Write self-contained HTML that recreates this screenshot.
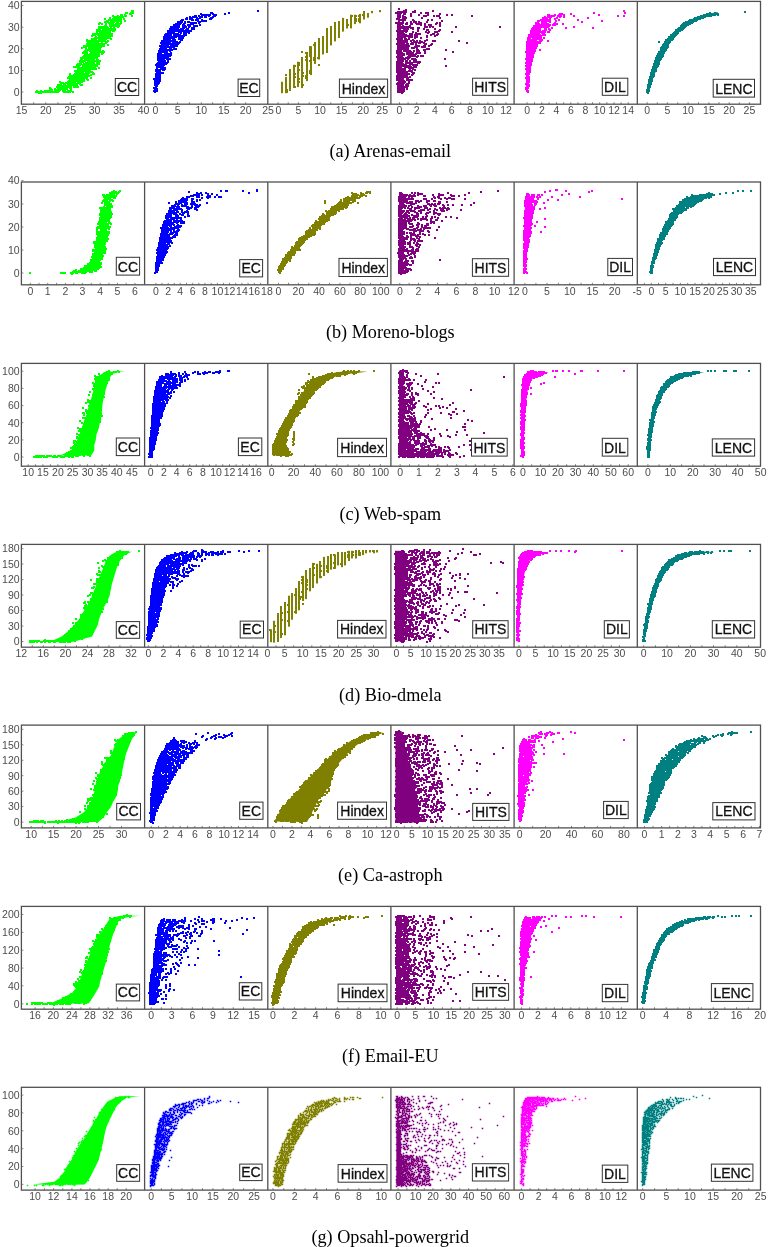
<!DOCTYPE html>
<html><head><meta charset="utf-8"><title>Figure</title>
<style>
html,body{margin:0;padding:0;background:#fff;width:770px;height:1247px;overflow:hidden}
svg{display:block}
.tk{font-family:"Liberation Sans",Arial,sans-serif;font-size:10.5px;fill:#4d4d4d}
.lg{font-family:"Liberation Sans",Arial,sans-serif;font-size:14px;fill:#111;stroke:#111;stroke-width:0.3}
.cap{font-family:"Liberation Serif","Times New Roman",serif;font-size:18.2px;fill:#000}
.fr{fill:none;stroke:#505050;stroke-width:1.3}
.tm{fill:none;stroke:#666;stroke-width:0.8}
</style></head><body>
<svg width="770" height="1247" viewBox="0 0 770 1247">
<rect width="100%" height="100%" fill="#fff"/>
<g><path d="M132 11h0m1 0h0m-1 1h0m1 0h0m-7 1h0m1 0h0m4 0h0m2 0h0m-3 1h0m1 0h0m-10 1h0m1 0h0m3 0h0m-12 1h0m5 0h0m3 0h0m4 0h0m1 0h0m6 0h0m-17 1h0m2 0h0m2 0h0m1 0h0m1 0h0m2 0h0m-13 1h0m4 0h0m1 0h0m3 0h0m-13 1h0m8 0h0m4 0h0m2 0h0m2 0h0m3 0h0m-15 1h0m1 0h0m1 0h0m3 0h0m1 0h0m2 0h0m-10 1h0m5 0h0m3 0h0m4 0h0m1 0h0m1 0h0m4 0h0m-20 1h0m3 0h0m3 0h0m1 0h0m2 0h0m3 0h0m-17 1h0m6 0h0m3 0h0m2 0h0m1 0h0m5 0h0m1 0h0m3 0h0m-22 1h0m3 0h0m8 0h0m1 0h0m1 0h0m1 0h0m3 0h0m4 0h0m-14 1h0m6 0h0m3 0h0m2 0h0m2 0h0m-14 1h0m1 0h0m4 0h0m3 0h0m1 0h0m2 0h0m1 0h0m2 0h0m-20 1h0m2 0h0m2 0h0m1 0h0m1 0h0m2 0h0m4 0h0m7 0h0m-19 1h0m1 0h0m1 0h0m2 0h0m1 0h0m1 0h0m3 0h0m3 0h0m3 0h0m-15 1h0m4 0h0m4 0h0m1 0h0m1 0h0m2 0h0m2 0h0m1 0h0m1 0h0m-18 1h0m1 0h0m1 0h0m1 0h0m3 0h0m2 0h0m1 0h0m1 0h0m2 0h0m1 0h0m2 0h0m3 0h0m-18 1h0m1 0h0m2 0h0m1 0h0m1 0h0m2 0h0m1 0h0m1 0h0m2 0h0m1 0h0m1 0h0m3 0h0m1 0h0m-14 1h0m1 0h0m2 0h0m3 0h0m1 0h0m1 0h0m-11 1h0m7 0h0m1 0h0m1 0h0m3 0h0m1 0h0m-17 1h0m2 0h0m2 0h0m2 0h0m2 0h0m1 0h0m2 0h0m1 0h0m3 0h0m1 0h0m1 0h0m2 0h0m-18 1h0m1 0h0m3 0h0m4 0h0m2 0h0m1 0h0m1 0h0m1 0h0m3 0h0m2 0h0m-20 1h0m7 0h0m2 0h0m1 0h0m2 0h0m4 0h0m4 0h0m-16 1h0m3 0h0m2 0h0m2 0h0m1 0h0m2 0h0m2 0h0m1 0h0m1 0h0m-15 1h0m1 0h0m1 0h0m1 0h0m1 0h0m9 0h0m1 0h0m-17 1h0m2 0h0m1 0h0m4 0h0m1 0h0m2 0h0m2 0h0m2 0h0m5 0h0m-24 1h0m9 0h0m3 0h0m3 0h0m2 0h0m1 0h0m-18 1h0m2 0h0m1 0h0m2 0h0m2 0h0m1 0h0m1 0h0m2 0h0m2 0h0m1 0h0m3 0h0m1 0h0m3 0h0m-20 1h0m2 0h0m2 0h0m2 0h0m2 0h0m1 0h0m1 0h0m4 0h0m5 0h0m-15 1h0m1 0h0m2 0h0m1 0h0m1 0h0m5 0h0m4 0h0m-19 1h0m1 0h0m1 0h0m1 0h0m1 0h0m4 0h0m1 0h0m2 0h0m2 0h0m1 0h0m3 0h0m-16 1h0m4 0h0m1 0h0m1 0h0m1 0h0m3 0h0m2 0h0m3 0h0m5 0h0m-24 1h0m1 0h0m2 0h0m2 0h0m2 0h0m1 0h0m1 0h0m2 0h0m1 0h0m1 0h0m1 0h0m4 0h0m1 0h0m1 0h0m-20 1h0m1 0h0m4 0h0m1 0h0m1 0h0m1 0h0m1 0h0m1 0h0m1 0h0m1 0h0m1 0h0m1 0h0m2 0h0m1 0h0m-19 1h0m4 0h0m4 0h0m3 0h0m2 0h0m2 0h0m1 0h0m1 0h0m-10 1h0m1 0h0m2 0h0m1 0h0m1 0h0m1 0h0m1 0h0m1 0h0m3 0h0m-14 1h0m1 0h0m2 0h0m3 0h0m2 0h0m3 0h0m1 0h0m-13 1h0m5 0h0m2 0h0m1 0h0m1 0h0m1 0h0m2 0h0m1 0h0m2 0h0m3 0h0m-19 1h0m1 0h0m2 0h0m4 0h0m1 0h0m1 0h0m1 0h0m1 0h0m1 0h0m2 0h0m3 0h0m1 0h0m2 0h0m-21 1h0m9 0h0m1 0h0m1 0h0m1 0h0m4 0h0m4 0h0m-18 1h0m1 0h0m1 0h0m3 0h0m2 0h0m1 0h0m3 0h0m1 0h0m1 0h0m1 0h0m3 0h0m-17 1h0m1 0h0m3 0h0m1 0h0m1 0h0m1 0h0m2 0h0m3 0h0m1 0h0m-14 1h0m3 0h0m1 0h0m3 0h0m2 0h0m2 0h0m1 0h0m2 0h0m1 0h0m-16 1h0m3 0h0m1 0h0m1 0h0m1 0h0m1 0h0m1 0h0m1 0h0m1 0h0m1 0h0m1 0h0m2 0h0m-16 1h0m1 0h0m1 0h0m2 0h0m2 0h0m1 0h0m1 0h0m1 0h0m3 0h0m2 0h0m-14 1h0m4 0h0m1 0h0m1 0h0m2 0h0m2 0h0m3 0h0m3 0h0m-15 1h0m5 0h0m1 0h0m1 0h0m3 0h0m1 0h0m1 0h0m3 0h0m1 0h0m-18 1h0m2 0h0m1 0h0m1 0h0m1 0h0m3 0h0m2 0h0m1 0h0m3 0h0m1 0h0m5 0h0m-17 1h0m5 0h0m1 0h0m1 0h0m1 0h0m1 0h0m5 0h0m2 0h0m-19 1h0m1 0h0m5 0h0m1 0h0m2 0h0m1 0h0m1 0h0m1 0h0m1 0h0m1 0h0m-16 1h0m3 0h0m3 0h0m1 0h0m1 0h0m1 0h0m2 0h0m1 0h0m2 0h0m5 0h0m2 0h0m-22 1h0m3 0h0m3 0h0m3 0h0m1 0h0m1 0h0m1 0h0m1 0h0m2 0h0m2 0h0m1 0h0m2 0h0m-19 1h0m1 0h0m4 0h0m1 0h0m1 0h0m1 0h0m3 0h0m1 0h0m2 0h0m1 0h0m1 0h0m3 0h0m-23 1h0m2 0h0m2 0h0m1 0h0m4 0h0m1 0h0m1 0h0m1 0h0m2 0h0m2 0h0m2 0h0m1 0h0m1 0h0m1 0h0m-15 1h0m1 0h0m2 0h0m1 0h0m1 0h0m1 0h0m1 0h0m1 0h0m3 0h0m2 0h0m6 0h0m-21 1h0m2 0h0m1 0h0m2 0h0m3 0h0m2 0h0m1 0h0m1 0h0m2 0h0m2 0h0m1 0h0m1 0h0m-18 1h0m3 0h0m3 0h0m1 0h0m2 0h0m1 0h0m1 0h0m-14 1h0m1 0h0m3 0h0m1 0h0m2 0h0m1 0h0m1 0h0m2 0h0m1 0h0m3 0h0m-14 1h0m1 0h0m2 0h0m1 0h0m1 0h0m1 0h0m1 0h0m3 0h0m2 0h0m1 0h0m1 0h0m2 0h0m-15 1h0m1 0h0m2 0h0m3 0h0m3 0h0m1 0h0m2 0h0m4 0h0m-23 1h0m5 0h0m2 0h0m4 0h0m1 0h0m2 0h0m1 0h0m1 0h0m1 0h0m6 0h0m1 0h0m-24 1h0m4 0h0m1 0h0m1 0h0m1 0h0m1 0h0m2 0h0m1 0h0m2 0h0m1 0h0m4 0h0m3 0h0m-19 1h0m1 0h0m1 0h0m1 0h0m2 0h0m3 0h0m1 0h0m1 0h0m1 0h0m3 0h0m1 0h0m1 0h0m1 0h0m-20 1h0m2 0h0m2 0h0m2 0h0m1 0h0m3 0h0m1 0h0m1 0h0m1 0h0m2 0h0m1 0h0m2 0h0m-19 1h0m2 0h0m1 0h0m1 0h0m1 0h0m1 0h0m1 0h0m1 0h0m2 0h0m2 0h0m2 0h0m1 0h0m2 0h0m2 0h0m4 0h0m-21 1h0m5 0h0m1 0h0m2 0h0m3 0h0m3 0h0m3 0h0m-17 1h0m1 0h0m2 0h0m1 0h0m1 0h0m1 0h0m1 0h0m1 0h0m2 0h0m2 0h0m1 0h0m5 0h0m-19 1h0m4 0h0m1 0h0m2 0h0m1 0h0m3 0h0m2 0h0m1 0h0m1 0h0m-24 1h0m8 0h0m1 0h0m2 0h0m2 0h0m1 0h0m1 0h0m3 0h0m2 0h0m1 0h0m1 0h0m-21 1h0m2 0h0m3 0h0m2 0h0m1 0h0m1 0h0m1 0h0m1 0h0m1 0h0m1 0h0m4 0h0m1 0h0m1 0h0m-16 1h0m1 0h0m3 0h0m1 0h0m1 0h0m1 0h0m1 0h0m1 0h0m3 0h0m1 0h0m3 0h0m-22 1h0m1 0h0m2 0h0m3 0h0m1 0h0m3 0h0m2 0h0m1 0h0m1 0h0m1 0h0m2 0h0m6 0h0m1 0h0m-22 1h0m3 0h0m1 0h0m3 0h0m2 0h0m1 0h0m1 0h0m6 0h0m-20 1h0m1 0h0m2 0h0m2 0h0m1 0h0m1 0h0m2 0h0m1 0h0m1 0h0m1 0h0m2 0h0m3 0h0m2 0h0m2 0h0m-28 1h0m8 0h0m2 0h0m1 0h0m2 0h0m1 0h0m1 0h0m1 0h0m1 0h0m3 0h0m-19 1h0m4 0h0m3 0h0m2 0h0m1 0h0m1 0h0m1 0h0m3 0h0m1 0h0m4 0h0m-21 1h0m2 0h0m3 0h0m1 0h0m2 0h0m1 0h0m1 0h0m5 0h0m-28 1h0m4 0h0m4 0h0m2 0h0m2 0h0m1 0h0m2 0h0m3 0h0m2 0h0m1 0h0m1 0h0m4 0h0m5 0h0m2 0h0m1 0h0m-35 1h0m1 0h0m2 0h0m2 0h0m1 0h0m1 0h0m1 0h0m2 0h0m1 0h0m2 0h0m2 0h0m1 0h0m1 0h0m1 0h0m2 0h0m1 0h0m1 0h0m6 0h0m1 0h0m1 0h0m1 0h0m1 0h0m1 0h0m1 0h0m3 0h0m-34 1h0m2 0h0" stroke="#00ff00" stroke-width="2" stroke-linecap="square" fill="none"/><rect x="115.3" y="78.5" width="23.4" height="17" fill="#fff" stroke="#333" stroke-width="1"/><text x="127" y="91.9" class="lg" text-anchor="middle">CC</text><text x="21.6" y="114.1" class="tk" text-anchor="middle">15</text><text x="45.8" y="114.1" class="tk" text-anchor="middle">20</text><text x="70.2" y="114.1" class="tk" text-anchor="middle">25</text><text x="94.6" y="114.1" class="tk" text-anchor="middle">30</text><text x="119" y="114.1" class="tk" text-anchor="middle">35</text><text x="143.6" y="114.1" class="tk" text-anchor="middle">40</text><path d="M45.8 104.2v-2" class="tm"/><path d="M70.2 104.2v-2" class="tm"/><path d="M94.6 104.2v-2" class="tm"/><path d="M119 104.2v-2" class="tm"/><path d="M33.7 104.2v-2" class="tm"/><path d="M58 104.2v-2" class="tm"/><path d="M82.4 104.2v-2" class="tm"/><path d="M106.8 104.2v-2" class="tm"/><path d="M131.3 104.2v-2" class="tm"/><path d="M258 11h0m-47 2h0m1 0h0m17 0h0m-28 1h0m12 0h0m12 0h0m-23 1h0m1 0h0m2 0h0m1 0h0m2 0h0m2 0h0m4 0h0m2 0h0m-21 1h0m1 0h0m3 0h0m3 0h0m4 0h0m3 0h0m6 0h0m-25 1h0m3 0h0m2 0h0m5 0h0m2 0h0m3 0h0m1 0h0m7 0h0m-26 1h0m5 0h0m5 0h0m3 0h0m11 0h0m1 0h0m-26 1h0m1 0h0m3 0h0m8 0h0m12 0h0m1 0h0m-29 1h0m1 0h0m9 0h0m1 0h0m3 0h0m6 0h0m-21 1h0m1 0h0m16 0h0m4 0h0m2 0h0m2 0h0m-28 1h0m1 0h0m1 0h0m2 0h0m3 0h0m3 0h0m1 0h0m10 0h0m1 0h0m-22 1h0m3 0h0m4 0h0m6 0h0m1 0h0m2 0h0m2 0h0m3 0h0m-23 1h0m3 0h0m1 0h0m4 0h0m7 0h0m2 0h0m-19 1h0m2 0h0m1 0h0m6 0h0m1 0h0m4 0h0m1 0h0m11 0h0m-26 1h0m2 0h0m1 0h0m2 0h0m4 0h0m2 0h0m5 0h0m4 0h0m1 0h0m1 0h0m1 0h0m-26 1h0m2 0h0m3 0h0m2 0h0m1 0h0m4 0h0m3 0h0m3 0h0m5 0h0m-22 1h0m1 0h0m1 0h0m1 0h0m1 0h0m2 0h0m5 0h0m1 0h0m8 0h0m-22 1h0m1 0h0m1 0h0m1 0h0m3 0h0m2 0h0m3 0h0m1 0h0m1 0h0m4 0h0m1 0h0m4 0h0m1 0h0m1 0h0m-23 1h0m3 0h0m2 0h0m3 0h0m7 0h0m-18 1h0m1 0h0m2 0h0m2 0h0m1 0h0m1 0h0m1 0h0m1 0h0m2 0h0m2 0h0m1 0h0m2 0h0m4 0h0m1 0h0m2 0h0m-23 1h0m1 0h0m2 0h0m1 0h0m1 0h0m1 0h0m5 0h0m6 0h0m2 0h0m-19 1h0m3 0h0m1 0h0m1 0h0m8 0h0m3 0h0m2 0h0m3 0h0m-23 1h0m1 0h0m2 0h0m1 0h0m1 0h0m3 0h0m2 0h0m1 0h0m1 0h0m8 0h0m-21 1h0m1 0h0m1 0h0m2 0h0m1 0h0m1 0h0m3 0h0m2 0h0m1 0h0m2 0h0m1 0h0m4 0h0m2 0h0m-21 1h0m1 0h0m1 0h0m1 0h0m2 0h0m1 0h0m5 0h0m1 0h0m2 0h0m1 0h0m2 0h0m1 0h0m1 0h0m-20 1h0m1 0h0m1 0h0m1 0h0m2 0h0m1 0h0m1 0h0m1 0h0m1 0h0m1 0h0m2 0h0m3 0h0m-15 1h0m1 0h0m1 0h0m1 0h0m5 0h0m2 0h0m7 0h0m2 0h0m-19 1h0m1 0h0m2 0h0m1 0h0m1 0h0m1 0h0m4 0h0m5 0h0m-15 1h0m1 0h0m1 0h0m2 0h0m2 0h0m3 0h0m2 0h0m6 0h0m1 0h0m-20 1h0m1 0h0m1 0h0m1 0h0m1 0h0m1 0h0m1 0h0m3 0h0m2 0h0m1 0h0m-10 1h0m1 0h0m1 0h0m1 0h0m1 0h0m1 0h0m1 0h0m3 0h0m2 0h0m1 0h0m1 0h0m3 0h0m-19 1h0m1 0h0m3 0h0m1 0h0m2 0h0m2 0h0m3 0h0m2 0h0m1 0h0m1 0h0m2 0h0m-17 1h0m1 0h0m1 0h0m1 0h0m2 0h0m1 0h0m1 0h0m1 0h0m1 0h0m3 0h0m2 0h0m2 0h0m-16 1h0m1 0h0m2 0h0m6 0h0m1 0h0m2 0h0m2 0h0m-16 1h0m1 0h0m1 0h0m2 0h0m3 0h0m1 0h0m8 0h0m1 0h0m-16 1h0m4 0h0m1 0h0m1 0h0m2 0h0m1 0h0m1 0h0m1 0h0m1 0h0m1 0h0m-13 1h0m2 0h0m1 0h0m2 0h0m5 0h0m-11 1h0m1 0h0m1 0h0m1 0h0m1 0h0m1 0h0m1 0h0m4 0h0m1 0h0m3 0h0m1 0h0m1 0h0m-15 1h0m1 0h0m1 0h0m4 0h0m1 0h0m1 0h0m1 0h0m2 0h0m-13 1h0m1 0h0m3 0h0m1 0h0m1 0h0m2 0h0m3 0h0m-11 1h0m2 0h0m2 0h0m2 0h0m-6 1h0m1 0h0m1 0h0m6 0h0m4 0h0m-13 1h0m3 0h0m4 0h0m1 0h0m2 0h0m1 0h0m1 0h0m1 0h0m-12 1h0m2 0h0m1 0h0m1 0h0m1 0h0m1 0h0m1 0h0m5 0h0m-13 1h0m1 0h0m3 0h0m1 0h0m3 0h0m2 0h0m1 0h0m1 0h0m-12 1h0m1 0h0m2 0h0m1 0h0m2 0h0m1 0h0m3 0h0m-8 1h0m1 0h0m2 0h0m1 0h0m1 0h0m1 0h0m1 0h0m1 0h0m-10 1h0m1 0h0m4 0h0m1 0h0m3 0h0m1 0h0m1 0h0m1 0h0m-12 1h0m1 0h0m2 0h0m2 0h0m1 0h0m4 0h0m-8 1h0m1 0h0m3 0h0m1 0h0m-6 1h0m3 0h0m1 0h0m2 0h0m3 0h0m-10 1h0m1 0h0m1 0h0m2 0h0m1 0h0m2 0h0m2 0h0m-10 1h0m1 0h0m1 0h0m1 0h0m1 0h0m3 0h0m2 0h0m-10 1h0m1 0h0m1 0h0m1 0h0m1 0h0m1 0h0m1 0h0m2 0h0m-6 1h0m2 0h0m1 0h0m1 0h0m-5 1h0m1 0h0m1 0h0m2 0h0m2 0h0m-6 1h0m7 0h0m1 0h0m-8 1h0m4 0h0m1 0h0m1 0h0m2 0h0m-9 1h0m1 0h0m1 0h0m1 0h0m1 0h0m3 0h0m1 0h0m-8 1h0m1 1h0m1 0h0m1 0h0m1 0h0m-3 1h0m2 0h0m2 0h0m1 0h0m1 0h0m-7 1h0m2 0h0m1 0h0m1 0h0m-3 1h0m1 0h0m1 0h0m1 0h0m-4 1h0m1 0h0m2 0h0m1 0h0m-4 1h0m3 0h0m-3 1h0m1 0h0m1 0h0m1 0h0m1 0h0m-6 1h0m1 0h0m1 0h0m1 0h0m2 0h0m1 0h0m-5 1h0m1 0h0m1 0h0m3 0h0m-5 1h0m1 0h0m1 0h0m1 0h0m2 0h0m-5 1h0m1 0h0m1 0h0m2 0h0m-4 1h0m1 0h0m3 0h0m-4 1h0m3 0h0m-3 1h0m1 0h0m0 1h0m1 0h0m-3 2h0m1 0h0m1 0h0m0 1h0m1 0h0m-2 1h0m1 0h0m-2 1h0m1 0h0m1 0h0m1 0h0m-2 1h0" stroke="#0000ff" stroke-width="2" stroke-linecap="square" fill="none"/><rect x="238.1" y="79.1" width="21.6" height="17.4" fill="#fff" stroke="#333" stroke-width="1"/><text x="248.9" y="92.9" class="lg" text-anchor="middle">EC</text><text x="155.5" y="114.1" class="tk" text-anchor="middle">0</text><text x="177.6" y="114.1" class="tk" text-anchor="middle">5</text><text x="201.3" y="114.1" class="tk" text-anchor="middle">10</text><text x="223.8" y="114.1" class="tk" text-anchor="middle">15</text><text x="245.7" y="114.1" class="tk" text-anchor="middle">20</text><text x="268" y="114.1" class="tk" text-anchor="middle">25</text><path d="M155.5 104.2v-2" class="tm"/><path d="M177.6 104.2v-2" class="tm"/><path d="M201.3 104.2v-2" class="tm"/><path d="M223.8 104.2v-2" class="tm"/><path d="M245.7 104.2v-2" class="tm"/><path d="M166.6 104.2v-2" class="tm"/><path d="M189.4 104.2v-2" class="tm"/><path d="M212.6 104.2v-2" class="tm"/><path d="M234.8 104.2v-2" class="tm"/><rect x="281" y="81.8" width="2" height="11.4" fill="#808000"/><rect x="285" y="76.9" width="2" height="16.3" fill="#808000"/><rect x="289" y="69.7" width="2" height="21.3" fill="#808000"/><rect x="293" y="64.8" width="2" height="23.2" fill="#808000"/><rect x="297" y="61.7" width="2" height="25.4" fill="#808000"/><rect x="301" y="57.1" width="2" height="31" fill="#808000"/><rect x="306" y="51.9" width="2" height="29.2" fill="#808000"/><rect x="310" y="46.2" width="2" height="28.9" fill="#808000"/><rect x="314" y="42.4" width="2" height="21.5" fill="#808000"/><rect x="318" y="38.6" width="2" height="20.9" fill="#808000"/><rect x="322" y="36" width="2" height="18.4" fill="#808000"/><rect x="326" y="28.6" width="2" height="24.1" fill="#808000"/><rect x="330" y="26" width="2" height="19.4" fill="#808000"/><rect x="334" y="22.5" width="2" height="18.9" fill="#808000"/><rect x="338" y="21.7" width="2" height="16.3" fill="#808000"/><rect x="342" y="17.9" width="2" height="13.7" fill="#808000"/><rect x="346" y="19.1" width="2" height="9.4" fill="#808000"/><rect x="350" y="14.7" width="2" height="13.7" fill="#808000"/><rect x="354" y="14.7" width="2" height="9.4" fill="#808000"/><rect x="359" y="13.9" width="2" height="9.4" fill="#808000"/><rect x="363" y="11.3" width="2" height="8.2" fill="#808000"/><rect x="367" y="13" width="2" height="4.7" fill="#808000"/><rect x="371" y="10.9" width="2" height="2.3" fill="#808000"/><rect x="379" y="10.4" width="2" height="1.8" fill="#808000"/><path d="M380 11h0m-16 1h0m8 0h0m-4 2h0m-8 1h0m3 0h0m-11 1h0m4 0h0m3 0h0m-8 2h0m13 0h0m-21 1h0m13 0h0m3 0h0m-12 1h0m4 0h0m5 1h0m3 0h0m-20 1h0m4 0h0m4 0h0m-12 1h0m16 0h0m-8 1h0m-4 1h0m9 0h0m3 1h0m-20 1h0m4 0h0m8 0h0m4 0h0m-8 1h0m-12 1h0m4 0h0m12 0h0m-12 1h0m4 0h0m-8 2h0m8 0h0m4 0h0m-8 2h0m4 0h0m4 0h0m-12 1h0m12 1h0m-16 1h0m8 0h0m4 0h0m-8 1h0m-8 1h0m12 0h0m4 0h0m-12 1h0m4 1h0m-8 1h0m4 0h0m8 0h0m-16 1h0m12 0h0m-8 1h0m12 0h0m-17 1h0m9 1h0m4 0h0m-17 1h0m5 1h0m4 0h0m4 0h0m-13 1h0m17 0h0m-17 1h0m5 0h0m8 0h0m-4 1h0m-17 1h0m8 0h0m5 0h0m8 0h0m4 0h0m-21 1h0m4 1h0m9 0h0m-12 1h0m8 0h0m-5 1h0m9 0h0m-13 1h0m-4 1h0m12 0h0m4 0h0m-7 1h0m-9 1h0m4 0h0m8 0h0m-4 1h0m-8 1h0m5 0h0m-8 1h0m12 0h0m-12 2h0m3 0h0m5 0h0m4 0h0m8 0h0m-24 1h0m3 1h0m4 0h0m5 1h0m-13 1h0m13 0h0m4 0h0m-21 1h0m9 0h0m3 0h0m-8 1h0m16 0h0m-20 1h0m17 0h0m-9 1h0m5 0h0m7 0h0m-15 1h0m-9 1h0m4 0h0m8 1h0m5 0h0m3 0h0m-11 1h0m-9 1h0m4 0h0m4 0h0m12 0h0m-20 1h0m13 0h0m3 0h0m-12 1h0m4 1h0m-4 1h0m9 0h0m3 0h0m-20 1h0m4 0h0m-4 1h0m8 0h0m4 0h0m4 0h0m-12 1h0m17 0h0m-21 1h0m8 0h0m5 1h0m7 0h0m-20 1h0m4 0h0m4 1h0m-3 1h0m-5 1h0m5 1h0" stroke="#808000" stroke-width="2" stroke-linecap="square" fill="none"/><rect x="339.4" y="79.1" width="48.2" height="18.3" fill="#fff" stroke="#333" stroke-width="1"/><text x="363.5" y="93.8" class="lg" text-anchor="middle">Hindex</text><text x="278.4" y="114.1" class="tk" text-anchor="middle">0</text><text x="298.4" y="114.1" class="tk" text-anchor="middle">5</text><text x="320" y="114.1" class="tk" text-anchor="middle">10</text><text x="341.6" y="114.1" class="tk" text-anchor="middle">15</text><text x="363.2" y="114.1" class="tk" text-anchor="middle">20</text><text x="382.2" y="114.1" class="tk" text-anchor="middle">25</text><path d="M278 104.2v-2" class="tm"/><path d="M298.4 104.2v-2" class="tm"/><path d="M320 104.2v-2" class="tm"/><path d="M341.6 104.2v-2" class="tm"/><path d="M363.2 104.2v-2" class="tm"/><path d="M382.2 104.2v-2" class="tm"/><path d="M288.2 104.2v-2" class="tm"/><path d="M309.2 104.2v-2" class="tm"/><path d="M330.8 104.2v-2" class="tm"/><path d="M352.4 104.2v-2" class="tm"/><path d="M372.7 104.2v-2" class="tm"/><polygon points="398.4,60.4 398.4,92.4 402.9,92.4 401.5,60.4" fill="#800080"/><path d="M399 9h0m7 1h0m-2 1h0m11 0h0m18 0h0m-35 1h0m1 0h0m1 0h0m2 0h0m2 0h0m2 0h0m7 0h0m2 0h0m-19 1h0m2 0h0m2 0h0m1 0h0m3 0h0m1 0h0m16 0h0m5 0h0m2 0h0m-29 1h0m5 0h0m1 0h0m6 0h0m29 0h0m-42 1h0m1 0h0m1 0h0m19 0h0m9 0h0m19 0h0m5 0h0m-54 1h0m1 0h0m4 0h0m8 0h0m13 0h0m2 0h0m8 0h0m3 0h0m2 0h0m33 0h0m-73 1h0m1 0h0m5 0h0m-7 1h0m1 0h0m4 0h0m1 0h0m2 0h0m16 0h0m18 0h0m-43 1h0m1 0h0m5 0h0m-4 1h0m1 0h0m2 0h0m1 0h0m2 0h0m8 0h0m15 0h0m4 0h0m-33 1h0m4 0h0m11 0h0m28 0h0m-31 1h0m3 0h0m2 0h0m3 0h0m8 0h0m-31 1h0m1 0h0m1 0h0m2 0h0m2 0h0m1 0h0m4 0h0m9 0h0m5 0h0m16 0h0m3 0h0m-41 1h0m1 0h0m2 0h0m4 0h0m1 0h0m4 0h0m1 0h0m5 0h0m1 0h0m2 0h0m5 0h0m11 0h0m4 0h0m-42 1h0m1 0h0m22 0h0m8 0h0m2 0h0m-33 1h0m1 0h0m1 0h0m3 0h0m7 0h0m15 0h0m6 0h0m9 0h0m-41 1h0m1 0h0m1 0h0m3 0h0m1 0h0m2 0h0m2 0h0m16 0h0m2 0h0m3 0h0m3 0h0m23 0h0m44 0h0m-102 1h0m1 0h0m1 0h0m1 0h0m1 0h0m3 0h0m2 0h0m4 0h0m2 0h0m5 0h0m1 0h0m-20 1h0m1 0h0m4 0h0m3 0h0m1 0h0m5 0h0m5 0h0m6 0h0m11 0h0m-37 1h0m1 0h0m1 0h0m4 0h0m1 0h0m13 0h0m9 0h0m1 0h0m12 0h0m-43 1h0m1 0h0m1 0h0m1 0h0m1 0h0m1 0h0m3 0h0m1 0h0m1 0h0m11 0h0m21 0h0m-41 1h0m1 0h0m2 0h0m1 0h0m1 0h0m3 0h0m7 0h0m13 0h0m3 0h0m6 0h0m2 0h0m15 0h0m-54 1h0m1 0h0m1 0h0m1 0h0m15 0h0m12 0h0m-30 1h0m2 0h0m1 0h0m1 0h0m2 0h0m6 0h0m2 0h0m5 0h0m1 0h0m2 0h0m13 0h0m1 0h0m4 0h0m-40 1h0m2 0h0m1 0h0m1 0h0m2 0h0m2 0h0m4 0h0m5 0h0m2 0h0m14 0h0m6 0h0m-39 1h0m1 0h0m2 0h0m3 0h0m3 0h0m1 0h0m4 0h0m3 0h0m12 0h0m8 0h0m-37 1h0m1 0h0m1 0h0m1 0h0m1 0h0m1 0h0m1 0h0m1 0h0m5 0h0m2 0h0m4 0h0m1 0h0m10 0h0m-29 1h0m1 0h0m1 0h0m1 0h0m1 0h0m7 0h0m6 0h0m6 0h0m-24 1h0m1 0h0m2 0h0m1 0h0m1 0h0m3 0h0m1 0h0m3 0h0m-11 1h0m1 0h0m1 0h0m1 0h0m4 0h0m1 0h0m1 0h0m6 0h0m14 0h0m-29 1h0m1 0h0m1 0h0m2 0h0m1 0h0m1 0h0m2 0h0m1 0h0m4 0h0m3 0h0m3 0h0m3 0h0m5 0h0m8 0h0m2 0h0m24 0h0m-61 1h0m1 0h0m1 0h0m1 0h0m2 0h0m1 0h0m2 0h0m1 0h0m7 0h0m1 0h0m2 0h0m5 0h0m-24 1h0m1 0h0m1 0h0m2 0h0m2 0h0m8 0h0m4 0h0m3 0h0m1 0h0m4 0h0m43 0h0m-70 1h0m1 0h0m1 0h0m3 0h0m5 0h0m1 0h0m3 0h0m2 0h0m13 0h0m6 0h0m-33 1h0m2 0h0m2 0h0m1 0h0m1 0h0m11 0h0m9 0h0m6 0h0m-33 1h0m1 0h0m1 0h0m2 0h0m3 0h0m2 0h0m1 0h0m1 0h0m8 0h0m2 0h0m5 0h0m5 0h0m-31 1h0m3 0h0m2 0h0m1 0h0m4 0h0m7 0h0m2 0h0m5 0h0m2 0h0m1 0h0m-27 1h0m1 0h0m1 0h0m1 0h0m2 0h0m1 0h0m2 0h0m6 0h0m2 0h0m3 0h0m-19 1h0m1 0h0m1 0h0m1 0h0m1 0h0m1 0h0m4 0h0m1 0h0m9 0h0m10 0h0m2 0h0m-31 1h0m1 0h0m1 0h0m1 0h0m3 0h0m1 0h0m12 0h0m1 0h0m6 0h0m1 0h0m21 0h0m-49 1h0m1 0h0m1 0h0m1 0h0m4 0h0m1 0h0m1 0h0m1 0h0m2 0h0m1 0h0m4 0h0m5 0h0m-22 1h0m1 0h0m1 0h0m1 0h0m1 0h0m6 0h0m1 0h0m1 0h0m2 0h0m6 0h0m8 0h0m28 0h0m-56 1h0m2 0h0m1 0h0m1 0h0m1 0h0m5 0h0m6 0h0m4 0h0m1 0h0m2 0h0m5 0h0m-27 1h0m1 0h0m1 0h0m4 0h0m3 0h0m1 0h0m1 0h0m2 0h0m2 0h0m3 0h0m-18 1h0m1 0h0m1 0h0m1 0h0m2 0h0m1 0h0m5 0h0m6 0h0m-17 1h0m1 0h0m1 0h0m1 0h0m1 0h0m8 0h0m1 0h0m2 0h0m2 0h0m3 0h0m3 0h0m2 0h0m-26 1h0m1 0h0m1 0h0m9 0h0m2 0h0m7 0h0m-19 1h0m1 0h0m2 0h0m1 0h0m1 0h0m3 0h0m2 0h0m1 0h0m-11 1h0m1 0h0m1 0h0m1 0h0m2 0h0m2 0h0m3 0h0m4 0h0m1 0h0m1 0h0m1 0h0m30 0h0m-47 1h0m1 0h0m3 0h0m14 0h0m-18 1h0m1 0h0m1 0h0m1 0h0m1 0h0m1 0h0m3 0h0m1 0h0m3 0h0m4 0h0m1 0h0m1 0h0m-19 1h0m1 0h0m1 0h0m1 0h0m1 0h0m13 0h0m1 0h0m1 0h0m2 0h0m2 0h0m-23 1h0m1 0h0m1 0h0m1 0h0m1 0h0m1 0h0m4 0h0m2 0h0m1 0h0m2 0h0m1 0h0m6 0h0m1 0h0m-21 1h0m1 0h0m2 0h0m2 0h0m3 0h0m5 0h0m1 0h0m-15 1h0m1 0h0m1 0h0m1 0h0m1 0h0m1 0h0m2 0h0m2 0h0m4 0h0m3 0h0m1 0h0m1 0h0m2 0h0m-20 1h0m1 0h0m1 0h0m1 0h0m1 0h0m1 0h0m2 0h0m2 0h0m2 0h0m38 0h0m-48 1h0m1 0h0m1 0h0m1 0h0m5 0h0m1 0h0m2 0h0m1 0h0m1 0h0m3 0h0m1 0h0m1 0h0m-19 1h0m2 0h0m1 0h0m1 0h0m4 0h0m4 0h0m1 0h0m1 0h0m1 0h0m-15 1h0m1 0h0m1 0h0m1 0h0m1 0h0m1 0h0m1 0h0m2 0h0m5 0h0m3 0h0m-15 1h0m1 0h0m1 0h0m1 0h0m1 0h0m13 0h0m-18 1h0m1 0h0m1 0h0m1 0h0m1 0h0m2 0h0m2 0h0m4 0h0m1 0h0m2 0h0m-15 1h0m2 0h0m1 0h0m2 0h0m1 0h0m2 0h0m2 0h0m5 0h0m-14 1h0m1 0h0m1 0h0m1 0h0m2 0h0m2 0h0m1 0h0m8 0h0m-16 1h0m1 0h0m1 0h0m1 0h0m1 0h0m1 0h0m2 0h0m2 0h0m1 0h0m1 0h0m4 0h0m-15 1h0m1 0h0m2 0h0m1 0h0m1 0h0m2 0h0m2 0h0m5 0h0m-15 1h0m1 0h0m1 0h0m1 0h0m1 0h0m1 0h0m2 0h0m-6 1h0m1 0h0m1 0h0m2 0h0m1 0h0m1 0h0m1 0h0m1 0h0m1 0h0m3 0h0m-13 1h0m1 0h0m1 0h0m1 0h0m1 0h0m1 0h0m1 0h0m5 0h0m-11 1h0m1 0h0m1 0h0m1 0h0m1 0h0m1 0h0m5 0h0m1 0h0m-11 1h0m1 0h0m1 0h0m1 0h0m1 0h0m1 0h0m1 0h0m4 0h0m2 0h0m2 0h0m1 0h0m-13 1h0m1 0h0m1 0h0m1 0h0m2 0h0m5 0h0m-10 1h0m1 0h0m1 0h0m1 0h0m1 0h0m1 0h0m1 0h0m-7 1h0m1 0h0m1 0h0m1 0h0m1 0h0m1 0h0m1 0h0m5 0h0m-12 1h0m1 0h0m1 0h0m1 0h0m1 0h0m1 0h0m1 0h0m4 0h0m1 0h0m-10 1h0m1 0h0m1 0h0m1 0h0m1 0h0m4 0h0m1 0h0m-9 1h0m1 0h0m1 0h0m1 0h0m1 0h0m1 0h0m3 0h0m2 0h0m-10 1h0m1 0h0m1 0h0m1 0h0m1 0h0m2 0h0m1 0h0m1 0h0m1 0h0m-9 1h0m1 0h0m1 0h0m1 0h0m1 0h0m1 0h0m-4 1h0m1 0h0m1 0h0m1 0h0m1 0h0m1 0h0m3 0h0m-9 1h0m1 0h0m1 0h0m1 0h0m1 0h0m1 0h0m-5 1h0m1 0h0m1 0h0m1 0h0m3 0h0m-6 1h0m1 0h0m1 0h0m1 0h0m1 0h0m1 0h0m-1 1h0" stroke="#800080" stroke-width="2" stroke-linecap="square" fill="none"/><rect x="472.6" y="78.2" width="35.1" height="17.1" fill="#fff" stroke="#333" stroke-width="1"/><text x="490.1" y="91.7" class="lg" text-anchor="middle">HITS</text><text x="399.5" y="114.1" class="tk" text-anchor="middle">0</text><text x="416.7" y="114.1" class="tk" text-anchor="middle">2</text><text x="434.9" y="114.1" class="tk" text-anchor="middle">4</text><text x="451.6" y="114.1" class="tk" text-anchor="middle">6</text><text x="469.8" y="114.1" class="tk" text-anchor="middle">8</text><text x="487.9" y="114.1" class="tk" text-anchor="middle">10</text><text x="506" y="114.1" class="tk" text-anchor="middle">12</text><path d="M399.5 104.2v-2" class="tm"/><path d="M416.7 104.2v-2" class="tm"/><path d="M434.9 104.2v-2" class="tm"/><path d="M451.6 104.2v-2" class="tm"/><path d="M469.8 104.2v-2" class="tm"/><path d="M487.9 104.2v-2" class="tm"/><path d="M506 104.2v-2" class="tm"/><path d="M408.1 104.2v-2" class="tm"/><path d="M425.8 104.2v-2" class="tm"/><path d="M443.2 104.2v-2" class="tm"/><path d="M460.7 104.2v-2" class="tm"/><path d="M478.9 104.2v-2" class="tm"/><path d="M496.9 104.2v-2" class="tm"/><path d="M624 11h0m-30 2h0m31 0h0m-65 1h0m2 0h0m9 0h0m-23 1h0m1 0h0m6 0h0m4 0h0m5 0h0m35 0h0m-51 1h0m3 0h0m1 0h0m2 0h0m4 0h0m3 0h0m3 0h0m10 0h0m44 0h0m6 0h0m-79 1h0m3 0h0m2 0h0m1 0h0m9 0h0m4 0h0m-21 1h0m2 0h0m1 0h0m1 0h0m10 0h0m31 0h0m-44 1h0m6 0h0m5 0h0m-14 1h0m1 0h0m1 0h0m1 0h0m1 0h0m2 0h0m1 0h0m11 0h0m19 0h0m-40 1h0m1 0h0m3 0h0m1 0h0m1 0h0m2 0h0m2 0h0m2 0h0m6 0h0m46 0h0m-60 1h0m1 0h0m2 0h0m1 0h0m4 0h0m32 0h0m-46 1h0m1 0h0m1 0h0m4 0h0m2 0h0m2 0h0m9 0h0m-19 1h0m1 0h0m2 0h0m3 0h0m1 0h0m1 0h0m2 0h0m2 0h0m6 0h0m3 0h0m6 0h0m-27 1h0m1 0h0m2 0h0m2 0h0m3 0h0m1 0h0m2 0h0m1 0h0m1 0h0m1 0h0m3 0h0m2 0h0m-21 1h0m1 0h0m1 0h0m6 0h0m2 0h0m1 0h0m4 0h0m-15 1h0m4 0h0m2 0h0m1 0h0m2 0h0m2 0h0m2 0h0m1 0h0m26 0h0m-41 1h0m1 0h0m1 0h0m1 0h0m1 0h0m2 0h0m6 0h0m1 0h0m6 0h0m14 0h0m27 0h0m-61 1h0m1 0h0m1 0h0m2 0h0m1 0h0m1 0h0m2 0h0m6 0h0m3 0h0m-17 1h0m1 0h0m1 0h0m1 0h0m1 0h0m2 0h0m7 0h0m1 0h0m4 0h0m-19 1h0m1 0h0m1 0h0m2 0h0m1 0h0m1 0h0m2 0h0m1 0h0m3 0h0m1 0h0m1 0h0m-14 1h0m1 0h0m1 0h0m7 0h0m2 0h0m1 0h0m2 0h0m3 0h0m1 0h0m-18 1h0m1 0h0m2 0h0m1 0h0m1 0h0m1 0h0m1 0h0m1 0h0m3 0h0m1 0h0m1 0h0m-13 1h0m1 0h0m1 0h0m1 0h0m2 0h0m1 0h0m7 0h0m-15 1h0m1 0h0m1 0h0m1 0h0m1 0h0m3 0h0m2 0h0m2 0h0m3 0h0m2 0h0m-16 1h0m1 0h0m1 0h0m1 0h0m2 0h0m1 0h0m3 0h0m3 0h0m-12 1h0m1 0h0m1 0h0m1 0h0m1 0h0m3 0h0m1 0h0m2 0h0m-11 1h0m1 0h0m1 0h0m3 0h0m1 0h0m2 0h0m2 0h0m3 0h0m3 0h0m-15 1h0m1 0h0m3 0h0m1 0h0m4 0h0m1 0h0m-11 1h0m1 0h0m1 0h0m1 0h0m1 0h0m3 0h0m1 0h0m4 0h0m1 0h0m1 0h0m-13 1h0m1 0h0m1 0h0m1 0h0m2 0h0m2 0h0m5 0h0m7 0h0m-21 1h0m3 0h0m1 0h0m1 0h0m1 0h0m1 0h0m1 0h0m2 0h0m1 0h0m1 0h0m-12 1h0m1 0h0m2 0h0m1 0h0m3 0h0m2 0h0m1 0h0m1 0h0m2 0h0m-13 1h0m1 0h0m1 0h0m1 0h0m1 0h0m1 0h0m3 0h0m-7 1h0m1 0h0m2 0h0m2 0h0m1 0h0m2 0h0m1 0h0m-10 1h0m1 0h0m2 0h0m1 0h0m2 0h0m3 0h0m1 0h0m-9 1h0m1 0h0m1 0h0m4 0h0m1 0h0m-8 1h0m2 0h0m2 0h0m1 0h0m2 0h0m2 0h0m-9 1h0m1 0h0m1 0h0m1 0h0m2 0h0m3 0h0m-8 1h0m2 0h0m2 0h0m1 0h0m1 0h0m1 0h0m1 0h0m5 0h0m-13 1h0m2 0h0m1 0h0m1 0h0m2 0h0m2 0h0m-9 1h0m1 0h0m1 0h0m3 0h0m2 0h0m-6 1h0m1 0h0m1 0h0m1 0h0m1 0h0m1 0h0m1 0h0m1 0h0m-7 1h0m1 0h0m1 0h0m1 0h0m1 0h0m-4 1h0m2 0h0m1 0h0m1 0h0m1 0h0m1 0h0m-6 1h0m1 0h0m1 0h0m1 0h0m1 0h0m1 0h0m-5 1h0m1 0h0m1 0h0m1 0h0m1 0h0m1 0h0m1 0h0m-6 1h0m1 0h0m1 0h0m1 0h0m1 0h0m1 0h0m-6 1h0m2 0h0m1 0h0m1 0h0m1 0h0m1 0h0m-5 1h0m1 0h0m1 0h0m1 0h0m1 0h0m-4 1h0m3 0h0m1 0h0m1 0h0m-5 1h0m1 0h0m-2 1h0m1 0h0m2 0h0m1 0h0m1 0h0m-4 1h0m1 0h0m1 0h0m-2 1h0m1 0h0m1 0h0m2 0h0m-5 1h0m1 0h0m2 0h0m1 0h0m-3 1h0m1 0h0m1 0h0m1 0h0m-3 1h0m3 0h0m-4 1h0m1 0h0m1 0h0m1 0h0m-2 1h0m1 0h0m2 0h0m-3 1h0m1 0h0m1 0h0m-2 1h0m1 0h0m1 0h0m1 0h0m-2 1h0m1 0h0m-3 1h0m1 0h0m1 0h0m1 0h0m-2 1h0m1 0h0m-1 1h0m1 0h0m-1 1h0m1 0h0m1 0h0m-3 1h0m1 0h0m1 0h0m-1 1h0m2 0h0m-1 1h0m1 0h0m-2 1h0m1 0h0m0 1h0m1 0h0m-2 1h0m1 0h0m-2 1h0m1 0h0m1 0h0m-1 1h0m2 0h0m-2 1h0m2 0h0m-2 1h0m1 0h0m-2 1h0m1 0h0m1 0h0m-2 1h0m1 0h0m0 1h0m0 1h0m1 0h0m0 1h0" stroke="#ff00ff" stroke-width="2" stroke-linecap="square" fill="none"/><rect x="602.3" y="78.2" width="25.5" height="17.1" fill="#fff" stroke="#333" stroke-width="1"/><text x="615" y="91.7" class="lg" text-anchor="middle">DIL</text><text x="527.1" y="114.1" class="tk" text-anchor="middle">0</text><text x="541.8" y="114.1" class="tk" text-anchor="middle">2</text><text x="556.5" y="114.1" class="tk" text-anchor="middle">4</text><text x="570.8" y="114.1" class="tk" text-anchor="middle">6</text><text x="585.3" y="114.1" class="tk" text-anchor="middle">8</text><text x="599.7" y="114.1" class="tk" text-anchor="middle">10</text><text x="614" y="114.1" class="tk" text-anchor="middle">12</text><text x="628.2" y="114.1" class="tk" text-anchor="middle">14</text><path d="M527.1 104.2v-2" class="tm"/><path d="M541.8 104.2v-2" class="tm"/><path d="M556.5 104.2v-2" class="tm"/><path d="M570.8 104.2v-2" class="tm"/><path d="M585.3 104.2v-2" class="tm"/><path d="M599.7 104.2v-2" class="tm"/><path d="M614 104.2v-2" class="tm"/><path d="M628.2 104.2v-2" class="tm"/><path d="M534.5 104.2v-2" class="tm"/><path d="M549.1 104.2v-2" class="tm"/><path d="M563.6 104.2v-2" class="tm"/><path d="M578 104.2v-2" class="tm"/><path d="M592.5 104.2v-2" class="tm"/><path d="M606.9 104.2v-2" class="tm"/><path d="M621.1 104.2v-2" class="tm"/><polygon points="646.7,92.4 649.3,79.4 653.6,65.6 657.9,53.5 663.1,44.9 670,36.3 676.9,29.4 683.8,23.3 692.4,19 704.5,14.7 717.5,12.1 718.4,14.7 704.5,17.3 694.2,21.6 685.5,26.8 678.6,32.8 671.7,39.7 666.5,48.4 661.4,58.7 656.2,70.8 651,82.9 647.9,92.7" fill="#008080"/><path d="M745 12h0m-35 1h0m5 0h0m-8 1h0m2 0h0m1 0h0m1 0h0m3 0h0m2 0h0m2 0h0m-14 1h0m1 0h0m1 0h0m2 0h0m1 0h0m2 0h0m1 0h0m1 0h0m1 0h0m1 0h0m3 0h0m-17 1h0m1 0h0m1 0h0m1 0h0m1 0h0m1 0h0m1 0h0m1 0h0m1 0h0m1 0h0m1 0h0m-13 1h0m2 0h0m1 0h0m2 0h0m1 0h0m1 0h0m-10 1h0m1 0h0m2 0h0m1 0h0m1 0h0m1 0h0m1 0h0m1 0h0m-9 1h0m1 0h0m2 0h0m1 0h0m1 0h0m1 0h0m-10 1h0m1 0h0m2 0h0m3 0h0m1 0h0m-8 1h0m1 0h0m1 0h0m1 0h0m1 0h0m1 0h0m1 0h0m1 0h0m-10 1h0m2 0h0m4 0h0m1 0h0m-9 1h0m1 0h0m1 0h0m1 0h0m1 0h0m1 0h0m1 0h0m1 0h0m1 0h0m-9 1h0m1 0h0m2 0h0m1 0h0m1 0h0m1 0h0m1 0h0m-8 1h0m1 0h0m1 0h0m1 0h0m1 0h0m1 0h0m1 0h0m-7 1h0m1 0h0m1 0h0m1 0h0m1 0h0m1 0h0m-5 1h0m1 0h0m1 0h0m1 0h0m1 0h0m-6 1h0m1 0h0m1 0h0m1 0h0m1 0h0m1 0h0m-6 1h0m1 0h0m1 0h0m1 0h0m2 0h0m-7 1h0m1 0h0m1 0h0m1 0h0m1 0h0m1 0h0m1 0h0m-6 1h0m1 0h0m1 0h0m2 0h0m-5 1h0m1 0h0m1 0h0m1 0h0m-4 1h0m1 0h0m1 0h0m2 0h0m-5 1h0m1 0h0m1 0h0m1 0h0m1 0h0m-6 1h0m2 0h0m1 0h0m1 0h0m1 0h0m-5 1h0m1 0h0m1 0h0m2 0h0m-6 1h0m1 0h0m1 0h0m1 0h0m1 0h0m1 0h0m-4 1h0m2 0h0m1 0h0m-5 1h0m1 0h0m1 0h0m1 0h0m1 0h0m1 0h0m-7 1h0m1 0h0m1 0h0m1 0h0m1 0h0m1 0h0m1 0h0m-6 1h0m1 0h0m1 0h0m1 0h0m1 0h0m-11 1h0m6 0h0m1 0h0m1 0h0m1 0h0m2 0h0m-4 1h0m1 0h0m1 0h0m1 0h0m-5 1h0m2 0h0m1 0h0m1 0h0m-5 1h0m1 0h0m1 0h0m1 0h0m1 0h0m1 0h0m-4 1h0m1 0h0m1 0h0m1 0h0m-5 1h0m1 0h0m1 0h0m1 0h0m1 0h0m1 0h0m1 0h0m-7 1h0m2 0h0m1 0h0m2 0h0m1 0h0m-6 1h0m1 0h0m1 0h0m1 0h0m1 0h0m-4 1h0m3 0h0m1 0h0m1 0h0m-5 1h0m1 0h0m1 0h0m1 0h0m1 0h0m-6 1h0m1 0h0m1 0h0m1 0h0m1 0h0m1 0h0m-4 1h0m1 0h0m1 0h0m1 0h0m1 0h0m-6 1h0m1 0h0m2 0h0m1 0h0m1 0h0m-4 1h0m1 0h0m1 0h0m1 0h0m1 0h0m-6 1h0m1 0h0m1 0h0m1 0h0m1 0h0m1 0h0m1 0h0m-6 1h0m1 0h0m1 0h0m1 0h0m1 0h0m1 0h0m-6 1h0m1 0h0m1 0h0m1 0h0m1 0h0m-3 1h0m1 0h0m1 0h0m2 0h0m-5 1h0m3 0h0m1 0h0m-5 1h0m1 0h0m1 0h0m1 0h0m1 0h0m-4 1h0m1 0h0m3 0h0m-4 1h0m1 0h0m1 0h0m1 0h0m1 0h0m-5 1h0m1 0h0m2 0h0m1 0h0m1 0h0m-5 1h0m1 0h0m1 0h0m1 0h0m1 0h0m-3 1h0m2 0h0m1 0h0m-5 1h0m1 0h0m1 0h0m1 0h0m1 0h0m-4 1h0m1 0h0m1 0h0m1 0h0m0 1h0m-4 1h0m2 0h0m1 0h0m-2 1h0m1 0h0m1 0h0m1 0h0m-4 1h0m1 0h0m-2 1h0m2 0h0m-2 1h0m2 0h0m1 0h0m-2 1h0m1 0h0m1 0h0m-3 1h0m2 0h0m1 0h0m-4 1h0m1 0h0m1 0h0m1 0h0m-3 1h0m1 0h0m1 0h0m-2 1h0m1 0h0m1 0h0m-3 1h0m1 0h0m1 0h0m1 0h0m-3 1h0m1 0h0m1 0h0m1 0h0m-3 1h0m1 0h0m1 0h0m-2 1h0m1 0h0m-1 1h0m2 0h0m-3 1h0m1 0h0m1 0h0m-2 1h0m1 0h0m1 0h0m-2 1h0m1 0h0m1 0h0m-2 1h0m1 0h0m-1 1h0m1 0h0m-2 1h0m1 0h0m1 0h0m-1 1h0m1 0h0m-2 1h0m1 0h0m0 1h0" stroke="#008080" stroke-width="2" stroke-linecap="square" fill="none"/><rect x="713.2" y="79.3" width="41.3" height="17.8" fill="#fff" stroke="#333" stroke-width="1"/><text x="733.9" y="93.5" class="lg" text-anchor="middle">LENC</text><text x="647.2" y="114.1" class="tk" text-anchor="middle">0</text><text x="667.4" y="114.1" class="tk" text-anchor="middle">5</text><text x="688.1" y="114.1" class="tk" text-anchor="middle">10</text><text x="708.9" y="114.1" class="tk" text-anchor="middle">15</text><text x="729.2" y="114.1" class="tk" text-anchor="middle">20</text><text x="749.4" y="114.1" class="tk" text-anchor="middle">25</text><path d="M647.2 104.2v-2" class="tm"/><path d="M667.4 104.2v-2" class="tm"/><path d="M688.1 104.2v-2" class="tm"/><path d="M708.9 104.2v-2" class="tm"/><path d="M729.2 104.2v-2" class="tm"/><path d="M749.4 104.2v-2" class="tm"/><path d="M657.3 104.2v-2" class="tm"/><path d="M677.8 104.2v-2" class="tm"/><path d="M698.5 104.2v-2" class="tm"/><path d="M719 104.2v-2" class="tm"/><path d="M739.3 104.2v-2" class="tm"/><rect x="21.4" y="1.4" width="739.1" height="102.8" class="fr"/><path d="M144.6 1.4V104.2" class="fr"/><path d="M267.8 1.4V104.2" class="fr"/><path d="M390.9 1.4V104.2" class="fr"/><path d="M514.1 1.4V104.2" class="fr"/><path d="M637.3 1.4V104.2" class="fr"/><text x="19.6" y="9.3" class="tk" text-anchor="end">40</text><path d="M21.4 5.5h2" class="tm"/><text x="19.6" y="31" class="tk" text-anchor="end">30</text><path d="M21.4 27.2h2" class="tm"/><text x="19.6" y="52.6" class="tk" text-anchor="end">20</text><path d="M21.4 48.8h2" class="tm"/><text x="19.6" y="74.3" class="tk" text-anchor="end">10</text><path d="M21.4 70.5h2" class="tm"/><text x="19.6" y="95.9" class="tk" text-anchor="end">0</text><path d="M21.4 92.1h2" class="tm"/><text x="390.3" y="157.4" class="cap" text-anchor="middle">(a) Arenas-email</text></g>
<g><path d="M114 191h0m6 0h0m-8 1h0m4 0h0m3 0h0m-9 1h0m3 0h0m2 0h0m3 0h0m-7 1h0m2 0h0m4 0h0m-14 1h0m1 0h0m3 0h0m2 0h0m1 0h0m3 0h0m1 0h0m-9 1h0m1 0h0m1 0h0m1 0h0m1 0h0m3 0h0m2 0h0m2 0h0m-12 1h0m3 0h0m1 0h0m1 0h0m1 0h0m1 0h0m2 0h0m-8 1h0m1 0h0m1 0h0m1 0h0m1 0h0m1 0h0m4 0h0m1 0h0m-10 1h0m2 0h0m1 0h0m1 0h0m1 0h0m-6 1h0m1 0h0m1 0h0m4 0h0m2 0h0m-9 1h0m1 0h0m1 0h0m2 0h0m3 0h0m3 0h0m-7 1h0m1 0h0m1 0h0m1 0h0m-7 1h0m3 0h0m1 0h0m1 0h0m1 0h0m1 0h0m-4 1h0m1 0h0m1 0h0m1 0h0m1 0h0m2 0h0m-6 1h0m1 0h0m1 0h0m1 0h0m1 0h0m1 0h0m1 0h0m-4 1h0m2 0h0m1 0h0m2 0h0m-8 1h0m5 0h0m1 0h0m2 0h0m-12 1h0m2 0h0m2 0h0m1 0h0m1 0h0m1 0h0m1 0h0m1 0h0m-6 1h0m1 0h0m1 0h0m1 0h0m3 0h0m1 0h0m-9 1h0m1 0h0m2 0h0m1 0h0m1 0h0m1 0h0m1 0h0m1 0h0m-8 1h0m3 0h0m4 0h0m2 0h0m-9 1h0m2 0h0m1 0h0m2 0h0m1 0h0m1 0h0m3 0h0m-10 1h0m1 0h0m1 0h0m1 0h0m2 0h0m3 0h0m-9 1h0m3 0h0m1 0h0m1 0h0m1 0h0m1 0h0m4 0h0m1 0h0m-12 1h0m2 0h0m2 0h0m2 0h0m1 0h0m1 0h0m1 0h0m1 0h0m1 0h0m-6 1h0m1 0h0m3 0h0m-8 1h0m1 0h0m1 0h0m1 0h0m1 0h0m1 0h0m1 0h0m2 0h0m1 0h0m1 0h0m-11 1h0m2 0h0m1 0h0m1 0h0m1 0h0m2 0h0m3 0h0m-10 1h0m1 0h0m3 0h0m1 0h0m1 0h0m1 0h0m1 0h0m1 0h0m-6 1h0m1 0h0m1 0h0m1 0h0m2 0h0m1 0h0m-9 1h0m2 0h0m1 0h0m1 0h0m1 0h0m2 0h0m-8 1h0m2 0h0m1 0h0m1 0h0m1 0h0m1 0h0m1 0h0m3 0h0m-10 1h0m2 0h0m2 0h0m1 0h0m1 0h0m1 0h0m4 0h0m-12 1h0m3 0h0m1 0h0m1 0h0m1 0h0m1 0h0m2 0h0m1 0h0m3 0h0m-11 1h0m2 0h0m1 0h0m1 0h0m2 0h0m2 0h0m-8 1h0m1 0h0m1 0h0m1 0h0m1 0h0m1 0h0m1 0h0m1 0h0m1 0h0m-10 1h0m2 0h0m2 0h0m1 0h0m2 0h0m1 0h0m1 0h0m1 0h0m2 0h0m-13 1h0m2 0h0m3 0h0m1 0h0m1 0h0m1 0h0m1 0h0m1 0h0m-6 1h0m1 0h0m1 0h0m1 0h0m2 0h0m3 0h0m-12 1h0m4 0h0m1 0h0m3 0h0m1 0h0m-9 1h0m5 0h0m1 0h0m1 0h0m-7 1h0m1 0h0m1 0h0m1 0h0m1 0h0m1 0h0m1 0h0m2 0h0m1 0h0m1 0h0m2 0h0m-12 1h0m1 0h0m1 0h0m1 0h0m1 0h0m1 0h0m1 0h0m1 0h0m1 0h0m1 0h0m1 0h0m1 0h0m1 0h0m-12 1h0m2 0h0m1 0h0m2 0h0m1 0h0m1 0h0m1 0h0m1 0h0m1 0h0m1 0h0m-10 1h0m1 0h0m1 0h0m1 0h0m1 0h0m1 0h0m1 0h0m1 0h0m1 0h0m2 0h0m-10 1h0m2 0h0m1 0h0m1 0h0m3 0h0m-6 1h0m2 0h0m1 0h0m1 0h0m1 0h0m1 0h0m1 0h0m1 0h0m-10 1h0m2 0h0m2 0h0m1 0h0m1 0h0m1 0h0m1 0h0m-8 1h0m2 0h0m1 0h0m1 0h0m2 0h0m3 0h0m2 0h0m-11 1h0m1 0h0m3 0h0m1 0h0m1 0h0m1 0h0m1 0h0m1 0h0m1 0h0m-9 1h0m2 0h0m1 0h0m1 0h0m1 0h0m1 0h0m1 0h0m2 0h0m-13 1h0m2 0h0m1 0h0m1 0h0m4 0h0m1 0h0m2 0h0m-11 1h0m1 0h0m3 0h0m1 0h0m1 0h0m1 0h0m1 0h0m1 0h0m1 0h0m-9 1h0m1 0h0m1 0h0m1 0h0m2 0h0m2 0h0m1 0h0m2 0h0m-10 1h0m1 0h0m3 0h0m1 0h0m1 0h0m1 0h0m1 0h0m1 0h0m-9 1h0m2 0h0m1 0h0m2 0h0m1 0h0m2 0h0m1 0h0m-9 1h0m2 0h0m2 0h0m1 0h0m1 0h0m1 0h0m1 0h0m2 0h0m-7 1h0m1 0h0m1 0h0m1 0h0m1 0h0m1 0h0m1 0h0m1 0h0m-9 1h0m2 0h0m1 0h0m1 0h0m1 0h0m1 0h0m1 0h0m1 0h0m2 0h0m-13 1h0m2 0h0m1 0h0m2 0h0m1 0h0m1 0h0m1 0h0m1 0h0m1 0h0m1 0h0m-11 1h0m2 0h0m1 0h0m1 0h0m2 0h0m1 0h0m1 0h0m1 0h0m1 0h0m2 0h0m-10 1h0m1 0h0m1 0h0m1 0h0m1 0h0m1 0h0m1 0h0m2 0h0m2 0h0m-10 1h0m1 0h0m1 0h0m1 0h0m1 0h0m1 0h0m1 0h0m1 0h0m2 0h0m1 0h0m-12 1h0m3 0h0m1 0h0m1 0h0m1 0h0m1 0h0m1 0h0m1 0h0m-9 1h0m1 0h0m2 0h0m1 0h0m2 0h0m2 0h0m1 0h0m-7 1h0m1 0h0m1 0h0m1 0h0m1 0h0m1 0h0m1 0h0m1 0h0m1 0h0m-11 1h0m1 0h0m1 0h0m1 0h0m1 0h0m1 0h0m1 0h0m2 0h0m2 0h0m-9 1h0m1 0h0m1 0h0m1 0h0m1 0h0m1 0h0m1 0h0m1 0h0m1 0h0m1 0h0m-9 1h0m1 0h0m1 0h0m1 0h0m1 0h0m1 0h0m2 0h0m2 0h0m-11 1h0m2 0h0m1 0h0m1 0h0m1 0h0m1 0h0m2 0h0m1 0h0m-9 1h0m1 0h0m1 0h0m1 0h0m1 0h0m1 0h0m1 0h0m1 0h0m1 0h0m-8 1h0m1 0h0m2 0h0m1 0h0m1 0h0m1 0h0m-7 1h0m1 0h0m1 0h0m1 0h0m1 0h0m1 0h0m1 0h0m1 0h0m2 0h0m1 0h0m1 0h0m-13 1h0m3 0h0m1 0h0m1 0h0m1 0h0m1 0h0m2 0h0m1 0h0m1 0h0m1 0h0m1 0h0m-13 1h0m1 0h0m1 0h0m1 0h0m1 0h0m1 0h0m1 0h0m1 0h0m1 0h0m2 0h0m2 0h0m-15 1h0m2 0h0m2 0h0m2 0h0m1 0h0m1 0h0m1 0h0m1 0h0m1 0h0m2 0h0m2 0h0m-14 1h0m2 0h0m4 0h0m1 0h0m1 0h0m1 0h0m1 0h0m1 0h0m3 0h0m1 0h0m-17 1h0m1 0h0m1 0h0m1 0h0m1 0h0m1 0h0m1 0h0m2 0h0m1 0h0m1 0h0m1 0h0m1 0h0m1 0h0m1 0h0m1 0h0m-18 1h0m1 0h0m1 0h0m1 0h0m1 0h0m1 0h0m1 0h0m1 0h0m1 0h0m1 0h0m1 0h0m1 0h0m1 0h0m1 0h0m1 0h0m1 0h0m2 0h0m-22 1h0m5 0h0m1 0h0m1 0h0m1 0h0m1 0h0m1 0h0m1 0h0m1 0h0m1 0h0m1 0h0m1 0h0m1 0h0m1 0h0m1 0h0m-20 1h0m1 0h0m1 0h0m3 0h0m1 0h0m2 0h0m2 0h0m2 0h0m1 0h0m1 0h0m1 0h0m6 0h0m1 0h0m-23 1h0m1 0h0m1 0h0m1 0h0m1 0h0m1 0h0m1 0h0m1 0h0m1 0h0m1 0h0m4 0h0m4 0h0m1 0h0m1 0h0m-62 1h0m31 0h0m2 0h0m2 0h0m6 0h0m1 0h0m1 0h0m3 0h0m1 0h0m5 0h0m1 0h0m2 0h0m-13 1h0" stroke="#00ff00" stroke-width="2" stroke-linecap="square" fill="none"/><rect x="116.3" y="257.3" width="23.3" height="17.8" fill="#fff" stroke="#333" stroke-width="1"/><text x="127.9" y="271.5" class="lg" text-anchor="middle">CC</text><text x="30.3" y="294.7" class="tk" text-anchor="middle">0</text><text x="47.7" y="294.7" class="tk" text-anchor="middle">1</text><text x="65.4" y="294.7" class="tk" text-anchor="middle">2</text><text x="82.3" y="294.7" class="tk" text-anchor="middle">3</text><text x="100.2" y="294.7" class="tk" text-anchor="middle">4</text><text x="117.5" y="294.7" class="tk" text-anchor="middle">5</text><text x="135" y="294.7" class="tk" text-anchor="middle">6</text><path d="M30.3 284.8v-2" class="tm"/><path d="M47.7 284.8v-2" class="tm"/><path d="M65.4 284.8v-2" class="tm"/><path d="M82.3 284.8v-2" class="tm"/><path d="M100.2 284.8v-2" class="tm"/><path d="M117.5 284.8v-2" class="tm"/><path d="M135 284.8v-2" class="tm"/><path d="M39 284.8v-2" class="tm"/><path d="M56.6 284.8v-2" class="tm"/><path d="M73.8 284.8v-2" class="tm"/><path d="M91.3 284.8v-2" class="tm"/><path d="M108.9 284.8v-2" class="tm"/><path d="M126.2 284.8v-2" class="tm"/><path d="M257 190h0m-36 1h0m5 0h0m1 0h0m16 0h0m14 0h0m-68 1h0m8 1h0m4 0h0m5 0h0m43 0h0m-50 1h0m9 0h0m4 0h0m-18 1h0m1 0h0m1 0h0m1 0h0m1 0h0m1 0h0m3 0h0m15 0h0m-26 1h0m2 0h0m5 0h0m1 0h0m9 0h0m2 0h0m-23 1h0m1 0h0m1 0h0m8 0h0m2 0h0m8 0h0m3 0h0m5 0h0m4 0h0m2 0h0m-38 1h0m19 0h0m6 0h0m-26 1h0m2 0h0m1 0h0m1 0h0m1 0h0m5 0h0m1 0h0m-12 1h0m1 0h0m2 0h0m1 0h0m1 0h0m1 0h0m10 0h0m3 0h0m-21 1h0m1 0h0m3 0h0m3 0h0m6 0h0m5 0h0m-21 1h0m3 0h0m1 0h0m1 0h0m2 0h0m1 0h0m1 0h0m7 0h0m2 0h0m-25 1h0m7 0h0m3 0h0m2 0h0m6 0h0m20 0h0m-31 1h0m1 0h0m2 0h0m6 0h0m2 0h0m4 0h0m2 0h0m1 0h0m1 0h0m-20 1h0m7 0h0m10 0h0m3 0h0m2 0h0m3 0h0m-28 1h0m1 0h0m1 0h0m1 0h0m3 0h0m4 0h0m1 0h0m1 0h0m2 0h0m6 0h0m4 0h0m1 0h0m2 0h0m-27 1h0m2 0h0m3 0h0m2 0h0m9 0h0m4 0h0m6 0h0m-28 1h0m1 0h0m1 0h0m2 0h0m3 0h0m2 0h0m8 0h0m2 0h0m2 0h0m4 0h0m1 0h0m-26 1h0m1 0h0m4 0h0m4 0h0m1 0h0m1 0h0m7 0h0m1 0h0m6 0h0m-24 1h0m3 0h0m2 0h0m1 0h0m5 0h0m15 0h0m-28 1h0m2 0h0m2 0h0m4 0h0m10 0h0m-18 1h0m1 0h0m2 0h0m1 0h0m1 0h0m3 0h0m1 0h0m4 0h0m3 0h0m1 0h0m2 0h0m-19 1h0m2 0h0m1 0h0m2 0h0m2 0h0m8 0h0m-17 1h0m2 0h0m1 0h0m1 0h0m3 0h0m1 0h0m1 0h0m4 0h0m3 0h0m5 0h0m-20 1h0m1 0h0m1 0h0m7 0h0m5 0h0m1 0h0m-17 1h0m1 0h0m4 0h0m5 0h0m2 0h0m10 0h0m1 0h0m-23 1h0m1 0h0m1 0h0m2 0h0m1 0h0m6 0h0m8 0h0m-19 1h0m2 0h0m3 0h0m2 0h0m1 0h0m2 0h0m1 0h0m2 0h0m1 0h0m1 0h0m-14 1h0m1 0h0m5 0h0m1 0h0m3 0h0m4 0h0m-13 1h0m2 0h0m1 0h0m-6 1h0m1 0h0m3 0h0m1 0h0m1 0h0m3 0h0m1 0h0m2 0h0m1 0h0m1 0h0m1 0h0m2 0h0m-18 1h0m1 0h0m2 0h0m7 0h0m1 0h0m2 0h0m1 0h0m3 0h0m1 0h0m2 0h0m-20 1h0m1 0h0m1 0h0m1 0h0m1 0h0m2 0h0m2 0h0m1 0h0m4 0h0m4 0h0m1 0h0m2 0h0m-20 1h0m1 0h0m5 0h0m1 0h0m1 0h0m-9 1h0m2 0h0m1 0h0m1 0h0m1 0h0m1 0h0m1 0h0m4 0h0m4 0h0m-13 1h0m1 0h0m4 0h0m1 0h0m6 0h0m3 0h0m1 0h0m-18 1h0m4 0h0m4 0h0m4 0h0m2 0h0m1 0h0m2 0h0m-19 1h0m1 0h0m1 0h0m1 0h0m1 0h0m1 0h0m2 0h0m5 0h0m3 0h0m1 0h0m1 0h0m-16 1h0m1 0h0m2 0h0m1 0h0m3 0h0m2 0h0m1 0h0m1 0h0m1 0h0m4 0h0m-16 1h0m1 0h0m1 0h0m1 0h0m1 0h0m1 0h0m2 0h0m1 0h0m1 0h0m7 0h0m1 0h0m-17 1h0m2 0h0m7 0h0m3 0h0m3 0h0m1 0h0m-15 1h0m2 0h0m1 0h0m2 0h0m3 0h0m3 0h0m1 0h0m2 0h0m-15 1h0m1 0h0m2 0h0m1 0h0m5 0h0m1 0h0m1 0h0m3 0h0m1 0h0m-16 1h0m1 0h0m1 0h0m3 0h0m1 0h0m3 0h0m2 0h0m4 0h0m-15 1h0m1 0h0m1 0h0m1 0h0m1 0h0m1 0h0m1 0h0m1 0h0m7 0h0m2 0h0m-15 1h0m1 0h0m2 0h0m1 0h0m3 0h0m5 0h0m-13 1h0m1 0h0m1 0h0m2 0h0m1 0h0m2 0h0m1 0h0m4 0h0m1 0h0m1 0h0m-15 1h0m1 0h0m1 0h0m3 0h0m1 0h0m1 0h0m1 0h0m3 0h0m1 0h0m-11 1h0m1 0h0m2 0h0m1 0h0m1 0h0m3 0h0m1 0h0m-10 1h0m3 0h0m2 0h0m1 0h0m1 0h0m-7 1h0m2 0h0m1 0h0m1 0h0m4 0h0m1 0h0m1 0h0m1 0h0m-11 1h0m6 0h0m3 0h0m2 0h0m-12 1h0m1 0h0m1 0h0m1 0h0m1 0h0m1 0h0m1 0h0m3 0h0m4 0h0m-12 1h0m1 0h0m1 0h0m1 0h0m1 0h0m1 0h0m4 0h0m-10 1h0m1 0h0m2 0h0m5 0h0m-8 1h0m1 0h0m1 0h0m1 0h0m1 0h0m1 0h0m2 0h0m1 0h0m3 0h0m-11 1h0m2 0h0m2 0h0m1 0h0m1 0h0m1 0h0m1 0h0m1 0h0m-10 1h0m1 0h0m2 0h0m2 0h0m1 0h0m2 0h0m2 0h0m-10 1h0m1 0h0m1 0h0m2 0h0m1 0h0m1 0h0m1 0h0m2 0h0m-10 1h0m1 0h0m1 0h0m1 0h0m1 0h0m2 0h0m1 0h0m2 0h0m-8 1h0m1 0h0m1 0h0m1 0h0m1 0h0m2 0h0m1 0h0m-7 1h0m1 0h0m1 0h0m1 0h0m2 0h0m1 0h0m1 0h0m1 0h0m1 0h0m-10 1h0m1 0h0m2 0h0m1 0h0m1 0h0m2 0h0m1 0h0m1 0h0m-8 1h0m1 0h0m2 0h0m1 0h0m1 0h0m1 0h0m1 0h0m-7 1h0m2 0h0m1 0h0m1 0h0m3 0h0m-7 1h0m1 0h0m1 0h0m1 0h0m2 0h0m-6 1h0m1 0h0m1 0h0m2 0h0m1 0h0m2 0h0m-7 1h0m1 0h0m1 0h0m1 0h0m1 0h0m1 0h0m1 0h0m-6 1h0m1 0h0m1 0h0m3 0h0m-5 1h0m1 0h0m1 0h0m1 0h0m1 0h0m1 0h0m1 0h0m-6 1h0m1 0h0m1 0h0m1 0h0m1 0h0m-4 1h0m1 0h0m1 0h0m2 0h0m-5 1h0m2 0h0m1 0h0m2 0h0m1 0h0m-3 1h0m-3 1h0m1 0h0m1 0h0m-2 1h0m3 0h0m-3 1h0m1 0h0m1 0h0m-1 1h0m-1 1h0m2 0h0m-2 1h0m1 0h0m1 0h0m-2 1h0m0 1h0m1 0h0m-2 1h0" stroke="#0000ff" stroke-width="2" stroke-linecap="square" fill="none"/><rect x="239.7" y="259.6" width="22.9" height="17.3" fill="#fff" stroke="#333" stroke-width="1"/><text x="251.2" y="273.3" class="lg" text-anchor="middle">EC</text><text x="155.9" y="294.7" class="tk" text-anchor="middle">0</text><text x="168.2" y="294.7" class="tk" text-anchor="middle">2</text><text x="180.2" y="294.7" class="tk" text-anchor="middle">4</text><text x="192.7" y="294.7" class="tk" text-anchor="middle">6</text><text x="204.9" y="294.7" class="tk" text-anchor="middle">8</text><text x="217.4" y="294.7" class="tk" text-anchor="middle">10</text><text x="229.5" y="294.7" class="tk" text-anchor="middle">12</text><text x="241.9" y="294.7" class="tk" text-anchor="middle">14</text><text x="254.3" y="294.7" class="tk" text-anchor="middle">16</text><text x="266.9" y="294.7" class="tk" text-anchor="middle">18</text><path d="M155.9 284.8v-2" class="tm"/><path d="M168.2 284.8v-2" class="tm"/><path d="M180.2 284.8v-2" class="tm"/><path d="M192.7 284.8v-2" class="tm"/><path d="M204.9 284.8v-2" class="tm"/><path d="M217.4 284.8v-2" class="tm"/><path d="M229.5 284.8v-2" class="tm"/><path d="M241.9 284.8v-2" class="tm"/><path d="M254.3 284.8v-2" class="tm"/><path d="M162 284.8v-2" class="tm"/><path d="M174.2 284.8v-2" class="tm"/><path d="M186.5 284.8v-2" class="tm"/><path d="M198.8 284.8v-2" class="tm"/><path d="M211.2 284.8v-2" class="tm"/><path d="M223.4 284.8v-2" class="tm"/><path d="M235.7 284.8v-2" class="tm"/><path d="M248.1 284.8v-2" class="tm"/><path d="M260.6 284.8v-2" class="tm"/><path d="M367 192h0m1 0h0m2 0h0m-18 1h0m9 0h0m5 0h0m1 0h0m3 0h0m-16 1h0m2 0h0m5 0h0m2 0h0m-10 1h0m2 0h0m1 0h0m2 0h0m5 0h0m1 0h0m-12 1h0m2 0h0m1 0h0m2 0h0m3 0h0m2 0h0m4 0h0m-18 1h0m5 0h0m1 0h0m2 0h0m1 0h0m3 0h0m-14 1h0m2 0h0m1 0h0m1 0h0m1 0h0m1 0h0m1 0h0m1 0h0m1 0h0m1 0h0m1 0h0m2 0h0m-15 1h0m2 0h0m1 0h0m1 0h0m2 0h0m1 0h0m1 0h0m3 0h0m-14 1h0m3 0h0m1 0h0m1 0h0m1 0h0m1 0h0m1 0h0m2 0h0m1 0h0m1 0h0m2 0h0m-30 1h0m19 0h0m1 0h0m1 0h0m1 0h0m1 0h0m1 0h0m6 0h0m-15 1h0m1 0h0m3 0h0m1 0h0m8 0h0m-28 1h0m14 0h0m2 0h0m1 0h0m1 0h0m1 0h0m1 0h0m1 0h0m2 0h0m1 0h0m2 0h0m7 0h0m-20 1h0m1 0h0m1 0h0m1 0h0m2 0h0m1 0h0m2 0h0m1 0h0m-10 1h0m2 0h0m2 0h0m1 0h0m1 0h0m1 0h0m1 0h0m1 0h0m1 0h0m1 0h0m-13 1h0m1 0h0m2 0h0m1 0h0m1 0h0m1 0h0m2 0h0m1 0h0m1 0h0m1 0h0m-14 1h0m1 0h0m3 0h0m1 0h0m2 0h0m2 0h0m3 0h0m3 0h0m-12 1h0m2 0h0m1 0h0m5 0h0m3 0h0m-15 1h0m1 0h0m1 0h0m1 0h0m1 0h0m1 0h0m1 0h0m1 0h0m1 0h0m2 0h0m2 0h0m-11 1h0m1 0h0m1 0h0m2 0h0m1 0h0m2 0h0m-13 1h0m3 0h0m1 0h0m4 0h0m1 0h0m1 0h0m3 0h0m-11 1h0m1 0h0m2 0h0m1 0h0m2 0h0m1 0h0m-8 1h0m2 0h0m1 0h0m1 0h0m3 0h0m2 0h0m-13 1h0m4 0h0m1 0h0m1 0h0m1 0h0m3 0h0m2 0h0m-11 1h0m3 0h0m1 0h0m1 0h0m1 0h0m1 0h0m2 0h0m-11 1h0m1 0h0m1 0h0m2 0h0m1 0h0m2 0h0m1 0h0m-10 1h0m3 0h0m2 0h0m1 0h0m1 0h0m1 0h0m-6 1h0m1 0h0m1 0h0m1 0h0m1 0h0m1 0h0m1 0h0m1 0h0m-10 1h0m2 0h0m1 0h0m1 0h0m2 0h0m1 0h0m1 0h0m1 0h0m-7 1h0m1 0h0m3 0h0m4 0h0m-13 1h0m4 0h0m1 0h0m1 0h0m1 0h0m1 0h0m2 0h0m1 0h0m-9 1h0m1 0h0m2 0h0m2 0h0m1 0h0m1 0h0m-10 1h0m1 0h0m2 0h0m1 0h0m1 0h0m1 0h0m1 0h0m-7 1h0m1 0h0m1 0h0m2 0h0m2 0h0m1 0h0m2 0h0m-11 1h0m1 0h0m1 0h0m2 0h0m1 0h0m1 0h0m2 0h0m-9 1h0m2 0h0m1 0h0m1 0h0m1 0h0m1 0h0m1 0h0m1 0h0m-7 1h0m1 0h0m1 0h0m1 0h0m1 0h0m1 0h0m1 0h0m1 0h0m-10 1h0m3 0h0m1 0h0m2 0h0m2 0h0m1 0h0m-6 1h0m1 0h0m1 0h0m1 0h0m1 0h0m3 0h0m-11 1h0m1 0h0m1 0h0m2 0h0m1 0h0m1 0h0m1 0h0m1 0h0m-10 1h0m2 0h0m1 0h0m1 0h0m1 0h0m1 0h0m2 0h0m-9 1h0m3 0h0m1 0h0m1 0h0m1 0h0m1 0h0m1 0h0m1 0h0m-9 1h0m2 0h0m1 0h0m1 0h0m1 0h0m1 0h0m1 0h0m1 0h0m1 0h0m-9 1h0m1 0h0m2 0h0m1 0h0m1 0h0m4 0h0m-9 1h0m1 0h0m2 0h0m2 0h0m1 0h0m2 0h0m-10 1h0m1 0h0m1 0h0m1 0h0m1 0h0m1 0h0m1 0h0m1 0h0m-9 1h0m1 0h0m2 0h0m1 0h0m1 0h0m2 0h0m-9 1h0m1 0h0m1 0h0m3 0h0m1 0h0m1 0h0m-8 1h0m2 0h0m1 0h0m1 0h0m1 0h0m1 0h0m1 0h0m1 0h0m-6 1h0m2 0h0m1 0h0m1 0h0m-6 1h0m1 0h0m1 0h0m1 0h0m1 0h0m1 0h0m-7 1h0m2 0h0m1 0h0m1 0h0m1 0h0m2 0h0m-8 1h0m1 0h0m1 0h0m1 0h0m1 0h0m2 0h0m1 0h0m-6 1h0m2 0h0m1 0h0m2 0h0m-6 1h0m2 0h0m2 0h0m1 0h0m-6 1h0m1 0h0m2 0h0m1 0h0m1 0h0m-8 1h0m3 0h0m1 0h0m1 0h0m2 0h0m-6 1h0m1 0h0m1 0h0m1 0h0m1 0h0m-5 1h0m1 0h0m3 0h0m1 0h0m2 0h0m-8 1h0m1 0h0m1 0h0m1 0h0m1 0h0m2 0h0m1 0h0m2 0h0m-8 1h0m1 0h0m1 0h0m1 0h0m-6 1h0m2 0h0m1 0h0m1 0h0m1 0h0m-6 1h0m1 0h0m1 0h0m1 0h0m1 0h0m1 0h0m1 0h0m1 0h0m-7 1h0m1 0h0m2 0h0m1 0h0m1 0h0m1 0h0m-8 1h0m1 0h0m1 0h0m1 0h0m1 0h0m2 0h0m1 0h0m1 0h0m-7 1h0m1 0h0m1 0h0m1 0h0m-4 1h0m1 0h0m1 0h0m1 0h0m1 0h0m1 0h0m-6 1h0m1 0h0m1 0h0m1 0h0m1 0h0m1 0h0m1 0h0m-8 1h0m2 0h0m1 0h0m1 0h0m1 0h0m1 0h0m1 0h0m-6 1h0m2 0h0m1 0h0m1 0h0m1 0h0m-6 1h0m1 0h0m1 0h0m1 0h0m1 0h0m3 0h0m-8 1h0m1 0h0m1 0h0m2 0h0m1 0h0m-5 1h0m1 0h0m2 0h0m1 0h0m-5 1h0m1 0h0m1 0h0m1 0h0m1 0h0m-4 1h0m1 0h0m1 0h0m1 0h0m1 0h0m-5 1h0m1 0h0m1 0h0m1 0h0m1 0h0m-5 1h0m1 0h0m1 0h0m1 0h0m1 0h0m-3 1h0m1 0h0m1 0h0m1 0h0m-4 1h0m1 0h0m1 0h0m1 0h0m1 0h0m-5 1h0m1 0h0m1 0h0m1 0h0m-2 1h0m1 0h0m1 0h0m-2 1h0m1 0h0m0 1h0" stroke="#808000" stroke-width="2" stroke-linecap="square" fill="none"/><rect x="339" y="258.4" width="48.4" height="18.1" fill="#fff" stroke="#333" stroke-width="1"/><text x="363.2" y="272.9" class="lg" text-anchor="middle">Hindex</text><text x="278.5" y="294.7" class="tk" text-anchor="middle">0</text><text x="298.4" y="294.7" class="tk" text-anchor="middle">20</text><text x="319.1" y="294.7" class="tk" text-anchor="middle">40</text><text x="339.9" y="294.7" class="tk" text-anchor="middle">60</text><text x="360.2" y="294.7" class="tk" text-anchor="middle">80</text><text x="380.8" y="294.7" class="tk" text-anchor="middle">100</text><path d="M278.5 284.8v-2" class="tm"/><path d="M298.4 284.8v-2" class="tm"/><path d="M319.1 284.8v-2" class="tm"/><path d="M339.9 284.8v-2" class="tm"/><path d="M360.2 284.8v-2" class="tm"/><path d="M380.8 284.8v-2" class="tm"/><path d="M288.5 284.8v-2" class="tm"/><path d="M308.8 284.8v-2" class="tm"/><path d="M329.5 284.8v-2" class="tm"/><path d="M350 284.8v-2" class="tm"/><path d="M370.5 284.8v-2" class="tm"/><polygon points="399,219 399,273.4 403.3,273.4 402.4,219" fill="#800080"/><path d="M498 191h0m-17 1h0m-81 1h0m1 0h0m11 0h0m3 0h0m3 0h0m30 0h0m21 0h0m-69 1h0m1 0h0m1 0h0m18 0h0m2 0h0m17 0h0m-39 1h0m1 0h0m1 0h0m2 0h0m1 0h0m2 0h0m3 0h0m4 0h0m4 0h0m15 0h0m8 0h0m2 0h0m8 0h0m14 0h0m-65 1h0m1 0h0m1 0h0m2 0h0m2 0h0m3 0h0m2 0h0m1 0h0m1 0h0m2 0h0m9 0h0m1 0h0m14 0h0m13 0h0m2 0h0m5 0h0m-60 1h0m3 0h0m1 0h0m1 0h0m1 0h0m4 0h0m25 0h0m4 0h0m-38 1h0m1 0h0m3 0h0m8 0h0m23 0h0m4 0h0m6 0h0m4 0h0m1 0h0m-51 1h0m1 0h0m1 0h0m1 0h0m1 0h0m1 0h0m1 0h0m2 0h0m1 0h0m2 0h0m1 0h0m2 0h0m11 0h0m2 0h0m6 0h0m9 0h0m6 0h0m5 0h0m2 0h0m11 0h0m-66 1h0m1 0h0m2 0h0m1 0h0m2 0h0m1 0h0m-7 1h0m1 0h0m1 0h0m2 0h0m4 0h0m9 0h0m2 0h0m3 0h0m6 0h0m2 0h0m5 0h0m1 0h0m-35 1h0m1 0h0m1 0h0m2 0h0m1 0h0m5 0h0m2 0h0m7 0h0m8 0h0m12 0h0m1 0h0m7 0h0m-47 1h0m1 0h0m2 0h0m4 0h0m1 0h0m1 0h0m7 0h0m23 0h0m1 0h0m34 0h0m-74 1h0m1 0h0m10 0h0m1 0h0m2 0h0m14 0h0m1 0h0m3 0h0m3 0h0m3 0h0m1 0h0m-39 1h0m1 0h0m1 0h0m1 0h0m1 0h0m7 0h0m19 0h0m4 0h0m9 0h0m5 0h0m5 0h0m9 0h0m9 0h0m-72 1h0m1 0h0m1 0h0m1 0h0m3 0h0m1 0h0m3 0h0m9 0h0m6 0h0m2 0h0m5 0h0m4 0h0m1 0h0m8 0h0m-44 1h0m1 0h0m2 0h0m1 0h0m8 0h0m6 0h0m2 0h0m1 0h0m-22 1h0m2 0h0m1 0h0m3 0h0m3 0h0m7 0h0m1 0h0m2 0h0m1 0h0m6 0h0m2 0h0m13 0h0m3 0h0m2 0h0m3 0h0m-49 1h0m1 0h0m1 0h0m9 0h0m1 0h0m4 0h0m15 0h0m5 0h0m7 0h0m1 0h0m4 0h0m2 0h0m-49 1h0m1 0h0m9 0h0m11 0h0m1 0h0m2 0h0m4 0h0m9 0h0m4 0h0m6 0h0m14 0h0m-62 1h0m3 0h0m1 0h0m1 0h0m3 0h0m1 0h0m3 0h0m1 0h0m2 0h0m5 0h0m2 0h0m13 0h0m8 0h0m2 0h0m-44 1h0m1 0h0m1 0h0m1 0h0m5 0h0m7 0h0m6 0h0m9 0h0m4 0h0m-35 1h0m1 0h0m1 0h0m1 0h0m4 0h0m3 0h0m8 0h0m4 0h0m6 0h0m1 0h0m8 0h0m-37 1h0m1 0h0m5 0h0m13 0h0m8 0h0m8 0h0m4 0h0m2 0h0m-41 1h0m1 0h0m1 0h0m3 0h0m1 0h0m2 0h0m5 0h0m5 0h0m22 0h0m-40 1h0m1 0h0m1 0h0m1 0h0m1 0h0m2 0h0m4 0h0m5 0h0m2 0h0m2 0h0m9 0h0m-27 1h0m1 0h0m1 0h0m2 0h0m3 0h0m8 0h0m1 0h0m1 0h0m6 0h0m3 0h0m6 0h0m3 0h0m11 0h0m5 0h0m-50 1h0m1 0h0m3 0h0m2 0h0m3 0h0m3 0h0m19 0h0m6 0h0m19 0h0m-58 1h0m1 0h0m1 0h0m1 0h0m6 0h0m5 0h0m1 0h0m4 0h0m3 0h0m2 0h0m1 0h0m1 0h0m1 0h0m5 0h0m-32 1h0m1 0h0m1 0h0m1 0h0m1 0h0m2 0h0m4 0h0m2 0h0m1 0h0m3 0h0m6 0h0m6 0h0m9 0h0m1 0h0m-38 1h0m1 0h0m2 0h0m3 0h0m1 0h0m1 0h0m4 0h0m20 0h0m11 0h0m-43 1h0m1 0h0m1 0h0m3 0h0m5 0h0m23 0h0m1 0h0m1 0h0m-33 1h0m1 0h0m2 0h0m2 0h0m3 0h0m9 0h0m13 0h0m3 0h0m-35 1h0m1 0h0m1 0h0m3 0h0m1 0h0m1 0h0m4 0h0m1 0h0m1 0h0m7 0h0m8 0h0m1 0h0m-29 1h0m1 0h0m1 0h0m1 0h0m2 0h0m13 0h0m1 0h0m4 0h0m6 0h0m-29 1h0m1 0h0m1 0h0m1 0h0m2 0h0m2 0h0m7 0h0m12 0h0m1 0h0m-27 1h0m1 0h0m1 0h0m1 0h0m4 0h0m4 0h0m2 0h0m6 0h0m4 0h0m3 0h0m14 0h0m-40 1h0m1 0h0m2 0h0m2 0h0m2 0h0m11 0h0m7 0h0m2 0h0m2 0h0m2 0h0m-31 1h0m1 0h0m1 0h0m1 0h0m1 0h0m4 0h0m1 0h0m6 0h0m1 0h0m6 0h0m3 0h0m-24 1h0m1 0h0m1 0h0m8 0h0m1 0h0m1 0h0m3 0h0m3 0h0m1 0h0m18 0h0m-38 1h0m1 0h0m1 0h0m1 0h0m12 0h0m1 0h0m1 0h0m4 0h0m1 0h0m2 0h0m5 0h0m-29 1h0m1 0h0m1 0h0m1 0h0m1 0h0m1 0h0m25 0h0m-30 1h0m1 0h0m2 0h0m2 0h0m3 0h0m3 0h0m1 0h0m3 0h0m6 0h0m-20 1h0m1 0h0m1 0h0m2 0h0m8 0h0m2 0h0m6 0h0m3 0h0m-24 1h0m1 0h0m1 0h0m1 0h0m9 0h0m1 0h0m1 0h0m2 0h0m3 0h0m7 0h0m4 0h0m-30 1h0m1 0h0m1 0h0m6 0h0m9 0h0m2 0h0m-19 1h0m2 0h0m1 0h0m1 0h0m4 0h0m1 0h0m3 0h0m9 0h0m-21 1h0m1 0h0m1 0h0m1 0h0m1 0h0m1 0h0m2 0h0m11 0h0m18 0h0m-35 1h0m1 0h0m1 0h0m3 0h0m1 0h0m1 0h0m4 0h0m1 0h0m2 0h0m5 0h0m-19 1h0m1 0h0m1 0h0m1 0h0m1 0h0m7 0h0m3 0h0m1 0h0m-16 1h0m1 0h0m1 0h0m2 0h0m12 0h0m3 0h0m1 0h0m1 0h0m2 0h0m-23 1h0m1 0h0m1 0h0m1 0h0m2 0h0m1 0h0m5 0h0m-11 1h0m1 0h0m1 0h0m3 0h0m4 0h0m2 0h0m4 0h0m3 0h0m-17 1h0m1 0h0m2 0h0m2 0h0m3 0h0m10 0h0m-19 1h0m1 0h0m1 0h0m1 0h0m1 0h0m7 0h0m6 0h0m4 0h0m-20 1h0m10 0h0m7 0h0m-17 1h0m1 0h0m1 0h0m1 0h0m1 0h0m1 0h0m5 0h0m2 0h0m7 0h0m-19 1h0m1 0h0m2 0h0m10 0h0m-14 1h0m1 0h0m1 0h0m1 0h0m1 0h0m1 0h0m3 0h0m10 0h0m1 0h0m-18 1h0m1 0h0m1 0h0m1 0h0m3 0h0m1 0h0m5 0h0m1 0h0m3 0h0m-17 1h0m1 0h0m1 0h0m1 0h0m1 0h0m1 0h0m1 0h0m2 0h0m1 0h0m2 0h0m3 0h0m3 0h0m2 0h0m-19 1h0m1 0h0m1 0h0m1 0h0m1 0h0m9 0h0m3 0h0m-17 1h0m2 0h0m1 0h0m1 0h0m1 0h0m5 0h0m5 0h0m2 0h0m-16 1h0m1 0h0m1 0h0m1 0h0m1 0h0m8 0h0m3 0h0m-15 1h0m1 0h0m1 0h0m1 0h0m1 0h0m1 0h0m5 0h0m-10 1h0m1 0h0m1 0h0m2 0h0m3 0h0m1 0h0m8 0h0m-16 1h0m1 0h0m2 0h0m1 0h0m2 0h0m6 0h0m4 0h0m-15 1h0m1 0h0m1 0h0m2 0h0m6 0h0m2 0h0m-12 1h0m1 0h0m1 0h0m1 0h0m3 0h0m-6 1h0m1 0h0m1 0h0m38 0h0m-41 1h0m1 0h0m1 0h0m1 0h0m4 0h0m1 0h0m1 0h0m4 0h0m1 0h0m-14 1h0m2 0h0m1 0h0m3 0h0m2 0h0m-8 1h0m1 0h0m1 0h0m1 0h0m1 0h0m2 0h0m1 0h0m7 0h0m-14 1h0m1 0h0m1 0h0m1 0h0m3 0h0m3 0h0m-9 1h0m1 0h0m1 0h0m1 0h0m1 0h0m1 0h0m2 0h0m1 0h0m3 0h0m1 0h0m-12 1h0m1 0h0m1 0h0m-1 1h0m1 0h0m1 0h0m1 0h0m1 0h0m1 0h0m-6 1h0m1 0h0m1 0h0m1 0h0m1 0h0m2 0h0m1 0h0m-7 1h0m1 0h0m3 0h0m3 0h0m2 0h0m2 0h0m-10 1h0m1 0h0m1 0h0m9 0h0m-12 1h0m1 0h0m1 0h0m1 0h0m1 0h0m2 0h0m1 0h0m2 0h0m-9 1h0m1 0h0m1 0h0m1 0h0m2 0h0m2 0h0m1 0h0m-8 1h0m1 0h0m2 0h0m1 0h0m2 0h0m-4 1h0" stroke="#800080" stroke-width="2" stroke-linecap="square" fill="none"/><rect x="472.4" y="258.7" width="36.2" height="17.6" fill="#fff" stroke="#333" stroke-width="1"/><text x="490.5" y="272.7" class="lg" text-anchor="middle">HITS</text><text x="399.8" y="294.7" class="tk" text-anchor="middle">0</text><text x="418.5" y="294.7" class="tk" text-anchor="middle">2</text><text x="437.5" y="294.7" class="tk" text-anchor="middle">4</text><text x="456.5" y="294.7" class="tk" text-anchor="middle">6</text><text x="475.3" y="294.7" class="tk" text-anchor="middle">8</text><text x="494.5" y="294.7" class="tk" text-anchor="middle">10</text><text x="513.8" y="294.7" class="tk" text-anchor="middle">12</text><path d="M399.8 284.8v-2" class="tm"/><path d="M418.5 284.8v-2" class="tm"/><path d="M437.5 284.8v-2" class="tm"/><path d="M456.5 284.8v-2" class="tm"/><path d="M475.3 284.8v-2" class="tm"/><path d="M494.5 284.8v-2" class="tm"/><path d="M409.1 284.8v-2" class="tm"/><path d="M428 284.8v-2" class="tm"/><path d="M447 284.8v-2" class="tm"/><path d="M465.9 284.8v-2" class="tm"/><path d="M484.9 284.8v-2" class="tm"/><path d="M504.1 284.8v-2" class="tm"/><path d="M556 190h0m1 0h0m-7 1h0m16 0h0m26 0h0m-47 1h0m44 0h0m-62 2h0m1 0h0m41 0h0m-42 1h0m1 0h0m1 0h0m3 0h0m2 0h0m4 0h0m1 0h0m3 0h0m20 0h0m-35 1h0m1 0h0m4 0h0m2 0h0m-8 1h0m1 0h0m1 0h0m1 0h0m1 0h0m3 0h0m1 0h0m3 0h0m3 0h0m12 0h0m28 0h0m-53 1h0m2 0h0m1 0h0m2 0h0m6 0h0m-12 1h0m1 0h0m1 0h0m1 0h0m1 0h0m3 0h0m5 0h0m84 0h0m-95 1h0m1 0h0m3 0h0m1 0h0m16 0h0m10 0h0m-33 1h0m2 0h0m2 0h0m2 0h0m3 0h0m2 0h0m-10 1h0m3 0h0m2 0h0m2 0h0m4 0h0m-12 1h0m1 0h0m2 0h0m2 0h0m1 0h0m4 0h0m9 0h0m-18 1h0m1 0h0m1 0h0m1 0h0m2 0h0m4 0h0m1 0h0m-11 1h0m1 0h0m1 0h0m1 0h0m4 0h0m3 0h0m-10 1h0m1 0h0m3 0h0m2 0h0m1 0h0m-6 1h0m1 0h0m2 0h0m1 0h0m1 0h0m1 0h0m2 0h0m-8 1h0m1 0h0m1 0h0m1 0h0m1 0h0m2 0h0m13 0h0m-19 1h0m2 0h0m4 0h0m2 0h0m6 0h0m-14 1h0m3 0h0m1 0h0m2 0h0m1 0h0m-8 1h0m1 0h0m1 0h0m1 0h0m1 0h0m1 0h0m2 0h0m-6 1h0m1 0h0m1 0h0m1 0h0m3 0h0m1 0h0m-8 1h0m1 0h0m4 0h0m1 0h0m2 0h0m-8 1h0m2 0h0m1 0h0m1 0h0m3 0h0m-7 1h0m1 0h0m1 0h0m1 0h0m1 0h0m2 0h0m-5 1h0m2 0h0m1 0h0m1 0h0m2 0h0m-7 1h0m1 0h0m2 0h0m1 0h0m1 0h0m1 0h0m-7 1h0m1 0h0m1 0h0m1 0h0m3 0h0m1 0h0m1 0h0m-6 1h0m3 0h0m1 0h0m15 0h0m-20 1h0m2 0h0m1 0h0m3 0h0m-6 1h0m1 0h0m1 0h0m1 0h0m1 0h0m1 0h0m-5 1h0m1 0h0m1 0h0m2 0h0m2 0h0m6 0h0m-12 1h0m2 0h0m4 0h0m-6 1h0m2 0h0m1 0h0m2 0h0m2 0h0m-7 1h0m1 0h0m1 0h0m2 0h0m1 0h0m1 0h0m-7 1h0m1 0h0m1 0h0m1 0h0m1 0h0m2 0h0m5 0h0m-9 1h0m1 0h0m2 0h0m16 0h0m-20 1h0m2 0h0m1 0h0m2 0h0m1 0h0m-6 1h0m1 0h0m2 0h0m1 0h0m1 0h0m-5 1h0m1 0h0m1 0h0m3 0h0m-6 1h0m1 0h0m3 0h0m1 0h0m-4 1h0m1 0h0m1 0h0m1 0h0m1 0h0m1 0h0m1 0h0m10 0h0m-17 1h0m1 0h0m1 0h0m1 0h0m1 0h0m1 0h0m1 0h0m1 0h0m-7 1h0m1 0h0m2 0h0m1 0h0m1 0h0m-5 1h0m1 0h0m1 0h0m3 0h0m1 0h0m-6 1h0m1 0h0m1 0h0m1 0h0m2 0h0m1 0h0m-5 1h0m1 0h0m1 0h0m1 0h0m1 0h0m-5 1h0m1 0h0m2 0h0m1 0h0m-3 1h0m1 0h0m2 0h0m-4 1h0m1 0h0m1 0h0m1 0h0m1 0h0m1 0h0m-4 1h0m1 0h0m1 0h0m1 0h0m1 0h0m-4 1h0m1 0h0m1 0h0m2 0h0m-4 1h0m1 0h0m2 0h0m-4 1h0m1 0h0m1 0h0m1 0h0m-3 1h0m1 0h0m2 0h0m1 0h0m-4 1h0m1 0h0m2 0h0m1 0h0m-4 1h0m1 0h0m1 0h0m2 0h0m-4 1h0m1 0h0m1 0h0m1 0h0m-2 1h0m1 0h0m1 0h0m-2 1h0m1 0h0m1 0h0m-3 1h0m1 0h0m1 0h0m1 0h0m-3 1h0m2 0h0m0 1h0m-2 1h0m1 0h0m1 0h0m-2 1h0m1 0h0m-1 1h0m2 0h0m-2 1h0m1 0h0m1 0h0m-2 1h0m1 0h0m1 0h0m-2 1h0m2 0h0m1 0h0m-2 1h0m1 0h0m-2 1h0m1 0h0m1 0h0m-1 1h0m1 0h0m-2 1h0m1 0h0m0 1h0m-1 1h0m1 0h0m1 0h0m-2 1h0m1 0h0m1 0h0m-1 1h0m0 1h0m-1 1h0m1 0h0m1 0h0m-2 1h0m1 0h0m-1 1h0m0 1h0m1 0h0m1 0h0m-2 1h0m3 0h0" stroke="#ff00ff" stroke-width="2" stroke-linecap="square" fill="none"/><rect x="607.8" y="258.4" width="24.7" height="17.2" fill="#fff" stroke="#333" stroke-width="1"/><text x="620.1" y="272" class="lg" text-anchor="middle">DIL</text><text x="524.9" y="294.7" class="tk" text-anchor="middle">0</text><text x="547" y="294.7" class="tk" text-anchor="middle">5</text><text x="569.8" y="294.7" class="tk" text-anchor="middle">10</text><text x="592.4" y="294.7" class="tk" text-anchor="middle">15</text><text x="614.7" y="294.7" class="tk" text-anchor="middle">20</text><path d="M524.9 284.8v-2" class="tm"/><path d="M547 284.8v-2" class="tm"/><path d="M569.8 284.8v-2" class="tm"/><path d="M592.4 284.8v-2" class="tm"/><path d="M614.7 284.8v-2" class="tm"/><path d="M535.9 284.8v-2" class="tm"/><path d="M558.4 284.8v-2" class="tm"/><path d="M581.1 284.8v-2" class="tm"/><path d="M603.6 284.8v-2" class="tm"/><path d="M738 191h0m5 0h0m8 0h0m-42 2h0m17 0h0m7 0h0m-26 1h0m1 0h0m1 0h0m1 0h0m1 0h0m1 0h0m8 0h0m-28 1h0m8 0h0m1 0h0m1 0h0m1 0h0m1 0h0m2 0h0m1 0h0m1 0h0m2 0h0m2 0h0m1 0h0m1 0h0m-21 1h0m1 0h0m1 0h0m2 0h0m1 0h0m1 0h0m3 0h0m1 0h0m3 0h0m1 0h0m1 0h0m1 0h0m-22 1h0m4 0h0m2 0h0m2 0h0m1 0h0m1 0h0m2 0h0m1 0h0m2 0h0m2 0h0m3 0h0m3 0h0m1 0h0m-24 1h0m1 0h0m1 0h0m1 0h0m1 0h0m1 0h0m2 0h0m1 0h0m2 0h0m1 0h0m1 0h0m3 0h0m2 0h0m1 0h0m1 0h0m3 0h0m-24 1h0m2 0h0m1 0h0m2 0h0m1 0h0m2 0h0m2 0h0m1 0h0m1 0h0m1 0h0m1 0h0m1 0h0m1 0h0m1 0h0m1 0h0m-20 1h0m1 0h0m1 0h0m1 0h0m4 0h0m1 0h0m1 0h0m1 0h0m2 0h0m2 0h0m2 0h0m2 0h0m1 0h0m-18 1h0m1 0h0m1 0h0m1 0h0m1 0h0m1 0h0m1 0h0m1 0h0m1 0h0m1 0h0m1 0h0m2 0h0m3 0h0m2 0h0m-21 1h0m1 0h0m1 0h0m1 0h0m1 0h0m1 0h0m4 0h0m1 0h0m4 0h0m3 0h0m1 0h0m-17 1h0m2 0h0m1 0h0m1 0h0m1 0h0m1 0h0m1 0h0m1 0h0m2 0h0m1 0h0m1 0h0m1 0h0m2 0h0m-16 1h0m2 0h0m1 0h0m2 0h0m1 0h0m1 0h0m1 0h0m2 0h0m1 0h0m1 0h0m1 0h0m1 0h0m1 0h0m-16 1h0m1 0h0m1 0h0m1 0h0m1 0h0m1 0h0m1 0h0m1 0h0m2 0h0m1 0h0m1 0h0m3 0h0m1 0h0m-17 1h0m1 0h0m2 0h0m1 0h0m1 0h0m1 0h0m1 0h0m2 0h0m1 0h0m1 0h0m1 0h0m1 0h0m1 0h0m2 0h0m-16 1h0m1 0h0m1 0h0m2 0h0m1 0h0m1 0h0m1 0h0m3 0h0m4 0h0m-15 1h0m1 0h0m1 0h0m1 0h0m1 0h0m1 0h0m1 0h0m1 0h0m1 0h0m3 0h0m1 0h0m-15 1h0m2 0h0m1 0h0m1 0h0m1 0h0m1 0h0m1 0h0m1 0h0m4 0h0m-11 1h0m1 0h0m1 0h0m1 0h0m1 0h0m2 0h0m1 0h0m1 0h0m1 0h0m1 0h0m2 0h0m-12 1h0m2 0h0m2 0h0m2 0h0m1 0h0m2 0h0m-9 1h0m1 0h0m1 0h0m1 0h0m1 0h0m1 0h0m2 0h0m1 0h0m-10 1h0m1 0h0m1 0h0m1 0h0m1 0h0m1 0h0m1 0h0m2 0h0m1 0h0m-10 1h0m1 0h0m1 0h0m1 0h0m1 0h0m1 0h0m1 0h0m1 0h0m-8 1h0m1 0h0m1 0h0m2 0h0m1 0h0m-4 1h0m1 0h0m1 0h0m2 0h0m1 0h0m1 0h0m-7 1h0m1 0h0m1 0h0m1 0h0m2 0h0m1 0h0m1 0h0m-7 1h0m1 0h0m1 0h0m1 0h0m1 0h0m1 0h0m1 0h0m-7 1h0m1 0h0m1 0h0m1 0h0m1 0h0m-4 1h0m1 0h0m1 0h0m1 0h0m1 0h0m1 0h0m1 0h0m-7 1h0m1 0h0m1 0h0m1 0h0m1 0h0m1 0h0m-7 1h0m1 0h0m1 0h0m1 0h0m2 0h0m1 0h0m1 0h0m-7 1h0m1 0h0m1 0h0m3 0h0m-5 1h0m1 0h0m1 0h0m2 0h0m1 0h0m2 0h0m-8 1h0m1 0h0m1 0h0m1 0h0m1 0h0m1 0h0m1 0h0m1 0h0m-5 1h0m1 0h0m1 0h0m1 0h0m1 0h0m-7 1h0m1 0h0m1 0h0m1 0h0m1 0h0m1 0h0m-5 1h0m1 0h0m1 0h0m1 0h0m1 0h0m1 0h0m1 0h0m-7 1h0m1 0h0m1 0h0m1 0h0m1 0h0m1 0h0m1 0h0m-5 1h0m1 0h0m3 0h0m-5 1h0m1 0h0m1 0h0m1 0h0m1 0h0m1 0h0m-5 1h0m1 0h0m1 0h0m1 0h0m1 0h0m-6 1h0m2 0h0m1 0h0m1 0h0m1 0h0m-5 1h0m1 0h0m1 0h0m1 0h0m1 0h0m1 0h0m1 0h0m-7 1h0m1 0h0m1 0h0m1 0h0m1 0h0m1 0h0m-5 1h0m1 0h0m2 0h0m2 0h0m-5 1h0m1 0h0m1 0h0m1 0h0m1 0h0m-4 1h0m1 0h0m2 0h0m1 0h0m-6 1h0m2 0h0m2 0h0m1 0h0m1 0h0m-5 1h0m1 0h0m1 0h0m1 0h0m-4 1h0m1 0h0m1 0h0m1 0h0m-2 1h0m1 0h0m1 0h0m-4 1h0m1 0h0m1 0h0m1 0h0m1 0h0m1 0h0m-4 1h0m2 0h0m1 0h0m-5 1h0m1 0h0m1 0h0m2 0h0m-3 1h0m1 0h0m1 0h0m1 0h0m-4 1h0m1 0h0m1 0h0m1 0h0m-3 1h0m2 0h0m1 0h0m-3 1h0m1 0h0m1 0h0m1 0h0m-4 1h0m1 0h0m1 0h0m1 0h0m-2 1h0m1 0h0m1 0h0m-3 1h0m1 0h0m1 0h0m1 0h0m-3 1h0m1 0h0m-2 1h0m1 0h0m1 0h0m1 0h0m-3 1h0m1 0h0m1 0h0m1 0h0m-3 1h0m1 0h0m-1 1h0m1 0h0m1 0h0m-3 1h0m1 0h0m1 0h0m1 0h0m-3 1h0m1 0h0m1 0h0m-2 1h0m1 0h0m-1 1h0m1 0h0m-2 1h0m1 0h0m1 0h0m-2 1h0m1 0h0m1 0h0m-2 1h0m0 1h0m-1 1h0m2 0h0m-2 1h0m1 0h0m1 0h0m-2 1h0m1 0h0m0 1h0m-1 1h0m0 1h0m1 0h0m-2 1h0m1 0h0m0 1h0m1 0h0" stroke="#008080" stroke-width="2" stroke-linecap="square" fill="none"/><rect x="713.5" y="258.4" width="42" height="17.2" fill="#fff" stroke="#333" stroke-width="1"/><text x="734.5" y="272" class="lg" text-anchor="middle">LENC</text><text x="637.2" y="294.7" class="tk" text-anchor="middle">-5</text><text x="651.3" y="294.7" class="tk" text-anchor="middle">0</text><text x="665.7" y="294.7" class="tk" text-anchor="middle">5</text><text x="680.4" y="294.7" class="tk" text-anchor="middle">10</text><text x="695" y="294.7" class="tk" text-anchor="middle">15</text><text x="708.9" y="294.7" class="tk" text-anchor="middle">20</text><text x="722.7" y="294.7" class="tk" text-anchor="middle">25</text><text x="736.5" y="294.7" class="tk" text-anchor="middle">30</text><text x="750.8" y="294.7" class="tk" text-anchor="middle">35</text><path d="M651.3 284.8v-2" class="tm"/><path d="M665.7 284.8v-2" class="tm"/><path d="M680.4 284.8v-2" class="tm"/><path d="M695 284.8v-2" class="tm"/><path d="M708.9 284.8v-2" class="tm"/><path d="M722.7 284.8v-2" class="tm"/><path d="M736.5 284.8v-2" class="tm"/><path d="M750.8 284.8v-2" class="tm"/><path d="M644.3 284.8v-2" class="tm"/><path d="M658.5 284.8v-2" class="tm"/><path d="M673 284.8v-2" class="tm"/><path d="M687.7 284.8v-2" class="tm"/><path d="M701.9 284.8v-2" class="tm"/><path d="M715.8 284.8v-2" class="tm"/><path d="M729.6 284.8v-2" class="tm"/><path d="M743.7 284.8v-2" class="tm"/><rect x="21.4" y="182" width="739.1" height="102.8" class="fr"/><path d="M144.6 182V284.8" class="fr"/><path d="M267.8 182V284.8" class="fr"/><path d="M390.9 182V284.8" class="fr"/><path d="M514.1 182V284.8" class="fr"/><path d="M637.3 182V284.8" class="fr"/><text x="19.6" y="184.4" class="tk" text-anchor="end">40</text><path d="M21.4 180.6h2" class="tm"/><text x="19.6" y="207.8" class="tk" text-anchor="end">30</text><path d="M21.4 204h2" class="tm"/><text x="19.6" y="230.8" class="tk" text-anchor="end">20</text><path d="M21.4 227h2" class="tm"/><text x="19.6" y="253.8" class="tk" text-anchor="end">10</text><path d="M21.4 250h2" class="tm"/><text x="19.6" y="276.8" class="tk" text-anchor="end">0</text><path d="M21.4 273h2" class="tm"/><text x="390.3" y="338.4" class="cap" text-anchor="middle">(b) Moreno-blogs</text></g>
<g><polygon points="60,455.5 71.4,450.3 74,445.1 77.1,439.9 79.2,434.7 81.3,429.5 82.9,424.3 84.9,419.1 87,413.9 88.1,408.8 89.6,403.6 91.2,398.4 92.7,393.2 94.3,388 95.8,382.8 98.4,377.6 101,374.5 103.6,372.4 105.7,371.4 125.5,371.4 116.1,372.4 111.9,374.5 109.9,377.6 107.8,382.8 106.2,388 104.7,393.2 103.6,398.4 102.6,403.6 102.1,408.8 101.6,413.9 101,419.1 99.5,424.3 98.4,429.5 96.4,434.7 95.8,439.9 94.3,445.1 94.3,450.3 91.2,455.5" fill="#00ff00"/><path d="M109 371h0m9 0h0m-11 1h0m2 0h0m5 0h0m1 0h0m1 0h0m3 0h0m-14 1h0m1 0h0m1 0h0m1 0h0m1 0h0m1 0h0m1 0h0m1 0h0m-13 1h0m6 0h0m1 0h0m1 0h0m1 0h0m1 0h0m1 0h0m2 0h0m-8 1h0m1 0h0m1 0h0m1 0h0m1 0h0m1 0h0m-14 1h0m5 0h0m1 0h0m1 0h0m1 0h0m1 0h0m2 0h0m1 0h0m1 0h0m1 0h0m-13 1h0m2 0h0m5 0h0m1 0h0m1 0h0m1 0h0m1 0h0m-10 1h0m5 0h0m1 0h0m1 0h0m1 0h0m2 0h0m2 0h0m-14 1h0m4 0h0m1 0h0m2 0h0m1 0h0m1 0h0m1 0h0m2 0h0m1 0h0m1 0h0m-13 1h0m1 0h0m1 0h0m2 0h0m1 0h0m1 0h0m1 0h0m1 0h0m1 0h0m1 0h0m2 0h0m1 0h0m-10 1h0m2 0h0m1 0h0m1 0h0m1 0h0m3 0h0m-11 1h0m1 0h0m2 0h0m2 0h0m1 0h0m1 0h0m3 0h0m-13 1h0m5 0h0m1 0h0m1 0h0m1 0h0m1 0h0m1 0h0m1 0h0m1 0h0m1 0h0m1 0h0m-12 1h0m4 0h0m1 0h0m1 0h0m1 0h0m1 0h0m1 0h0m1 0h0m1 0h0m-12 1h0m1 0h0m2 0h0m2 0h0m1 0h0m1 0h0m1 0h0m1 0h0m3 0h0m-12 1h0m3 0h0m1 0h0m2 0h0m1 0h0m2 0h0m1 0h0m1 0h0m-6 1h0m1 0h0m1 0h0m1 0h0m1 0h0m1 0h0m-9 1h0m2 0h0m1 0h0m1 0h0m1 0h0m1 0h0m1 0h0m1 0h0m1 0h0m-11 1h0m3 0h0m1 0h0m1 0h0m4 0h0m-8 1h0m1 0h0m1 0h0m2 0h0m1 0h0m1 0h0m1 0h0m1 0h0m1 0h0m-6 1h0m2 0h0m2 0h0m1 0h0m-12 1h0m5 0h0m1 0h0m1 0h0m2 0h0m2 0h0m1 0h0m1 0h0m1 0h0m-9 1h0m1 0h0m1 0h0m1 0h0m1 0h0m1 0h0m1 0h0m1 0h0m-8 1h0m2 0h0m1 0h0m1 0h0m1 0h0m4 0h0m1 0h0m-15 1h0m4 0h0m2 0h0m1 0h0m1 0h0m1 0h0m1 0h0m1 0h0m2 0h0m-9 1h0m2 0h0m1 0h0m1 0h0m1 0h0m1 0h0m2 0h0m-7 1h0m1 0h0m1 0h0m1 0h0m1 0h0m6 0h0m-11 1h0m1 0h0m1 0h0m1 0h0m1 0h0m1 0h0m2 0h0m1 0h0m-8 1h0m1 0h0m1 0h0m1 0h0m1 0h0m1 0h0m2 0h0m1 0h0m1 0h0m-14 1h0m5 0h0m1 0h0m1 0h0m1 0h0m2 0h0m1 0h0m3 0h0m-12 1h0m5 0h0m1 0h0m1 0h0m1 0h0m1 0h0m1 0h0m1 0h0m-13 1h0m2 0h0m4 0h0m1 0h0m2 0h0m1 0h0m1 0h0m1 0h0m-14 1h0m4 0h0m4 0h0m1 0h0m2 0h0m1 0h0m1 0h0m1 0h0m-9 1h0m1 0h0m1 0h0m1 0h0m1 0h0m1 0h0m1 0h0m1 0h0m1 0h0m1 0h0m-7 1h0m1 0h0m1 0h0m1 0h0m1 0h0m1 0h0m1 0h0m1 0h0m-11 1h0m2 0h0m1 0h0m2 0h0m1 0h0m1 0h0m2 0h0m1 0h0m1 0h0m-10 1h0m1 0h0m1 0h0m1 0h0m1 0h0m1 0h0m2 0h0m2 0h0m1 0h0m-17 1h0m9 0h0m3 0h0m3 0h0m2 0h0m-7 1h0m1 0h0m1 0h0m1 0h0m1 0h0m1 0h0m1 0h0m1 0h0m1 0h0m-15 1h0m3 0h0m1 0h0m2 0h0m1 0h0m1 0h0m1 0h0m1 0h0m2 0h0m1 0h0m-13 1h0m1 0h0m1 0h0m3 0h0m1 0h0m2 0h0m1 0h0m1 0h0m1 0h0m1 0h0m3 0h0m-12 1h0m1 0h0m2 0h0m1 0h0m1 0h0m1 0h0m1 0h0m1 0h0m3 0h0m-17 1h0m1 0h0m3 0h0m3 0h0m1 0h0m1 0h0m1 0h0m1 0h0m1 0h0m1 0h0m1 0h0m3 0h0m-11 1h0m4 0h0m1 0h0m1 0h0m1 0h0m1 0h0m4 0h0m-17 1h0m4 0h0m1 0h0m2 0h0m2 0h0m1 0h0m1 0h0m1 0h0m1 0h0m1 0h0m2 0h0m-13 1h0m1 0h0m3 0h0m1 0h0m2 0h0m1 0h0m1 0h0m1 0h0m1 0h0m2 0h0m2 0h0m-13 1h0m1 0h0m1 0h0m1 0h0m1 0h0m2 0h0m1 0h0m1 0h0m3 0h0m-17 1h0m2 0h0m1 0h0m1 0h0m1 0h0m1 0h0m1 0h0m1 0h0m1 0h0m4 0h0m3 0h0m-10 1h0m2 0h0m1 0h0m1 0h0m1 0h0m1 0h0m1 0h0m1 0h0m2 0h0m1 0h0m-14 1h0m3 0h0m2 0h0m1 0h0m1 0h0m1 0h0m1 0h0m1 0h0m1 0h0m1 0h0m-18 1h0m5 0h0m3 0h0m2 0h0m1 0h0m1 0h0m1 0h0m1 0h0m2 0h0m1 0h0m1 0h0m2 0h0m-15 1h0m2 0h0m1 0h0m1 0h0m1 0h0m1 0h0m1 0h0m1 0h0m1 0h0m1 0h0m2 0h0m2 0h0m1 0h0m-18 1h0m5 0h0m2 0h0m1 0h0m1 0h0m2 0h0m1 0h0m1 0h0m1 0h0m1 0h0m1 0h0m-12 1h0m1 0h0m1 0h0m3 0h0m2 0h0m1 0h0m2 0h0m1 0h0m-13 1h0m3 0h0m1 0h0m1 0h0m1 0h0m1 0h0m1 0h0m1 0h0m2 0h0m2 0h0m-13 1h0m1 0h0m1 0h0m2 0h0m1 0h0m1 0h0m1 0h0m1 0h0m1 0h0m1 0h0m1 0h0m-9 1h0m2 0h0m1 0h0m1 0h0m1 0h0m1 0h0m6 0h0m-20 1h0m7 0h0m1 0h0m1 0h0m1 0h0m1 0h0m1 0h0m1 0h0m2 0h0m2 0h0m1 0h0m-16 1h0m2 0h0m2 0h0m1 0h0m1 0h0m2 0h0m1 0h0m1 0h0m1 0h0m2 0h0m1 0h0m1 0h0m-11 1h0m2 0h0m1 0h0m2 0h0m2 0h0m1 0h0m1 0h0m1 0h0m-15 1h0m1 0h0m3 0h0m1 0h0m1 0h0m2 0h0m1 0h0m1 0h0m1 0h0m1 0h0m1 0h0m1 0h0m1 0h0m1 0h0m-13 1h0m2 0h0m2 0h0m1 0h0m1 0h0m1 0h0m1 0h0m3 0h0m1 0h0m1 0h0m-13 1h0m2 0h0m2 0h0m1 0h0m1 0h0m1 0h0m2 0h0m1 0h0m2 0h0m1 0h0m-18 1h0m4 0h0m3 0h0m1 0h0m2 0h0m1 0h0m1 0h0m1 0h0m2 0h0m2 0h0m1 0h0m-16 1h0m4 0h0m1 0h0m1 0h0m2 0h0m2 0h0m1 0h0m1 0h0m4 0h0m-15 1h0m1 0h0m1 0h0m1 0h0m1 0h0m1 0h0m2 0h0m1 0h0m2 0h0m1 0h0m1 0h0m1 0h0m-16 1h0m3 0h0m1 0h0m1 0h0m1 0h0m1 0h0m1 0h0m1 0h0m1 0h0m1 0h0m1 0h0m1 0h0m1 0h0m1 0h0m1 0h0m-16 1h0m4 0h0m2 0h0m1 0h0m1 0h0m1 0h0m1 0h0m1 0h0m1 0h0m1 0h0m3 0h0m-13 1h0m2 0h0m1 0h0m1 0h0m1 0h0m1 0h0m1 0h0m1 0h0m1 0h0m1 0h0m1 0h0m1 0h0m-11 1h0m1 0h0m1 0h0m1 0h0m1 0h0m1 0h0m1 0h0m1 0h0m1 0h0m2 0h0m1 0h0m-18 1h0m1 0h0m5 0h0m2 0h0m1 0h0m1 0h0m1 0h0m1 0h0m1 0h0m1 0h0m1 0h0m1 0h0m1 0h0m3 0h0m-17 1h0m2 0h0m1 0h0m1 0h0m2 0h0m1 0h0m1 0h0m2 0h0m2 0h0m2 0h0m-17 1h0m4 0h0m1 0h0m1 0h0m1 0h0m1 0h0m1 0h0m1 0h0m1 0h0m1 0h0m2 0h0m-13 1h0m3 0h0m1 0h0m1 0h0m2 0h0m1 0h0m1 0h0m1 0h0m1 0h0m1 0h0m1 0h0m1 0h0m1 0h0m2 0h0m1 0h0m-17 1h0m2 0h0m1 0h0m1 0h0m1 0h0m2 0h0m1 0h0m1 0h0m1 0h0m1 0h0m1 0h0m1 0h0m3 0h0m1 0h0m-19 1h0m3 0h0m1 0h0m2 0h0m1 0h0m1 0h0m1 0h0m1 0h0m1 0h0m1 0h0m1 0h0m2 0h0m2 0h0m-18 1h0m3 0h0m1 0h0m3 0h0m1 0h0m2 0h0m1 0h0m1 0h0m1 0h0m1 0h0m1 0h0m3 0h0m-20 1h0m1 0h0m2 0h0m3 0h0m1 0h0m1 0h0m2 0h0m1 0h0m1 0h0m1 0h0m1 0h0m1 0h0m1 0h0m1 0h0m4 0h0m1 0h0m-18 1h0m3 0h0m1 0h0m2 0h0m1 0h0m1 0h0m3 0h0m2 0h0m2 0h0m1 0h0m-16 1h0m1 0h0m1 0h0m5 0h0m1 0h0m2 0h0m1 0h0m1 0h0m1 0h0m-17 1h0m2 0h0m1 0h0m1 0h0m4 0h0m1 0h0m1 0h0m1 0h0m1 0h0m2 0h0m2 0h0m2 0h0m1 0h0m1 0h0m-22 1h0m1 0h0m2 0h0m1 0h0m1 0h0m1 0h0m1 0h0m1 0h0m3 0h0m1 0h0m2 0h0m1 0h0m2 0h0m5 0h0m1 0h0m-25 1h0m5 0h0m1 0h0m2 0h0m1 0h0m2 0h0m1 0h0m1 0h0m1 0h0m2 0h0m1 0h0m1 0h0m2 0h0m2 0h0m-21 1h0m1 0h0m3 0h0m2 0h0m2 0h0m1 0h0m2 0h0m1 0h0m1 0h0m2 0h0m1 0h0m1 0h0m2 0h0m-20 1h0m1 0h0m2 0h0m1 0h0m2 0h0m1 0h0m1 0h0m1 0h0m1 0h0m2 0h0m1 0h0m3 0h0m1 0h0m4 0h0m1 0h0m-53 1h0m1 0h0m1 0h0m1 0h0m1 0h0m1 0h0m2 0h0m1 0h0m3 0h0m2 0h0m1 0h0m1 0h0m3 0h0m1 0h0m3 0h0m1 0h0m1 0h0m1 0h0m4 0h0m1 0h0m1 0h0m2 0h0m1 0h0m2 0h0m1 0h0m3 0h0m2 0h0m6 0h0m6 0h0m-56 1h0m2 0h0m2 0h0m1 0h0m1 0h0m1 0h0m3 0h0m2 0h0m1 0h0m6 0h0m2 0h0m1 0h0m1 0h0m4 0h0m1 0h0m1 0h0m1 0h0m5 0h0m3 0h0m1 0h0" stroke="#00ff00" stroke-width="2" stroke-linecap="square" fill="none"/><rect x="116.3" y="438" width="23.3" height="17.6" fill="#fff" stroke="#333" stroke-width="1"/><text x="127.9" y="452" class="lg" text-anchor="middle">CC</text><text x="28.2" y="476.1" class="tk" text-anchor="middle">10</text><text x="42.9" y="476.1" class="tk" text-anchor="middle">15</text><text x="57.9" y="476.1" class="tk" text-anchor="middle">20</text><text x="72.6" y="476.1" class="tk" text-anchor="middle">25</text><text x="87.5" y="476.1" class="tk" text-anchor="middle">30</text><text x="102" y="476.1" class="tk" text-anchor="middle">35</text><text x="116.8" y="476.1" class="tk" text-anchor="middle">40</text><text x="131.9" y="476.1" class="tk" text-anchor="middle">45</text><path d="M28.2 466.2v-2" class="tm"/><path d="M42.9 466.2v-2" class="tm"/><path d="M57.9 466.2v-2" class="tm"/><path d="M72.6 466.2v-2" class="tm"/><path d="M87.5 466.2v-2" class="tm"/><path d="M102 466.2v-2" class="tm"/><path d="M116.8 466.2v-2" class="tm"/><path d="M131.9 466.2v-2" class="tm"/><path d="M35.6 466.2v-2" class="tm"/><path d="M50.4 466.2v-2" class="tm"/><path d="M65.3 466.2v-2" class="tm"/><path d="M80 466.2v-2" class="tm"/><path d="M94.7 466.2v-2" class="tm"/><path d="M109.4 466.2v-2" class="tm"/><path d="M124.3 466.2v-2" class="tm"/><path d="M220 371h0m8 0h0m1 0h0m-58 1h0m14 0h0m10 0h0m3 0h0m7 0h0m4 0h0m1 0h0m6 0h0m1 0h0m1 0h0m2 0h0m-41 1h0m14 0h0m10 0h0m1 0h0m1 0h0m1 0h0m1 0h0m6 0h0m1 0h0m5 0h0m-53 1h0m2 0h0m3 0h0m1 0h0m1 0h0m2 0h0m4 0h0m4 0h0m3 0h0m12 0h0m2 0h0m4 0h0m-38 1h0m2 0h0m1 0h0m1 0h0m2 0h0m1 0h0m3 0h0m11 0h0m2 0h0m-27 1h0m4 0h0m1 0h0m3 0h0m1 0h0m5 0h0m3 0h0m2 0h0m4 0h0m2 0h0m-27 1h0m1 0h0m1 0h0m1 0h0m1 0h0m1 0h0m3 0h0m2 0h0m1 0h0m1 0h0m3 0h0m5 0h0m1 0h0m3 0h0m3 0h0m-27 1h0m1 0h0m1 0h0m1 0h0m1 0h0m2 0h0m1 0h0m6 0h0m2 0h0m5 0h0m2 0h0m-22 1h0m1 0h0m3 0h0m4 0h0m2 0h0m1 0h0m1 0h0m1 0h0m1 0h0m2 0h0m1 0h0m11 0h0m-29 1h0m1 0h0m1 0h0m1 0h0m2 0h0m11 0h0m2 0h0m3 0h0m2 0h0m3 0h0m-26 1h0m1 0h0m1 0h0m1 0h0m1 0h0m1 0h0m1 0h0m1 0h0m3 0h0m4 0h0m2 0h0m6 0h0m4 0h0m-28 1h0m2 0h0m2 0h0m1 0h0m5 0h0m1 0h0m2 0h0m5 0h0m1 0h0m1 0h0m4 0h0m1 0h0m-24 1h0m3 0h0m1 0h0m1 0h0m7 0h0m2 0h0m2 0h0m1 0h0m5 0h0m-23 1h0m1 0h0m1 0h0m1 0h0m1 0h0m4 0h0m2 0h0m1 0h0m2 0h0m3 0h0m1 0h0m6 0h0m-21 1h0m1 0h0m6 0h0m3 0h0m4 0h0m1 0h0m1 0h0m1 0h0m1 0h0m2 0h0m-22 1h0m1 0h0m1 0h0m1 0h0m1 0h0m4 0h0m5 0h0m1 0h0m3 0h0m2 0h0m4 0h0m-24 1h0m1 0h0m1 0h0m1 0h0m5 0h0m3 0h0m1 0h0m2 0h0m3 0h0m2 0h0m-19 1h0m1 0h0m1 0h0m1 0h0m2 0h0m2 0h0m1 0h0m1 0h0m1 0h0m3 0h0m1 0h0m1 0h0m1 0h0m1 0h0m2 0h0m1 0h0m1 0h0m-21 1h0m1 0h0m1 0h0m1 0h0m2 0h0m1 0h0m1 0h0m2 0h0m4 0h0m3 0h0m1 0h0m-17 1h0m1 0h0m1 0h0m1 0h0m1 0h0m2 0h0m1 0h0m2 0h0m3 0h0m4 0h0m-17 1h0m1 0h0m1 0h0m2 0h0m1 0h0m1 0h0m1 0h0m2 0h0m1 0h0m1 0h0m2 0h0m-12 1h0m1 0h0m2 0h0m2 0h0m1 0h0m3 0h0m1 0h0m2 0h0m3 0h0m3 0h0m-19 1h0m1 0h0m1 0h0m2 0h0m1 0h0m3 0h0m1 0h0m4 0h0m1 0h0m1 0h0m1 0h0m-16 1h0m1 0h0m1 0h0m1 0h0m1 0h0m1 0h0m1 0h0m2 0h0m2 0h0m3 0h0m1 0h0m-14 1h0m1 0h0m1 0h0m2 0h0m1 0h0m1 0h0m2 0h0m1 0h0m1 0h0m2 0h0m-12 1h0m1 0h0m1 0h0m1 0h0m1 0h0m1 0h0m2 0h0m4 0h0m5 0h0m-17 1h0m1 0h0m1 0h0m1 0h0m2 0h0m1 0h0m1 0h0m1 0h0m1 0h0m1 0h0m1 0h0m3 0h0m-14 1h0m2 0h0m1 0h0m1 0h0m2 0h0m1 0h0m2 0h0m2 0h0m1 0h0m1 0h0m3 0h0m-15 1h0m1 0h0m1 0h0m1 0h0m1 0h0m1 0h0m2 0h0m1 0h0m1 0h0m2 0h0m1 0h0m-13 1h0m1 0h0m1 0h0m1 0h0m1 0h0m2 0h0m2 0h0m1 0h0m3 0h0m1 0h0m1 0h0m-14 1h0m1 0h0m1 0h0m2 0h0m2 0h0m3 0h0m4 0h0m-13 1h0m1 0h0m1 0h0m1 0h0m1 0h0m2 0h0m4 0h0m3 0h0m-12 1h0m1 0h0m1 0h0m2 0h0m1 0h0m1 0h0m1 0h0m1 0h0m4 0h0m-14 1h0m1 0h0m1 0h0m1 0h0m1 0h0m2 0h0m1 0h0m1 0h0m1 0h0m2 0h0m1 0h0m-11 1h0m1 0h0m1 0h0m1 0h0m1 0h0m1 0h0m1 0h0m1 0h0m1 0h0m2 0h0m-11 1h0m1 0h0m1 0h0m1 0h0m1 0h0m1 0h0m2 0h0m3 0h0m1 0h0m1 0h0m-12 1h0m2 0h0m1 0h0m1 0h0m1 0h0m4 0h0m-9 1h0m1 0h0m1 0h0m1 0h0m1 0h0m1 0h0m1 0h0m1 0h0m1 0h0m2 0h0m1 0h0m-11 1h0m1 0h0m2 0h0m1 0h0m4 0h0m1 0h0m2 0h0m-11 1h0m1 0h0m1 0h0m1 0h0m1 0h0m1 0h0m2 0h0m1 0h0m1 0h0m-9 1h0m2 0h0m1 0h0m2 0h0m1 0h0m1 0h0m1 0h0m1 0h0m1 0h0m-10 1h0m1 0h0m1 0h0m1 0h0m2 0h0m3 0h0m1 0h0m-9 1h0m1 0h0m2 0h0m1 0h0m1 0h0m1 0h0m1 0h0m1 0h0m1 0h0m-9 1h0m2 0h0m2 0h0m2 0h0m1 0h0m2 0h0m-9 1h0m1 0h0m2 0h0m1 0h0m1 0h0m2 0h0m2 0h0m-10 1h0m1 0h0m1 0h0m1 0h0m1 0h0m2 0h0m4 0h0m-10 1h0m1 0h0m1 0h0m1 0h0m1 0h0m1 0h0m1 0h0m1 0h0m1 0h0m-7 1h0m1 0h0m2 0h0m1 0h0m1 0h0m1 0h0m2 0h0m-9 1h0m1 0h0m1 0h0m1 0h0m1 0h0m1 0h0m2 0h0m-7 1h0m1 0h0m1 0h0m1 0h0m2 0h0m2 0h0m-6 1h0m1 0h0m2 0h0m1 0h0m1 0h0m-6 1h0m1 0h0m1 0h0m1 0h0m1 0h0m1 0h0m1 0h0m1 0h0m-7 1h0m1 0h0m1 0h0m1 0h0m2 0h0m-5 1h0m1 0h0m1 0h0m1 0h0m1 0h0m1 0h0m1 0h0m1 0h0m1 0h0m-8 1h0m1 0h0m1 0h0m1 0h0m1 0h0m1 0h0m2 0h0m1 0h0m-8 1h0m1 0h0m1 0h0m2 0h0m1 0h0m1 0h0m1 0h0m-7 1h0m1 0h0m1 0h0m1 0h0m1 0h0m1 0h0m1 0h0m-7 1h0m1 0h0m1 0h0m1 0h0m1 0h0m2 0h0m-5 1h0m1 0h0m1 0h0m1 0h0m1 0h0m1 0h0m1 0h0m-6 1h0m2 0h0m1 0h0m1 0h0m2 0h0m-7 1h0m1 0h0m1 0h0m1 0h0m1 0h0m2 0h0m-6 1h0m1 0h0m1 0h0m1 0h0m1 0h0m1 0h0m-5 1h0m1 0h0m1 0h0m1 0h0m3 0h0m1 0h0m-7 1h0m1 0h0m1 0h0m1 0h0m1 0h0m2 0h0m-6 1h0m1 0h0m2 0h0m1 0h0m1 0h0m1 0h0m-6 1h0m1 0h0m1 0h0m1 0h0m1 0h0m-4 1h0m1 0h0m1 0h0m3 0h0m-6 1h0m1 0h0m1 0h0m1 0h0m1 0h0m1 0h0m1 0h0m-6 1h0m1 0h0m1 0h0m1 0h0m1 0h0m1 0h0m1 0h0m-6 1h0m1 0h0m1 0h0m1 0h0m1 0h0m1 0h0m1 0h0m-6 1h0m1 0h0m1 0h0m1 0h0m1 0h0m1 0h0m-5 1h0m1 0h0m1 0h0m1 0h0m1 0h0m-4 1h0m1 0h0m1 0h0m1 0h0m1 0h0m1 0h0m-5 1h0m1 0h0m1 0h0m1 0h0m1 0h0m1 0h0m-5 1h0m1 0h0m1 0h0m1 0h0m1 0h0m-4 1h0m1 0h0m1 0h0m-1 1h0m1 0h0m1 0h0m1 0h0m-4 1h0m2 0h0m1 0h0m-3 1h0m1 0h0m1 0h0m1 0h0m1 0h0m-4 1h0m1 0h0m2 0h0m-3 1h0m1 0h0m1 0h0m-2 1h0m1 0h0m1 0h0m-2 1h0m1 0h0m1 0h0m-3 1h0m1 0h0m1 0h0m1 0h0m-2 1h0m1 0h0m1 0h0m-2 1h0m1 0h0m1 0h0m-3 1h0m1 0h0m1 0h0m1 0h0" stroke="#0000ff" stroke-width="2" stroke-linecap="square" fill="none"/><rect x="238.4" y="438" width="23.4" height="17.6" fill="#fff" stroke="#333" stroke-width="1"/><text x="250.1" y="452" class="lg" text-anchor="middle">EC</text><text x="150.7" y="476.1" class="tk" text-anchor="middle">0</text><text x="163.8" y="476.1" class="tk" text-anchor="middle">2</text><text x="176.6" y="476.1" class="tk" text-anchor="middle">4</text><text x="189.7" y="476.1" class="tk" text-anchor="middle">6</text><text x="203" y="476.1" class="tk" text-anchor="middle">8</text><text x="216" y="476.1" class="tk" text-anchor="middle">10</text><text x="229.5" y="476.1" class="tk" text-anchor="middle">12</text><text x="242.8" y="476.1" class="tk" text-anchor="middle">14</text><text x="256.1" y="476.1" class="tk" text-anchor="middle">16</text><path d="M150.7 466.2v-2" class="tm"/><path d="M163.8 466.2v-2" class="tm"/><path d="M176.6 466.2v-2" class="tm"/><path d="M189.7 466.2v-2" class="tm"/><path d="M203 466.2v-2" class="tm"/><path d="M216 466.2v-2" class="tm"/><path d="M229.5 466.2v-2" class="tm"/><path d="M242.8 466.2v-2" class="tm"/><path d="M256.1 466.2v-2" class="tm"/><path d="M157.3 466.2v-2" class="tm"/><path d="M170.2 466.2v-2" class="tm"/><path d="M183.2 466.2v-2" class="tm"/><path d="M196.4 466.2v-2" class="tm"/><path d="M209.5 466.2v-2" class="tm"/><path d="M222.7 466.2v-2" class="tm"/><path d="M236.1 466.2v-2" class="tm"/><path d="M249.4 466.2v-2" class="tm"/><polygon points="272.7,455.5 273.5,446.2 276.6,436.8 280.5,429 285.1,419.7 289.8,411.9 296.1,402.5 302.3,393.2 308.5,384.6 316.3,378.4 325.7,374.5 338.1,372.1 352.2,371 367.7,371.7 349,373.7 335,376.8 325.7,381.5 317.9,387.7 311.6,395.5 305.4,404.1 299.2,411.9 294.5,419.7 289.8,429 286.7,436.8 285.9,446.9 291.4,455.5" fill="#808000"/><path d="M344 371h0m4 0h0m3 0h0m3 0h0m5 0h0m15 0h0m-31 1h0m1 0h0m1 0h0m1 0h0m7 0h0m1 0h0m2 0h0m1 0h0m1 0h0m-26 1h0m5 0h0m3 0h0m3 0h0m1 0h0m1 0h0m1 0h0m1 0h0m1 0h0m1 0h0m4 0h0m3 0h0m-47 1h0m19 0h0m2 0h0m2 0h0m1 0h0m2 0h0m7 0h0m2 0h0m3 0h0m7 0h0m-28 1h0m7 0h0m3 0h0m9 0h0m-22 1h0m3 0h0m5 0h0m1 0h0m5 0h0m2 0h0m1 0h0m-27 1h0m6 0h0m1 0h0m1 0h0m1 0h0m3 0h0m1 0h0m2 0h0m3 0h0m2 0h0m-16 1h0m1 0h0m4 0h0m1 0h0m1 0h0m2 0h0m2 0h0m3 0h0m1 0h0m-19 1h0m2 0h0m1 0h0m3 0h0m3 0h0m2 0h0m3 0h0m1 0h0m1 0h0m-18 1h0m2 0h0m1 0h0m5 0h0m1 0h0m5 0h0m1 0h0m1 0h0m1 0h0m-20 1h0m3 0h0m3 0h0m1 0h0m1 0h0m1 0h0m1 0h0m5 0h0m1 0h0m-15 1h0m3 0h0m1 0h0m1 0h0m1 0h0m1 0h0m2 0h0m1 0h0m1 0h0m2 0h0m3 0h0m-19 1h0m1 0h0m3 0h0m1 0h0m1 0h0m2 0h0m1 0h0m2 0h0m2 0h0m1 0h0m1 0h0m1 0h0m1 0h0m1 0h0m-18 1h0m4 0h0m1 0h0m1 0h0m1 0h0m4 0h0m1 0h0m1 0h0m1 0h0m1 0h0m1 0h0m1 0h0m-16 1h0m2 0h0m2 0h0m3 0h0m1 0h0m1 0h0m1 0h0m2 0h0m1 0h0m1 0h0m-17 1h0m5 0h0m2 0h0m1 0h0m1 0h0m1 0h0m1 0h0m1 0h0m1 0h0m3 0h0m-18 1h0m2 0h0m3 0h0m1 0h0m1 0h0m3 0h0m1 0h0m1 0h0m3 0h0m1 0h0m2 0h0m-17 1h0m1 0h0m2 0h0m2 0h0m3 0h0m1 0h0m1 0h0m1 0h0m1 0h0m1 0h0m1 0h0m1 0h0m-11 1h0m2 0h0m2 0h0m1 0h0m1 0h0m4 0h0m-18 1h0m6 0h0m1 0h0m1 0h0m2 0h0m1 0h0m2 0h0m1 0h0m1 0h0m1 0h0m1 0h0m-11 1h0m1 0h0m1 0h0m1 0h0m2 0h0m1 0h0m-6 1h0m1 0h0m1 0h0m4 0h0m-12 1h0m3 0h0m3 0h0m1 0h0m1 0h0m1 0h0m2 0h0m1 0h0m2 0h0m1 0h0m-16 1h0m4 0h0m3 0h0m2 0h0m2 0h0m1 0h0m3 0h0m-12 1h0m1 0h0m1 0h0m4 0h0m3 0h0m1 0h0m1 0h0m-10 1h0m1 0h0m1 0h0m1 0h0m1 0h0m3 0h0m1 0h0m1 0h0m-12 1h0m3 0h0m1 0h0m1 0h0m1 0h0m2 0h0m1 0h0m1 0h0m-9 1h0m1 0h0m1 0h0m2 0h0m1 0h0m1 0h0m1 0h0m1 0h0m2 0h0m-11 1h0m1 0h0m2 0h0m2 0h0m1 0h0m3 0h0m-8 1h0m1 0h0m1 0h0m1 0h0m2 0h0m2 0h0m-11 1h0m1 0h0m1 0h0m1 0h0m2 0h0m2 0h0m1 0h0m2 0h0m1 0h0m-11 1h0m2 0h0m2 0h0m1 0h0m1 0h0m1 0h0m2 0h0m1 0h0m1 0h0m-10 1h0m1 0h0m1 0h0m1 0h0m1 0h0m2 0h0m1 0h0m2 0h0m-10 1h0m2 0h0m2 0h0m1 0h0m1 0h0m1 0h0m1 0h0m1 0h0m-11 1h0m1 0h0m1 0h0m1 0h0m1 0h0m1 0h0m2 0h0m1 0h0m1 0h0m1 0h0m1 0h0m-10 1h0m1 0h0m1 0h0m1 0h0m1 0h0m1 0h0m3 0h0m-10 1h0m1 0h0m1 0h0m1 0h0m1 0h0m2 0h0m1 0h0m1 0h0m1 0h0m1 0h0m2 0h0m-12 1h0m2 0h0m3 0h0m3 0h0m1 0h0m-9 1h0m1 0h0m2 0h0m1 0h0m2 0h0m2 0h0m-10 1h0m2 0h0m1 0h0m1 0h0m1 0h0m1 0h0m1 0h0m1 0h0m-9 1h0m1 0h0m1 0h0m1 0h0m1 0h0m1 0h0m1 0h0m1 0h0m-7 1h0m2 0h0m1 0h0m1 0h0m1 0h0m1 0h0m1 0h0m1 0h0m-7 1h0m1 0h0m1 0h0m1 0h0m1 0h0m1 0h0m1 0h0m1 0h0m2 0h0m-11 1h0m1 0h0m4 0h0m1 0h0m1 0h0m-6 1h0m1 0h0m1 0h0m4 0h0m1 0h0m1 0h0m-10 1h0m2 0h0m2 0h0m1 0h0m1 0h0m3 0h0m-9 1h0m1 0h0m1 0h0m1 0h0m1 0h0m2 0h0m1 0h0m-9 1h0m1 0h0m1 0h0m1 0h0m3 0h0m1 0h0m1 0h0m-5 1h0m2 0h0m1 0h0m1 0h0m-8 1h0m1 0h0m1 0h0m1 0h0m2 0h0m1 0h0m1 0h0m1 0h0m1 0h0m-8 1h0m2 0h0m1 0h0m1 0h0m1 0h0m1 0h0m2 0h0m-10 1h0m2 0h0m1 0h0m1 0h0m1 0h0m1 0h0m1 0h0m1 0h0m1 0h0m-9 1h0m1 0h0m1 0h0m1 0h0m1 0h0m2 0h0m1 0h0m1 0h0m-9 1h0m1 0h0m3 0h0m1 0h0m3 0h0m1 0h0m-9 1h0m1 0h0m1 0h0m3 0h0m1 0h0m1 0h0m1 0h0m1 0h0m-10 1h0m3 0h0m1 0h0m1 0h0m1 0h0m1 0h0m1 0h0m1 0h0m-7 1h0m2 0h0m1 0h0m1 0h0m1 0h0m2 0h0m-10 1h0m2 0h0m1 0h0m1 0h0m1 0h0m1 0h0m2 0h0m1 0h0m-10 1h0m2 0h0m1 0h0m1 0h0m1 0h0m2 0h0m1 0h0m1 0h0m-9 1h0m1 0h0m1 0h0m2 0h0m1 0h0m2 0h0m1 0h0m1 0h0m-10 1h0m3 0h0m1 0h0m3 0h0m1 0h0m1 0h0m-7 1h0m1 0h0m1 0h0m1 0h0m1 0h0m1 0h0m2 0h0m6 0h0m-15 1h0m2 0h0m1 0h0m2 0h0m1 0h0m1 0h0m-9 1h0m3 0h0m1 0h0m1 0h0m1 0h0m2 0h0m1 0h0m1 0h0m1 0h0m6 0h0m-16 1h0m1 0h0m3 0h0m1 0h0m1 0h0m2 0h0m2 0h0m6 0h0m-16 1h0m1 0h0m1 0h0m1 0h0m1 0h0m2 0h0m1 0h0m1 0h0m1 0h0m7 0h0m-17 1h0m1 0h0m2 0h0m1 0h0m1 0h0m2 0h0m1 0h0m1 0h0m8 0h0m-17 1h0m2 0h0m1 0h0m1 0h0m1 0h0m1 0h0m1 0h0m2 0h0m8 0h0m-18 1h0m1 0h0m1 0h0m1 0h0m1 0h0m1 0h0m1 0h0m1 0h0m1 0h0m1 0h0m1 0h0m7 0h0m-17 1h0m1 0h0m1 0h0m1 0h0m1 0h0m1 0h0m1 0h0m1 0h0m3 0h0m1 0h0m7 0h0m-19 1h0m1 0h0m2 0h0m2 0h0m1 0h0m2 0h0m2 0h0m1 0h0m-10 1h0m1 0h0m1 0h0m1 0h0m1 0h0m1 0h0m1 0h0m1 0h0m2 0h0m1 0h0m7 0h0m-18 1h0m1 0h0m1 0h0m1 0h0m1 0h0m1 0h0m1 0h0m1 0h0m3 0h0m-11 1h0m1 0h0m2 0h0m2 0h0m2 0h0m1 0h0m1 0h0m1 0h0m1 0h0m9 0h0m-21 1h0m1 0h0m1 0h0m4 0h0m1 0h0m1 0h0m1 0h0m1 0h0m1 0h0m1 0h0m8 0h0m-20 1h0m2 0h0m1 0h0m1 0h0m1 0h0m3 0h0m1 0h0m1 0h0m1 0h0m2 0h0m-13 1h0m1 0h0m1 0h0m1 0h0m1 0h0m2 0h0m1 0h0m1 0h0m1 0h0m1 0h0m2 0h0m1 0h0m-13 1h0m1 0h0m1 0h0m1 0h0m1 0h0m1 0h0m1 0h0m2 0h0m1 0h0m1 0h0m1 0h0m1 0h0m1 0h0m1 0h0m-14 1h0m1 0h0m1 0h0m1 0h0m1 0h0m1 0h0m1 0h0m1 0h0m1 0h0m1 0h0m1 0h0m1 0h0m1 0h0m1 0h0m2 0h0m-15 1h0m1 0h0m1 0h0m1 0h0m1 0h0m1 0h0m1 0h0m1 0h0m1 0h0m1 0h0m1 0h0m1 0h0m1 0h0m1 0h0m1 0h0m1 0h0m-14 1h0m1 0h0m1 0h0m1 0h0m1 0h0m1 0h0m1 0h0m1 0h0m1 0h0m1 0h0m1 0h0m1 0h0m1 0h0m1 0h0m-14 1h0m1 0h0m2 0h0m1 0h0m1 0h0m1 0h0m1 0h0m1 0h0m1 0h0m1 0h0m2 0h0m1 0h0m1 0h0m2 0h0m1 0h0m-17 1h0m1 0h0m1 0h0m1 0h0m1 0h0m1 0h0m1 0h0m1 0h0m1 0h0m1 0h0m1 0h0m1 0h0m1 0h0m1 0h0m3 0h0m-16 1h0m2 0h0m1 0h0m1 0h0m1 0h0m1 0h0m3 0h0m1 0h0m1 0h0m1 0h0m2 0h0m1 0h0m1 0h0m3 0h0m-18 1h0m3 0h0m1 0h0m1 0h0m1 0h0m1 0h0m1 0h0m2 0h0m1 0h0m1 0h0m1 0h0m3 0h0m1 0h0m-10 1h0m5 0h0m1 0h0m1 0h0" stroke="#808000" stroke-width="2" stroke-linecap="square" fill="none"/><rect x="337.6" y="438.3" width="48.9" height="18.3" fill="#fff" stroke="#333" stroke-width="1"/><text x="362.1" y="453" class="lg" text-anchor="middle">Hindex</text><text x="271.6" y="476.1" class="tk" text-anchor="middle">0</text><text x="293.6" y="476.1" class="tk" text-anchor="middle">20</text><text x="315.3" y="476.1" class="tk" text-anchor="middle">40</text><text x="336.9" y="476.1" class="tk" text-anchor="middle">60</text><text x="358.9" y="476.1" class="tk" text-anchor="middle">80</text><text x="380.4" y="476.1" class="tk" text-anchor="middle">100</text><path d="M271.6 466.2v-2" class="tm"/><path d="M293.6 466.2v-2" class="tm"/><path d="M315.3 466.2v-2" class="tm"/><path d="M336.9 466.2v-2" class="tm"/><path d="M358.9 466.2v-2" class="tm"/><path d="M380.4 466.2v-2" class="tm"/><path d="M282.6 466.2v-2" class="tm"/><path d="M304.5 466.2v-2" class="tm"/><path d="M326.1 466.2v-2" class="tm"/><path d="M347.9 466.2v-2" class="tm"/><path d="M369.6 466.2v-2" class="tm"/><polygon points="399,370.6 399,457 403.3,457 403.3,370.6" fill="#800080"/><polygon points="403.3,453.5 403.3,457 434.4,457 434.4,453.5" fill="#800080"/><path d="M403 370h0m-2 1h0m2 0h0m2 0h0m2 0h0m-1 1h0m1 0h0m-8 1h0m3 0h0m1 0h0m5 0h0m-8 1h0m1 0h0m2 0h0m13 0h0m22 0h0m-38 1h0m2 0h0m1 0h0m4 0h0m-4 1h0m18 0h0m-21 1h0m1 0h0m2 0h0m1 0h0m3 0h0m97 0h0m-104 1h0m1 0h0m1 0h0m1 0h0m1 0h0m1 0h0m-6 1h0m2 0h0m1 0h0m2 0h0m5 0h0m-10 1h0m2 0h0m1 0h0m1 0h0m3 0h0m2 0h0m1 0h0m1 0h0m4 0h0m12 0h0m-27 1h0m2 0h0m1 0h0m1 0h0m1 0h0m-5 1h0m3 0h0m2 0h0m21 0h0m-26 1h0m1 0h0m1 0h0m3 0h0m6 0h0m2 0h0m24 0h0m3 0h0m-39 1h0m2 0h0m1 0h0m4 0h0m1 0h0m3 0h0m7 0h0m-18 1h0m1 0h0m1 0h0m6 0h0m1 0h0m1 0h0m-10 1h0m1 0h0m1 0h0m6 0h0m1 0h0m13 0h0m-23 1h0m1 0h0m2 0h0m1 0h0m1 0h0m5 0h0m24 0h0m-34 1h0m1 0h0m2 0h0m1 0h0m3 0h0m3 0h0m3 0h0m-10 1h0m1 0h0m1 0h0m1 0h0m7 0h0m11 0h0m-23 1h0m1 0h0m1 0h0m1 0h0m1 0h0m4 0h0m1 0h0m62 0h0m-72 1h0m1 0h0m2 0h0m2 0h0m6 0h0m18 0h0m-28 1h0m2 0h0m1 0h0m1 0h0m1 0h0m29 0h0m-35 1h0m1 0h0m2 0h0m1 0h0m9 0h0m4 0h0m-15 1h0m2 0h0m1 0h0m3 0h0m1 0h0m8 0h0m2 0h0m13 0h0m-31 1h0m2 0h0m1 0h0m1 0h0m1 0h0m2 0h0m5 0h0m6 0h0m-17 1h0m3 0h0m1 0h0m-4 1h0m1 0h0m1 0h0m2 0h0m5 0h0m3 0h0m-14 1h0m2 0h0m1 0h0m1 0h0m11 0h0m20 0h0m-32 1h0m1 0h0m8 0h0m1 0h0m2 0h0m28 0h0m-42 1h0m1 0h0m2 0h0m1 0h0m2 0h0m1 0h0m2 0h0m2 0h0m1 0h0m2 0h0m-15 1h0m3 0h0m2 0h0m2 0h0m2 0h0m2 0h0m9 0h0m-18 1h0m2 0h0m1 0h0m4 0h0m4 0h0m-11 1h0m2 0h0m3 0h0m4 0h0m6 0h0m37 0h0m-51 1h0m1 0h0m2 0h0m2 0h0m4 0h0m1 0h0m3 0h0m13 0h0m-29 1h0m3 0h0m3 0h0m3 0h0m5 0h0m37 0h0m-50 1h0m1 0h0m1 0h0m1 0h0m5 0h0m2 0h0m4 0h0m10 0h0m12 0h0m3 0h0m-39 1h0m1 0h0m1 0h0m1 0h0m1 0h0m1 0h0m1 0h0m3 0h0m4 0h0m2 0h0m11 0h0m17 0h0m-42 1h0m1 0h0m3 0h0m1 0h0m3 0h0m2 0h0m1 0h0m2 0h0m26 0h0m7 0h0m-48 1h0m3 0h0m1 0h0m3 0h0m3 0h0m1 0h0m21 0h0m25 0h0m-54 1h0m1 0h0m1 0h0m1 0h0m1 0h0m3 0h0m3 0h0m16 0h0m-25 1h0m2 0h0m2 0h0m1 0h0m1 0h0m55 0h0m-64 1h0m1 0h0m1 0h0m1 0h0m1 0h0m1 0h0m1 0h0m4 0h0m43 0h0m1 0h0m-55 1h0m1 0h0m2 0h0m1 0h0m1 0h0m1 0h0m1 0h0m1 0h0m1 0h0m3 0h0m3 0h0m14 0h0m13 0h0m-42 1h0m1 0h0m2 0h0m1 0h0m9 0h0m37 0h0m8 0h0m-57 1h0m1 0h0m1 0h0m2 0h0m22 0h0m25 0h0m-49 1h0m1 0h0m5 0h0m1 0h0m5 0h0m-15 1h0m1 0h0m1 0h0m1 0h0m1 0h0m2 0h0m6 0h0m14 0h0m-25 1h0m1 0h0m2 0h0m1 0h0m6 0h0m2 0h0m3 0h0m36 0h0m-51 1h0m2 0h0m1 0h0m3 0h0m1 0h0m2 0h0m2 0h0m2 0h0m1 0h0m1 0h0m17 0h0m-33 1h0m1 0h0m1 0h0m2 0h0m4 0h0m4 0h0m57 0h0m-69 1h0m2 0h0m1 0h0m1 0h0m7 0h0m3 0h0m2 0h0m6 0h0m51 0h0m-72 1h0m2 0h0m1 0h0m1 0h0m7 0h0m2 0h0m3 0h0m5 0h0m-21 1h0m1 0h0m1 0h0m1 0h0m1 0h0m2 0h0m2 0h0m3 0h0m2 0h0m-13 1h0m2 0h0m1 0h0m4 0h0m8 0h0m1 0h0m1 0h0m3 0h0m45 0h0m-66 1h0m1 0h0m1 0h0m1 0h0m1 0h0m2 0h0m1 0h0m1 0h0m1 0h0m3 0h0m2 0h0m3 0h0m3 0h0m-20 1h0m1 0h0m2 0h0m4 0h0m4 0h0m1 0h0m1 0h0m2 0h0m3 0h0m-17 1h0m1 0h0m2 0h0m1 0h0m1 0h0m1 0h0m1 0h0m1 0h0m4 0h0m4 0h0m2 0h0m1 0h0m10 0h0m34 0h0m2 0h0m-65 1h0m1 0h0m1 0h0m1 0h0m1 0h0m2 0h0m2 0h0m2 0h0m1 0h0m4 0h0m1 0h0m-16 1h0m1 0h0m1 0h0m1 0h0m1 0h0m2 0h0m8 0h0m2 0h0m19 0h0m-36 1h0m1 0h0m2 0h0m1 0h0m2 0h0m2 0h0m2 0h0m3 0h0m4 0h0m15 0h0m16 0h0m18 0h0m-66 1h0m2 0h0m1 0h0m2 0h0m1 0h0m1 0h0m3 0h0m2 0h0m3 0h0m4 0h0m1 0h0m-19 1h0m1 0h0m1 0h0m1 0h0m1 0h0m2 0h0m1 0h0m3 0h0m1 0h0m5 0h0m1 0h0m40 0h0m-58 1h0m1 0h0m1 0h0m1 0h0m1 0h0m1 0h0m1 0h0m3 0h0m1 0h0m1 0h0m5 0h0m6 0h0m63 0h0m-85 1h0m1 0h0m2 0h0m1 0h0m1 0h0m1 0h0m1 0h0m2 0h0m2 0h0m2 0h0m5 0h0m2 0h0m3 0h0m2 0h0m4 0h0m12 0h0m-37 1h0m2 0h0m1 0h0m1 0h0m1 0h0m1 0h0m1 0h0m1 0h0m7 0h0m2 0h0m1 0h0m1 0h0m1 0h0m1 0h0m32 0h0m11 0h0m-66 1h0m1 0h0m4 0h0m2 0h0m1 0h0m2 0h0m4 0h0m1 0h0m2 0h0m2 0h0m5 0h0m2 0h0m14 0h0m7 0h0m-49 1h0m2 0h0m1 0h0m1 0h0m2 0h0m5 0h0m3 0h0m5 0h0m1 0h0m1 0h0m6 0h0m2 0h0m22 0h0m-51 1h0m2 0h0m2 0h0m1 0h0m2 0h0m3 0h0m5 0h0m4 0h0m2 0h0m7 0h0m7 0h0m-34 1h0m1 0h0m2 0h0m1 0h0m1 0h0m1 0h0m1 0h0m3 0h0m3 0h0m16 0h0m-28 1h0m2 0h0m1 0h0m1 0h0m1 0h0m1 0h0m1 0h0m3 0h0m3 0h0m4 0h0m7 0h0m5 0h0m4 0h0m-34 1h0m2 0h0m1 0h0m1 0h0m2 0h0m1 0h0m8 0h0m1 0h0m3 0h0m6 0h0m1 0h0m3 0h0m3 0h0m38 0h0m-68 1h0m1 0h0m2 0h0m2 0h0m3 0h0m7 0h0m9 0h0m4 0h0m3 0h0m-32 1h0m1 0h0m1 0h0m1 0h0m2 0h0m2 0h0m2 0h0m5 0h0m2 0h0m2 0h0m4 0h0m-24 1h0m1 0h0m1 0h0m1 0h0m1 0h0m2 0h0m1 0h0m3 0h0m1 0h0m6 0h0m1 0h0m1 0h0m3 0h0m4 0h0m1 0h0m5 0h0m-32 1h0m3 0h0m1 0h0m2 0h0m2 0h0m1 0h0m1 0h0m1 0h0m2 0h0m1 0h0m3 0h0m7 0h0m1 0h0m7 0h0m2 0h0m1 0h0m1 0h0m29 0h0m6 0h0m-70 1h0m1 0h0m1 0h0m1 0h0m1 0h0m1 0h0m3 0h0m3 0h0m1 0h0m1 0h0m1 0h0m7 0h0m7 0h0m1 0h0m3 0h0m-33 1h0m1 0h0m1 0h0m1 0h0m1 0h0m1 0h0m1 0h0m1 0h0m1 0h0m1 0h0m1 0h0m3 0h0m2 0h0m8 0h0m3 0h0m2 0h0m1 0h0m8 0h0m3 0h0m6 0h0m3 0h0m11 0h0m-60 1h0m1 0h0m2 0h0m1 0h0m1 0h0m2 0h0m2 0h0m2 0h0m1 0h0m2 0h0m11 0h0m5 0h0m11 0h0m1 0h0m8 0h0m30 0h0m-80 1h0m1 0h0m1 0h0m2 0h0m1 0h0m1 0h0m3 0h0m3 0h0m2 0h0m3 0h0m2 0h0m4 0h0m2 0h0m6 0h0m9 0h0m2 0h0m-42 1h0m2 0h0m1 0h0m1 0h0m6 0h0m2 0h0m1 0h0m2 0h0m2 0h0m5 0h0m1 0h0m2 0h0m1 0h0m2 0h0m1 0h0m6 0h0m1 0h0m2 0h0m4 0h0m3 0h0m6 0h0m21 0h0m-72 1h0m3 0h0m1 0h0m1 0h0m2 0h0m1 0h0m2 0h0m1 0h0m2 0h0m1 0h0m1 0h0m2 0h0m5 0h0m2 0h0m1 0h0m2 0h0m4 0h0m3 0h0m1 0h0m2 0h0m3 0h0m7 0h0m2 0h0m-49 1h0m2 0h0m2 0h0m1 0h0m2 0h0m3 0h0m1 0h0m3 0h0m4 0h0m1 0h0m1 0h0m1 0h0m1 0h0m1 0h0m1 0h0m2 0h0m4 0h0m2 0h0m5 0h0m1 0h0m4 0h0m3 0h0m1 0h0m-45 1h0m1 0h0m1 0h0m1 0h0m1 0h0m1 0h0m1 0h0m2 0h0m2 0h0m2 0h0m1 0h0m7 0h0m2 0h0m1 0h0m1 0h0m1 0h0m3 0h0m1 0h0m1 0h0m1 0h0m1 0h0m1 0h0m6 0h0m3 0h0m3 0h0m4 0h0m7 0h0m-57 1h0m2 0h0m1 0h0m1 0h0m1 0h0m1 0h0m1 0h0m1 0h0m1 0h0m1 0h0m1 0h0m1 0h0m1 0h0m1 0h0m1 0h0m1 0h0m1 0h0m1 0h0m1 0h0m1 0h0m1 0h0m1 0h0m1 0h0m1 0h0m3 0h0m3 0h0m1 0h0m1 0h0m2 0h0m1 0h0m1 0h0m1 0h0m2 0h0m7 0h0m5 0h0m7 0h0m-56 1h0m2 0h0m1 0h0m1 0h0m1 0h0m1 0h0m1 0h0m1 0h0m2 0h0m1 0h0m1 0h0m1 0h0m1 0h0m1 0h0m1 0h0m1 0h0m1 0h0m1 0h0m1 0h0m1 0h0m1 0h0m1 0h0m1 0h0m1 0h0m1 0h0m1 0h0m1 0h0m1 0h0m1 0h0m3 0h0m4 0h0m4 0h0m6 0h0m3 0h0m2 0h0m-52 1h0m1 0h0m1 0h0m1 0h0m1 0h0m1 0h0m2 0h0m1 0h0m1 0h0m1 0h0m1 0h0m1 0h0m1 0h0m1 0h0m2 0h0m1 0h0m1 0h0m1 0h0m1 0h0m1 0h0m1 0h0m1 0h0m1 0h0m1 0h0m1 0h0m2 0h0m1 0h0m1 0h0m1 0h0m1 0h0m1 0h0m3 0h0m2 0h0m1 0h0m1 0h0m1 0h0m7 0h0m15 0h0m-65 1h0m4 0h0m1 0h0m1 0h0m3 0h0m1 0h0m1 0h0m2 0h0m2 0h0m4 0h0m3 0h0m1 0h0m1 0h0m1 0h0m3 0h0m1 0h0m1 0h0m1 0h0m1 0h0m1 0h0m1 0h0m10 0h0m7 0h0m10 0h0" stroke="#800080" stroke-width="2" stroke-linecap="square" fill="none"/><rect x="471.5" y="438.3" width="35.7" height="17.8" fill="#fff" stroke="#333" stroke-width="1"/><text x="489.4" y="452.5" class="lg" text-anchor="middle">HITS</text><text x="400.2" y="476.1" class="tk" text-anchor="middle">0</text><text x="418.8" y="476.1" class="tk" text-anchor="middle">1</text><text x="437.8" y="476.1" class="tk" text-anchor="middle">2</text><text x="456.8" y="476.1" class="tk" text-anchor="middle">3</text><text x="475.3" y="476.1" class="tk" text-anchor="middle">4</text><text x="494.3" y="476.1" class="tk" text-anchor="middle">5</text><text x="512.9" y="476.1" class="tk" text-anchor="middle">6</text><path d="M400.2 466.2v-2" class="tm"/><path d="M418.8 466.2v-2" class="tm"/><path d="M437.8 466.2v-2" class="tm"/><path d="M456.8 466.2v-2" class="tm"/><path d="M475.3 466.2v-2" class="tm"/><path d="M494.3 466.2v-2" class="tm"/><path d="M512.9 466.2v-2" class="tm"/><path d="M409.5 466.2v-2" class="tm"/><path d="M428.3 466.2v-2" class="tm"/><path d="M447.3 466.2v-2" class="tm"/><path d="M466.1 466.2v-2" class="tm"/><path d="M484.8 466.2v-2" class="tm"/><path d="M503.6 466.2v-2" class="tm"/><polygon points="521.4,456.6 521.4,431.1 521.4,413.8 522,400 522.5,387.9 523.7,379.3 525.4,374.1 531.5,371.5 548.7,372.4 540.1,375.8 531.5,379.3 528,387.9 526.3,400 524.9,413.8 524.2,431.1 523.7,456.6" fill="#ff00ff"/><path d="M531 371h0m1 0h0m1 0h0m20 0h0m3 0h0m1 0h0m6 0h0m6 0h0m12 0h0m1 0h0m16 0h0m26 0h0m-96 1h0m1 0h0m1 0h0m1 0h0m1 0h0m1 0h0m1 0h0m1 0h0m1 0h0m3 0h0m1 0h0m1 0h0m2 0h0m1 0h0m-16 1h0m1 0h0m1 0h0m1 0h0m1 0h0m1 0h0m1 0h0m1 0h0m2 0h0m2 0h0m3 0h0m1 0h0m1 0h0m2 0h0m-19 1h0m1 0h0m1 0h0m1 0h0m1 0h0m1 0h0m1 0h0m1 0h0m1 0h0m1 0h0m2 0h0m1 0h0m1 0h0m2 0h0m1 0h0m32 0h0m-50 1h0m2 0h0m1 0h0m1 0h0m1 0h0m1 0h0m1 0h0m2 0h0m5 0h0m3 0h0m-17 1h0m1 0h0m1 0h0m1 0h0m1 0h0m1 0h0m1 0h0m1 0h0m3 0h0m1 0h0m2 0h0m2 0h0m-16 1h0m1 0h0m1 0h0m1 0h0m1 0h0m1 0h0m1 0h0m1 0h0m1 0h0m4 0h0m1 0h0m18 0h0m-31 1h0m1 0h0m1 0h0m1 0h0m1 0h0m1 0h0m2 0h0m3 0h0m-11 1h0m1 0h0m1 0h0m1 0h0m1 0h0m1 0h0m1 0h0m1 0h0m1 0h0m-8 1h0m1 0h0m1 0h0m1 0h0m1 0h0m1 0h0m3 0h0m-8 1h0m1 0h0m2 0h0m1 0h0m1 0h0m1 0h0m-6 1h0m1 0h0m1 0h0m1 0h0m1 0h0m1 0h0m1 0h0m1 0h0m-7 1h0m1 0h0m2 0h0m1 0h0m2 0h0m15 0h0m-21 1h0m1 0h0m1 0h0m1 0h0m1 0h0m1 0h0m13 0h0m-19 1h0m1 0h0m1 0h0m1 0h0m1 0h0m1 0h0m2 0h0m-6 1h0m1 0h0m1 0h0m1 0h0m1 0h0m1 0h0m-5 1h0m1 0h0m1 0h0m1 0h0m1 0h0m1 0h0m-4 1h0m1 0h0m1 0h0m1 0h0m1 0h0m3 0h0m-8 1h0m2 0h0m2 0h0m1 0h0m-6 1h0m1 0h0m1 0h0m-2 1h0m1 0h0m1 0h0m2 0h0m-4 1h0m3 0h0m1 0h0m-4 1h0m1 0h0m3 0h0m1 0h0m-5 1h0m1 0h0m2 0h0m2 0h0m4 0h0m-9 1h0m1 0h0m1 0h0m2 0h0m-2 1h0m2 0h0m-4 1h0m1 0h0m1 0h0m2 0h0m-4 1h0m1 0h0m1 0h0m-2 1h0m1 0h0m2 0h0m-3 1h0m1 0h0m1 0h0m1 0h0m-3 1h0m3 0h0m1 0h0m-4 1h0m1 0h0m1 0h0m1 0h0m-3 1h0m1 0h0m3 0h0m-5 1h0m1 0h0m1 0h0m1 0h0m1 0h0m-3 1h0m1 0h0m1 0h0m1 0h0m1 0h0m-5 1h0m1 0h0m1 0h0m1 0h0m1 0h0m-3 1h0m2 0h0m-2 1h0m1 0h0m1 0h0m1 0h0m-3 1h0m1 0h0m1 0h0m1 0h0m-3 1h0m1 0h0m1 0h0m1 0h0m-4 1h0m1 0h0m1 0h0m1 0h0m-3 1h0m1 0h0m1 0h0m2 0h0m-3 1h0m1 0h0m-1 1h0m1 0h0m-2 1h0m1 0h0m1 0h0m1 0h0m-2 1h0m3 0h0m-3 1h0m1 0h0m-2 1h0m1 0h0m2 0h0m-2 1h0m1 0h0m-1 1h0m1 0h0m1 0h0m1 0h0m-3 1h0m1 0h0m-2 1h0m1 0h0m2 0h0m-2 1h0m2 0h0m-3 1h0m1 0h0m1 0h0m1 0h0m-2 1h0m0 1h0m1 0h0m1 0h0m-3 1h0m1 0h0m1 0h0m-1 1h0m1 0h0m1 0h0m-3 1h0m2 0h0m-1 1h0m1 0h0m1 0h0m-2 1h0m1 0h0m-1 1h0m0 1h0m1 0h0m1 0h0m-3 1h0m2 0h0m-2 1h0m1 0h0m1 0h0m-1 1h0m1 0h0m-1 1h0m1 0h0m-1 1h0m1 0h0m1 0h0m-2 1h0m2 0h0m-3 1h0m1 0h0m1 0h0m0 1h0m-2 1h0m1 0h0m1 0h0m-1 1h0m1 0h0m1 0h0m-3 1h0m2 0h0m-2 1h0m1 0h0m-1 1h0m1 0h0m1 0h0m-1 1h0m1 0h0m1 0h0m-3 1h0m1 0h0m1 0h0m1 0h0m-2 1h0m0 1h0m1 0h0m-1 1h0m0 1h0m1 0h0m1 0h0m-2 1h0m0 1h0m2 0h0m-2 1h0m1 0h0m1 0h0m-3 1h0m1 0h0m1 0h0m0 1h0" stroke="#ff00ff" stroke-width="2" stroke-linecap="square" fill="none"/><rect x="602.3" y="438.3" width="25.5" height="17.8" fill="#fff" stroke="#333" stroke-width="1"/><text x="615" y="452.5" class="lg" text-anchor="middle">DIL</text><text x="522.8" y="476.1" class="tk" text-anchor="middle">0</text><text x="540.6" y="476.1" class="tk" text-anchor="middle">10</text><text x="557.9" y="476.1" class="tk" text-anchor="middle">20</text><text x="575.5" y="476.1" class="tk" text-anchor="middle">30</text><text x="593.3" y="476.1" class="tk" text-anchor="middle">40</text><text x="610.9" y="476.1" class="tk" text-anchor="middle">50</text><text x="628.2" y="476.1" class="tk" text-anchor="middle">60</text><path d="M522.8 466.2v-2" class="tm"/><path d="M540.6 466.2v-2" class="tm"/><path d="M557.9 466.2v-2" class="tm"/><path d="M575.5 466.2v-2" class="tm"/><path d="M593.3 466.2v-2" class="tm"/><path d="M610.9 466.2v-2" class="tm"/><path d="M628.2 466.2v-2" class="tm"/><path d="M531.7 466.2v-2" class="tm"/><path d="M549.2 466.2v-2" class="tm"/><path d="M566.7 466.2v-2" class="tm"/><path d="M584.4 466.2v-2" class="tm"/><path d="M602.1 466.2v-2" class="tm"/><path d="M619.5 466.2v-2" class="tm"/><polygon points="647.2,456.6 647.9,444.9 648.9,431.1 651,417.3 653.6,406.9 657,396.5 661.4,387.9 666.5,381 673.5,375.8 683.8,373.2 694.2,372 704.5,372.4 694.2,374.1 682.1,377.5 673.5,381.9 666.5,387.9 661.4,396.5 657,406.9 654.1,417.3 651.9,431.1 650.1,444.9 648.9,456.6" fill="#008080"/><path d="M708 371h0m3 0h0m4 0h0m9 0h0m2 0h0m8 0h0m2 0h0m13 0h0m-56 1h0m1 0h0m1 0h0m1 0h0m1 0h0m2 0h0m-15 1h0m1 0h0m2 0h0m1 0h0m2 0h0m1 0h0m1 0h0m1 0h0m1 0h0m1 0h0m1 0h0m1 0h0m1 0h0m1 0h0m-20 1h0m1 0h0m2 0h0m1 0h0m1 0h0m2 0h0m2 0h0m1 0h0m1 0h0m1 0h0m1 0h0m1 0h0m1 0h0m1 0h0m-19 1h0m2 0h0m1 0h0m1 0h0m1 0h0m1 0h0m1 0h0m1 0h0m1 0h0m1 0h0m1 0h0m1 0h0m1 0h0m1 0h0m-15 1h0m1 0h0m1 0h0m1 0h0m1 0h0m1 0h0m1 0h0m1 0h0m1 0h0m1 0h0m1 0h0m1 0h0m2 0h0m3 0h0m-20 1h0m1 0h0m1 0h0m1 0h0m1 0h0m1 0h0m1 0h0m1 0h0m1 0h0m1 0h0m1 0h0m1 0h0m1 0h0m-12 1h0m1 0h0m2 0h0m2 0h0m1 0h0m2 0h0m1 0h0m2 0h0m-12 1h0m2 0h0m1 0h0m1 0h0m2 0h0m1 0h0m1 0h0m1 0h0m-11 1h0m1 0h0m1 0h0m1 0h0m1 0h0m1 0h0m2 0h0m1 0h0m1 0h0m-10 1h0m1 0h0m1 0h0m1 0h0m1 0h0m2 0h0m1 0h0m1 0h0m-9 1h0m1 0h0m1 0h0m1 0h0m1 0h0m1 0h0m1 0h0m1 0h0m-7 1h0m1 0h0m1 0h0m2 0h0m2 0h0m-8 1h0m2 0h0m1 0h0m1 0h0m1 0h0m1 0h0m-6 1h0m1 0h0m2 0h0m1 0h0m-4 1h0m1 0h0m1 0h0m1 0h0m1 0h0m1 0h0m-7 1h0m1 0h0m1 0h0m1 0h0m1 0h0m1 0h0m1 0h0m-7 1h0m1 0h0m1 0h0m1 0h0m1 0h0m1 0h0m-5 1h0m1 0h0m3 0h0m1 0h0m-5 1h0m1 0h0m1 0h0m2 0h0m-5 1h0m1 0h0m1 0h0m2 0h0m-5 1h0m1 0h0m1 0h0m3 0h0m-5 1h0m3 0h0m-3 1h0m1 0h0m1 0h0m1 0h0m-4 1h0m1 0h0m1 0h0m1 0h0m1 0h0m-5 1h0m1 0h0m1 0h0m1 0h0m1 0h0m-4 1h0m1 0h0m2 0h0m-3 1h0m1 0h0m1 0h0m1 0h0m1 0h0m-3 1h0m2 0h0m-4 1h0m1 0h0m2 0h0m-3 1h0m2 0h0m1 0h0m-3 1h0m1 0h0m1 0h0m1 0h0m1 0h0m-5 1h0m1 0h0m1 0h0m1 0h0m1 0h0m-4 1h0m1 0h0m1 0h0m1 0h0m-4 1h0m2 0h0m1 0h0m1 0h0m-4 1h0m2 0h0m1 0h0m-4 1h0m1 0h0m1 0h0m2 0h0m-4 1h0m1 0h0m1 0h0m-1 1h0m1 0h0m1 0h0m-3 1h0m1 0h0m1 0h0m-1 1h0m1 0h0m-2 1h0m2 0h0m1 0h0m-4 1h0m1 0h0m1 0h0m1 0h0m-2 1h0m1 0h0m-2 1h0m1 0h0m1 0h0m1 0h0m-3 1h0m2 0h0m-2 1h0m2 0h0m-2 1h0m1 0h0m1 0h0m-1 1h0m-3 1h0m2 0h0m1 0h0m-1 1h0m1 0h0m-2 1h0m1 0h0m1 0h0m1 0h0m-4 1h0m1 0h0m1 0h0m1 0h0m-3 1h0m1 0h0m2 0h0m-2 1h0m1 0h0m-2 1h0m1 0h0m1 0h0m1 0h0m-3 1h0m1 0h0m1 0h0m-2 1h0m1 0h0m1 0h0m-3 1h0m3 0h0m-3 1h0m1 0h0m1 0h0m1 0h0m-3 1h0m1 0h0m1 0h0m1 0h0m-3 1h0m1 0h0m1 0h0m1 0h0m-2 1h0m1 0h0m-2 1h0m1 0h0m1 0h0m-3 1h0m1 0h0m1 0h0m1 0h0m-2 1h0m1 0h0m0 1h0m1 0h0m-2 1h0m1 0h0m-2 1h0m1 0h0m1 0h0m-2 1h0m1 0h0m1 0h0m1 0h0m-2 1h0m1 0h0m-1 1h0m1 0h0m-2 1h0m1 0h0m-1 1h0m1 0h0m1 0h0m-1 1h0m1 0h0m-2 1h0m1 0h0m1 0h0m-3 1h0m1 0h0m1 0h0m-1 1h0m1 0h0m1 0h0m-3 1h0m3 0h0m-2 1h0m1 0h0m1 0h0m-2 1h0m0 1h0m1 0h0m0 1h0m-1 1h0m1 0h0m-1 1h0m1 0h0m-1 1h0m1 0h0m-1 1h0m1 0h0" stroke="#008080" stroke-width="2" stroke-linecap="square" fill="none"/><rect x="712.3" y="438.9" width="42.3" height="17.2" fill="#fff" stroke="#333" stroke-width="1"/><text x="733.5" y="452.5" class="lg" text-anchor="middle">LENC</text><text x="647.9" y="476.1" class="tk" text-anchor="middle">0</text><text x="670.3" y="476.1" class="tk" text-anchor="middle">10</text><text x="692.8" y="476.1" class="tk" text-anchor="middle">20</text><text x="715.2" y="476.1" class="tk" text-anchor="middle">30</text><text x="737.7" y="476.1" class="tk" text-anchor="middle">40</text><text x="760.7" y="476.1" class="tk" text-anchor="middle">50</text><path d="M647.9 466.2v-2" class="tm"/><path d="M670.3 466.2v-2" class="tm"/><path d="M692.8 466.2v-2" class="tm"/><path d="M715.2 466.2v-2" class="tm"/><path d="M737.7 466.2v-2" class="tm"/><path d="M659.1 466.2v-2" class="tm"/><path d="M681.6 466.2v-2" class="tm"/><path d="M704 466.2v-2" class="tm"/><path d="M726.5 466.2v-2" class="tm"/><path d="M749.2 466.2v-2" class="tm"/><rect x="21.4" y="363.4" width="739.1" height="102.8" class="fr"/><path d="M144.6 363.4V466.2" class="fr"/><path d="M267.8 363.4V466.2" class="fr"/><path d="M390.9 363.4V466.2" class="fr"/><path d="M514.1 363.4V466.2" class="fr"/><path d="M637.3 363.4V466.2" class="fr"/><text x="19.6" y="375" class="tk" text-anchor="end">100</text><path d="M21.4 371.2h2" class="tm"/><text x="19.6" y="392.2" class="tk" text-anchor="end">80</text><path d="M21.4 388.4h2" class="tm"/><text x="19.6" y="409.4" class="tk" text-anchor="end">60</text><path d="M21.4 405.6h2" class="tm"/><text x="19.6" y="426.5" class="tk" text-anchor="end">40</text><path d="M21.4 422.7h2" class="tm"/><text x="19.6" y="443.7" class="tk" text-anchor="end">20</text><path d="M21.4 439.9h2" class="tm"/><text x="19.6" y="460.8" class="tk" text-anchor="end">0</text><path d="M21.4 457h2" class="tm"/><text x="390.3" y="519.6" class="cap" text-anchor="middle">(c) Web-spam</text></g>
<g><polygon points="50,641.8 61.7,636.5 67.5,631.8 74.5,624.8 79.2,619 82.7,613.1 86.2,607.3 89.7,601.4 92.1,595.6 94.4,589.8 96.8,583.9 99.1,578.1 101.4,572.2 103.8,566.4 106.1,560.5 110.8,554.7 116.6,551.8 131.8,551.8 124.8,554.7 120.1,560.5 117.2,566.4 115.5,572.2 113.7,578.1 111.9,583.9 110.8,589.8 109.6,595.6 107.3,601.4 103.8,607.3 101.4,613.1 99.1,619 97.9,624.8 94.4,631.8 92.1,636.5 73.4,641.8" fill="#00ff00"/><path d="M120 551h0m19 0h0m-22 1h0m2 0h0m1 0h0m1 0h0m2 0h0m1 0h0m1 0h0m1 0h0m2 0h0m-11 1h0m2 0h0m1 0h0m1 0h0m2 0h0m2 0h0m2 0h0m-11 1h0m1 0h0m3 0h0m1 0h0m1 0h0m1 0h0m3 0h0m-13 1h0m1 0h0m1 0h0m1 0h0m2 0h0m2 0h0m1 0h0m1 0h0m1 0h0m-9 1h0m2 0h0m3 0h0m2 0h0m1 0h0m-12 1h0m4 0h0m1 0h0m1 0h0m1 0h0m3 0h0m-12 1h0m3 0h0m1 0h0m1 0h0m1 0h0m1 0h0m1 0h0m1 0h0m1 0h0m1 0h0m3 0h0m-14 1h0m3 0h0m1 0h0m1 0h0m1 0h0m2 0h0m1 0h0m1 0h0m2 0h0m-15 1h0m4 0h0m2 0h0m3 0h0m1 0h0m3 0h0m-15 1h0m3 0h0m7 0h0m1 0h0m1 0h0m1 0h0m-8 1h0m2 0h0m1 0h0m1 0h0m2 0h0m1 0h0m-17 1h0m9 0h0m1 0h0m3 0h0m1 0h0m2 0h0m2 0h0m2 0h0m-11 1h0m1 0h0m1 0h0m1 0h0m1 0h0m2 0h0m1 0h0m2 0h0m-9 1h0m1 0h0m1 0h0m1 0h0m1 0h0m1 0h0m1 0h0m3 0h0m1 0h0m1 0h0m-16 1h0m3 0h0m1 0h0m2 0h0m1 0h0m1 0h0m1 0h0m2 0h0m1 0h0m-11 1h0m4 0h0m1 0h0m2 0h0m2 0h0m3 0h0m-16 1h0m8 0h0m4 0h0m1 0h0m-8 1h0m3 0h0m1 0h0m2 0h0m1 0h0m1 0h0m1 0h0m-9 1h0m1 0h0m2 0h0m1 0h0m1 0h0m1 0h0m2 0h0m1 0h0m1 0h0m-15 1h0m7 0h0m1 0h0m1 0h0m1 0h0m2 0h0m2 0h0m1 0h0m-15 1h0m1 0h0m5 0h0m1 0h0m1 0h0m2 0h0m1 0h0m1 0h0m2 0h0m-7 1h0m1 0h0m1 0h0m1 0h0m1 0h0m2 0h0m-15 1h0m5 0h0m1 0h0m3 0h0m3 0h0m1 0h0m1 0h0m-13 1h0m2 0h0m1 0h0m1 0h0m2 0h0m1 0h0m1 0h0m1 0h0m1 0h0m1 0h0m1 0h0m1 0h0m-9 1h0m2 0h0m1 0h0m1 0h0m2 0h0m1 0h0m1 0h0m-9 1h0m2 0h0m1 0h0m1 0h0m1 0h0m2 0h0m2 0h0m-10 1h0m3 0h0m1 0h0m1 0h0m2 0h0m1 0h0m1 0h0m2 0h0m-14 1h0m1 0h0m3 0h0m2 0h0m3 0h0m3 0h0m1 0h0m-19 1h0m10 0h0m2 0h0m1 0h0m1 0h0m3 0h0m4 0h0m-15 1h0m1 0h0m2 0h0m1 0h0m2 0h0m1 0h0m3 0h0m1 0h0m2 0h0m-12 1h0m1 0h0m1 0h0m1 0h0m2 0h0m1 0h0m1 0h0m2 0h0m2 0h0m-12 1h0m1 0h0m1 0h0m1 0h0m1 0h0m2 0h0m3 0h0m1 0h0m4 0h0m-17 1h0m2 0h0m4 0h0m1 0h0m1 0h0m2 0h0m1 0h0m-7 1h0m2 0h0m1 0h0m2 0h0m2 0h0m1 0h0m1 0h0m3 0h0m-11 1h0m2 0h0m1 0h0m1 0h0m1 0h0m2 0h0m2 0h0m1 0h0m-15 1h0m3 0h0m3 0h0m1 0h0m1 0h0m1 0h0m1 0h0m1 0h0m1 0h0m-14 1h0m1 0h0m4 0h0m3 0h0m1 0h0m2 0h0m1 0h0m2 0h0m1 0h0m1 0h0m1 0h0m-10 1h0m1 0h0m1 0h0m1 0h0m2 0h0m1 0h0m1 0h0m1 0h0m-11 1h0m3 0h0m2 0h0m2 0h0m1 0h0m1 0h0m2 0h0m-11 1h0m3 0h0m1 0h0m1 0h0m1 0h0m2 0h0m1 0h0m2 0h0m-11 1h0m1 0h0m1 0h0m2 0h0m2 0h0m1 0h0m2 0h0m1 0h0m1 0h0m1 0h0m-17 1h0m1 0h0m4 0h0m1 0h0m1 0h0m1 0h0m1 0h0m1 0h0m1 0h0m1 0h0m2 0h0m1 0h0m-10 1h0m1 0h0m1 0h0m1 0h0m2 0h0m1 0h0m1 0h0m1 0h0m1 0h0m-15 1h0m3 0h0m6 0h0m1 0h0m1 0h0m3 0h0m2 0h0m1 0h0m-19 1h0m9 0h0m3 0h0m1 0h0m1 0h0m3 0h0m1 0h0m2 0h0m-12 1h0m1 0h0m1 0h0m1 0h0m1 0h0m1 0h0m1 0h0m1 0h0m4 0h0m-14 1h0m3 0h0m2 0h0m1 0h0m1 0h0m3 0h0m3 0h0m-15 1h0m1 0h0m3 0h0m3 0h0m1 0h0m1 0h0m1 0h0m1 0h0m1 0h0m1 0h0m2 0h0m-14 1h0m1 0h0m1 0h0m1 0h0m2 0h0m1 0h0m1 0h0m1 0h0m1 0h0m1 0h0m1 0h0m1 0h0m1 0h0m-14 1h0m3 0h0m1 0h0m1 0h0m1 0h0m1 0h0m1 0h0m2 0h0m1 0h0m5 0h0m-22 1h0m3 0h0m1 0h0m2 0h0m3 0h0m3 0h0m1 0h0m1 0h0m1 0h0m1 0h0m1 0h0m1 0h0m2 0h0m2 0h0m-23 1h0m1 0h0m4 0h0m1 0h0m2 0h0m4 0h0m2 0h0m1 0h0m1 0h0m1 0h0m3 0h0m-14 1h0m1 0h0m1 0h0m3 0h0m4 0h0m1 0h0m3 0h0m1 0h0m-18 1h0m4 0h0m1 0h0m1 0h0m3 0h0m1 0h0m1 0h0m2 0h0m1 0h0m1 0h0m-16 1h0m6 0h0m1 0h0m1 0h0m1 0h0m1 0h0m1 0h0m1 0h0m2 0h0m2 0h0m2 0h0m-17 1h0m5 0h0m1 0h0m1 0h0m1 0h0m1 0h0m1 0h0m1 0h0m1 0h0m1 0h0m3 0h0m-18 1h0m6 0h0m2 0h0m1 0h0m1 0h0m5 0h0m-14 1h0m1 0h0m2 0h0m1 0h0m2 0h0m2 0h0m1 0h0m1 0h0m1 0h0m4 0h0m1 0h0m2 0h0m-17 1h0m2 0h0m3 0h0m2 0h0m1 0h0m1 0h0m1 0h0m3 0h0m1 0h0m-12 1h0m1 0h0m2 0h0m1 0h0m1 0h0m1 0h0m2 0h0m3 0h0m-14 1h0m4 0h0m2 0h0m1 0h0m1 0h0m1 0h0m1 0h0m1 0h0m2 0h0m1 0h0m1 0h0m2 0h0m-18 1h0m2 0h0m3 0h0m2 0h0m1 0h0m2 0h0m4 0h0m1 0h0m-16 1h0m1 0h0m2 0h0m3 0h0m1 0h0m2 0h0m1 0h0m5 0h0m-17 1h0m4 0h0m2 0h0m1 0h0m1 0h0m2 0h0m3 0h0m2 0h0m1 0h0m-15 1h0m5 0h0m1 0h0m1 0h0m1 0h0m4 0h0m3 0h0m-16 1h0m1 0h0m2 0h0m1 0h0m1 0h0m1 0h0m2 0h0m1 0h0m2 0h0m1 0h0m1 0h0m-13 1h0m2 0h0m2 0h0m2 0h0m1 0h0m1 0h0m1 0h0m1 0h0m1 0h0m2 0h0m1 0h0m1 0h0m1 0h0m-21 1h0m6 0h0m1 0h0m1 0h0m1 0h0m1 0h0m1 0h0m1 0h0m1 0h0m2 0h0m2 0h0m1 0h0m3 0h0m-17 1h0m1 0h0m1 0h0m2 0h0m1 0h0m1 0h0m1 0h0m1 0h0m1 0h0m2 0h0m1 0h0m2 0h0m1 0h0m-15 1h0m5 0h0m1 0h0m1 0h0m2 0h0m1 0h0m1 0h0m1 0h0m1 0h0m2 0h0m2 0h0m-17 1h0m2 0h0m1 0h0m1 0h0m2 0h0m2 0h0m2 0h0m1 0h0m4 0h0m-22 1h0m3 0h0m4 0h0m2 0h0m1 0h0m1 0h0m4 0h0m4 0h0m1 0h0m1 0h0m1 0h0m-19 1h0m4 0h0m1 0h0m1 0h0m1 0h0m1 0h0m1 0h0m1 0h0m2 0h0m1 0h0m1 0h0m1 0h0m3 0h0m1 0h0m-18 1h0m2 0h0m2 0h0m1 0h0m1 0h0m1 0h0m1 0h0m1 0h0m1 0h0m1 0h0m1 0h0m4 0h0m-19 1h0m1 0h0m5 0h0m1 0h0m2 0h0m1 0h0m1 0h0m1 0h0m1 0h0m1 0h0m2 0h0m4 0h0m-14 1h0m2 0h0m1 0h0m1 0h0m1 0h0m1 0h0m5 0h0m1 0h0m2 0h0m-19 1h0m1 0h0m1 0h0m2 0h0m2 0h0m1 0h0m1 0h0m1 0h0m1 0h0m1 0h0m1 0h0m2 0h0m1 0h0m2 0h0m1 0h0m2 0h0m-24 1h0m4 0h0m2 0h0m2 0h0m2 0h0m1 0h0m1 0h0m1 0h0m2 0h0m1 0h0m1 0h0m2 0h0m-19 1h0m4 0h0m1 0h0m3 0h0m1 0h0m1 0h0m1 0h0m1 0h0m1 0h0m1 0h0m1 0h0m1 0h0m1 0h0m1 0h0m1 0h0m1 0h0m1 0h0m1 0h0m-24 1h0m2 0h0m2 0h0m1 0h0m1 0h0m1 0h0m1 0h0m1 0h0m1 0h0m1 0h0m1 0h0m1 0h0m1 0h0m1 0h0m1 0h0m2 0h0m1 0h0m1 0h0m1 0h0m3 0h0m-22 1h0m3 0h0m1 0h0m1 0h0m1 0h0m1 0h0m1 0h0m1 0h0m3 0h0m1 0h0m1 0h0m2 0h0m2 0h0m2 0h0m-20 1h0m1 0h0m1 0h0m1 0h0m1 0h0m2 0h0m1 0h0m1 0h0m1 0h0m1 0h0m1 0h0m3 0h0m3 0h0m1 0h0m2 0h0m-21 1h0m1 0h0m2 0h0m2 0h0m1 0h0m1 0h0m1 0h0m1 0h0m1 0h0m1 0h0m2 0h0m1 0h0m1 0h0m1 0h0m2 0h0m2 0h0m-25 1h0m3 0h0m1 0h0m1 0h0m2 0h0m2 0h0m1 0h0m1 0h0m1 0h0m1 0h0m1 0h0m1 0h0m1 0h0m2 0h0m1 0h0m1 0h0m2 0h0m1 0h0m-23 1h0m1 0h0m2 0h0m1 0h0m1 0h0m1 0h0m2 0h0m4 0h0m1 0h0m1 0h0m1 0h0m1 0h0m1 0h0m1 0h0m1 0h0m1 0h0m-17 1h0m3 0h0m2 0h0m1 0h0m1 0h0m1 0h0m1 0h0m1 0h0m1 0h0m1 0h0m2 0h0m2 0h0m2 0h0m-22 1h0m3 0h0m1 0h0m1 0h0m2 0h0m5 0h0m3 0h0m-20 1h0m1 0h0m1 0h0m4 0h0m2 0h0m1 0h0m1 0h0m2 0h0m1 0h0m1 0h0m1 0h0m1 0h0m2 0h0m5 0h0m-37 1h0m13 0h0m1 0h0m1 0h0m1 0h0m1 0h0m1 0h0m1 0h0m1 0h0m1 0h0m1 0h0m1 0h0m1 0h0m2 0h0m1 0h0m3 0h0m-45 1h0m2 0h0m1 0h0m1 0h0m1 0h0m1 0h0m2 0h0m1 0h0m5 0h0m2 0h0m1 0h0m1 0h0m1 0h0m1 0h0m2 0h0m2 0h0m1 0h0m1 0h0m2 0h0m1 0h0m1 0h0m1 0h0m1 0h0m1 0h0m1 0h0m1 0h0m1 0h0m1 0h0m1 0h0m1 0h0m2 0h0m4 0h0m-45 1h0m1 0h0m1 0h0m2 0h0m3 0h0m4 0h0m1 0h0m3 0h0m4 0h0m1 0h0m4 0h0m1 0h0m5 0h0m1 0h0m1 0h0m2 0h0m1 0h0m3 0h0m1 0h0m1 0h0" stroke="#00ff00" stroke-width="2" stroke-linecap="square" fill="none"/><rect x="116.3" y="621.6" width="23.3" height="16.7" fill="#fff" stroke="#333" stroke-width="1"/><text x="127.9" y="634.7" class="lg" text-anchor="middle">CC</text><text x="21.3" y="657.1" class="tk" text-anchor="middle">12</text><text x="43.3" y="657.1" class="tk" text-anchor="middle">16</text><text x="65.4" y="657.1" class="tk" text-anchor="middle">20</text><text x="87.5" y="657.1" class="tk" text-anchor="middle">24</text><text x="108.9" y="657.1" class="tk" text-anchor="middle">28</text><text x="131" y="657.1" class="tk" text-anchor="middle">32</text><path d="M43.3 647.2v-2" class="tm"/><path d="M65.4 647.2v-2" class="tm"/><path d="M87.5 647.2v-2" class="tm"/><path d="M108.9 647.2v-2" class="tm"/><path d="M131 647.2v-2" class="tm"/><path d="M32.3 647.2v-2" class="tm"/><path d="M54.3 647.2v-2" class="tm"/><path d="M76.4 647.2v-2" class="tm"/><path d="M98.2 647.2v-2" class="tm"/><path d="M119.9 647.2v-2" class="tm"/><path d="M202 550h0m-8 1h0m2 0h0m7 0h0m20 0h0m16 0h0m10 0h0m10 0h0m-77 1h0m5 0h0m6 0h0m9 0h0m1 0h0m2 0h0m1 0h0m5 0h0m2 0h0m5 0h0m3 0h0m1 0h0m1 0h0m5 0h0m1 0h0m1 0h0m14 0h0m-69 1h0m5 0h0m1 0h0m1 0h0m1 0h0m1 0h0m2 0h0m5 0h0m7 0h0m4 0h0m4 0h0m3 0h0m4 0h0m2 0h0m2 0h0m1 0h0m3 0h0m-45 1h0m1 0h0m1 0h0m1 0h0m1 0h0m1 0h0m1 0h0m1 0h0m3 0h0m4 0h0m1 0h0m1 0h0m1 0h0m5 0h0m1 0h0m3 0h0m6 0h0m4 0h0m4 0h0m3 0h0m2 0h0m1 0h0m3 0h0m-54 1h0m1 0h0m2 0h0m2 0h0m1 0h0m1 0h0m1 0h0m3 0h0m1 0h0m3 0h0m1 0h0m1 0h0m2 0h0m2 0h0m6 0h0m4 0h0m4 0h0m3 0h0m3 0h0m1 0h0m5 0h0m-51 1h0m1 0h0m1 0h0m1 0h0m1 0h0m1 0h0m1 0h0m1 0h0m1 0h0m1 0h0m7 0h0m2 0h0m2 0h0m1 0h0m2 0h0m1 0h0m3 0h0m5 0h0m2 0h0m-33 1h0m1 0h0m1 0h0m1 0h0m2 0h0m1 0h0m5 0h0m4 0h0m4 0h0m1 0h0m1 0h0m3 0h0m5 0h0m3 0h0m-35 1h0m1 0h0m1 0h0m1 0h0m2 0h0m2 0h0m1 0h0m6 0h0m1 0h0m3 0h0m2 0h0m2 0h0m4 0h0m3 0h0m-30 1h0m1 0h0m1 0h0m2 0h0m2 0h0m1 0h0m3 0h0m3 0h0m1 0h0m1 0h0m1 0h0m4 0h0m4 0h0m3 0h0m3 0h0m2 0h0m9 0h0m-43 1h0m1 0h0m1 0h0m1 0h0m1 0h0m1 0h0m1 0h0m3 0h0m5 0h0m4 0h0m3 0h0m1 0h0m2 0h0m1 0h0m1 0h0m1 0h0m8 0h0m5 0h0m-40 1h0m1 0h0m1 0h0m2 0h0m2 0h0m1 0h0m1 0h0m1 0h0m1 0h0m4 0h0m1 0h0m2 0h0m2 0h0m1 0h0m1 0h0m2 0h0m1 0h0m1 0h0m3 0h0m12 0h0m-41 1h0m1 0h0m1 0h0m1 0h0m1 0h0m1 0h0m1 0h0m3 0h0m1 0h0m3 0h0m1 0h0m2 0h0m2 0h0m5 0h0m1 0h0m-25 1h0m1 0h0m1 0h0m1 0h0m1 0h0m1 0h0m2 0h0m1 0h0m1 0h0m1 0h0m2 0h0m1 0h0m1 0h0m2 0h0m3 0h0m4 0h0m2 0h0m1 0h0m-26 1h0m1 0h0m1 0h0m2 0h0m2 0h0m5 0h0m2 0h0m3 0h0m1 0h0m2 0h0m2 0h0m-21 1h0m1 0h0m1 0h0m1 0h0m1 0h0m4 0h0m5 0h0m1 0h0m2 0h0m2 0h0m1 0h0m1 0h0m3 0h0m6 0h0m3 0h0m-33 1h0m1 0h0m1 0h0m1 0h0m1 0h0m2 0h0m3 0h0m1 0h0m1 0h0m1 0h0m1 0h0m1 0h0m2 0h0m1 0h0m1 0h0m2 0h0m1 0h0m13 0h0m1 0h0m2 0h0m3 0h0m-41 1h0m1 0h0m1 0h0m2 0h0m1 0h0m1 0h0m1 0h0m3 0h0m3 0h0m3 0h0m2 0h0m1 0h0m2 0h0m10 0h0m-32 1h0m1 0h0m1 0h0m2 0h0m4 0h0m1 0h0m1 0h0m1 0h0m1 0h0m5 0h0m4 0h0m1 0h0m5 0h0m6 0h0m-33 1h0m1 0h0m1 0h0m2 0h0m1 0h0m1 0h0m1 0h0m1 0h0m1 0h0m2 0h0m1 0h0m1 0h0m1 0h0m1 0h0m2 0h0m3 0h0m1 0h0m9 0h0m5 0h0m-36 1h0m1 0h0m1 0h0m1 0h0m1 0h0m2 0h0m1 0h0m2 0h0m5 0h0m2 0h0m3 0h0m3 0h0m5 0h0m1 0h0m9 0h0m-37 1h0m1 0h0m1 0h0m1 0h0m1 0h0m1 0h0m5 0h0m1 0h0m1 0h0m3 0h0m1 0h0m3 0h0m4 0h0m12 0h0m-35 1h0m1 0h0m1 0h0m1 0h0m1 0h0m3 0h0m1 0h0m1 0h0m2 0h0m1 0h0m1 0h0m2 0h0m2 0h0m1 0h0m3 0h0m6 0h0m3 0h0m1 0h0m2 0h0m-33 1h0m1 0h0m1 0h0m1 0h0m2 0h0m2 0h0m1 0h0m1 0h0m1 0h0m2 0h0m2 0h0m2 0h0m1 0h0m2 0h0m1 0h0m3 0h0m9 0h0m-33 1h0m1 0h0m3 0h0m1 0h0m1 0h0m1 0h0m1 0h0m1 0h0m2 0h0m3 0h0m2 0h0m1 0h0m6 0h0m6 0h0m-29 1h0m1 0h0m1 0h0m1 0h0m1 0h0m1 0h0m1 0h0m4 0h0m15 0h0m4 0h0m-29 1h0m1 0h0m1 0h0m1 0h0m1 0h0m5 0h0m1 0h0m1 0h0m3 0h0m8 0h0m5 0h0m2 0h0m2 0h0m2 0h0m-33 1h0m3 0h0m1 0h0m1 0h0m1 0h0m1 0h0m1 0h0m3 0h0m1 0h0m1 0h0m4 0h0m12 0h0m-29 1h0m1 0h0m1 0h0m2 0h0m1 0h0m2 0h0m1 0h0m1 0h0m3 0h0m6 0h0m2 0h0m-21 1h0m2 0h0m4 0h0m1 0h0m2 0h0m1 0h0m1 0h0m1 0h0m1 0h0m2 0h0m1 0h0m6 0h0m2 0h0m-24 1h0m1 0h0m2 0h0m1 0h0m2 0h0m1 0h0m1 0h0m2 0h0m1 0h0m2 0h0m1 0h0m9 0h0m-23 1h0m1 0h0m2 0h0m1 0h0m3 0h0m1 0h0m1 0h0m1 0h0m1 0h0m4 0h0m13 0h0m-28 1h0m1 0h0m1 0h0m1 0h0m1 0h0m3 0h0m3 0h0m1 0h0m1 0h0m1 0h0m1 0h0m3 0h0m2 0h0m7 0h0m-27 1h0m1 0h0m1 0h0m1 0h0m1 0h0m1 0h0m2 0h0m1 0h0m1 0h0m2 0h0m1 0h0m3 0h0m-14 1h0m1 0h0m1 0h0m2 0h0m3 0h0m2 0h0m2 0h0m1 0h0m7 0h0m5 0h0m-25 1h0m1 0h0m1 0h0m1 0h0m2 0h0m1 0h0m2 0h0m1 0h0m1 0h0m1 0h0m1 0h0m1 0h0m4 0h0m4 0h0m-21 1h0m1 0h0m1 0h0m3 0h0m1 0h0m1 0h0m1 0h0m1 0h0m1 0h0m1 0h0m1 0h0m1 0h0m7 0h0m4 0h0m-24 1h0m1 0h0m1 0h0m1 0h0m1 0h0m2 0h0m2 0h0m2 0h0m1 0h0m1 0h0m-12 1h0m1 0h0m1 0h0m1 0h0m1 0h0m1 0h0m3 0h0m3 0h0m9 0h0m-21 1h0m1 0h0m1 0h0m1 0h0m3 0h0m2 0h0m1 0h0m1 0h0m1 0h0m-11 1h0m1 0h0m1 0h0m1 0h0m1 0h0m1 0h0m2 0h0m1 0h0m1 0h0m1 0h0m2 0h0m-11 1h0m1 0h0m1 0h0m1 0h0m3 0h0m1 0h0m1 0h0m1 0h0m1 0h0m1 0h0m1 0h0m6 0h0m-19 1h0m1 0h0m1 0h0m1 0h0m2 0h0m1 0h0m1 0h0m2 0h0m1 0h0m2 0h0m-12 1h0m1 0h0m1 0h0m1 0h0m1 0h0m3 0h0m1 0h0m1 0h0m1 0h0m1 0h0m-11 1h0m1 0h0m1 0h0m4 0h0m1 0h0m1 0h0m2 0h0m2 0h0m-12 1h0m1 0h0m1 0h0m1 0h0m1 0h0m1 0h0m1 0h0m2 0h0m1 0h0m2 0h0m1 0h0m-13 1h0m1 0h0m1 0h0m1 0h0m1 0h0m3 0h0m-7 1h0m1 0h0m1 0h0m1 0h0m1 0h0m1 0h0m1 0h0m1 0h0m2 0h0m1 0h0m1 0h0m1 0h0m-12 1h0m1 0h0m1 0h0m1 0h0m1 0h0m1 0h0m1 0h0m5 0h0m-11 1h0m1 0h0m2 0h0m1 0h0m1 0h0m2 0h0m2 0h0m1 0h0m1 0h0m-11 1h0m1 0h0m1 0h0m1 0h0m3 0h0m1 0h0m1 0h0m1 0h0m1 0h0m-10 1h0m1 0h0m1 0h0m1 0h0m1 0h0m2 0h0m2 0h0m3 0h0m-11 1h0m1 0h0m1 0h0m1 0h0m2 0h0m1 0h0m1 0h0m2 0h0m1 0h0m1 0h0m-11 1h0m1 0h0m1 0h0m1 0h0m3 0h0m2 0h0m1 0h0m-9 1h0m1 0h0m1 0h0m3 0h0m1 0h0m1 0h0m1 0h0m1 0h0m1 0h0m-10 1h0m1 0h0m1 0h0m1 0h0m2 0h0m2 0h0m1 0h0m2 0h0m-10 1h0m1 0h0m1 0h0m1 0h0m1 0h0m2 0h0m1 0h0m1 0h0m-9 1h0m1 0h0m1 0h0m2 0h0m3 0h0m1 0h0m-8 1h0m1 0h0m2 0h0m1 0h0m1 0h0m1 0h0m1 0h0m1 0h0m1 0h0m2 0h0m-12 1h0m2 0h0m1 0h0m1 0h0m1 0h0m1 0h0m1 0h0m1 0h0m1 0h0m1 0h0m2 0h0m-11 1h0m1 0h0m1 0h0m1 0h0m1 0h0m1 0h0m1 0h0m1 0h0m1 0h0m2 0h0m-10 1h0m1 0h0m1 0h0m1 0h0m1 0h0m2 0h0m1 0h0m1 0h0m1 0h0m1 0h0m-11 1h0m1 0h0m1 0h0m1 0h0m1 0h0m1 0h0m3 0h0m1 0h0m1 0h0m-9 1h0m1 0h0m2 0h0m1 0h0m3 0h0m-8 1h0m1 0h0m1 0h0m2 0h0m2 0h0m2 0h0m1 0h0m1 0h0m-10 1h0m1 0h0m1 0h0m1 0h0m1 0h0m1 0h0m1 0h0m1 0h0m1 0h0m1 0h0m1 0h0m-10 1h0m1 0h0m1 0h0m1 0h0m3 0h0m1 0h0m3 0h0m-10 1h0m1 0h0m1 0h0m1 0h0m1 0h0m1 0h0m2 0h0m1 0h0m1 0h0m-9 1h0m1 0h0m1 0h0m1 0h0m1 0h0m1 0h0m1 0h0m3 0h0m-9 1h0m2 0h0m1 0h0m1 0h0m2 0h0m3 0h0m-9 1h0m1 0h0m2 0h0m1 0h0m1 0h0m1 0h0m2 0h0m-8 1h0m1 0h0m1 0h0m2 0h0m1 0h0m1 0h0m-6 1h0m1 0h0m1 0h0m1 0h0m1 0h0m2 0h0m1 0h0m2 0h0m-9 1h0m1 0h0m1 0h0m1 0h0m1 0h0m1 0h0m1 0h0m-6 1h0m1 0h0m1 0h0m1 0h0m1 0h0m1 0h0m1 0h0m1 0h0m-7 1h0m1 0h0m1 0h0m1 0h0m3 0h0m1 0h0m1 0h0m-8 1h0m1 0h0m1 0h0m1 0h0m2 0h0m2 0h0m1 0h0m-9 1h0m1 0h0m1 0h0m1 0h0m2 0h0m2 0h0m-6 1h0m1 0h0m1 0h0m2 0h0m1 0h0m-6 1h0m1 0h0m1 0h0m1 0h0m2 0h0m-5 1h0m2 0h0m1 0h0m1 0h0m2 0h0m-5 1h0m1 0h0m2 0h0m1 0h0m1 0h0m-6 1h0m1 0h0m2 0h0m-2 1h0m2 0h0m1 0h0m-4 1h0m2 0h0m-3 1h0m1 0h0m2 0h0m1 0h0m-3 1h0m1 0h0m1 0h0m2 0h0m-4 1h0m1 0h0m1 0h0m1 0h0m-4 1h0m1 0h0m2 0h0m1 0h0m-4 1h0m1 0h0m1 0h0m1 0h0m-2 1h0m1 0h0m1 0h0m-2 1h0m1 0h0" stroke="#0000ff" stroke-width="2" stroke-linecap="square" fill="none"/><rect x="240.2" y="621.1" width="23.3" height="16.9" fill="#fff" stroke="#333" stroke-width="1"/><text x="251.8" y="634.4" class="lg" text-anchor="middle">EC</text><text x="148.3" y="657.1" class="tk" text-anchor="middle">0</text><text x="163.3" y="657.1" class="tk" text-anchor="middle">2</text><text x="178.3" y="657.1" class="tk" text-anchor="middle">4</text><text x="193.2" y="657.1" class="tk" text-anchor="middle">6</text><text x="208.2" y="657.1" class="tk" text-anchor="middle">8</text><text x="223.2" y="657.1" class="tk" text-anchor="middle">10</text><text x="238.4" y="657.1" class="tk" text-anchor="middle">12</text><text x="253.1" y="657.1" class="tk" text-anchor="middle">14</text><path d="M148.3 647.2v-2" class="tm"/><path d="M163.3 647.2v-2" class="tm"/><path d="M178.3 647.2v-2" class="tm"/><path d="M193.2 647.2v-2" class="tm"/><path d="M208.2 647.2v-2" class="tm"/><path d="M223.2 647.2v-2" class="tm"/><path d="M238.4 647.2v-2" class="tm"/><path d="M253.1 647.2v-2" class="tm"/><path d="M155.8 647.2v-2" class="tm"/><path d="M170.8 647.2v-2" class="tm"/><path d="M185.8 647.2v-2" class="tm"/><path d="M200.7 647.2v-2" class="tm"/><path d="M215.7 647.2v-2" class="tm"/><path d="M230.8 647.2v-2" class="tm"/><path d="M245.8 647.2v-2" class="tm"/><rect x="270" y="629.4" width="2" height="12.8" fill="#808000"/><rect x="273" y="620.8" width="2" height="21.8" fill="#808000"/><rect x="277" y="613" width="2" height="28.4" fill="#808000"/><rect x="280" y="606.4" width="2" height="31.5" fill="#808000"/><rect x="284" y="602.6" width="2" height="32.7" fill="#808000"/><rect x="288" y="595.7" width="2" height="31" fill="#808000"/><rect x="291" y="593.1" width="2" height="26.6" fill="#808000"/><rect x="295" y="588" width="2" height="25.8" fill="#808000"/><rect x="298" y="581.1" width="2" height="29.2" fill="#808000"/><rect x="302" y="575.9" width="2" height="24.9" fill="#808000"/><rect x="305" y="570.7" width="2" height="28.4" fill="#808000"/><rect x="309" y="568.1" width="2" height="23.2" fill="#808000"/><rect x="312" y="562.9" width="2" height="24.9" fill="#808000"/><rect x="316" y="563.8" width="2" height="19.7" fill="#808000"/><rect x="319" y="561.2" width="2" height="17.1" fill="#808000"/><rect x="323" y="556.9" width="2" height="18.9" fill="#808000"/><rect x="327" y="556" width="2" height="17.1" fill="#808000"/><rect x="330" y="554.3" width="2" height="15.4" fill="#808000"/><rect x="334" y="554.3" width="2" height="14.6" fill="#808000"/><rect x="337" y="552.6" width="2" height="12.8" fill="#808000"/><rect x="341" y="552.6" width="2" height="14.6" fill="#808000"/><rect x="344" y="552.6" width="2" height="12.8" fill="#808000"/><rect x="348" y="550.8" width="2" height="10.2" fill="#808000"/><rect x="351" y="550.8" width="2" height="7.6" fill="#808000"/><rect x="355" y="550" width="2" height="8.5" fill="#808000"/><rect x="358" y="550" width="2" height="5.9" fill="#808000"/><rect x="362" y="550" width="2" height="5.1" fill="#808000"/><rect x="365" y="550" width="2" height="3.3" fill="#808000"/><rect x="369" y="550" width="2" height="2.5" fill="#808000"/><rect x="373" y="550" width="2" height="3.3" fill="#808000"/><rect x="376" y="550" width="2" height="2.5" fill="#808000"/><path d="M356 551h0m3 0h0m4 0h0m3 0h0m4 0h0m3 0h0m4 0h0m-29 1h0m5 0h0m3 0h0m-18 1h0m4 0h0m3 0h0m15 0h0m3 1h0m-32 1h0m3 0h0m8 0h0m6 0h0m5 0h0m3 0h0m4 0h0m-22 1h0m-10 1h0m3 0h0m14 0h0m3 0h0m4 0h0m4 0h0m-32 1h0m11 0h0m3 0h0m4 0h0m-18 1h0m7 0h0m14 0h0m4 0h0m-21 1h0m7 0h0m7 0h0m3 1h0m-25 1h0m4 0h0m7 0h0m7 0h0m4 0h0m-14 1h0m6 0h0m4 0h0m-24 1h0m6 0h0m11 0h0m10 0h0m4 0h0m-28 1h0m7 0h0m11 0h0m-14 1h0m3 0h0m3 0h0m4 0h0m-18 1h0m1 1h0m3 0h0m3 0h0m7 0h0m4 0h0m3 0h0m-24 1h0m14 0h0m-11 1h0m4 0h0m-11 1h0m15 0h0m6 0h0m-17 1h0m3 0h0m4 0h0m0 1h0m3 0h0m4 0h0m-18 1h0m4 0h0m4 1h0m3 0h0m3 0h0m4 0h0m-14 1h0m-8 1h0m4 0h0m7 0h0m8 0h0m-8 2h0m4 0h0m-15 1h0m5 0h0m3 0h0m3 1h0m4 0h0m-18 1h0m8 0h0m-5 1h0m8 0h0m3 0h0m-14 1h0m0 1h0m4 0h0m4 0h0m3 1h0m-7 1h0m3 0h0m7 0h0m-14 1h0m-3 1h0m11 0h0m3 0h0m-11 1h0m4 0h0m7 0h0m-14 1h0m3 1h0m3 0h0m4 0h0m-10 1h0m-4 1h0m14 0h0m-11 1h0m4 0h0m4 1h0m3 0h0m-17 1h0m3 0h0m4 0h0m4 0h0m2 0h0m-13 2h0m7 0h0m4 0h0m-8 1h0m11 0h0m-14 2h0m7 0h0m3 0h0m-14 1h0m7 0h0m7 1h0m4 0h0m-15 1h0m4 0h0m4 0h0m-11 1h0m-4 1h0m8 0h0m3 0h0m-7 1h0m11 0h0m3 0h0m-10 1h0m-8 1h0m11 0h0m4 0h0m-11 2h0m3 0h0m7 0h0m-13 1h0m10 0h0m-14 1h0m7 0h0m4 1h0m-8 1h0m11 0h0m-14 1h0m14 0h0m-7 1h0m4 0h0m-11 1h0m4 1h0m3 0h0m-7 1h0m10 0h0m-14 1h0m7 0h0m4 0h0m-7 1h0m-4 1h0m15 0h0m-11 1h0m3 0h0m4 0h0m-10 1h0m6 0h0m-3 1h0m7 0h0m-11 1h0m4 1h0m3 0h0m4 0h0m-15 1h0m8 1h0m3 0h0m-6 1h0m3 0h0m7 0h0m-14 1h0m14 0h0m-7 1h0m4 0h0m-11 1h0m3 0h0m4 1h0m3 1h0m-10 1h0m3 0h0m4 1h0m-7 1h0m3 1h0m4 0h0" stroke="#808000" stroke-width="2" stroke-linecap="square" fill="none"/><rect x="337.6" y="620.4" width="48.4" height="17.6" fill="#fff" stroke="#333" stroke-width="1"/><text x="361.8" y="634.4" class="lg" text-anchor="middle">Hindex</text><text x="267.3" y="657.1" class="tk" text-anchor="middle">0</text><text x="284.6" y="657.1" class="tk" text-anchor="middle">5</text><text x="302.7" y="657.1" class="tk" text-anchor="middle">10</text><text x="320.9" y="657.1" class="tk" text-anchor="middle">15</text><text x="338.6" y="657.1" class="tk" text-anchor="middle">20</text><text x="356.3" y="657.1" class="tk" text-anchor="middle">25</text><text x="373.5" y="657.1" class="tk" text-anchor="middle">30</text><path d="M284.6 647.2v-2" class="tm"/><path d="M302.7 647.2v-2" class="tm"/><path d="M320.9 647.2v-2" class="tm"/><path d="M338.6 647.2v-2" class="tm"/><path d="M356.3 647.2v-2" class="tm"/><path d="M373.5 647.2v-2" class="tm"/><path d="M276 647.2v-2" class="tm"/><path d="M293.7 647.2v-2" class="tm"/><path d="M311.8 647.2v-2" class="tm"/><path d="M329.8 647.2v-2" class="tm"/><path d="M347.5 647.2v-2" class="tm"/><path d="M364.9 647.2v-2" class="tm"/><polygon points="395,550.8 395,641.4 402.4,641.4 402.4,550.8" fill="#800080"/><path d="M463 549h0m-48 1h0m2 0h0m7 0h0m6 0h0m-28 1h0m1 0h0m7 0h0m2 0h0m1 0h0m1 0h0m5 0h0m5 0h0m26 0h0m-52 1h0m1 0h0m3 0h0m1 0h0m1 0h0m5 0h0m5 0h0m3 0h0m5 0h0m5 0h0m2 0h0m10 0h0m32 0h0m-73 1h0m3 0h0m1 0h0m1 0h0m1 0h0m8 0h0m3 0h0m1 0h0m5 0h0m3 0h0m3 0h0m1 0h0m4 0h0m2 0h0m2 0h0m1 0h0m3 0h0m22 0h0m-67 1h0m6 0h0m2 0h0m1 0h0m1 0h0m1 0h0m14 0h0m3 0h0m7 0h0m8 0h0m1 0h0m19 0h0m22 0h0m-83 1h0m1 0h0m4 0h0m1 0h0m3 0h0m1 0h0m2 0h0m1 0h0m2 0h0m4 0h0m8 0h0m6 0h0m4 0h0m3 0h0m2 0h0m35 0h0m2 0h0m-78 1h0m4 0h0m1 0h0m1 0h0m14 0h0m3 0h0m1 0h0m6 0h0m2 0h0m7 0h0m-41 1h0m1 0h0m4 0h0m1 0h0m1 0h0m1 0h0m1 0h0m2 0h0m7 0h0m4 0h0m10 0h0m4 0h0m3 0h0m1 0h0m-39 1h0m2 0h0m1 0h0m2 0h0m1 0h0m1 0h0m3 0h0m4 0h0m1 0h0m4 0h0m5 0h0m2 0h0m25 0h0m8 0h0m-55 1h0m1 0h0m1 0h0m1 0h0m1 0h0m1 0h0m7 0h0m2 0h0m2 0h0m6 0h0m2 0h0m6 0h0m24 0h0m-59 1h0m3 0h0m1 0h0m1 0h0m1 0h0m2 0h0m1 0h0m1 0h0m4 0h0m1 0h0m3 0h0m2 0h0m4 0h0m3 0h0m5 0h0m5 0h0m7 0h0m-43 1h0m1 0h0m2 0h0m1 0h0m1 0h0m1 0h0m1 0h0m1 0h0m2 0h0m2 0h0m1 0h0m10 0h0m1 0h0m4 0h0m1 0h0m7 0h0m3 0h0m2 0h0m11 0h0m-50 1h0m4 0h0m1 0h0m1 0h0m2 0h0m1 0h0m3 0h0m3 0h0m3 0h0m1 0h0m16 0h0m67 0h0m-105 1h0m3 0h0m3 0h0m1 0h0m3 0h0m1 0h0m2 0h0m3 0h0m2 0h0m1 0h0m9 0h0m12 0h0m55 0h0m12 0h0m-108 1h0m1 0h0m2 0h0m5 0h0m1 0h0m1 0h0m3 0h0m5 0h0m1 0h0m8 0h0m2 0h0m1 0h0m9 0h0m3 0h0m3 0h0m6 0h0m-49 1h0m2 0h0m1 0h0m1 0h0m1 0h0m1 0h0m1 0h0m1 0h0m2 0h0m1 0h0m4 0h0m18 0h0m4 0h0m1 0h0m3 0h0m-42 1h0m3 0h0m1 0h0m2 0h0m1 0h0m1 0h0m3 0h0m3 0h0m1 0h0m4 0h0m4 0h0m17 0h0m-41 1h0m4 0h0m3 0h0m1 0h0m1 0h0m1 0h0m4 0h0m1 0h0m2 0h0m2 0h0m4 0h0m7 0h0m4 0h0m7 0h0m9 0h0m-45 1h0m2 0h0m1 0h0m2 0h0m5 0h0m4 0h0m8 0h0m-27 1h0m1 0h0m2 0h0m1 0h0m3 0h0m1 0h0m2 0h0m2 0h0m2 0h0m4 0h0m1 0h0m2 0h0m6 0h0m8 0h0m4 0h0m7 0h0m3 0h0m-45 1h0m2 0h0m1 0h0m1 0h0m1 0h0m1 0h0m3 0h0m1 0h0m1 0h0m2 0h0m20 0h0m1 0h0m-37 1h0m3 0h0m3 0h0m1 0h0m1 0h0m1 0h0m1 0h0m1 0h0m11 0h0m1 0h0m8 0h0m3 0h0m6 0h0m4 0h0m-44 1h0m3 0h0m4 0h0m2 0h0m1 0h0m1 0h0m4 0h0m1 0h0m1 0h0m3 0h0m7 0h0m4 0h0m1 0h0m2 0h0m-34 1h0m3 0h0m3 0h0m1 0h0m2 0h0m1 0h0m9 0h0m7 0h0m12 0h0m16 0h0m-55 1h0m4 0h0m1 0h0m2 0h0m1 0h0m1 0h0m2 0h0m1 0h0m10 0h0m1 0h0m2 0h0m8 0h0m5 0h0m1 0h0m1 0h0m6 0h0m19 0h0m8 0h0m-70 1h0m1 0h0m2 0h0m1 0h0m1 0h0m1 0h0m3 0h0m3 0h0m1 0h0m6 0h0m1 0h0m5 0h0m2 0h0m14 0h0m17 0h0m4 0h0m-60 1h0m2 0h0m1 0h0m1 0h0m1 0h0m2 0h0m3 0h0m6 0h0m19 0h0m18 0h0m-55 1h0m4 0h0m1 0h0m3 0h0m1 0h0m3 0h0m5 0h0m6 0h0m3 0h0m14 0h0m-36 1h0m1 0h0m1 0h0m4 0h0m1 0h0m6 0h0m1 0h0m2 0h0m2 0h0m1 0h0m10 0h0m21 0h0m8 0h0m-62 1h0m1 0h0m1 0h0m2 0h0m2 0h0m2 0h0m2 0h0m4 0h0m8 0h0m11 0h0m10 0h0m24 0h0m-69 1h0m1 0h0m3 0h0m3 0h0m1 0h0m4 0h0m1 0h0m1 0h0m3 0h0m2 0h0m2 0h0m9 0h0m14 0h0m-44 1h0m5 0h0m1 0h0m11 0h0m1 0h0m7 0h0m4 0h0m4 0h0m1 0h0m25 0h0m-59 1h0m1 0h0m2 0h0m3 0h0m1 0h0m2 0h0m1 0h0m1 0h0m3 0h0m1 0h0m12 0h0m2 0h0m10 0h0m-36 1h0m3 0h0m1 0h0m1 0h0m2 0h0m1 0h0m1 0h0m2 0h0m12 0h0m8 0h0m-32 1h0m2 0h0m2 0h0m1 0h0m3 0h0m6 0h0m20 0h0m1 0h0m4 0h0m3 0h0m-44 1h0m1 0h0m1 0h0m1 0h0m2 0h0m1 0h0m2 0h0m3 0h0m1 0h0m2 0h0m2 0h0m2 0h0m7 0h0m3 0h0m6 0h0m7 0h0m1 0h0m-42 1h0m2 0h0m2 0h0m1 0h0m1 0h0m1 0h0m1 0h0m2 0h0m3 0h0m4 0h0m1 0h0m5 0h0m7 0h0m8 0h0m4 0h0m30 0h0m-72 1h0m2 0h0m2 0h0m1 0h0m3 0h0m1 0h0m1 0h0m34 0h0m15 0h0m-59 1h0m2 0h0m1 0h0m1 0h0m1 0h0m1 0h0m1 0h0m2 0h0m3 0h0m1 0h0m19 0h0m2 0h0m8 0h0m17 0h0m-52 1h0m3 0h0m2 0h0m5 0h0m4 0h0m3 0h0m1 0h0m8 0h0m6 0h0m5 0h0m8 0h0m3 0h0m-56 1h0m1 0h0m4 0h0m2 0h0m1 0h0m4 0h0m5 0h0m1 0h0m3 0h0m3 0h0m2 0h0m17 0h0m2 0h0m11 0h0m-54 1h0m1 0h0m1 0h0m1 0h0m2 0h0m1 0h0m1 0h0m2 0h0m9 0h0m1 0h0m17 0h0m3 0h0m4 0h0m-44 1h0m1 0h0m3 0h0m2 0h0m2 0h0m1 0h0m2 0h0m5 0h0m1 0h0m9 0h0m9 0h0m6 0h0m21 0h0m7 0h0m2 0h0m-71 1h0m3 0h0m3 0h0m1 0h0m1 0h0m1 0h0m3 0h0m1 0h0m1 0h0m1 0h0m2 0h0m1 0h0m1 0h0m8 0h0m3 0h0m8 0h0m6 0h0m10 0h0m47 0h0m-100 1h0m2 0h0m1 0h0m1 0h0m1 0h0m1 0h0m1 0h0m1 0h0m3 0h0m9 0h0m3 0h0m14 0h0m1 0h0m1 0h0m-37 1h0m3 0h0m1 0h0m1 0h0m1 0h0m1 0h0m3 0h0m1 0h0m3 0h0m4 0h0m1 0h0m2 0h0m4 0h0m3 0h0m9 0h0m7 0h0m6 0h0m-54 1h0m1 0h0m2 0h0m1 0h0m3 0h0m2 0h0m2 0h0m4 0h0m4 0h0m6 0h0m3 0h0m2 0h0m5 0h0m4 0h0m-38 1h0m2 0h0m2 0h0m2 0h0m1 0h0m10 0h0m1 0h0m6 0h0m-18 1h0m1 0h0m9 0h0m4 0h0m11 0h0m1 0h0m2 0h0m9 0h0m13 0h0m-57 1h0m1 0h0m1 0h0m1 0h0m3 0h0m1 0h0m11 0h0m1 0h0m1 0h0m3 0h0m2 0h0m5 0h0m9 0h0m6 0h0m34 0h0m-79 1h0m1 0h0m1 0h0m6 0h0m1 0h0m6 0h0m2 0h0m10 0h0m9 0h0m4 0h0m-40 1h0m1 0h0m1 0h0m1 0h0m1 0h0m1 0h0m1 0h0m1 0h0m1 0h0m2 0h0m1 0h0m1 0h0m5 0h0m9 0h0m3 0h0m6 0h0m5 0h0m1 0h0m-38 1h0m4 0h0m1 0h0m1 0h0m2 0h0m3 0h0m1 0h0m8 0h0m3 0h0m6 0h0m-30 1h0m5 0h0m2 0h0m1 0h0m5 0h0m1 0h0m2 0h0m4 0h0m9 0h0m3 0h0m-33 1h0m1 0h0m2 0h0m2 0h0m1 0h0m12 0h0m4 0h0m4 0h0m1 0h0m24 0h0m-49 1h0m2 0h0m2 0h0m1 0h0m1 0h0m2 0h0m3 0h0m9 0h0m6 0h0m1 0h0m34 0h0m25 0h0m-89 1h0m1 0h0m2 0h0m5 0h0m1 0h0m1 0h0m3 0h0m3 0h0m9 0h0m10 0h0m3 0h0m8 0h0m15 0h0m-60 1h0m1 0h0m5 0h0m1 0h0m1 0h0m5 0h0m2 0h0m1 0h0m1 0h0m3 0h0m7 0h0m5 0h0m1 0h0m-32 1h0m3 0h0m1 0h0m2 0h0m2 0h0m1 0h0m3 0h0m1 0h0m1 0h0m2 0h0m1 0h0m1 0h0m8 0h0m-28 1h0m1 0h0m1 0h0m1 0h0m4 0h0m1 0h0m2 0h0m7 0h0m3 0h0m1 0h0m16 0h0m4 0h0m4 0h0m-39 1h0m1 0h0m2 0h0m1 0h0m1 0h0m1 0h0m4 0h0m5 0h0m2 0h0m13 0h0m22 0h0m12 0h0m-69 1h0m2 0h0m4 0h0m1 0h0m1 0h0m1 0h0m1 0h0m26 0h0m4 0h0m-35 1h0m1 0h0m1 0h0m4 0h0m2 0h0m3 0h0m4 0h0m2 0h0m4 0h0m1 0h0m7 0h0m1 0h0m3 0h0m-38 1h0m2 0h0m2 0h0m2 0h0m1 0h0m1 0h0m2 0h0m5 0h0m5 0h0m10 0h0m6 0h0m7 0h0m13 0h0m12 0h0m-69 1h0m7 0h0m1 0h0m2 0h0m3 0h0m3 0h0m11 0h0m1 0h0m13 0h0m2 0h0m-40 1h0m4 0h0m1 0h0m1 0h0m2 0h0m3 0h0m1 0h0m9 0h0m2 0h0m3 0h0m1 0h0m1 0h0m18 0h0m17 0h0m-63 1h0m2 0h0m1 0h0m1 0h0m2 0h0m1 0h0m7 0h0m3 0h0m7 0h0m1 0h0m5 0h0m18 0h0m-48 1h0m3 0h0m1 0h0m1 0h0m2 0h0m2 0h0m2 0h0m1 0h0m3 0h0m4 0h0m6 0h0m2 0h0m40 0h0m-69 1h0m3 0h0m3 0h0m1 0h0m1 0h0m2 0h0m6 0h0m7 0h0m1 0h0m1 0h0m2 0h0m2 0h0m7 0h0m-35 1h0m1 0h0m1 0h0m2 0h0m1 0h0m1 0h0m1 0h0m1 0h0m1 0h0m11 0h0m6 0h0m6 0h0m1 0h0m4 0h0m4 0h0m1 0h0m6 0h0m-48 1h0m2 0h0m3 0h0m1 0h0m4 0h0m1 0h0m2 0h0m1 0h0m2 0h0m1 0h0m16 0h0m2 0h0m23 0h0m2 0h0m-58 1h0m2 0h0m1 0h0m1 0h0m1 0h0m5 0h0m12 0h0m5 0h0m2 0h0m4 0h0m3 0h0m24 0h0m-64 1h0m4 0h0m4 0h0m1 0h0m1 0h0m1 0h0m3 0h0m2 0h0m5 0h0m1 0h0m3 0h0m7 0h0m2 0h0m13 0h0m-41 1h0m2 0h0m2 0h0m1 0h0m4 0h0m2 0h0m8 0h0m9 0h0m3 0h0m4 0h0m6 0h0m-47 1h0m1 0h0m1 0h0m5 0h0m1 0h0m2 0h0m5 0h0m6 0h0m-19 1h0m1 0h0m3 0h0m1 0h0m1 0h0m2 0h0m6 0h0m1 0h0m1 0h0m6 0h0m18 0h0m-41 1h0m1 0h0m2 0h0m1 0h0m2 0h0m1 0h0m1 0h0m2 0h0m2 0h0m2 0h0m3 0h0m11 0h0m1 0h0m3 0h0m-33 1h0m4 0h0m2 0h0m1 0h0m1 0h0m4 0h0m1 0h0m1 0h0m1 0h0m6 0h0m1 0h0m11 0h0m6 0h0m-39 1h0m1 0h0m6 0h0m4 0h0m3 0h0m5 0h0m3 0h0m18 0h0m-37 1h0m1 0h0m3 0h0m1 0h0m1 0h0m1 0h0m1 0h0m1 0h0m4 0h0m1 0h0m2 0h0m2 0h0m5 0h0m7 0h0m-32 1h0m1 0h0m5 0h0m1 0h0m1 0h0m2 0h0m2 0h0m1 0h0m1 0h0m7 0h0m7 0h0m3 0h0m11 0h0m7 0h0m-48 1h0m1 0h0m4 0h0m1 0h0m1 0h0m1 0h0m1 0h0m1 0h0m1 0h0m1 0h0m4 0h0m33 0h0m-45 1h0m1 0h0m1 0h0m2 0h0m2 0h0m3 0h0m12 0h0m4 0h0m22 0h0m-46 1h0m1 0h0m2 0h0m5 0h0m1 0h0m1 0h0m6 0h0m4 0h0m8 0h0m1 0h0m-32 1h0m1 0h0m2 0h0m1 0h0m1 0h0m3 0h0m2 0h0m2 0h0m2 0h0m2 0h0m1 0h0m1 0h0m7 0h0m10 0h0m-39 1h0m1 0h0m2 0h0m1 0h0m1 0h0m2 0h0m1 0h0m1 0h0m2 0h0m4 0h0m7 0h0m10 0h0m1 0h0m5 0h0m-32 1h0m2 0h0m3 0h0m1 0h0m1 0h0m2 0h0m2 0h0m1 0h0m4 0h0m2 0h0m6 0h0m4 0h0m1 0h0m2 0h0m-30 1h0m1 0h0m3 0h0m6 0h0m1 0h0m3 0h0m4 0h0m5 0h0m9 0h0m-39 1h0m2 0h0m1 0h0m4 0h0m1 0h0m1 0h0m2 0h0m3 0h0m6 0h0m1 0h0m3 0h0m2 0h0m2 0h0m8 0h0m9 0h0m-42 1h0m4 0h0m1 0h0m1 0h0m2 0h0m3 0h0m7 0h0m4 0h0m9 0h0m2 0h0m-35 1h0m6 0h0m2 0h0m5 0h0m1 0h0m4 0h0m16 0h0m-34 1h0m1 0h0m4 0h0m2 0h0m1 0h0m26 0h0m-28 1h0m1 0h0m24 0h0" stroke="#800080" stroke-width="2" stroke-linecap="square" fill="none"/><rect x="472.7" y="620.7" width="35.4" height="17.3" fill="#fff" stroke="#333" stroke-width="1"/><text x="490.4" y="634.4" class="lg" text-anchor="middle">HITS</text><text x="396.4" y="657.1" class="tk" text-anchor="middle">0</text><text x="410.7" y="657.1" class="tk" text-anchor="middle">5</text><text x="426.1" y="657.1" class="tk" text-anchor="middle">10</text><text x="440.9" y="657.1" class="tk" text-anchor="middle">15</text><text x="455.4" y="657.1" class="tk" text-anchor="middle">20</text><text x="470.3" y="657.1" class="tk" text-anchor="middle">25</text><text x="484.8" y="657.1" class="tk" text-anchor="middle">30</text><text x="499.1" y="657.1" class="tk" text-anchor="middle">35</text><path d="M396.4 647.2v-2" class="tm"/><path d="M410.7 647.2v-2" class="tm"/><path d="M426.1 647.2v-2" class="tm"/><path d="M440.9 647.2v-2" class="tm"/><path d="M455.4 647.2v-2" class="tm"/><path d="M470.3 647.2v-2" class="tm"/><path d="M484.8 647.2v-2" class="tm"/><path d="M499.1 647.2v-2" class="tm"/><path d="M403.5 647.2v-2" class="tm"/><path d="M418.4 647.2v-2" class="tm"/><path d="M433.5 647.2v-2" class="tm"/><path d="M448.2 647.2v-2" class="tm"/><path d="M462.9 647.2v-2" class="tm"/><path d="M477.5 647.2v-2" class="tm"/><path d="M492 647.2v-2" class="tm"/><polygon points="517.3,641.4 517.3,620.7 517.6,600 518,582.7 518.5,568.9 519.7,558.5 522,553.4 529.7,551.3 548.7,552.5 536.6,555.1 529.7,560.3 525.4,568.9 522.8,582.7 520.7,600 519.4,620.7 519,641.4" fill="#ff00ff"/><path d="M528 551h0m2 0h0m1 0h0m1 0h0m18 0h0m6 0h0m5 0h0m8 0h0m7 0h0m46 0h0m-97 1h0m1 0h0m1 0h0m1 0h0m1 0h0m1 0h0m1 0h0m1 0h0m2 0h0m1 0h0m1 0h0m1 0h0m2 0h0m1 0h0m1 0h0m34 0h0m-52 1h0m1 0h0m1 0h0m1 0h0m1 0h0m1 0h0m3 0h0m1 0h0m1 0h0m6 0h0m1 0h0m1 0h0m1 0h0m1 0h0m2 0h0m1 0h0m1 0h0m-25 1h0m1 0h0m1 0h0m1 0h0m1 0h0m2 0h0m1 0h0m1 0h0m1 0h0m1 0h0m3 0h0m1 0h0m2 0h0m1 0h0m4 0h0m-22 1h0m1 0h0m1 0h0m1 0h0m1 0h0m1 0h0m1 0h0m2 0h0m1 0h0m1 0h0m1 0h0m1 0h0m2 0h0m1 0h0m1 0h0m1 0h0m2 0h0m-19 1h0m1 0h0m2 0h0m1 0h0m2 0h0m1 0h0m1 0h0m1 0h0m1 0h0m3 0h0m1 0h0m-15 1h0m1 0h0m1 0h0m1 0h0m2 0h0m1 0h0m2 0h0m1 0h0m3 0h0m2 0h0m-15 1h0m1 0h0m1 0h0m1 0h0m1 0h0m1 0h0m1 0h0m1 0h0m1 0h0m1 0h0m3 0h0m-11 1h0m1 0h0m1 0h0m1 0h0m2 0h0m4 0h0m1 0h0m2 0h0m-12 1h0m1 0h0m1 0h0m1 0h0m1 0h0m1 0h0m1 0h0m2 0h0m3 0h0m-11 1h0m1 0h0m1 0h0m1 0h0m2 0h0m3 0h0m-9 1h0m1 0h0m1 0h0m1 0h0m1 0h0m1 0h0m1 0h0m1 0h0m3 0h0m-10 1h0m1 0h0m1 0h0m1 0h0m1 0h0m3 0h0m1 0h0m1 0h0m-9 1h0m1 0h0m1 0h0m1 0h0m1 0h0m1 0h0m1 0h0m1 0h0m1 0h0m1 0h0m-9 1h0m1 0h0m1 0h0m1 0h0m2 0h0m1 0h0m1 0h0m1 0h0m-8 1h0m1 0h0m1 0h0m1 0h0m1 0h0m2 0h0m2 0h0m-8 1h0m1 0h0m1 0h0m1 0h0m1 0h0m1 0h0m1 0h0m-6 1h0m1 0h0m1 0h0m1 0h0m3 0h0m1 0h0m-8 1h0m1 0h0m1 0h0m1 0h0m1 0h0m2 0h0m2 0h0m-8 1h0m1 0h0m1 0h0m1 0h0m1 0h0m2 0h0m1 0h0m-6 1h0m1 0h0m1 0h0m1 0h0m1 0h0m1 0h0m-6 1h0m1 0h0m1 0h0m1 0h0m1 0h0m1 0h0m-5 1h0m1 0h0m2 0h0m1 0h0m-4 1h0m1 0h0m1 0h0m1 0h0m1 0h0m-4 1h0m1 0h0m1 0h0m2 0h0m1 0h0m-4 1h0m1 0h0m2 0h0m1 0h0m-5 1h0m1 0h0m1 0h0m1 0h0m1 0h0m2 0h0m-6 1h0m1 0h0m1 0h0m1 0h0m1 0h0m1 0h0m-5 1h0m1 0h0m1 0h0m2 0h0m1 0h0m-5 1h0m1 0h0m1 0h0m1 0h0m1 0h0m-4 1h0m1 0h0m1 0h0m1 0h0m-3 1h0m1 0h0m1 0h0m1 0h0m1 0h0m1 0h0m-5 1h0m1 0h0m1 0h0m1 0h0m1 0h0m-2 1h0m1 0h0m-3 1h0m1 0h0m4 0h0m-6 1h0m1 0h0m1 0h0m1 0h0m1 0h0m-4 1h0m1 0h0m1 0h0m1 0h0m-2 1h0m1 0h0m2 0h0m-3 1h0m1 0h0m1 0h0m1 0h0m1 0h0m-3 1h0m-1 1h0m2 0h0m-2 1h0m1 0h0m1 0h0m1 0h0m-3 1h0m1 0h0m1 0h0m1 0h0m-4 1h0m1 0h0m1 0h0m1 0h0m2 0h0m-4 1h0m1 0h0m1 0h0m-2 1h0m1 0h0m1 0h0m-2 1h0m1 0h0m1 0h0m-2 1h0m1 0h0m2 0h0m-1 1h0m-3 1h0m1 0h0m1 0h0m1 0h0m-2 1h0m0 1h0m1 0h0m1 0h0m0 1h0m-1 1h0m1 0h0m-2 1h0m1 0h0m-1 1h0m-1 1h0m1 0h0m1 0h0m1 0h0m-3 1h0m1 1h0m1 0h0m-1 1h0m1 0h0m-2 1h0m1 0h0m-1 1h0m1 0h0m1 0h0m0 1h0m-2 1h0m3 0h0m-2 1h0m1 0h0m-1 1h0m1 1h0m-1 1h0m-1 1h0m1 0h0m1 0h0m-2 1h0m1 0h0m1 0h0m-1 1h0m-1 1h0m0 1h0m1 0h0m2 0h0m-3 1h0m1 0h0m-1 1h0m1 0h0m1 0h0m-1 1h0m1 0h0m-2 1h0m0 1h0m1 0h0m0 1h0m-1 1h0m1 0h0m-1 1h0m1 0h0m2 0h0m-3 1h0m1 1h0m-1 2h0m1 0h0m1 0h0m-1 2h0m-1 1h0m1 0h0m0 1h0m1 0h0m-2 1h0m1 0h0m1 1h0" stroke="#ff00ff" stroke-width="2" stroke-linecap="square" fill="none"/><rect x="604.3" y="620.7" width="25.1" height="17.3" fill="#fff" stroke="#333" stroke-width="1"/><text x="616.8" y="634.4" class="lg" text-anchor="middle">DIL</text><text x="519" y="657.1" class="tk" text-anchor="middle">0</text><text x="535.4" y="657.1" class="tk" text-anchor="middle">5</text><text x="553" y="657.1" class="tk" text-anchor="middle">10</text><text x="569.8" y="657.1" class="tk" text-anchor="middle">15</text><text x="586.4" y="657.1" class="tk" text-anchor="middle">20</text><text x="603.1" y="657.1" class="tk" text-anchor="middle">25</text><text x="619.5" y="657.1" class="tk" text-anchor="middle">30</text><path d="M519 647.2v-2" class="tm"/><path d="M535.4 647.2v-2" class="tm"/><path d="M553 647.2v-2" class="tm"/><path d="M569.8 647.2v-2" class="tm"/><path d="M586.4 647.2v-2" class="tm"/><path d="M603.1 647.2v-2" class="tm"/><path d="M619.5 647.2v-2" class="tm"/><path d="M527.2 647.2v-2" class="tm"/><path d="M544.2 647.2v-2" class="tm"/><path d="M561.4 647.2v-2" class="tm"/><path d="M578.1 647.2v-2" class="tm"/><path d="M594.8 647.2v-2" class="tm"/><path d="M611.3 647.2v-2" class="tm"/><polygon points="642.7,641.4 644.1,629.4 646.2,617.3 648.9,603.4 651.9,593.1 655.3,582.7 658.8,574.1 664,565.5 669.1,560.3 676.9,556 685.5,553 697.6,551.3 714.9,552 694.2,554.2 683.8,557.7 675.2,562 669.1,567.2 663.1,575 658.8,582.7 655.3,593.1 651.9,603.4 648.8,617.3 646.2,629.4 644.1,641.4" fill="#008080"/><path d="M700 551h0m20 0h0m4 0h0m5 0h0m2 0h0m19 0h0m-60 1h0m2 0h0m3 0h0m1 0h0m1 0h0m1 0h0m1 0h0m1 0h0m1 0h0m1 0h0m1 0h0m4 0h0m1 0h0m4 0h0m-27 1h0m1 0h0m3 0h0m1 0h0m2 0h0m1 0h0m1 0h0m2 0h0m1 0h0m1 0h0m1 0h0m1 0h0m1 0h0m1 0h0m1 0h0m1 0h0m4 0h0m3 0h0m-29 1h0m2 0h0m1 0h0m2 0h0m1 0h0m1 0h0m1 0h0m1 0h0m1 0h0m1 0h0m2 0h0m1 0h0m1 0h0m1 0h0m1 0h0m5 0h0m-26 1h0m1 0h0m1 0h0m4 0h0m1 0h0m1 0h0m1 0h0m1 0h0m1 0h0m1 0h0m1 0h0m-15 1h0m1 0h0m1 0h0m1 0h0m1 0h0m2 0h0m1 0h0m1 0h0m1 0h0m2 0h0m2 0h0m-12 1h0m2 0h0m1 0h0m1 0h0m2 0h0m1 0h0m1 0h0m1 0h0m-12 1h0m1 0h0m1 0h0m1 0h0m1 0h0m1 0h0m1 0h0m1 0h0m1 0h0m1 0h0m-11 1h0m1 0h0m1 0h0m1 0h0m1 0h0m3 0h0m1 0h0m2 0h0m-13 1h0m1 0h0m2 0h0m1 0h0m1 0h0m2 0h0m1 0h0m1 0h0m-9 1h0m1 0h0m1 0h0m1 0h0m1 0h0m2 0h0m1 0h0m1 0h0m-9 1h0m1 0h0m1 0h0m1 0h0m1 0h0m1 0h0m1 0h0m-7 1h0m2 0h0m1 0h0m1 0h0m1 0h0m1 0h0m-7 1h0m1 0h0m1 0h0m1 0h0m2 0h0m1 0h0m1 0h0m-8 1h0m1 0h0m1 0h0m1 0h0m1 0h0m1 0h0m1 0h0m1 0h0m-7 1h0m2 0h0m1 0h0m-5 1h0m1 0h0m2 0h0m1 0h0m2 0h0m-7 1h0m1 0h0m2 0h0m1 0h0m2 0h0m-6 1h0m2 0h0m1 0h0m2 0h0m1 0h0m-6 1h0m1 0h0m1 0h0m1 0h0m1 0h0m1 0h0m-6 1h0m1 0h0m1 0h0m1 0h0m1 0h0m-5 1h0m1 0h0m2 0h0m1 0h0m1 0h0m-5 1h0m1 0h0m2 0h0m1 0h0m-5 1h0m1 0h0m1 0h0m1 0h0m1 0h0m-3 1h0m1 0h0m1 0h0m1 0h0m-5 1h0m1 0h0m2 0h0m1 0h0m-4 1h0m1 0h0m2 0h0m1 0h0m-4 1h0m1 0h0m1 0h0m1 0h0m-4 1h0m1 0h0m1 0h0m1 0h0m1 0h0m-5 1h0m1 0h0m1 0h0m1 0h0m2 0h0m-4 1h0m2 0h0m1 0h0m-4 1h0m1 0h0m1 0h0m1 0h0m-3 1h0m1 0h0m1 0h0m-3 1h0m1 0h0m1 0h0m1 0h0m-3 1h0m1 0h0m1 0h0m1 0h0m-4 1h0m1 0h0m2 0h0m1 0h0m-3 1h0m2 0h0m-4 1h0m1 0h0m1 0h0m2 0h0m-4 1h0m1 0h0m1 0h0m1 0h0m-3 1h0m1 0h0m1 0h0m1 0h0m-3 1h0m1 0h0m2 0h0m-4 1h0m1 0h0m1 0h0m2 0h0m-4 1h0m1 0h0m1 0h0m1 0h0m-3 1h0m1 0h0m1 0h0m-3 1h0m1 0h0m2 0h0m1 0h0m-4 1h0m1 0h0m1 0h0m1 0h0m1 0h0m-4 1h0m1 0h0m1 0h0m1 0h0m-2 1h0m1 0h0m-3 1h0m1 0h0m1 0h0m1 0h0m-2 1h0m1 0h0m1 0h0m-3 1h0m1 0h0m1 0h0m-2 1h0m1 0h0m1 0h0m-2 1h0m1 0h0m1 0h0m-4 1h0m1 0h0m2 0h0m1 0h0m-3 1h0m1 0h0m0 1h0m1 0h0m-2 1h0m1 0h0m-2 1h0m2 0h0m1 0h0m-3 1h0m1 0h0m1 0h0m1 0h0m-3 1h0m1 0h0m1 0h0m-2 1h0m1 0h0m1 0h0m-1 1h0m1 0h0m-2 1h0m1 0h0m-2 1h0m1 0h0m1 0h0m-2 2h0m1 0h0m-2 1h0m1 0h0m2 0h0m-1 1h0m-2 1h0m1 0h0m-1 1h0m1 0h0m-1 1h0m1 0h0m1 0h0m-2 1h0m1 0h0m1 0h0m-2 1h0m1 0h0m-2 1h0m1 0h0m-2 1h0m1 0h0m1 0h0m1 0h0m-2 1h0m1 0h0m1 0h0m-2 1h0m2 0h0m-2 1h0m2 0h0m-2 1h0m1 0h0m-2 1h0m1 0h0m1 0h0m0 1h0m-2 1h0m1 1h0m-1 1h0m1 1h0m0 1h0m-2 1h0m1 2h0m-1 1h0m0 1h0m2 0h0" stroke="#008080" stroke-width="2" stroke-linecap="square" fill="none"/><rect x="712.3" y="620.7" width="42.3" height="17.3" fill="#fff" stroke="#333" stroke-width="1"/><text x="733.5" y="634.4" class="lg" text-anchor="middle">LENC</text><text x="643.7" y="657.1" class="tk" text-anchor="middle">0</text><text x="667.1" y="657.1" class="tk" text-anchor="middle">10</text><text x="690.4" y="657.1" class="tk" text-anchor="middle">20</text><text x="713.5" y="657.1" class="tk" text-anchor="middle">30</text><text x="736.8" y="657.1" class="tk" text-anchor="middle">40</text><text x="760.2" y="657.1" class="tk" text-anchor="middle">50</text><path d="M643.7 647.2v-2" class="tm"/><path d="M667.1 647.2v-2" class="tm"/><path d="M690.4 647.2v-2" class="tm"/><path d="M713.5 647.2v-2" class="tm"/><path d="M736.8 647.2v-2" class="tm"/><path d="M655.4 647.2v-2" class="tm"/><path d="M678.7 647.2v-2" class="tm"/><path d="M701.9 647.2v-2" class="tm"/><path d="M725.2 647.2v-2" class="tm"/><path d="M748.5 647.2v-2" class="tm"/><rect x="21.4" y="544.4" width="739.1" height="102.8" class="fr"/><path d="M144.6 544.4V647.2" class="fr"/><path d="M267.8 544.4V647.2" class="fr"/><path d="M390.9 544.4V647.2" class="fr"/><path d="M514.1 544.4V647.2" class="fr"/><path d="M637.3 544.4V647.2" class="fr"/><text x="19.6" y="552.4" class="tk" text-anchor="end">180</text><path d="M21.4 548.6h2" class="tm"/><text x="19.6" y="567.9" class="tk" text-anchor="end">150</text><path d="M21.4 564.1h2" class="tm"/><text x="19.6" y="583.4" class="tk" text-anchor="end">120</text><path d="M21.4 579.6h2" class="tm"/><text x="19.6" y="598.8" class="tk" text-anchor="end">90</text><path d="M21.4 595h2" class="tm"/><text x="19.6" y="614.3" class="tk" text-anchor="end">60</text><path d="M21.4 610.5h2" class="tm"/><text x="19.6" y="629.8" class="tk" text-anchor="end">30</text><path d="M21.4 626h2" class="tm"/><text x="19.6" y="645.3" class="tk" text-anchor="end">0</text><path d="M21.4 641.5h2" class="tm"/><text x="390.3" y="700.7" class="cap" text-anchor="middle">(d) Bio-dmela</text></g>
<g><polygon points="60,822 75.6,817.5 83.9,812.3 88.1,807.1 91.2,801.9 93.2,796.7 94.3,791.5 95.3,786.3 96.4,781.1 98.4,775.9 100.5,770.8 103.6,765.6 106.8,760.4 110.9,755.2 113,750 115.1,744.8 118.2,739.6 124.4,734.4 130.6,732.3 136.9,732.3 134.8,734.4 131.7,739.6 129.6,744.8 127.5,750 125.5,755.2 124.4,760.4 123.4,765.6 122.3,770.8 121.3,775.9 119.7,781.1 118.2,786.3 117.7,791.5 116.1,796.7 113,801.9 110.9,807.1 106.8,812.3 103.6,817.5 98.4,822" fill="#00ff00"/><path d="M136 732h0m-7 1h0m1 0h0m1 0h0m1 0h0m1 0h0m-8 1h0m2 0h0m2 0h0m2 0h0m1 0h0m-4 1h0m1 0h0m1 0h0m1 0h0m1 0h0m2 0h0m-11 1h0m2 0h0m1 0h0m3 0h0m2 0h0m2 0h0m-7 1h0m1 0h0m1 0h0m1 0h0m2 0h0m-9 1h0m2 0h0m1 0h0m1 0h0m1 0h0m1 0h0m1 0h0m-6 1h0m2 0h0m1 0h0m2 0h0m-13 1h0m3 0h0m3 0h0m3 0h0m1 0h0m2 0h0m1 0h0m1 0h0m-13 1h0m3 0h0m1 0h0m3 0h0m1 0h0m3 0h0m1 0h0m2 0h0m-8 1h0m1 0h0m1 0h0m-4 1h0m1 0h0m2 0h0m1 0h0m1 0h0m1 0h0m2 0h0m-12 1h0m2 0h0m3 0h0m1 0h0m1 0h0m1 0h0m1 0h0m-10 1h0m2 0h0m3 0h0m1 0h0m1 0h0m1 0h0m1 0h0m1 0h0m-7 1h0m1 0h0m1 0h0m1 0h0m1 0h0m1 0h0m1 0h0m1 0h0m1 0h0m-6 1h0m1 0h0m1 0h0m1 0h0m1 0h0m1 0h0m-9 1h0m1 0h0m1 0h0m1 0h0m2 0h0m2 0h0m2 0h0m-9 1h0m2 0h0m1 0h0m3 0h0m1 0h0m-8 1h0m1 0h0m1 0h0m1 0h0m1 0h0m1 0h0m1 0h0m1 0h0m1 0h0m2 0h0m-14 1h0m3 0h0m2 0h0m1 0h0m2 0h0m1 0h0m1 0h0m1 0h0m1 0h0m-9 1h0m4 0h0m1 0h0m2 0h0m1 0h0m1 0h0m1 0h0m1 0h0m-14 1h0m1 0h0m3 0h0m1 0h0m1 0h0m1 0h0m1 0h0m2 0h0m-6 1h0m3 0h0m2 0h0m1 0h0m4 0h0m-10 1h0m2 0h0m1 0h0m1 0h0m1 0h0m4 0h0m-12 1h0m2 0h0m1 0h0m1 0h0m1 0h0m1 0h0m1 0h0m-7 1h0m1 0h0m2 0h0m2 0h0m3 0h0m2 0h0m-17 1h0m1 0h0m2 0h0m1 0h0m2 0h0m3 0h0m3 0h0m1 0h0m1 0h0m1 0h0m3 0h0m-13 1h0m1 0h0m1 0h0m2 0h0m1 0h0m1 0h0m1 0h0m1 0h0m1 0h0m3 0h0m2 0h0m-17 1h0m3 0h0m1 0h0m1 0h0m1 0h0m1 0h0m1 0h0m1 0h0m1 0h0m2 0h0m1 0h0m1 0h0m-12 1h0m1 0h0m1 0h0m3 0h0m1 0h0m5 0h0m1 0h0m1 0h0m-20 1h0m5 0h0m1 0h0m3 0h0m3 0h0m1 0h0m1 0h0m2 0h0m2 0h0m-14 1h0m3 0h0m5 0h0m1 0h0m2 0h0m1 0h0m-16 1h0m3 0h0m4 0h0m1 0h0m1 0h0m1 0h0m2 0h0m3 0h0m1 0h0m-15 1h0m4 0h0m2 0h0m1 0h0m1 0h0m1 0h0m1 0h0m2 0h0m1 0h0m1 0h0m-9 1h0m1 0h0m1 0h0m1 0h0m1 0h0m1 0h0m1 0h0m1 0h0m1 0h0m1 0h0m2 0h0m3 0h0m-17 1h0m4 0h0m1 0h0m1 0h0m1 0h0m2 0h0m3 0h0m1 0h0m-12 1h0m1 0h0m4 0h0m2 0h0m1 0h0m2 0h0m4 0h0m-17 1h0m3 0h0m2 0h0m1 0h0m5 0h0m2 0h0m2 0h0m-17 1h0m4 0h0m1 0h0m5 0h0m1 0h0m2 0h0m2 0h0m4 0h0m-16 1h0m1 0h0m1 0h0m1 0h0m1 0h0m1 0h0m1 0h0m1 0h0m2 0h0m2 0h0m1 0h0m1 0h0m3 0h0m1 0h0m-20 1h0m2 0h0m2 0h0m4 0h0m1 0h0m1 0h0m1 0h0m2 0h0m1 0h0m2 0h0m2 0h0m-23 1h0m5 0h0m3 0h0m2 0h0m2 0h0m1 0h0m1 0h0m1 0h0m2 0h0m1 0h0m1 0h0m2 0h0m-15 1h0m1 0h0m1 0h0m1 0h0m2 0h0m2 0h0m2 0h0m2 0h0m3 0h0m3 0h0m-21 1h0m8 0h0m2 0h0m1 0h0m1 0h0m1 0h0m1 0h0m1 0h0m4 0h0m1 0h0m3 0h0m-23 1h0m7 0h0m2 0h0m2 0h0m1 0h0m1 0h0m1 0h0m1 0h0m4 0h0m2 0h0m-20 1h0m3 0h0m3 0h0m1 0h0m1 0h0m1 0h0m1 0h0m1 0h0m1 0h0m6 0h0m1 0h0m1 0h0m-23 1h0m4 0h0m4 0h0m3 0h0m1 0h0m1 0h0m2 0h0m3 0h0m1 0h0m5 0h0m-23 1h0m5 0h0m3 0h0m1 0h0m1 0h0m1 0h0m4 0h0m1 0h0m1 0h0m1 0h0m1 0h0m-13 1h0m2 0h0m1 0h0m1 0h0m2 0h0m1 0h0m1 0h0m1 0h0m2 0h0m-20 1h0m10 0h0m1 0h0m1 0h0m1 0h0m1 0h0m1 0h0m1 0h0m2 0h0m1 0h0m5 0h0m1 0h0m-22 1h0m5 0h0m1 0h0m1 0h0m1 0h0m1 0h0m2 0h0m1 0h0m1 0h0m2 0h0m1 0h0m1 0h0m1 0h0m1 0h0m-16 1h0m1 0h0m1 0h0m2 0h0m2 0h0m1 0h0m1 0h0m3 0h0m2 0h0m3 0h0m2 0h0m-25 1h0m6 0h0m1 0h0m1 0h0m4 0h0m1 0h0m1 0h0m1 0h0m1 0h0m1 0h0m2 0h0m1 0h0m1 0h0m1 0h0m1 0h0m-19 1h0m1 0h0m1 0h0m1 0h0m4 0h0m2 0h0m1 0h0m1 0h0m1 0h0m1 0h0m3 0h0m3 0h0m1 0h0m-22 1h0m4 0h0m1 0h0m1 0h0m1 0h0m4 0h0m1 0h0m1 0h0m1 0h0m2 0h0m1 0h0m1 0h0m1 0h0m2 0h0m-14 1h0m2 0h0m1 0h0m3 0h0m2 0h0m1 0h0m1 0h0m1 0h0m-18 1h0m2 0h0m4 0h0m1 0h0m1 0h0m1 0h0m2 0h0m1 0h0m3 0h0m2 0h0m1 0h0m1 0h0m1 0h0m-24 1h0m6 0h0m1 0h0m1 0h0m1 0h0m2 0h0m2 0h0m1 0h0m1 0h0m1 0h0m1 0h0m2 0h0m5 0h0m2 0h0m-23 1h0m4 0h0m1 0h0m2 0h0m1 0h0m1 0h0m3 0h0m2 0h0m1 0h0m1 0h0m-11 1h0m2 0h0m2 0h0m1 0h0m1 0h0m1 0h0m1 0h0m1 0h0m1 0h0m1 0h0m1 0h0m1 0h0m4 0h0m-17 1h0m2 0h0m1 0h0m1 0h0m1 0h0m2 0h0m1 0h0m1 0h0m1 0h0m-13 1h0m3 0h0m5 0h0m1 0h0m1 0h0m2 0h0m1 0h0m1 0h0m1 0h0m2 0h0m1 0h0m-17 1h0m2 0h0m1 0h0m1 0h0m2 0h0m1 0h0m1 0h0m1 0h0m2 0h0m3 0h0m1 0h0m3 0h0m-22 1h0m1 0h0m4 0h0m1 0h0m2 0h0m1 0h0m1 0h0m1 0h0m1 0h0m1 0h0m1 0h0m2 0h0m5 0h0m2 0h0m-22 1h0m3 0h0m1 0h0m1 0h0m1 0h0m1 0h0m1 0h0m3 0h0m1 0h0m1 0h0m1 0h0m1 0h0m1 0h0m5 0h0m-20 1h0m1 0h0m1 0h0m1 0h0m1 0h0m1 0h0m3 0h0m1 0h0m1 0h0m1 0h0m1 0h0m1 0h0m2 0h0m1 0h0m2 0h0m1 0h0m-23 1h0m2 0h0m1 0h0m1 0h0m3 0h0m2 0h0m1 0h0m1 0h0m1 0h0m1 0h0m1 0h0m2 0h0m1 0h0m1 0h0m1 0h0m3 0h0m-25 1h0m2 0h0m5 0h0m3 0h0m1 0h0m2 0h0m1 0h0m1 0h0m1 0h0m1 0h0m1 0h0m2 0h0m2 0h0m1 0h0m2 0h0m-23 1h0m2 0h0m2 0h0m2 0h0m2 0h0m3 0h0m1 0h0m2 0h0m1 0h0m2 0h0m1 0h0m-20 1h0m5 0h0m3 0h0m3 0h0m4 0h0m1 0h0m2 0h0m2 0h0m1 0h0m1 0h0m1 0h0m-19 1h0m1 0h0m3 0h0m2 0h0m2 0h0m1 0h0m1 0h0m1 0h0m1 0h0m2 0h0m1 0h0m3 0h0m-23 1h0m3 0h0m1 0h0m3 0h0m1 0h0m1 0h0m1 0h0m1 0h0m2 0h0m2 0h0m2 0h0m2 0h0m-12 1h0m1 0h0m1 0h0m1 0h0m1 0h0m6 0h0m2 0h0m-16 1h0m2 0h0m1 0h0m5 0h0m1 0h0m1 0h0m1 0h0m2 0h0m1 0h0m2 0h0m-21 1h0m3 0h0m2 0h0m1 0h0m1 0h0m1 0h0m1 0h0m1 0h0m2 0h0m1 0h0m1 0h0m1 0h0m1 0h0m1 0h0m2 0h0m2 0h0m1 0h0m1 0h0m-16 1h0m1 0h0m4 0h0m2 0h0m1 0h0m1 0h0m4 0h0m1 0h0m-18 1h0m4 0h0m2 0h0m1 0h0m1 0h0m1 0h0m1 0h0m2 0h0m1 0h0m2 0h0m1 0h0m-19 1h0m3 0h0m4 0h0m1 0h0m2 0h0m1 0h0m1 0h0m3 0h0m1 0h0m3 0h0m-15 1h0m1 0h0m1 0h0m2 0h0m2 0h0m2 0h0m1 0h0m1 0h0m5 0h0m2 0h0m-19 1h0m1 0h0m3 0h0m3 0h0m1 0h0m4 0h0m1 0h0m2 0h0m1 0h0m-23 1h0m6 0h0m2 0h0m1 0h0m1 0h0m1 0h0m1 0h0m1 0h0m2 0h0m1 0h0m1 0h0m3 0h0m2 0h0m-17 1h0m4 0h0m2 0h0m2 0h0m3 0h0m1 0h0m2 0h0m1 0h0m1 0h0m1 0h0m-18 1h0m4 0h0m2 0h0m1 0h0m2 0h0m1 0h0m1 0h0m1 0h0m2 0h0m9 0h0m-23 1h0m1 0h0m1 0h0m1 0h0m2 0h0m1 0h0m1 0h0m1 0h0m1 0h0m1 0h0m1 0h0m1 0h0m1 0h0m1 0h0m3 0h0m-14 1h0m1 0h0m2 0h0m1 0h0m1 0h0m1 0h0m2 0h0m2 0h0m1 0h0m1 0h0m-18 1h0m2 0h0m3 0h0m1 0h0m1 0h0m1 0h0m1 0h0m2 0h0m1 0h0m2 0h0m6 0h0m2 0h0m-25 1h0m1 0h0m1 0h0m1 0h0m1 0h0m2 0h0m1 0h0m2 0h0m1 0h0m1 0h0m1 0h0m2 0h0m2 0h0m1 0h0m5 0h0m-27 1h0m1 0h0m1 0h0m7 0h0m1 0h0m3 0h0m1 0h0m1 0h0m2 0h0m1 0h0m2 0h0m3 0h0m1 0h0m-30 1h0m3 0h0m5 0h0m1 0h0m4 0h0m1 0h0m1 0h0m1 0h0m2 0h0m1 0h0m1 0h0m1 0h0m1 0h0m3 0h0m1 0h0m3 0h0m1 0h0m-63 1h0m2 0h0m2 0h0m3 0h0m2 0h0m13 0h0m3 0h0m3 0h0m3 0h0m2 0h0m2 0h0m1 0h0m1 0h0m1 0h0m3 0h0m3 0h0m3 0h0m1 0h0m1 0h0m1 0h0m2 0h0m2 0h0m1 0h0m2 0h0m3 0h0m-64 1h0m1 0h0m1 0h0m1 0h0m1 0h0m1 0h0m1 0h0m2 0h0m1 0h0m1 0h0m1 0h0m1 0h0m1 0h0m1 0h0m1 0h0m3 0h0m1 0h0m1 0h0m1 0h0m1 0h0m2 0h0m1 0h0m1 0h0m2 0h0m1 0h0m2 0h0m2 0h0m2 0h0m2 0h0m1 0h0m1 0h0m1 0h0m1 0h0m1 0h0m2 0h0m1 0h0m1 0h0m1 0h0m3 0h0m3 0h0m1 0h0m2 0h0m2 0h0m9 0h0m-52 1h0m13 0h0m18 0h0m3 0h0" stroke="#00ff00" stroke-width="2" stroke-linecap="square" fill="none"/><rect x="116.7" y="803.4" width="23.8" height="16.5" fill="#fff" stroke="#333" stroke-width="1"/><text x="128.6" y="816.3" class="lg" text-anchor="middle">CC</text><text x="31.2" y="837.8" class="tk" text-anchor="middle">10</text><text x="53.6" y="837.8" class="tk" text-anchor="middle">15</text><text x="76.1" y="837.8" class="tk" text-anchor="middle">20</text><text x="98.5" y="837.8" class="tk" text-anchor="middle">25</text><text x="121.5" y="837.8" class="tk" text-anchor="middle">30</text><path d="M31.2 827.9v-2" class="tm"/><path d="M53.6 827.9v-2" class="tm"/><path d="M76.1 827.9v-2" class="tm"/><path d="M98.5 827.9v-2" class="tm"/><path d="M121.5 827.9v-2" class="tm"/><path d="M42.4 827.9v-2" class="tm"/><path d="M64.8 827.9v-2" class="tm"/><path d="M87.3 827.9v-2" class="tm"/><path d="M110 827.9v-2" class="tm"/><path d="M208 733h0m24 0h0m-36 1h0m23 0h0m12 0h0m-15 1h0m8 0h0m5 0h0m-26 1h0m11 0h0m1 0h0m11 0h0m1 0h0m5 0h0m-30 1h0m10 0h0m7 0h0m2 0h0m4 0h0m-51 1h0m37 0h0m5 0h0m7 0h0m-16 1h0m8 0h0m-42 1h0m1 0h0m1 0h0m31 0h0m-35 1h0m4 0h0m1 0h0m5 0h0m1 0h0m1 0h0m1 0h0m11 0h0m-22 1h0m4 0h0m1 0h0m4 0h0m3 0h0m1 0h0m9 0h0m-25 1h0m1 0h0m1 0h0m1 0h0m2 0h0m1 0h0m1 0h0m7 0h0m5 0h0m4 0h0m4 0h0m-30 1h0m1 0h0m1 0h0m1 0h0m1 0h0m2 0h0m1 0h0m4 0h0m3 0h0m10 0h0m3 0h0m-26 1h0m2 0h0m1 0h0m1 0h0m3 0h0m1 0h0m2 0h0m1 0h0m2 0h0m6 0h0m3 0h0m7 0h0m2 0h0m-33 1h0m1 0h0m1 0h0m1 0h0m1 0h0m3 0h0m2 0h0m1 0h0m1 0h0m1 0h0m1 0h0m1 0h0m2 0h0m2 0h0m3 0h0m9 0h0m-29 1h0m1 0h0m4 0h0m4 0h0m2 0h0m3 0h0m3 0h0m6 0h0m1 0h0m1 0h0m3 0h0m1 0h0m1 0h0m-31 1h0m1 0h0m2 0h0m1 0h0m3 0h0m2 0h0m8 0h0m3 0h0m1 0h0m3 0h0m3 0h0m3 0h0m-31 1h0m1 0h0m1 0h0m1 0h0m3 0h0m1 0h0m2 0h0m1 0h0m2 0h0m2 0h0m7 0h0m3 0h0m1 0h0m1 0h0m-26 1h0m2 0h0m3 0h0m3 0h0m6 0h0m1 0h0m12 0h0m-28 1h0m1 0h0m1 0h0m1 0h0m10 0h0m1 0h0m5 0h0m1 0h0m7 0h0m3 0h0m-32 1h0m1 0h0m2 0h0m1 0h0m1 0h0m1 0h0m4 0h0m2 0h0m1 0h0m3 0h0m3 0h0m2 0h0m1 0h0m2 0h0m6 0h0m-29 1h0m1 0h0m1 0h0m4 0h0m2 0h0m4 0h0m1 0h0m2 0h0m3 0h0m1 0h0m1 0h0m1 0h0m2 0h0m2 0h0m2 0h0m2 0h0m-31 1h0m1 0h0m1 0h0m2 0h0m1 0h0m4 0h0m2 0h0m6 0h0m2 0h0m6 0h0m2 0h0m-27 1h0m1 0h0m1 0h0m1 0h0m1 0h0m1 0h0m1 0h0m5 0h0m1 0h0m2 0h0m1 0h0m3 0h0m4 0h0m1 0h0m3 0h0m-27 1h0m1 0h0m1 0h0m1 0h0m1 0h0m1 0h0m1 0h0m1 0h0m1 0h0m4 0h0m1 0h0m1 0h0m1 0h0m4 0h0m2 0h0m3 0h0m4 0h0m-28 1h0m1 0h0m1 0h0m1 0h0m1 0h0m1 0h0m1 0h0m1 0h0m3 0h0m1 0h0m1 0h0m3 0h0m2 0h0m4 0h0m6 0h0m1 0h0m-29 1h0m2 0h0m1 0h0m1 0h0m1 0h0m1 0h0m1 0h0m1 0h0m1 0h0m1 0h0m1 0h0m1 0h0m1 0h0m4 0h0m2 0h0m1 0h0m5 0h0m1 0h0m-26 1h0m1 0h0m1 0h0m1 0h0m1 0h0m2 0h0m1 0h0m2 0h0m2 0h0m2 0h0m1 0h0m5 0h0m1 0h0m7 0h0m-28 1h0m1 0h0m1 0h0m1 0h0m1 0h0m4 0h0m1 0h0m2 0h0m1 0h0m1 0h0m1 0h0m3 0h0m3 0h0m3 0h0m1 0h0m2 0h0m-26 1h0m1 0h0m1 0h0m1 0h0m1 0h0m1 0h0m2 0h0m1 0h0m1 0h0m7 0h0m2 0h0m2 0h0m2 0h0m3 0h0m1 0h0m-26 1h0m1 0h0m1 0h0m3 0h0m1 0h0m2 0h0m2 0h0m2 0h0m3 0h0m5 0h0m3 0h0m1 0h0m-25 1h0m1 0h0m1 0h0m1 0h0m2 0h0m1 0h0m1 0h0m2 0h0m1 0h0m3 0h0m2 0h0m4 0h0m1 0h0m4 0h0m2 0h0m-26 1h0m1 0h0m2 0h0m1 0h0m1 0h0m1 0h0m2 0h0m1 0h0m3 0h0m1 0h0m1 0h0m2 0h0m5 0h0m-21 1h0m1 0h0m1 0h0m2 0h0m1 0h0m1 0h0m1 0h0m2 0h0m3 0h0m1 0h0m2 0h0m1 0h0m4 0h0m1 0h0m2 0h0m-24 1h0m1 0h0m1 0h0m1 0h0m1 0h0m3 0h0m1 0h0m2 0h0m2 0h0m3 0h0m3 0h0m4 0h0m2 0h0m-24 1h0m1 0h0m1 0h0m1 0h0m1 0h0m1 0h0m1 0h0m3 0h0m1 0h0m1 0h0m3 0h0m1 0h0m3 0h0m1 0h0m1 0h0m3 0h0m1 0h0m-24 1h0m1 0h0m1 0h0m1 0h0m3 0h0m1 0h0m1 0h0m2 0h0m1 0h0m1 0h0m1 0h0m2 0h0m1 0h0m2 0h0m1 0h0m1 0h0m3 0h0m1 0h0m-23 1h0m3 0h0m2 0h0m2 0h0m2 0h0m5 0h0m-16 1h0m1 0h0m1 0h0m1 0h0m1 0h0m2 0h0m1 0h0m1 0h0m4 0h0m2 0h0m2 0h0m3 0h0m1 0h0m2 0h0m-22 1h0m1 0h0m1 0h0m1 0h0m3 0h0m1 0h0m1 0h0m2 0h0m1 0h0m1 0h0m1 0h0m1 0h0m2 0h0m4 0h0m1 0h0m-21 1h0m1 0h0m1 0h0m1 0h0m1 0h0m4 0h0m2 0h0m2 0h0m1 0h0m2 0h0m1 0h0m1 0h0m1 0h0m1 0h0m2 0h0m-22 1h0m1 0h0m1 0h0m3 0h0m1 0h0m3 0h0m3 0h0m4 0h0m3 0h0m-18 1h0m1 0h0m1 0h0m1 0h0m1 0h0m1 0h0m6 0h0m3 0h0m1 0h0m2 0h0m1 0h0m1 0h0m-19 1h0m1 0h0m1 0h0m1 0h0m1 0h0m2 0h0m4 0h0m4 0h0m2 0h0m2 0h0m2 0h0m-21 1h0m1 0h0m1 0h0m1 0h0m1 0h0m1 0h0m1 0h0m1 0h0m1 0h0m1 0h0m1 0h0m1 0h0m2 0h0m3 0h0m3 0h0m-20 1h0m1 0h0m1 0h0m1 0h0m1 0h0m1 0h0m2 0h0m3 0h0m1 0h0m2 0h0m2 0h0m1 0h0m1 0h0m1 0h0m1 0h0m1 0h0m-19 1h0m1 0h0m1 0h0m1 0h0m3 0h0m1 0h0m2 0h0m1 0h0m1 0h0m1 0h0m3 0h0m3 0h0m-19 1h0m1 0h0m1 0h0m1 0h0m1 0h0m1 0h0m1 0h0m1 0h0m1 0h0m1 0h0m3 0h0m1 0h0m4 0h0m2 0h0m-18 1h0m1 0h0m1 0h0m1 0h0m1 0h0m1 0h0m2 0h0m1 0h0m1 0h0m1 0h0m1 0h0m2 0h0m1 0h0m2 0h0m1 0h0m-17 1h0m1 0h0m1 0h0m1 0h0m2 0h0m1 0h0m2 0h0m1 0h0m1 0h0m2 0h0m2 0h0m1 0h0m1 0h0m-17 1h0m1 0h0m1 0h0m1 0h0m1 0h0m1 0h0m7 0h0m4 0h0m-16 1h0m1 0h0m1 0h0m2 0h0m1 0h0m1 0h0m2 0h0m1 0h0m1 0h0m2 0h0m1 0h0m4 0h0m-17 1h0m1 0h0m1 0h0m2 0h0m1 0h0m2 0h0m1 0h0m1 0h0m2 0h0m1 0h0m1 0h0m2 0h0m1 0h0m-16 1h0m1 0h0m2 0h0m1 0h0m1 0h0m2 0h0m1 0h0m1 0h0m2 0h0m1 0h0m-12 1h0m2 0h0m1 0h0m1 0h0m1 0h0m1 0h0m1 0h0m2 0h0m1 0h0m1 0h0m1 0h0m1 0h0m-13 1h0m1 0h0m1 0h0m1 0h0m2 0h0m1 0h0m4 0h0m1 0h0m3 0h0m1 0h0m-15 1h0m1 0h0m1 0h0m1 0h0m1 0h0m1 0h0m1 0h0m2 0h0m2 0h0m2 0h0m3 0h0m-16 1h0m1 0h0m1 0h0m1 0h0m1 0h0m1 0h0m1 0h0m1 0h0m1 0h0m1 0h0m1 0h0m1 0h0m4 0h0m-15 1h0m1 0h0m1 0h0m1 0h0m1 0h0m1 0h0m1 0h0m1 0h0m1 0h0m1 0h0m1 0h0m3 0h0m-13 1h0m1 0h0m1 0h0m1 0h0m1 0h0m1 0h0m1 0h0m2 0h0m1 0h0m1 0h0m2 0h0m-12 1h0m1 0h0m1 0h0m2 0h0m2 0h0m1 0h0m1 0h0m1 0h0m1 0h0m2 0h0m2 0h0m-14 1h0m1 0h0m1 0h0m1 0h0m3 0h0m1 0h0m2 0h0m1 0h0m1 0h0m1 0h0m-13 1h0m1 0h0m1 0h0m1 0h0m1 0h0m2 0h0m2 0h0m1 0h0m1 0h0m2 0h0m-12 1h0m1 0h0m1 0h0m1 0h0m1 0h0m1 0h0m1 0h0m1 0h0m1 0h0m4 0h0m-11 1h0m1 0h0m1 0h0m1 0h0m1 0h0m1 0h0m1 0h0m1 0h0m1 0h0m3 0h0m-11 1h0m1 0h0m1 0h0m1 0h0m1 0h0m2 0h0m1 0h0m2 0h0m1 0h0m1 0h0m-12 1h0m1 0h0m1 0h0m1 0h0m1 0h0m1 0h0m2 0h0m1 0h0m-8 1h0m1 0h0m1 0h0m1 0h0m1 0h0m1 0h0m1 0h0m2 0h0m2 0h0m1 0h0m-11 1h0m1 0h0m1 0h0m1 0h0m1 0h0m1 0h0m1 0h0m1 0h0m1 0h0m2 0h0m-10 1h0m1 0h0m1 0h0m1 0h0m1 0h0m1 0h0m2 0h0m1 0h0m-8 1h0m1 0h0m1 0h0m1 0h0m1 0h0m5 0h0m1 0h0m-10 1h0m1 0h0m1 0h0m1 0h0m1 0h0m1 0h0m1 0h0m2 0h0m1 0h0m-9 1h0m1 0h0m1 0h0m1 0h0m1 0h0m1 0h0m1 0h0m1 0h0m1 0h0m-8 1h0m1 0h0m1 0h0m1 0h0m2 0h0m1 0h0m1 0h0m1 0h0m-8 1h0m1 0h0m2 0h0m2 0h0m1 0h0m1 0h0m-6 1h0m3 0h0m1 0h0m1 0h0m1 0h0m-7 1h0m1 0h0m3 0h0m3 0h0m-7 1h0m1 0h0m1 0h0m1 0h0m2 0h0m-4 1h0m4 0h0m-5 1h0m1 0h0m2 0h0m1 0h0m1 0h0m1 0h0m-5 1h0m1 0h0m1 0h0m-4 1h0m1 0h0m1 0h0m1 0h0m1 0h0m1 0h0m-3 1h0m1 0h0m1 0h0m1 0h0m-4 1h0m1 0h0m3 0h0m-4 1h0m1 0h0m1 0h0m1 0h0m-3 1h0m1 0h0m1 0h0m-2 1h0m1 0h0m1 0h0m1 0h0m-3 1h0m2 0h0m1 0h0m-3 1h0m1 0h0m1 0h0m1 0h0m-4 1h0m2 0h0m-1 1h0m1 0h0m1 1h0" stroke="#0000ff" stroke-width="2" stroke-linecap="square" fill="none"/><rect x="239.7" y="802.1" width="23.3" height="17.2" fill="#fff" stroke="#333" stroke-width="1"/><text x="251.3" y="815.7" class="lg" text-anchor="middle">EC</text><text x="151.2" y="837.8" class="tk" text-anchor="middle">0</text><text x="165.9" y="837.8" class="tk" text-anchor="middle">2</text><text x="180.2" y="837.8" class="tk" text-anchor="middle">4</text><text x="194.9" y="837.8" class="tk" text-anchor="middle">6</text><text x="209.4" y="837.8" class="tk" text-anchor="middle">8</text><text x="224.1" y="837.8" class="tk" text-anchor="middle">10</text><text x="238.4" y="837.8" class="tk" text-anchor="middle">12</text><text x="253.1" y="837.8" class="tk" text-anchor="middle">14</text><path d="M151.2 827.9v-2" class="tm"/><path d="M165.9 827.9v-2" class="tm"/><path d="M180.2 827.9v-2" class="tm"/><path d="M194.9 827.9v-2" class="tm"/><path d="M209.4 827.9v-2" class="tm"/><path d="M224.1 827.9v-2" class="tm"/><path d="M238.4 827.9v-2" class="tm"/><path d="M253.1 827.9v-2" class="tm"/><path d="M158.6 827.9v-2" class="tm"/><path d="M173.1 827.9v-2" class="tm"/><path d="M187.6 827.9v-2" class="tm"/><path d="M202.2 827.9v-2" class="tm"/><path d="M216.8 827.9v-2" class="tm"/><path d="M231.3 827.9v-2" class="tm"/><path d="M245.8 827.9v-2" class="tm"/><polygon points="274.2,821.4 280.5,810.5 289.8,798.8 299.2,789.5 308.5,778.5 319.4,767.6 328.8,757.5 339.7,748.2 350.6,741.1 363.1,735.7 377.1,731.8 383.3,733 369.3,738 356.8,745 347.5,753.6 339.7,762.2 333.5,770.8 331.1,781.7 325.7,791 317.9,800.4 311.6,813.6 307,821.9" fill="#808000"/><path d="M378 732h0m-7 1h0m2 0h0m1 0h0m2 0h0m1 0h0m3 0h0m-9 1h0m1 0h0m2 0h0m2 0h0m1 0h0m1 0h0m5 0h0m-19 1h0m1 0h0m1 0h0m2 0h0m3 0h0m1 0h0m4 0h0m2 0h0m-16 1h0m4 0h0m5 0h0m1 0h0m3 0h0m-15 1h0m1 0h0m1 0h0m4 0h0m1 0h0m1 0h0m1 0h0m2 0h0m2 0h0m2 0h0m-16 1h0m2 0h0m1 0h0m3 0h0m1 0h0m1 0h0m1 0h0m2 0h0m-13 1h0m1 0h0m2 0h0m1 0h0m1 0h0m3 0h0m3 0h0m-14 1h0m1 0h0m1 0h0m2 0h0m4 0h0m1 0h0m2 0h0m-13 1h0m3 0h0m1 0h0m1 0h0m1 0h0m2 0h0m3 0h0m1 0h0m-11 1h0m4 0h0m3 0h0m2 0h0m-15 1h0m3 0h0m3 0h0m1 0h0m2 0h0m2 0h0m2 0h0m-13 1h0m2 0h0m3 0h0m3 0h0m1 0h0m-12 1h0m3 0h0m1 0h0m1 0h0m1 0h0m1 0h0m1 0h0m2 0h0m1 0h0m-10 1h0m2 0h0m3 0h0m2 0h0m1 0h0m1 0h0m-10 1h0m2 0h0m2 0h0m2 0h0m1 0h0m3 0h0m-12 1h0m3 0h0m-6 1h0m3 0h0m1 0h0m1 0h0m5 0h0m3 0h0m-14 1h0m1 0h0m6 0h0m3 0h0m1 0h0m1 0h0m-15 1h0m4 0h0m2 0h0m2 0h0m-8 1h0m1 0h0m1 0h0m2 0h0m1 0h0m1 0h0m1 0h0m6 0h0m1 0h0m1 0h0m-17 1h0m3 0h0m4 0h0m6 0h0m4 0h0m-16 1h0m6 0h0m2 0h0m2 0h0m1 0h0m-12 1h0m2 0h0m6 0h0m1 0h0m1 0h0m1 0h0m1 0h0m1 0h0m1 0h0m-11 1h0m1 0h0m2 0h0m-9 1h0m2 0h0m1 0h0m4 0h0m1 0h0m2 0h0m3 0h0m2 0h0m-12 1h0m1 0h0m1 0h0m5 0h0m2 0h0m1 0h0m-17 1h0m6 0h0m4 0h0m-11 1h0m3 0h0m3 0h0m3 0h0m-7 1h0m1 0h0m2 0h0m2 0h0m2 0h0m2 0h0m2 0h0m-13 1h0m1 0h0m7 0h0m5 0h0m-13 1h0m1 0h0m1 0h0m2 0h0m3 0h0m3 0h0m-12 1h0m4 0h0m5 0h0m2 0h0m1 0h0m1 0h0m2 0h0m-16 1h0m3 0h0m1 0h0m1 0h0m5 0h0m1 0h0m3 0h0m2 0h0m-12 1h0m5 0h0m2 0h0m4 0h0m-16 1h0m1 0h0m3 0h0m3 0h0m2 0h0m1 0h0m1 0h0m1 0h0m3 0h0m-16 1h0m1 0h0m1 0h0m1 0h0m1 0h0m1 0h0m5 0h0m1 0h0m1 0h0m2 0h0m1 0h0m-12 1h0m2 0h0m1 0h0m1 0h0m1 0h0m1 0h0m1 0h0m3 0h0m1 0h0m-16 1h0m1 0h0m1 0h0m1 0h0m1 0h0m8 0h0m1 0h0m1 0h0m2 0h0m-18 1h0m2 0h0m3 0h0m1 0h0m2 0h0m1 0h0m2 0h0m2 0h0m1 0h0m1 0h0m1 0h0m-15 1h0m6 0h0m2 0h0m1 0h0m1 0h0m1 0h0m4 0h0m1 0h0m-19 1h0m1 0h0m1 0h0m2 0h0m2 0h0m3 0h0m1 0h0m2 0h0m1 0h0m2 0h0m1 0h0m2 0h0m1 0h0m-19 1h0m2 0h0m1 0h0m1 0h0m2 0h0m1 0h0m1 0h0m1 0h0m1 0h0m4 0h0m2 0h0m3 0h0m-22 1h0m3 0h0m2 0h0m1 0h0m2 0h0m5 0h0m1 0h0m3 0h0m1 0h0m1 0h0m1 0h0m1 0h0m-20 1h0m3 0h0m4 0h0m4 0h0m1 0h0m3 0h0m1 0h0m1 0h0m1 0h0m1 0h0m1 0h0m-19 1h0m2 0h0m2 0h0m4 0h0m5 0h0m4 0h0m-21 1h0m3 0h0m1 0h0m1 0h0m6 0h0m1 0h0m1 0h0m5 0h0m2 0h0m1 0h0m1 0h0m-20 1h0m1 0h0m2 0h0m3 0h0m3 0h0m1 0h0m1 0h0m6 0h0m1 0h0m1 0h0m2 0h0m-22 1h0m2 0h0m1 0h0m1 0h0m5 0h0m2 0h0m3 0h0m1 0h0m3 0h0m1 0h0m-23 1h0m2 0h0m3 0h0m1 0h0m3 0h0m2 0h0m1 0h0m2 0h0m1 0h0m2 0h0m1 0h0m1 0h0m4 0h0m1 0h0m-25 1h0m2 0h0m2 0h0m4 0h0m1 0h0m1 0h0m2 0h0m1 0h0m4 0h0m3 0h0m3 0h0m1 0h0m1 0h0m-26 1h0m1 0h0m2 0h0m1 0h0m1 0h0m2 0h0m1 0h0m8 0h0m1 0h0m3 0h0m4 0h0m-22 1h0m2 0h0m3 0h0m1 0h0m1 0h0m1 0h0m3 0h0m1 0h0m2 0h0m2 0h0m1 0h0m4 0h0m1 0h0m1 0h0m1 0h0m-27 1h0m3 0h0m2 0h0m3 0h0m2 0h0m6 0h0m3 0h0m1 0h0m2 0h0m3 0h0m1 0h0m1 0h0m-28 1h0m7 0h0m3 0h0m3 0h0m2 0h0m2 0h0m1 0h0m4 0h0m1 0h0m1 0h0m1 0h0m2 0h0m-29 1h0m2 0h0m2 0h0m2 0h0m3 0h0m1 0h0m1 0h0m1 0h0m6 0h0m1 0h0m1 0h0m5 0h0m1 0h0m1 0h0m1 0h0m-26 1h0m3 0h0m5 0h0m1 0h0m1 0h0m2 0h0m1 0h0m2 0h0m3 0h0m2 0h0m5 0h0m-24 1h0m1 0h0m3 0h0m6 0h0m5 0h0m1 0h0m1 0h0m3 0h0m1 0h0m5 0h0m-29 1h0m2 0h0m1 0h0m1 0h0m2 0h0m1 0h0m2 0h0m2 0h0m1 0h0m2 0h0m2 0h0m2 0h0m1 0h0m4 0h0m1 0h0m1 0h0m4 0h0m-29 1h0m2 0h0m1 0h0m1 0h0m3 0h0m1 0h0m1 0h0m1 0h0m1 0h0m1 0h0m1 0h0m3 0h0m2 0h0m1 0h0m2 0h0m1 0h0m1 0h0m1 0h0m5 0h0m-32 1h0m1 0h0m1 0h0m1 0h0m1 0h0m3 0h0m2 0h0m4 0h0m1 0h0m1 0h0m3 0h0m1 0h0m2 0h0m1 0h0m1 0h0m2 0h0m3 0h0m2 0h0m-31 1h0m2 0h0m1 0h0m5 0h0m2 0h0m4 0h0m1 0h0m2 0h0m1 0h0m1 0h0m5 0h0m1 0h0m2 0h0m4 0h0m-33 1h0m2 0h0m1 0h0m1 0h0m4 0h0m1 0h0m2 0h0m2 0h0m4 0h0m1 0h0m2 0h0m2 0h0m2 0h0m4 0h0m-22 1h0m2 0h0m3 0h0m3 0h0m1 0h0m3 0h0m1 0h0m1 0h0m2 0h0m1 0h0m1 0h0m1 0h0m3 0h0m1 0h0m2 0h0m-30 1h0m1 0h0m1 0h0m2 0h0m1 0h0m2 0h0m2 0h0m1 0h0m1 0h0m1 0h0m1 0h0m3 0h0m1 0h0m2 0h0m1 0h0m1 0h0m2 0h0m2 0h0m1 0h0m1 0h0m-30 1h0m3 0h0m1 0h0m2 0h0m2 0h0m1 0h0m2 0h0m1 0h0m1 0h0m4 0h0m2 0h0m1 0h0m1 0h0m1 0h0m1 0h0m1 0h0m1 0h0m1 0h0m1 0h0m-18 1h0m1 0h0m1 0h0m5 0h0m1 0h0m3 0h0m1 0h0m1 0h0m2 0h0m1 0h0m1 0h0m1 0h0m1 0h0m-28 1h0m4 0h0m2 0h0m1 0h0m1 0h0m1 0h0m1 0h0m2 0h0m6 0h0m1 0h0m1 0h0m1 0h0m4 0h0m-28 1h0m1 0h0m1 0h0m2 0h0m1 0h0m1 0h0m3 0h0m1 0h0m3 0h0m1 0h0m1 0h0m2 0h0m2 0h0m2 0h0m4 0h0m1 0h0m1 0h0m-28 1h0m2 0h0m3 0h0m3 0h0m1 0h0m1 0h0m2 0h0m2 0h0m3 0h0m1 0h0m1 0h0m3 0h0m2 0h0m1 0h0m1 0h0m3 0h0m4 0h0m-33 1h0m2 0h0m2 0h0m1 0h0m2 0h0m2 0h0m2 0h0m1 0h0m3 0h0m2 0h0m4 0h0m1 0h0m2 0h0m1 0h0m3 0h0m2 0h0m2 0h0m-33 1h0m3 0h0m1 0h0m2 0h0m1 0h0m2 0h0m1 0h0m1 0h0m3 0h0m3 0h0m2 0h0m1 0h0m1 0h0m1 0h0m1 0h0m1 0h0m4 0h0m3 0h0m-30 1h0m1 0h0m4 0h0m1 0h0m3 0h0m6 0h0m1 0h0m4 0h0m2 0h0m1 0h0m1 0h0m1 0h0m1 0h0m1 0h0m-29 1h0m1 0h0m4 0h0m1 0h0m6 0h0m1 0h0m1 0h0m1 0h0m2 0h0m1 0h0m4 0h0m1 0h0m2 0h0m1 0h0m1 0h0m6 0h0m-36 1h0m1 0h0m5 0h0m1 0h0m1 0h0m1 0h0m2 0h0m3 0h0m3 0h0m1 0h0m1 0h0m1 0h0m2 0h0m2 0h0m2 0h0m5 0h0m2 0h0m2 0h0m-34 1h0m2 0h0m1 0h0m1 0h0m3 0h0m7 0h0m1 0h0m4 0h0m2 0h0m2 0h0m1 0h0m3 0h0m-29 1h0m1 0h0m1 0h0m7 0h0m1 0h0m3 0h0m5 0h0m1 0h0m7 0h0m1 0h0m4 0h0m-28 1h0m2 0h0m3 0h0m4 0h0m1 0h0m2 0h0m4 0h0m1 0h0m1 0h0m2 0h0m1 0h0m2 0h0m2 0h0m1 0h0m1 0h0m2 0h0m3 0h0m-36 1h0m2 0h0m2 0h0m1 0h0m1 0h0m1 0h0m1 0h0m1 0h0m3 0h0m1 0h0m1 0h0m1 0h0m3 0h0m2 0h0m6 0h0m3 0h0m6 0h0m-36 1h0m4 0h0m1 0h0m3 0h0m1 0h0m1 0h0m1 0h0m1 0h0m3 0h0m3 0h0m1 0h0m1 0h0m1 0h0m2 0h0m5 0h0m2 0h0m1 0h0m4 0h0m-33 1h0m2 0h0m1 0h0m1 0h0m3 0h0m2 0h0m2 0h0m1 0h0m1 0h0m1 0h0m2 0h0m1 0h0m1 0h0m1 0h0m1 0h0m1 0h0m2 0h0m2 0h0m1 0h0m2 0h0m1 0h0m-30 1h0m4 0h0m1 0h0m2 0h0m4 0h0m3 0h0m1 0h0m2 0h0m5 0h0m2 0h0m2 0h0m1 0h0m2 0h0m1 0h0m-28 1h0m4 0h0m2 0h0m2 0h0m3 0h0m3 0h0m1 0h0m1 0h0m1 0h0m1 0h0m1 0h0m3 0h0m1 0h0m2 0h0m2 0h0m-32 1h0m5 0h0m3 0h0m2 0h0m4 0h0m3 0h0m3 0h0m1 0h0m1 0h0m1 0h0m1 0h0m2 0h0m1 0h0m3 0h0m3 0h0m1 0h0m1 0h0m5 0h0m-40 1h0m1 0h0m2 0h0m1 0h0m2 0h0m4 0h0m3 0h0m1 0h0m1 0h0m1 0h0m1 0h0m3 0h0m3 0h0m1 0h0m4 0h0m2 0h0m2 0h0m8 0h0m-41 1h0m7 0h0m4 0h0m1 0h0m1 0h0m1 0h0m4 0h0m2 0h0m1 0h0m2 0h0m4 0h0m3 0h0m1 0h0m1 0h0m-31 1h0m1 0h0m1 0h0m4 0h0m10 0h0m4 0h0m1 0h0m1 0h0m1 0h0m2 0h0m1 0h0m1 0h0m13 0h0m-37 1h0m5 0h0m2 0h0m3 0h0m1 0h0m1 0h0m1 0h0m3 0h0m1 0h0m1 0h0m1 0h0m1 0h0m1 0h0m1 0h0m1 0h0m1 0h0m1 0h0m1 0h0m-30 1h0m1 0h0m2 0h0m1 0h0m4 0h0m1 0h0m2 0h0m2 0h0m3 0h0m1 0h0m4 0h0m3 0h0m1 0h0m2 0h0m1 0h0m-30 1h0m6 0h0m2 0h0m3 0h0m2 0h0m3 0h0m1 0h0m1 0h0m6 0h0m2 0h0m1 0h0m1 0h0m1 0h0m1 0h0m-29 1h0m15 0h0m2 0h0m1 0h0m1 0h0m5 0h0m2 1h0" stroke="#808000" stroke-width="2" stroke-linecap="square" fill="none"/><rect x="337.6" y="802.1" width="48.9" height="17.2" fill="#fff" stroke="#333" stroke-width="1"/><text x="362.1" y="815.7" class="lg" text-anchor="middle">Hindex</text><text x="273" y="837.8" class="tk" text-anchor="middle">0</text><text x="292" y="837.8" class="tk" text-anchor="middle">2</text><text x="310.5" y="837.8" class="tk" text-anchor="middle">4</text><text x="329.5" y="837.8" class="tk" text-anchor="middle">6</text><text x="348.5" y="837.8" class="tk" text-anchor="middle">8</text><text x="367.5" y="837.8" class="tk" text-anchor="middle">10</text><text x="386" y="837.8" class="tk" text-anchor="middle">12</text><path d="M273 827.9v-2" class="tm"/><path d="M292 827.9v-2" class="tm"/><path d="M310.5 827.9v-2" class="tm"/><path d="M329.5 827.9v-2" class="tm"/><path d="M348.5 827.9v-2" class="tm"/><path d="M367.5 827.9v-2" class="tm"/><path d="M386 827.9v-2" class="tm"/><path d="M282.5 827.9v-2" class="tm"/><path d="M301.3 827.9v-2" class="tm"/><path d="M320 827.9v-2" class="tm"/><path d="M339 827.9v-2" class="tm"/><path d="M358 827.9v-2" class="tm"/><path d="M376.7 827.9v-2" class="tm"/><polygon points="395.5,730.9 395.5,741.3 395.5,758.5 395.5,775.8 395.5,793.1 395.5,810.4 395.5,822.4 418.8,822.4 418,810.4 415.4,793.1 411.9,775.8 406.7,758.5 403.3,741.3 401.5,730.9" fill="#800080"/><path d="M399 731h0m-3 1h0m1 0h0m1 0h0m-2 1h0m3 0h0m1 0h0m3 0h0m-5 1h0m2 0h0m2 0h0m-7 1h0m1 0h0m5 0h0m8 0h0m4 0h0m5 0h0m2 0h0m-23 1h0m1 0h0m1 0h0m1 0h0m2 0h0m2 0h0m2 0h0m2 0h0m1 0h0m6 0h0m10 0h0m1 0h0m3 0h0m33 0h0m-65 1h0m4 0h0m1 0h0m4 0h0m4 0h0m3 0h0m3 0h0m2 0h0m1 0h0m6 0h0m2 0h0m-32 1h0m3 0h0m2 0h0m1 0h0m1 0h0m2 0h0m2 0h0m1 0h0m11 0h0m2 0h0m3 0h0m4 0h0m-30 1h0m1 0h0m2 0h0m3 0h0m1 0h0m1 0h0m1 0h0m10 0h0m9 0h0m-30 1h0m2 0h0m2 0h0m1 0h0m1 0h0m2 0h0m1 0h0m1 0h0m5 0h0m1 0h0m7 0h0m10 0h0m2 0h0m3 0h0m-36 1h0m1 0h0m2 0h0m3 0h0m1 0h0m1 0h0m5 0h0m3 0h0m11 0h0m3 0h0m-29 1h0m3 0h0m5 0h0m8 0h0m3 0h0m2 0h0m2 0h0m5 0h0m1 0h0m-32 1h0m2 0h0m1 0h0m1 0h0m1 0h0m1 0h0m1 0h0m2 0h0m11 0h0m4 0h0m-21 1h0m3 0h0m1 0h0m1 0h0m1 0h0m8 0h0m4 0h0m3 0h0m1 0h0m3 0h0m4 0h0m3 0h0m1 0h0m-33 1h0m2 0h0m3 0h0m1 0h0m4 0h0m1 0h0m2 0h0m9 0h0m14 0h0m1 0h0m-35 1h0m1 0h0m1 0h0m1 0h0m1 0h0m5 0h0m6 0h0m11 0h0m29 0h0m-60 1h0m1 0h0m4 0h0m1 0h0m3 0h0m4 0h0m1 0h0m9 0h0m8 0h0m-30 1h0m1 0h0m1 0h0m1 0h0m3 0h0m2 0h0m1 0h0m1 0h0m2 0h0m2 0h0m93 0h0m-105 1h0m1 0h0m3 0h0m1 0h0m2 0h0m2 0h0m3 0h0m4 0h0m2 0h0m2 0h0m8 0h0m6 0h0m1 0h0m-36 1h0m3 0h0m2 0h0m1 0h0m3 0h0m1 0h0m1 0h0m2 0h0m1 0h0m11 0h0m3 0h0m1 0h0m1 0h0m5 0h0m25 0h0m14 0h0m-73 1h0m2 0h0m2 0h0m3 0h0m4 0h0m7 0h0m1 0h0m2 0h0m3 0h0m8 0h0m8 0h0m-40 1h0m1 0h0m1 0h0m3 0h0m1 0h0m1 0h0m1 0h0m4 0h0m2 0h0m2 0h0m21 0h0m10 0h0m-49 1h0m1 0h0m1 0h0m3 0h0m2 0h0m1 0h0m1 0h0m4 0h0m5 0h0m3 0h0m7 0h0m4 0h0m6 0h0m-37 1h0m2 0h0m1 0h0m4 0h0m1 0h0m2 0h0m2 0h0m6 0h0m7 0h0m5 0h0m67 0h0m-97 1h0m1 0h0m1 0h0m3 0h0m1 0h0m1 0h0m1 0h0m1 0h0m3 0h0m5 0h0m2 0h0m3 0h0m3 0h0m1 0h0m3 0h0m2 0h0m1 0h0m9 0h0m23 0h0m-64 1h0m2 0h0m2 0h0m2 0h0m4 0h0m6 0h0m1 0h0m1 0h0m16 0h0m-30 1h0m1 0h0m3 0h0m1 0h0m1 0h0m1 0h0m5 0h0m10 0h0m-26 1h0m1 0h0m5 0h0m1 0h0m1 0h0m2 0h0m3 0h0m1 0h0m6 0h0m5 0h0m7 0h0m8 0h0m1 0h0m-42 1h0m1 0h0m2 0h0m5 0h0m1 0h0m1 0h0m1 0h0m1 0h0m1 0h0m5 0h0m3 0h0m7 0h0m1 0h0m2 0h0m2 0h0m5 0h0m3 0h0m-37 1h0m2 0h0m1 0h0m1 0h0m1 0h0m1 0h0m1 0h0m3 0h0m14 0h0m1 0h0m8 0h0m6 0h0m-43 1h0m1 0h0m2 0h0m1 0h0m2 0h0m1 0h0m1 0h0m1 0h0m1 0h0m1 0h0m3 0h0m1 0h0m17 0h0m1 0h0m7 0h0m1 0h0m26 0h0m-67 1h0m2 0h0m2 0h0m2 0h0m3 0h0m3 0h0m6 0h0m1 0h0m3 0h0m2 0h0m3 0h0m2 0h0m5 0h0m7 0h0m-40 1h0m1 0h0m1 0h0m1 0h0m1 0h0m1 0h0m1 0h0m1 0h0m1 0h0m1 0h0m1 0h0m1 0h0m1 0h0m3 0h0m1 0h0m3 0h0m1 0h0m13 0h0m7 0h0m40 0h0m-81 1h0m1 0h0m1 0h0m3 0h0m4 0h0m1 0h0m2 0h0m7 0h0m1 0h0m12 0h0m6 0h0m15 0h0m13 0h0m18 0h0m-80 1h0m1 0h0m4 0h0m2 0h0m1 0h0m2 0h0m7 0h0m2 0h0m4 0h0m3 0h0m9 0h0m-39 1h0m1 0h0m4 0h0m3 0h0m2 0h0m1 0h0m2 0h0m1 0h0m7 0h0m2 0h0m2 0h0m3 0h0m10 0h0m3 0h0m3 0h0m-43 1h0m2 0h0m4 0h0m1 0h0m1 0h0m1 0h0m2 0h0m1 0h0m1 0h0m4 0h0m5 0h0m1 0h0m-21 1h0m1 0h0m2 0h0m4 0h0m1 0h0m1 0h0m1 0h0m10 0h0m3 0h0m7 0h0m3 0h0m2 0h0m-37 1h0m5 0h0m1 0h0m2 0h0m1 0h0m1 0h0m1 0h0m1 0h0m2 0h0m5 0h0m12 0h0m4 0h0m-32 1h0m2 0h0m1 0h0m1 0h0m1 0h0m1 0h0m2 0h0m1 0h0m1 0h0m2 0h0m6 0h0m41 0h0m-63 1h0m1 0h0m1 0h0m1 0h0m6 0h0m2 0h0m2 0h0m1 0h0m2 0h0m1 0h0m10 0h0m6 0h0m3 0h0m45 0h0m-80 1h0m1 0h0m4 0h0m1 0h0m1 0h0m3 0h0m1 0h0m1 0h0m2 0h0m19 0h0m6 0h0m-37 1h0m2 0h0m2 0h0m2 0h0m2 0h0m3 0h0m3 0h0m3 0h0m13 0h0m6 0h0m5 0h0m-41 1h0m3 0h0m2 0h0m2 0h0m3 0h0m1 0h0m2 0h0m1 0h0m5 0h0m18 0h0m5 0h0m-44 1h0m1 0h0m1 0h0m1 0h0m4 0h0m2 0h0m1 0h0m1 0h0m2 0h0m2 0h0m3 0h0m3 0h0m1 0h0m5 0h0m2 0h0m5 0h0m1 0h0m2 0h0m-35 1h0m3 0h0m1 0h0m1 0h0m1 0h0m1 0h0m1 0h0m1 0h0m1 0h0m1 0h0m1 0h0m21 0h0m2 0h0m-38 1h0m2 0h0m6 0h0m2 0h0m3 0h0m6 0h0m11 0h0m1 0h0m2 0h0m-31 1h0m1 0h0m1 0h0m3 0h0m2 0h0m1 0h0m3 0h0m1 0h0m2 0h0m1 0h0m6 0h0m3 0h0m17 0h0m-41 1h0m1 0h0m1 0h0m1 0h0m1 0h0m2 0h0m1 0h0m1 0h0m1 0h0m2 0h0m1 0h0m1 0h0m1 0h0m5 0h0m2 0h0m2 0h0m1 0h0m1 0h0m4 0h0m6 0h0m1 0h0m14 0h0m-51 1h0m2 0h0m1 0h0m1 0h0m3 0h0m1 0h0m1 0h0m2 0h0m1 0h0m1 0h0m2 0h0m8 0h0m4 0h0m2 0h0m-30 1h0m5 0h0m1 0h0m5 0h0m1 0h0m1 0h0m1 0h0m1 0h0m2 0h0m1 0h0m7 0h0m17 0h0m1 0h0m2 0h0m-42 1h0m2 0h0m3 0h0m4 0h0m1 0h0m1 0h0m1 0h0m2 0h0m1 0h0m1 0h0m1 0h0m1 0h0m1 0h0m9 0h0m1 0h0m2 0h0m4 0h0m-35 1h0m3 0h0m2 0h0m5 0h0m1 0h0m2 0h0m1 0h0m1 0h0m1 0h0m2 0h0m1 0h0m6 0h0m13 0h0m1 0h0m3 0h0m1 0h0m-46 1h0m2 0h0m2 0h0m2 0h0m2 0h0m6 0h0m1 0h0m21 0h0m2 0h0m6 0h0m2 0h0m-41 1h0m1 0h0m1 0h0m1 0h0m1 0h0m5 0h0m1 0h0m1 0h0m1 0h0m2 0h0m7 0h0m13 0h0m2 0h0m15 0h0m-55 1h0m1 0h0m3 0h0m1 0h0m7 0h0m1 0h0m1 0h0m1 0h0m1 0h0m2 0h0m2 0h0m1 0h0m1 0h0m14 0h0m9 0h0m-40 1h0m1 0h0m1 0h0m1 0h0m1 0h0m1 0h0m1 0h0m2 0h0m1 0h0m2 0h0m3 0h0m10 0h0m4 0h0m1 0h0m7 0h0m4 0h0m-44 1h0m1 0h0m1 0h0m1 0h0m2 0h0m1 0h0m1 0h0m3 0h0m2 0h0m1 0h0m1 0h0m1 0h0m1 0h0m1 0h0m9 0h0m6 0h0m3 0h0m2 0h0m1 0h0m1 0h0m3 0h0m-44 1h0m10 0h0m4 0h0m1 0h0m3 0h0m4 0h0m1 0h0m2 0h0m9 0h0m2 0h0m3 0h0m35 0h0m7 0h0m-80 1h0m1 0h0m1 0h0m1 0h0m7 0h0m1 0h0m3 0h0m3 0h0m9 0h0m3 0h0m4 0h0m-34 1h0m1 0h0m4 0h0m2 0h0m1 0h0m1 0h0m1 0h0m1 0h0m1 0h0m1 0h0m3 0h0m2 0h0m4 0h0m1 0h0m2 0h0m4 0h0m1 0h0m3 0h0m2 0h0m5 0h0m4 0h0m1 0h0m-43 1h0m1 0h0m2 0h0m1 0h0m1 0h0m1 0h0m1 0h0m2 0h0m1 0h0m3 0h0m1 0h0m2 0h0m2 0h0m2 0h0m3 0h0m4 0h0m12 0h0m6 0h0m-46 1h0m5 0h0m1 0h0m1 0h0m1 0h0m1 0h0m1 0h0m1 0h0m1 0h0m2 0h0m2 0h0m1 0h0m1 0h0m3 0h0m1 0h0m22 0h0m30 0h0m19 0h0m-93 1h0m5 0h0m2 0h0m3 0h0m1 0h0m1 0h0m1 0h0m1 0h0m1 0h0m1 0h0m1 0h0m1 0h0m1 0h0m10 0h0m11 0h0m-42 1h0m3 0h0m1 0h0m4 0h0m2 0h0m2 0h0m2 0h0m1 0h0m2 0h0m1 0h0m1 0h0m1 0h0m1 0h0m8 0h0m5 0h0m2 0h0m3 0h0m23 0h0m31 0h0m-93 1h0m1 0h0m3 0h0m4 0h0m7 0h0m1 0h0m1 0h0m1 0h0m1 0h0m1 0h0m2 0h0m10 0h0m-31 1h0m1 0h0m1 0h0m1 0h0m1 0h0m2 0h0m1 0h0m2 0h0m1 0h0m3 0h0m2 0h0m2 0h0m1 0h0m1 0h0m1 0h0m1 0h0m4 0h0m8 0h0m6 0h0m-38 1h0m7 0h0m1 0h0m2 0h0m1 0h0m1 0h0m3 0h0m1 0h0m1 0h0m1 0h0m1 0h0m4 0h0m1 0h0m13 0h0m7 0h0m-42 1h0m3 0h0m1 0h0m1 0h0m2 0h0m1 0h0m2 0h0m3 0h0m2 0h0m1 0h0m1 0h0m6 0h0m3 0h0m2 0h0m1 0h0m5 0h0m1 0h0m-38 1h0m2 0h0m4 0h0m2 0h0m2 0h0m1 0h0m1 0h0m3 0h0m2 0h0m1 0h0m1 0h0m1 0h0m2 0h0m4 0h0m7 0h0m9 0h0m-42 1h0m4 0h0m6 0h0m1 0h0m5 0h0m2 0h0m1 0h0m1 0h0m2 0h0m3 0h0m2 0h0m2 0h0m1 0h0m1 0h0m5 0h0m-36 1h0m3 0h0m2 0h0m1 0h0m1 0h0m1 0h0m1 0h0m1 0h0m1 0h0m5 0h0m1 0h0m1 0h0m1 0h0m2 0h0m1 0h0m2 0h0m6 0h0m6 0h0m5 0h0m2 0h0m2 0h0m-42 1h0m1 0h0m1 0h0m2 0h0m4 0h0m1 0h0m1 0h0m3 0h0m3 0h0m1 0h0m4 0h0m17 0h0m2 0h0m3 0h0m2 0h0m-48 1h0m2 0h0m3 0h0m1 0h0m2 0h0m2 0h0m1 0h0m1 0h0m2 0h0m2 0h0m4 0h0m1 0h0m1 0h0m1 0h0m1 0h0m4 0h0m2 0h0m8 0h0m3 0h0m-41 1h0m2 0h0m2 0h0m2 0h0m1 0h0m2 0h0m2 0h0m1 0h0m4 0h0m1 0h0m2 0h0m1 0h0m4 0h0m5 0h0m3 0h0m6 0h0m11 0h0m-49 1h0m1 0h0m2 0h0m2 0h0m2 0h0m1 0h0m2 0h0m2 0h0m1 0h0m3 0h0m1 0h0m1 0h0m1 0h0m1 0h0m1 0h0m6 0h0m2 0h0m3 0h0m3 0h0m5 0h0m5 0h0m-45 1h0m3 0h0m1 0h0m2 0h0m1 0h0m1 0h0m1 0h0m2 0h0m7 0h0m1 0h0m2 0h0m9 0h0m2 0h0m3 0h0m2 0h0m4 0h0m5 0h0m1 0h0m-48 1h0m15 0h0m4 0h0m3 0h0m1 0h0m2 0h0m13 0h0m9 0h0m-47 1h0m1 0h0m1 0h0m1 0h0m2 0h0m2 0h0m2 0h0m2 0h0m1 0h0m1 0h0m2 0h0m2 0h0m1 0h0m2 0h0m1 0h0m1 0h0m1 0h0m2 0h0m13 0h0m3 0h0m4 0h0m4 0h0m8 0h0m-54 1h0m1 0h0m1 0h0m1 0h0m1 0h0m1 0h0m2 0h0m5 0h0m2 0h0m2 0h0m11 0h0m4 0h0m3 0h0m3 0h0m3 0h0m2 0h0m3 0h0m-47 1h0m1 0h0m1 0h0m1 0h0m2 0h0m1 0h0m2 0h0m1 0h0m1 0h0m1 0h0m1 0h0m2 0h0m1 0h0m1 0h0m1 0h0m2 0h0m1 0h0m1 0h0m1 0h0m1 0h0m4 0h0m2 0h0m6 0h0m5 0h0m5 0h0m28 0h0m-72 1h0m1 0h0m2 0h0m10 0h0m2 0h0m2 0h0m1 0h0m2 0h0m1 0h0m16 0h0m7 0h0m26 0h0m-70 1h0m1 0h0m4 0h0m1 0h0m1 0h0m4 0h0m2 0h0m1 0h0m1 0h0m4 0h0m1 0h0m1 0h0m14 0h0m-36 1h0m1 0h0m1 0h0m3 0h0m2 0h0m2 0h0m3 0h0m1 0h0m1 0h0m1 0h0m1 0h0m1 0h0m3 0h0m1 0h0m8 0h0m13 0h0m21 0h0m-63 1h0m1 0h0m2 0h0m4 0h0m4 0h0m1 0h0m2 0h0m4 0h0m2 0h0m1 0h0m1 0h0m1 0h0m2 0h0m2 0h0m4 0h0m-29 1h0m4 0h0m1 0h0m4 0h0m3 0h0m2 0h0m2 0h0m2 0h0m1 0h0m1 0h0m4 0h0m5 0h0m1 0h0m10 0h0m-42 1h0m2 0h0m2 0h0m4 0h0m2 0h0m3 0h0m1 0h0m1 0h0m3 0h0m1 0h0m2 0h0m1 0h0m1 0h0m3 0h0m2 0h0m3 0h0m3 0h0m5 0h0m5 0h0m1 0h0m-42 1h0m1 0h0m2 0h0m1 0h0m1 0h0m1 0h0m1 0h0m1 0h0m4 0h0m3 0h0m1 0h0m2 0h0m1 0h0m3 0h0m-24 1h0m2 0h0m1 0h0m1 0h0m1 0h0m2 0h0m2 0h0m2 0h0m1 0h0m1 0h0m1 0h0m1 0h0m1 0h0m1 0h0m1 0h0m1 0h0m1 0h0m2 0h0m5 0h0m16 0h0m-43 1h0m1 0h0m1 0h0m2 0h0m4 0h0m6 0h0m1 0h0m1 0h0m2 0h0m2 0h0m1 0h0m1 0h0m1 0h0m2 0h0m1 0h0m1 0h0m2 0h0m5 0h0m6 0h0m-41 1h0m5 0h0m1 0h0m1 0h0m2 0h0m1 0h0m1 0h0m3 0h0m1 0h0m2 0h0m3 0h0m1 0h0m2 0h0m2 0h0m1 0h0m2 0h0m1 0h0m7 0h0m10 0h0m-46 1h0m1 0h0m2 0h0m1 0h0m3 0h0m2 0h0m2 0h0m3 0h0m1 0h0m4 0h0m1 0h0m1 0h0m1 0h0m13 0h0m2 0h0m3 0h0m-35 1h0m16 0h0" stroke="#800080" stroke-width="2" stroke-linecap="square" fill="none"/><rect x="472.7" y="803.4" width="36.3" height="17" fill="#fff" stroke="#333" stroke-width="1"/><text x="490.9" y="816.8" class="lg" text-anchor="middle">HITS</text><text x="396.7" y="837.8" class="tk" text-anchor="middle">0</text><text x="411.9" y="837.8" class="tk" text-anchor="middle">5</text><text x="427.5" y="837.8" class="tk" text-anchor="middle">10</text><text x="443" y="837.8" class="tk" text-anchor="middle">15</text><text x="458.2" y="837.8" class="tk" text-anchor="middle">20</text><text x="473.7" y="837.8" class="tk" text-anchor="middle">25</text><text x="489.3" y="837.8" class="tk" text-anchor="middle">30</text><text x="504.8" y="837.8" class="tk" text-anchor="middle">35</text><path d="M396.7 827.9v-2" class="tm"/><path d="M411.9 827.9v-2" class="tm"/><path d="M427.5 827.9v-2" class="tm"/><path d="M443 827.9v-2" class="tm"/><path d="M458.2 827.9v-2" class="tm"/><path d="M473.7 827.9v-2" class="tm"/><path d="M489.3 827.9v-2" class="tm"/><path d="M504.8 827.9v-2" class="tm"/><path d="M404.3 827.9v-2" class="tm"/><path d="M419.7 827.9v-2" class="tm"/><path d="M435.2 827.9v-2" class="tm"/><path d="M450.6 827.9v-2" class="tm"/><path d="M466 827.9v-2" class="tm"/><path d="M481.5 827.9v-2" class="tm"/><path d="M497.1 827.9v-2" class="tm"/><path d="M541 732h0m9 0h0m21 0h0m-32 1h0m8 0h0m1 0h0m4 0h0m6 0h0m1 0h0m16 0h0m-35 1h0m2 0h0m3 0h0m8 0h0m1 0h0m-18 1h0m11 0h0m4 0h0m-19 1h0m1 0h0m2 0h0m1 0h0m1 0h0m1 0h0m8 0h0m-17 1h0m3 0h0m7 0h0m2 0h0m-9 1h0m1 0h0m3 0h0m2 0h0m7 0h0m-21 1h0m39 0h0m-40 1h0m2 0h0m1 0h0m3 0h0m1 0h0m5 0h0m89 0h0m-100 1h0m7 0h0m1 0h0m1 0h0m2 0h0m4 0h0m-17 1h0m1 0h0m2 0h0m1 0h0m1 0h0m2 0h0m1 0h0m1 0h0m2 0h0m2 0h0m18 0h0m-31 1h0m1 0h0m1 0h0m2 0h0m1 0h0m1 0h0m-7 1h0m1 0h0m3 0h0m1 0h0m1 0h0m1 0h0m1 0h0m-8 1h0m1 0h0m1 0h0m3 0h0m2 0h0m2 0h0m1 0h0m3 0h0m8 0h0m-22 1h0m2 0h0m1 0h0m1 0h0m6 0h0m3 0h0m1 0h0m-13 1h0m1 0h0m1 0h0m1 0h0m1 0h0m2 0h0m2 0h0m1 0h0m3 0h0m1 0h0m-14 1h0m1 0h0m1 0h0m1 0h0m1 0h0m1 0h0m2 0h0m1 0h0m1 0h0m3 0h0m12 0h0m-23 1h0m2 0h0m2 0h0m2 0h0m3 0h0m-10 1h0m1 0h0m1 0h0m1 0h0m1 0h0m1 0h0m1 0h0m2 0h0m1 0h0m2 0h0m3 0h0m-14 1h0m1 0h0m1 0h0m1 0h0m1 0h0m1 0h0m5 0h0m-9 1h0m1 0h0m1 0h0m1 0h0m1 0h0m1 0h0m1 0h0m2 0h0m3 0h0m4 0h0m-14 1h0m1 0h0m2 0h0m1 0h0m1 0h0m3 0h0m1 0h0m1 0h0m1 0h0m-13 1h0m1 0h0m2 0h0m1 0h0m1 0h0m3 0h0m4 0h0m1 0h0m11 0h0m20 0h0m-44 1h0m1 0h0m1 0h0m1 0h0m3 0h0m2 0h0m1 0h0m1 0h0m1 0h0m3 0h0m-14 1h0m1 0h0m1 0h0m3 0h0m2 0h0m1 0h0m1 0h0m-9 1h0m1 0h0m1 0h0m3 0h0m1 0h0m3 0h0m1 0h0m1 0h0m1 0h0m-12 1h0m3 0h0m1 0h0m3 0h0m2 0h0m2 0h0m1 0h0m-13 1h0m1 0h0m1 0h0m1 0h0m4 0h0m1 0h0m2 0h0m1 0h0m2 0h0m-13 1h0m2 0h0m2 0h0m1 0h0m1 0h0m4 0h0m3 0h0m1 0h0m-13 1h0m1 0h0m2 0h0m1 0h0m1 0h0m1 0h0m2 0h0m-9 1h0m1 0h0m2 0h0m2 0h0m1 0h0m1 0h0m1 0h0m1 0h0m1 0h0m2 0h0m-11 1h0m1 0h0m1 0h0m1 0h0m2 0h0m1 0h0m2 0h0m1 0h0m2 0h0m1 0h0m1 0h0m2 0h0m1 0h0m-16 1h0m2 0h0m1 0h0m1 0h0m1 0h0m1 0h0m1 0h0m1 0h0m3 0h0m-12 1h0m1 0h0m1 0h0m1 0h0m3 0h0m2 0h0m1 0h0m2 0h0m1 0h0m-11 1h0m3 0h0m3 0h0m3 0h0m1 0h0m-11 1h0m1 0h0m1 0h0m2 0h0m1 0h0m1 0h0m1 0h0m1 0h0m2 0h0m1 0h0m1 0h0m3 0h0m-14 1h0m1 0h0m1 0h0m1 0h0m1 0h0m2 0h0m1 0h0m3 0h0m-11 1h0m1 0h0m1 0h0m1 0h0m2 0h0m1 0h0m3 0h0m2 0h0m-10 1h0m1 0h0m1 0h0m2 0h0m1 0h0m1 0h0m3 0h0m1 0h0m-11 1h0m1 0h0m1 0h0m3 0h0m1 0h0m1 0h0m2 0h0m2 0h0m-11 1h0m1 0h0m1 0h0m1 0h0m1 0h0m1 0h0m1 0h0m2 0h0m1 0h0m-8 1h0m1 0h0m1 0h0m1 0h0m1 0h0m3 0h0m1 0h0m3 0h0m-12 1h0m1 0h0m1 0h0m3 0h0m2 0h0m1 0h0m2 0h0m1 0h0m-10 1h0m1 0h0m1 0h0m3 0h0m1 0h0m1 0h0m3 0h0m-11 1h0m6 0h0m3 0h0m-9 1h0m1 0h0m1 0h0m1 0h0m1 0h0m2 0h0m1 0h0m1 0h0m-8 1h0m2 0h0m1 0h0m3 0h0m3 0h0m-9 1h0m2 0h0m1 0h0m1 0h0m1 0h0m1 0h0m1 0h0m1 0h0m-8 1h0m2 0h0m1 0h0m2 0h0m1 0h0m4 0h0m-10 1h0m1 0h0m1 0h0m1 0h0m2 0h0m1 0h0m1 0h0m2 0h0m4 0h0m-12 1h0m1 0h0m1 0h0m1 0h0m3 0h0m-6 1h0m1 0h0m1 0h0m1 0h0m1 0h0m2 0h0m3 0h0m-10 1h0m1 0h0m1 0h0m1 0h0m1 0h0m1 0h0m1 0h0m2 0h0m-8 1h0m1 0h0m1 0h0m1 0h0m1 0h0m1 0h0m-5 1h0m1 0h0m2 0h0m1 0h0m1 0h0m-5 1h0m1 0h0m2 0h0m2 0h0m3 0h0m-8 1h0m1 0h0m1 0h0m1 0h0m1 0h0m2 0h0m-5 1h0m2 0h0m4 0h0m-7 1h0m1 0h0m1 0h0m2 0h0m1 0h0m1 0h0m3 0h0m5 0h0m-13 1h0m1 0h0m1 0h0m1 0h0m1 0h0m1 0h0m1 0h0m-7 1h0m1 0h0m1 0h0m1 0h0m-3 1h0m1 0h0m1 0h0m1 0h0m1 0h0m2 0h0m-5 1h0m1 0h0m1 0h0m1 0h0m-4 1h0m3 0h0m7 0h0m-11 1h0m2 0h0m2 0h0m1 0h0m1 0h0m1 0h0m-6 1h0m1 0h0m1 0h0m1 0h0m-3 1h0m2 0h0m1 0h0m1 0h0m1 0h0m-5 1h0m1 0h0m1 0h0m-1 1h0m1 0h0m1 0h0m1 0h0m1 0h0m1 0h0m-6 1h0m1 0h0m1 0h0m2 0h0m-3 1h0m2 0h0m1 0h0m-4 1h0m2 0h0m3 0h0m-6 1h0m1 0h0m1 0h0m1 0h0m2 0h0m1 0h0m-4 1h0m3 0h0m1 0h0m-5 1h0m1 0h0m1 0h0m1 0h0m2 0h0m-4 1h0m3 0h0m-1 1h0m1 0h0m-3 1h0m-1 1h0m1 0h0m1 0h0m1 0h0m-1 1h0m2 0h0m-4 1h0m2 0h0m2 0h0m-3 1h0m1 0h0m1 0h0m-3 1h0m1 0h0m0 1h0m1 0h0m-2 1h0m1 0h0m1 0h0m1 0h0m-3 1h0m1 0h0m-1 1h0m2 0h0m-2 1h0m2 0h0m-1 1h0m1 0h0m-1 1h0" stroke="#ff00ff" stroke-width="2" stroke-linecap="square" fill="none"/><rect x="603.6" y="801.4" width="24.6" height="17.2" fill="#fff" stroke="#333" stroke-width="1"/><text x="615.9" y="815" class="lg" text-anchor="middle">DIL</text><text x="519.7" y="837.8" class="tk" text-anchor="middle">0</text><text x="545.6" y="837.8" class="tk" text-anchor="middle">20</text><text x="571.5" y="837.8" class="tk" text-anchor="middle">40</text><text x="597.4" y="837.8" class="tk" text-anchor="middle">60</text><text x="623.9" y="837.8" class="tk" text-anchor="middle">80</text><path d="M519.7 827.9v-2" class="tm"/><path d="M545.6 827.9v-2" class="tm"/><path d="M571.5 827.9v-2" class="tm"/><path d="M597.4 827.9v-2" class="tm"/><path d="M623.9 827.9v-2" class="tm"/><path d="M532.7 827.9v-2" class="tm"/><path d="M558.6 827.9v-2" class="tm"/><path d="M584.5 827.9v-2" class="tm"/><path d="M610.6 827.9v-2" class="tm"/><path d="M732 732h0m19 0h0m-22 1h0m2 0h0m1 0h0m1 0h0m1 0h0m1 0h0m2 0h0m-14 1h0m5 0h0m4 0h0m-14 1h0m3 0h0m2 0h0m8 0h0m-29 1h0m11 0h0m3 0h0m6 0h0m-18 1h0m1 0h0m9 0h0m-15 1h0m6 0h0m1 0h0m-12 1h0m4 0h0m2 0h0m2 0h0m1 0h0m3 0h0m1 0h0m3 0h0m-19 1h0m5 0h0m2 0h0m3 0h0m1 0h0m4 0h0m2 0h0m-21 1h0m2 0h0m2 0h0m1 0h0m2 0h0m2 0h0m2 0h0m1 0h0m2 0h0m2 0h0m2 0h0m-20 1h0m2 0h0m1 0h0m7 0h0m1 0h0m-12 1h0m2 0h0m1 0h0m1 0h0m1 0h0m1 0h0m5 0h0m4 0h0m1 0h0m4 0h0m-24 1h0m1 0h0m2 0h0m1 0h0m2 0h0m2 0h0m1 0h0m3 0h0m2 0h0m4 0h0m-19 1h0m1 0h0m4 0h0m1 0h0m1 0h0m2 0h0m4 0h0m2 0h0m2 0h0m-20 1h0m3 0h0m3 0h0m1 0h0m2 0h0m2 0h0m1 0h0m2 0h0m1 0h0m2 0h0m-17 1h0m1 0h0m1 0h0m1 0h0m1 0h0m2 0h0m1 0h0m2 0h0m1 0h0m1 0h0m1 0h0m3 0h0m2 0h0m1 0h0m1 0h0m-18 1h0m1 0h0m2 0h0m1 0h0m1 0h0m1 0h0m2 0h0m2 0h0m1 0h0m1 0h0m3 0h0m-19 1h0m4 0h0m1 0h0m3 0h0m1 0h0m4 0h0m2 0h0m1 0h0m2 0h0m-19 1h0m2 0h0m2 0h0m3 0h0m1 0h0m2 0h0m2 0h0m1 0h0m1 0h0m1 0h0m1 0h0m-17 1h0m1 0h0m1 0h0m1 0h0m2 0h0m1 0h0m3 0h0m2 0h0m1 0h0m2 0h0m4 0h0m1 0h0m-21 1h0m4 0h0m1 0h0m1 0h0m1 0h0m4 0h0m1 0h0m1 0h0m1 0h0m2 0h0m1 0h0m-15 1h0m1 0h0m2 0h0m1 0h0m1 0h0m1 0h0m2 0h0m4 0h0m2 0h0m3 0h0m-19 1h0m1 0h0m1 0h0m1 0h0m1 0h0m1 0h0m1 0h0m1 0h0m1 0h0m1 0h0m1 0h0m1 0h0m1 0h0m1 0h0m1 0h0m1 0h0m1 0h0m-19 1h0m4 0h0m1 0h0m2 0h0m1 0h0m2 0h0m1 0h0m1 0h0m1 0h0m1 0h0m1 0h0m1 0h0m1 0h0m1 0h0m1 0h0m-18 1h0m2 0h0m1 0h0m2 0h0m2 0h0m1 0h0m1 0h0m1 0h0m3 0h0m1 0h0m2 0h0m1 0h0m-16 1h0m2 0h0m1 0h0m1 0h0m1 0h0m1 0h0m1 0h0m5 0h0m1 0h0m1 0h0m1 0h0m-21 1h0m3 0h0m2 0h0m1 0h0m1 0h0m2 0h0m1 0h0m1 0h0m2 0h0m1 0h0m1 0h0m2 0h0m3 0h0m-19 1h0m1 0h0m3 0h0m1 0h0m1 0h0m1 0h0m1 0h0m6 0h0m3 0h0m-17 1h0m1 0h0m5 0h0m1 0h0m4 0h0m2 0h0m1 0h0m1 0h0m2 0h0m-19 1h0m1 0h0m1 0h0m1 0h0m2 0h0m1 0h0m1 0h0m2 0h0m1 0h0m1 0h0m1 0h0m1 0h0m2 0h0m-14 1h0m1 0h0m1 0h0m2 0h0m2 0h0m1 0h0m2 0h0m3 0h0m1 0h0m1 0h0m1 0h0m1 0h0m1 0h0m-18 1h0m1 0h0m1 0h0m1 0h0m1 0h0m1 0h0m4 0h0m2 0h0m2 0h0m1 0h0m1 0h0m1 0h0m-18 1h0m3 0h0m1 0h0m2 0h0m1 0h0m1 0h0m1 0h0m2 0h0m2 0h0m2 0h0m1 0h0m2 0h0m-18 1h0m1 0h0m1 0h0m1 0h0m2 0h0m1 0h0m2 0h0m2 0h0m2 0h0m2 0h0m1 0h0m2 0h0m-19 1h0m1 0h0m1 0h0m1 0h0m1 0h0m2 0h0m3 0h0m1 0h0m2 0h0m3 0h0m1 0h0m1 0h0m2 0h0m-18 1h0m1 0h0m3 0h0m1 0h0m1 0h0m1 0h0m2 0h0m1 0h0m1 0h0m1 0h0m1 0h0m1 0h0m1 0h0m1 0h0m-17 1h0m1 0h0m1 0h0m2 0h0m3 0h0m2 0h0m2 0h0m1 0h0m1 0h0m2 0h0m1 0h0m-16 1h0m1 0h0m1 0h0m1 0h0m1 0h0m1 0h0m1 0h0m1 0h0m1 0h0m1 0h0m1 0h0m2 0h0m1 0h0m1 0h0m-14 1h0m1 0h0m1 0h0m1 0h0m1 0h0m1 0h0m1 0h0m2 0h0m1 0h0m1 0h0m2 0h0m1 0h0m1 0h0m-15 1h0m1 0h0m1 0h0m2 0h0m1 0h0m1 0h0m1 0h0m1 0h0m3 0h0m2 0h0m1 0h0m1 0h0m-16 1h0m1 0h0m1 0h0m1 0h0m1 0h0m1 0h0m2 0h0m2 0h0m3 0h0m1 0h0m1 0h0m1 0h0m1 0h0m-16 1h0m1 0h0m1 0h0m1 0h0m1 0h0m1 0h0m1 0h0m1 0h0m1 0h0m1 0h0m1 0h0m1 0h0m1 0h0m2 0h0m1 0h0m1 0h0m-17 1h0m1 0h0m2 0h0m1 0h0m1 0h0m3 0h0m1 0h0m1 0h0m1 0h0m1 0h0m1 0h0m1 0h0m1 0h0m1 0h0m-16 1h0m1 0h0m2 0h0m1 0h0m1 0h0m1 0h0m1 0h0m2 0h0m1 0h0m1 0h0m1 0h0m1 0h0m1 0h0m1 0h0m1 0h0m-16 1h0m1 0h0m1 0h0m1 0h0m1 0h0m1 0h0m4 0h0m1 0h0m1 0h0m1 0h0m1 0h0m1 0h0m-16 1h0m1 0h0m1 0h0m2 0h0m1 0h0m1 0h0m1 0h0m1 0h0m1 0h0m1 0h0m1 0h0m1 0h0m1 0h0m1 0h0m1 0h0m2 0h0m-17 1h0m1 0h0m2 0h0m1 0h0m1 0h0m1 0h0m1 0h0m1 0h0m3 0h0m2 0h0m1 0h0m2 0h0m-15 1h0m2 0h0m1 0h0m1 0h0m1 0h0m1 0h0m1 0h0m2 0h0m1 0h0m2 0h0m2 0h0m-15 1h0m1 0h0m1 0h0m2 0h0m1 0h0m1 0h0m2 0h0m2 0h0m2 0h0m2 0h0m-13 1h0m1 0h0m1 0h0m2 0h0m1 0h0m1 0h0m1 0h0m2 0h0m1 0h0m-10 1h0m1 0h0m1 0h0m1 0h0m1 0h0m1 0h0m1 0h0m1 0h0m1 0h0m1 0h0m1 0h0m1 0h0m-12 1h0m1 0h0m1 0h0m1 0h0m1 0h0m2 0h0m1 0h0m1 0h0m1 0h0m1 0h0m1 0h0m1 0h0m-13 1h0m1 0h0m2 0h0m1 0h0m2 0h0m1 0h0m2 0h0m1 0h0m3 0h0m-14 1h0m2 0h0m1 0h0m1 0h0m1 0h0m1 0h0m1 0h0m1 0h0m1 0h0m3 0h0m2 0h0m-13 1h0m1 0h0m1 0h0m2 0h0m1 0h0m1 0h0m1 0h0m1 0h0m1 0h0m1 0h0m1 0h0m1 0h0m-13 1h0m1 0h0m1 0h0m2 0h0m1 0h0m1 0h0m1 0h0m1 0h0m2 0h0m2 0h0m-11 1h0m1 0h0m5 0h0m1 0h0m2 0h0m1 0h0m1 0h0m1 0h0m-13 1h0m1 0h0m1 0h0m1 0h0m1 0h0m1 0h0m1 0h0m1 0h0m1 0h0m1 0h0m2 0h0m1 0h0m-12 1h0m2 0h0m1 0h0m1 0h0m1 0h0m1 0h0m1 0h0m1 0h0m1 0h0m1 0h0m1 0h0m-11 1h0m2 0h0m1 0h0m1 0h0m1 0h0m1 0h0m1 0h0m1 0h0m1 0h0m1 0h0m-10 1h0m2 0h0m1 0h0m1 0h0m1 0h0m1 0h0m1 0h0m2 0h0m1 0h0m-11 1h0m2 0h0m1 0h0m1 0h0m1 0h0m2 0h0m1 0h0m2 0h0m2 0h0m-10 1h0m1 0h0m1 0h0m2 0h0m1 0h0m2 0h0m1 0h0m-8 1h0m2 0h0m1 0h0m1 0h0m2 0h0m1 0h0m1 0h0m-10 1h0m1 0h0m1 0h0m2 0h0m2 0h0m1 0h0m1 0h0m2 0h0m-11 1h0m1 0h0m1 0h0m2 0h0m1 0h0m1 0h0m1 0h0m1 0h0m1 0h0m1 0h0m1 0h0m-11 1h0m1 0h0m1 0h0m1 0h0m2 0h0m1 0h0m1 0h0m1 0h0m1 0h0m-9 1h0m1 0h0m1 0h0m2 0h0m1 0h0m1 0h0m1 0h0m1 0h0m1 0h0m-8 1h0m1 0h0m1 0h0m1 0h0m1 0h0m1 0h0m1 0h0m1 0h0m1 0h0m-10 1h0m2 0h0m3 0h0m2 0h0m1 0h0m1 0h0m1 0h0m-9 1h0m1 0h0m1 0h0m1 0h0m2 0h0m1 0h0m1 0h0m-6 1h0m2 0h0m1 0h0m1 0h0m1 0h0m1 0h0m-7 1h0m1 0h0m1 0h0m1 0h0m1 0h0m1 0h0m2 0h0m-7 1h0m1 0h0m1 0h0m1 0h0m1 0h0m-4 1h0m1 0h0m1 0h0m1 0h0m1 0h0m2 0h0m-7 1h0m1 0h0m1 0h0m1 0h0m1 0h0m1 0h0m1 0h0m1 0h0m1 0h0m-8 1h0m1 0h0m1 0h0m1 0h0m2 0h0m1 0h0m-6 1h0m3 0h0m1 0h0m1 0h0m1 0h0m1 0h0m-8 1h0m1 0h0m2 0h0m1 0h0m1 0h0m2 0h0m-6 1h0m1 0h0m1 0h0m1 0h0m1 0h0m1 0h0m-6 1h0m1 0h0m2 0h0m1 0h0m1 0h0m1 0h0m-6 1h0m1 0h0m1 0h0m1 0h0m2 0h0m-5 1h0m1 0h0m1 0h0m1 0h0m1 0h0m1 0h0m-6 1h0m1 0h0m1 0h0m1 0h0m1 0h0m-4 1h0m1 0h0m1 0h0m1 0h0m1 0h0m1 0h0m-4 1h0m1 0h0m1 0h0m-3 1h0m1 0h0m1 0h0m1 0h0m-3 1h0m1 0h0m1 0h0m2 0h0m-5 1h0m1 0h0m1 0h0m1 0h0m1 0h0m-3 1h0m1 0h0m1 0h0m-3 1h0m1 0h0m1 0h0m1 0h0" stroke="#008080" stroke-width="2" stroke-linecap="square" fill="none"/><rect x="712.8" y="802.6" width="42.2" height="17.3" fill="#fff" stroke="#333" stroke-width="1"/><text x="733.9" y="816.3" class="lg" text-anchor="middle">LENC</text><text x="644.4" y="837.8" class="tk" text-anchor="middle">0</text><text x="661.7" y="837.8" class="tk" text-anchor="middle">1</text><text x="677.8" y="837.8" class="tk" text-anchor="middle">2</text><text x="693.8" y="837.8" class="tk" text-anchor="middle">3</text><text x="710.1" y="837.8" class="tk" text-anchor="middle">4</text><text x="726.6" y="837.8" class="tk" text-anchor="middle">5</text><text x="743.1" y="837.8" class="tk" text-anchor="middle">6</text><text x="759.5" y="837.8" class="tk" text-anchor="middle">7</text><path d="M644.4 827.9v-2" class="tm"/><path d="M661.7 827.9v-2" class="tm"/><path d="M677.8 827.9v-2" class="tm"/><path d="M693.8 827.9v-2" class="tm"/><path d="M710.1 827.9v-2" class="tm"/><path d="M726.6 827.9v-2" class="tm"/><path d="M743.1 827.9v-2" class="tm"/><path d="M759.5 827.9v-2" class="tm"/><path d="M653.1 827.9v-2" class="tm"/><path d="M669.7 827.9v-2" class="tm"/><path d="M685.8 827.9v-2" class="tm"/><path d="M701.9 827.9v-2" class="tm"/><path d="M718.4 827.9v-2" class="tm"/><path d="M734.8 827.9v-2" class="tm"/><path d="M751.3 827.9v-2" class="tm"/><rect x="21.4" y="725.1" width="739.1" height="102.8" class="fr"/><path d="M144.6 725.1V827.9" class="fr"/><path d="M267.8 725.1V827.9" class="fr"/><path d="M390.9 725.1V827.9" class="fr"/><path d="M514.1 725.1V827.9" class="fr"/><path d="M637.3 725.1V827.9" class="fr"/><text x="19.6" y="733.1" class="tk" text-anchor="end">180</text><path d="M21.4 729.3h2" class="tm"/><text x="19.6" y="748.6" class="tk" text-anchor="end">150</text><path d="M21.4 744.8h2" class="tm"/><text x="19.6" y="764.1" class="tk" text-anchor="end">120</text><path d="M21.4 760.3h2" class="tm"/><text x="19.6" y="779.5" class="tk" text-anchor="end">90</text><path d="M21.4 775.7h2" class="tm"/><text x="19.6" y="795" class="tk" text-anchor="end">60</text><path d="M21.4 791.2h2" class="tm"/><text x="19.6" y="810.4" class="tk" text-anchor="end">30</text><path d="M21.4 806.6h2" class="tm"/><text x="19.6" y="825.9" class="tk" text-anchor="end">0</text><path d="M21.4 822.1h2" class="tm"/><text x="390.3" y="881.2" class="cap" text-anchor="middle">(e) Ca-astroph</text></g>
<g><polygon points="50,1003.5 61.7,998.5 72.2,992.7 76.9,986.8 79.8,981 81.6,975.1 83.9,969.3 86.2,963.4 88.6,957.6 90.9,951.8 93.2,945.9 95.6,940.1 99.1,934.2 103.8,928.4 107.3,922.5 109.6,919 116.6,916.7 120.1,915.8 140,915.8 129.5,916.7 120.1,919 117.8,922.5 115.5,928.4 113.1,934.2 111.4,940.1 109.6,945.9 108.4,951.8 107.3,957.6 105.5,963.4 103.8,969.3 102,975.1 100.3,981 99.1,986.8 95.6,992.7 92.1,998.5 88.6,1003.5" fill="#00ff00"/><path d="M127 915h0m-3 1h0m1 0h0m3 0h0m1 0h0m2 0h0m-10 1h0m1 0h0m1 0h0m1 0h0m6 0h0m-20 1h0m4 0h0m1 0h0m3 0h0m1 0h0m1 0h0m3 0h0m-11 1h0m2 0h0m1 0h0m2 0h0m2 0h0m-5 1h0m1 0h0m2 0h0m1 0h0m2 0h0m-9 1h0m1 0h0m1 0h0m1 0h0m1 0h0m1 0h0m1 0h0m-8 1h0m1 0h0m1 0h0m1 0h0m2 0h0m2 0h0m-7 1h0m1 0h0m1 0h0m1 0h0m1 0h0m2 0h0m-7 1h0m2 0h0m1 0h0m1 0h0m1 0h0m2 0h0m2 0h0m-10 1h0m1 0h0m1 0h0m3 0h0m2 0h0m-8 1h0m1 0h0m1 0h0m2 0h0m1 0h0m1 0h0m1 0h0m1 0h0m-7 1h0m1 0h0m1 0h0m2 0h0m2 0h0m-8 1h0m1 0h0m1 0h0m1 0h0m1 0h0m1 0h0m1 0h0m3 0h0m-12 1h0m4 0h0m1 0h0m1 0h0m1 0h0m1 0h0m1 0h0m1 0h0m2 0h0m-8 1h0m1 0h0m1 0h0m1 0h0m1 0h0m1 0h0m2 0h0m1 0h0m-9 1h0m1 0h0m1 0h0m1 0h0m1 0h0m1 0h0m1 0h0m-11 1h0m4 0h0m1 0h0m1 0h0m1 0h0m2 0h0m1 0h0m2 0h0m1 0h0m-11 1h0m3 0h0m1 0h0m1 0h0m1 0h0m1 0h0m1 0h0m1 0h0m-10 1h0m2 0h0m2 0h0m2 0h0m-10 1h0m1 0h0m1 0h0m1 0h0m3 0h0m1 0h0m1 0h0m1 0h0m1 0h0m1 0h0m1 0h0m-9 1h0m1 0h0m1 0h0m1 0h0m1 0h0m2 0h0m1 0h0m1 0h0m2 0h0m-13 1h0m4 0h0m3 0h0m1 0h0m1 0h0m1 0h0m2 0h0m1 0h0m1 0h0m-11 1h0m2 0h0m1 0h0m1 0h0m1 0h0m3 0h0m-10 1h0m1 0h0m3 0h0m1 0h0m1 0h0m1 0h0m4 0h0m1 0h0m-14 1h0m1 0h0m1 0h0m1 0h0m2 0h0m1 0h0m1 0h0m1 0h0m1 0h0m1 0h0m1 0h0m3 0h0m-17 1h0m3 0h0m2 0h0m1 0h0m1 0h0m2 0h0m1 0h0m1 0h0m1 0h0m1 0h0m1 0h0m1 0h0m2 0h0m-15 1h0m3 0h0m1 0h0m1 0h0m1 0h0m1 0h0m1 0h0m1 0h0m2 0h0m2 0h0m1 0h0m-13 1h0m1 0h0m1 0h0m1 0h0m2 0h0m1 0h0m1 0h0m3 0h0m1 0h0m2 0h0m-15 1h0m2 0h0m1 0h0m2 0h0m2 0h0m2 0h0m2 0h0m1 0h0m1 0h0m1 0h0m-10 1h0m1 0h0m1 0h0m1 0h0m1 0h0m2 0h0m1 0h0m-10 1h0m3 0h0m1 0h0m1 0h0m2 0h0m1 0h0m1 0h0m3 0h0m-14 1h0m2 0h0m2 0h0m3 0h0m1 0h0m1 0h0m2 0h0m1 0h0m2 0h0m-15 1h0m2 0h0m3 0h0m2 0h0m1 0h0m1 0h0m1 0h0m1 0h0m1 0h0m1 0h0m3 0h0m-18 1h0m3 0h0m1 0h0m1 0h0m3 0h0m1 0h0m1 0h0m1 0h0m1 0h0m2 0h0m1 0h0m2 0h0m2 0h0m-18 1h0m3 0h0m2 0h0m1 0h0m2 0h0m2 0h0m1 0h0m1 0h0m1 0h0m1 0h0m-12 1h0m4 0h0m1 0h0m1 0h0m1 0h0m1 0h0m2 0h0m2 0h0m1 0h0m-15 1h0m3 0h0m2 0h0m1 0h0m1 0h0m1 0h0m2 0h0m1 0h0m2 0h0m2 0h0m2 0h0m-19 1h0m6 0h0m2 0h0m1 0h0m1 0h0m2 0h0m1 0h0m3 0h0m-12 1h0m2 0h0m2 0h0m2 0h0m1 0h0m1 0h0m2 0h0m-11 1h0m2 0h0m2 0h0m1 0h0m1 0h0m1 0h0m2 0h0m1 0h0m1 0h0m4 0h0m-14 1h0m1 0h0m2 0h0m2 0h0m3 0h0m-14 1h0m3 0h0m3 0h0m1 0h0m1 0h0m1 0h0m1 0h0m3 0h0m3 0h0m-17 1h0m1 0h0m3 0h0m1 0h0m5 0h0m1 0h0m1 0h0m1 0h0m2 0h0m1 0h0m-12 1h0m3 0h0m2 0h0m1 0h0m1 0h0m1 0h0m3 0h0m3 0h0m1 0h0m-12 1h0m1 0h0m1 0h0m1 0h0m1 0h0m1 0h0m4 0h0m1 0h0m1 0h0m-18 1h0m4 0h0m1 0h0m1 0h0m2 0h0m1 0h0m1 0h0m1 0h0m1 0h0m2 0h0m1 0h0m4 0h0m1 0h0m-20 1h0m3 0h0m2 0h0m2 0h0m1 0h0m1 0h0m1 0h0m1 0h0m1 0h0m2 0h0m1 0h0m1 0h0m-10 1h0m2 0h0m1 0h0m1 0h0m1 0h0m2 0h0m2 0h0m-13 1h0m1 0h0m2 0h0m1 0h0m1 0h0m1 0h0m1 0h0m1 0h0m4 0h0m-15 1h0m7 0h0m1 0h0m2 0h0m1 0h0m1 0h0m1 0h0m2 0h0m2 0h0m-15 1h0m4 0h0m1 0h0m1 0h0m1 0h0m2 0h0m1 0h0m1 0h0m1 0h0m4 0h0m-17 1h0m4 0h0m3 0h0m1 0h0m1 0h0m1 0h0m-11 1h0m4 0h0m3 0h0m2 0h0m1 0h0m1 0h0m1 0h0m1 0h0m1 0h0m-11 1h0m1 0h0m2 0h0m1 0h0m2 0h0m1 0h0m1 0h0m1 0h0m1 0h0m2 0h0m2 0h0m-21 1h0m8 0h0m1 0h0m1 0h0m2 0h0m1 0h0m1 0h0m2 0h0m1 0h0m3 0h0m-17 1h0m1 0h0m3 0h0m2 0h0m2 0h0m1 0h0m1 0h0m1 0h0m1 0h0m1 0h0m3 0h0m-20 1h0m3 0h0m2 0h0m3 0h0m2 0h0m1 0h0m1 0h0m1 0h0m2 0h0m1 0h0m3 0h0m1 0h0m2 0h0m-20 1h0m4 0h0m2 0h0m1 0h0m3 0h0m2 0h0m2 0h0m5 0h0m-18 1h0m3 0h0m1 0h0m2 0h0m2 0h0m2 0h0m1 0h0m1 0h0m2 0h0m1 0h0m1 0h0m3 0h0m-19 1h0m4 0h0m1 0h0m2 0h0m1 0h0m1 0h0m1 0h0m3 0h0m1 0h0m1 0h0m1 0h0m-14 1h0m1 0h0m1 0h0m3 0h0m1 0h0m1 0h0m4 0h0m1 0h0m1 0h0m-18 1h0m5 0h0m2 0h0m1 0h0m1 0h0m1 0h0m1 0h0m1 0h0m1 0h0m1 0h0m3 0h0m1 0h0m2 0h0m-15 1h0m1 0h0m1 0h0m1 0h0m1 0h0m1 0h0m1 0h0m1 0h0m1 0h0m-15 1h0m6 0h0m2 0h0m1 0h0m4 0h0m1 0h0m2 0h0m1 0h0m3 0h0m1 0h0m-18 1h0m6 0h0m2 0h0m2 0h0m1 0h0m2 0h0m1 0h0m1 0h0m-17 1h0m6 0h0m1 0h0m1 0h0m1 0h0m2 0h0m2 0h0m2 0h0m1 0h0m1 0h0m2 0h0m-22 1h0m11 0h0m1 0h0m1 0h0m1 0h0m1 0h0m1 0h0m1 0h0m1 0h0m2 0h0m-20 1h0m1 0h0m1 0h0m2 0h0m2 0h0m2 0h0m1 0h0m2 0h0m1 0h0m1 0h0m1 0h0m1 0h0m1 0h0m1 0h0m2 0h0m1 0h0m2 0h0m-24 1h0m3 0h0m5 0h0m2 0h0m1 0h0m1 0h0m1 0h0m1 0h0m2 0h0m1 0h0m1 0h0m3 0h0m-21 1h0m2 0h0m1 0h0m1 0h0m4 0h0m1 0h0m1 0h0m2 0h0m1 0h0m1 0h0m1 0h0m1 0h0m1 0h0m2 0h0m1 0h0m-19 1h0m1 0h0m3 0h0m1 0h0m2 0h0m2 0h0m1 0h0m1 0h0m1 0h0m1 0h0m1 0h0m1 0h0m1 0h0m1 0h0m1 0h0m1 0h0m1 0h0m2 0h0m-21 1h0m3 0h0m3 0h0m1 0h0m2 0h0m3 0h0m1 0h0m1 0h0m1 0h0m1 0h0m1 0h0m1 0h0m-17 1h0m3 0h0m2 0h0m3 0h0m1 0h0m1 0h0m1 0h0m3 0h0m2 0h0m1 0h0m1 0h0m-17 1h0m4 0h0m1 0h0m1 0h0m1 0h0m1 0h0m1 0h0m1 0h0m1 0h0m4 0h0m-14 1h0m3 0h0m3 0h0m1 0h0m2 0h0m1 0h0m2 0h0m4 0h0m-16 1h0m1 0h0m1 0h0m1 0h0m1 0h0m1 0h0m1 0h0m1 0h0m1 0h0m1 0h0m1 0h0m1 0h0m1 0h0m-14 1h0m1 0h0m2 0h0m3 0h0m2 0h0m1 0h0m3 0h0m1 0h0m2 0h0m1 0h0m-13 1h0m1 0h0m2 0h0m3 0h0m1 0h0m2 0h0m1 0h0m1 0h0m-20 1h0m4 0h0m1 0h0m1 0h0m1 0h0m1 0h0m2 0h0m1 0h0m1 0h0m1 0h0m1 0h0m1 0h0m1 0h0m1 0h0m1 0h0m1 0h0m-16 1h0m1 0h0m2 0h0m1 0h0m1 0h0m2 0h0m2 0h0m3 0h0m2 0h0m1 0h0m1 0h0m1 0h0m-20 1h0m1 0h0m1 0h0m3 0h0m1 0h0m1 0h0m1 0h0m1 0h0m1 0h0m1 0h0m1 0h0m1 0h0m1 0h0m1 0h0m1 0h0m-21 1h0m3 0h0m1 0h0m1 0h0m2 0h0m1 0h0m4 0h0m1 0h0m1 0h0m1 0h0m1 0h0m1 0h0m4 0h0m1 0h0m1 0h0m2 0h0m-28 1h0m3 0h0m3 0h0m1 0h0m2 0h0m1 0h0m1 0h0m1 0h0m1 0h0m1 0h0m1 0h0m1 0h0m2 0h0m2 0h0m1 0h0m3 0h0m1 0h0m-25 1h0m2 0h0m3 0h0m1 0h0m1 0h0m1 0h0m2 0h0m2 0h0m2 0h0m1 0h0m1 0h0m3 0h0m4 0h0m1 0h0m1 0h0m1 0h0m1 0h0m-22 1h0m1 0h0m1 0h0m1 0h0m1 0h0m2 0h0m1 0h0m2 0h0m3 0h0m1 0h0m1 0h0m3 0h0m5 0h0m-32 1h0m3 0h0m2 0h0m2 0h0m2 0h0m1 0h0m1 0h0m1 0h0m2 0h0m1 0h0m1 0h0m1 0h0m1 0h0m1 0h0m3 0h0m1 0h0m2 0h0m1 0h0m1 0h0m-24 1h0m2 0h0m1 0h0m1 0h0m1 0h0m1 0h0m2 0h0m1 0h0m1 0h0m1 0h0m1 0h0m3 0h0m1 0h0m2 0h0m4 0h0m1 0h0m1 0h0m2 0h0m-55 1h0m2 0h0m1 0h0m1 0h0m1 0h0m2 0h0m2 0h0m1 0h0m6 0h0m1 0h0m1 0h0m1 0h0m3 0h0m1 0h0m1 0h0m1 0h0m1 0h0m1 0h0m1 0h0m2 0h0m2 0h0m1 0h0m2 0h0m2 0h0m1 0h0m1 0h0m4 0h0m1 0h0m2 0h0m1 0h0m1 0h0m6 0h0m-59 1h0m5 0h0m3 0h0m1 0h0m1 0h0m1 0h0m1 0h0m1 0h0m3 0h0m1 0h0m1 0h0m2 0h0m3 0h0m1 0h0m1 0h0m2 0h0m1 0h0m2 0h0m3 0h0m1 0h0m2 0h0m3 0h0m1 0h0m1 0h0m2 0h0m14 0h0m-30 1h0" stroke="#00ff00" stroke-width="2" stroke-linecap="square" fill="none"/><rect x="116.3" y="984.1" width="23.3" height="16.8" fill="#fff" stroke="#333" stroke-width="1"/><text x="127.9" y="997.3" class="lg" text-anchor="middle">CC</text><text x="35.1" y="1019.1" class="tk" text-anchor="middle">16</text><text x="53.3" y="1019.1" class="tk" text-anchor="middle">20</text><text x="71.9" y="1019.1" class="tk" text-anchor="middle">24</text><text x="89.9" y="1019.1" class="tk" text-anchor="middle">28</text><text x="108.2" y="1019.1" class="tk" text-anchor="middle">32</text><text x="126.7" y="1019.1" class="tk" text-anchor="middle">36</text><path d="M35.1 1009.2v-2" class="tm"/><path d="M53.3 1009.2v-2" class="tm"/><path d="M71.9 1009.2v-2" class="tm"/><path d="M89.9 1009.2v-2" class="tm"/><path d="M108.2 1009.2v-2" class="tm"/><path d="M126.7 1009.2v-2" class="tm"/><path d="M44.2 1009.2v-2" class="tm"/><path d="M62.6 1009.2v-2" class="tm"/><path d="M80.9 1009.2v-2" class="tm"/><path d="M99 1009.2v-2" class="tm"/><path d="M117.4 1009.2v-2" class="tm"/><path d="M199 917h0m-14 1h0m57 0h0m12 0h0m-90 1h0m31 0h0m7 0h0m11 0h0m1 0h0m7 0h0m26 0h0m-85 1h0m1 0h0m4 0h0m2 0h0m1 0h0m3 0h0m2 0h0m7 0h0m3 0h0m13 0h0m13 0h0m1 0h0m1 0h0m1 0h0m23 0h0m-76 1h0m2 0h0m1 0h0m9 0h0m1 0h0m5 0h0m2 0h0m2 0h0m2 0h0m6 0h0m11 0h0m2 0h0m22 0h0m6 0h0m-71 1h0m2 0h0m3 0h0m1 0h0m1 0h0m2 0h0m2 0h0m3 0h0m2 0h0m5 0h0m17 0h0m8 0h0m6 0h0m1 0h0m-52 1h0m1 0h0m3 0h0m6 0h0m4 0h0m2 0h0m6 0h0m11 0h0m18 0h0m12 0h0m-65 1h0m1 0h0m2 0h0m1 0h0m6 0h0m3 0h0m1 0h0m1 0h0m1 0h0m20 0h0m6 0h0m2 0h0m-45 1h0m1 0h0m1 0h0m1 0h0m1 0h0m2 0h0m4 0h0m3 0h0m1 0h0m2 0h0m14 0h0m-30 1h0m1 0h0m2 0h0m1 0h0m8 0h0m1 0h0m1 0h0m6 0h0m1 0h0m1 0h0m1 0h0m1 0h0m10 0h0m-34 1h0m1 0h0m1 0h0m3 0h0m4 0h0m1 0h0m3 0h0m5 0h0m1 0h0m2 0h0m1 0h0m8 0h0m11 0h0m6 0h0m-48 1h0m1 0h0m1 0h0m5 0h0m2 0h0m1 0h0m2 0h0m1 0h0m1 0h0m7 0h0m4 0h0m4 0h0m43 0h0m-72 1h0m1 0h0m1 0h0m1 0h0m1 0h0m1 0h0m5 0h0m3 0h0m1 0h0m2 0h0m11 0h0m4 0h0m6 0h0m1 0h0m15 0h0m-50 1h0m2 0h0m4 0h0m1 0h0m2 0h0m25 0h0m52 0h0m-89 1h0m1 0h0m2 0h0m5 0h0m4 0h0m3 0h0m3 0h0m19 0h0m7 0h0m-44 1h0m1 0h0m3 0h0m1 0h0m4 0h0m16 0h0m5 0h0m6 0h0m-36 1h0m2 0h0m1 0h0m4 0h0m2 0h0m14 0h0m2 0h0m3 0h0m5 0h0m6 0h0m5 0h0m-44 1h0m2 0h0m1 0h0m2 0h0m1 0h0m2 0h0m1 0h0m11 0h0m1 0h0m11 0h0m11 0h0m42 0h0m-87 1h0m2 0h0m1 0h0m7 0h0m1 0h0m1 0h0m2 0h0m4 0h0m1 0h0m1 0h0m2 0h0m9 0h0m4 0h0m-33 1h0m2 0h0m4 0h0m1 0h0m1 0h0m4 0h0m7 0h0m7 0h0m1 0h0m7 0h0m7 0h0m1 0h0m-41 1h0m1 0h0m1 0h0m1 0h0m3 0h0m3 0h0m5 0h0m17 0h0m-33 1h0m1 0h0m1 0h0m1 0h0m2 0h0m4 0h0m2 0h0m3 0h0m2 0h0m13 0h0m4 0h0m-33 1h0m2 0h0m1 0h0m1 0h0m2 0h0m1 0h0m1 0h0m1 0h0m2 0h0m2 0h0m1 0h0m8 0h0m-23 1h0m1 0h0m1 0h0m1 0h0m1 0h0m1 0h0m2 0h0m2 0h0m1 0h0m3 0h0m1 0h0m3 0h0m8 0h0m-24 1h0m1 0h0m1 0h0m1 0h0m1 0h0m3 0h0m1 0h0m1 0h0m4 0h0m15 0h0m7 0h0m3 0h0m19 0h0m-58 1h0m1 0h0m1 0h0m3 0h0m1 0h0m1 0h0m1 0h0m1 0h0m5 0h0m1 0h0m13 0h0m-26 1h0m2 0h0m1 0h0m2 0h0m2 0h0m1 0h0m21 0h0m4 0h0m-35 1h0m1 0h0m1 0h0m1 0h0m2 0h0m3 0h0m3 0h0m2 0h0m-13 1h0m1 0h0m1 0h0m1 0h0m1 0h0m2 0h0m1 0h0m1 0h0m8 0h0m5 0h0m-21 1h0m1 0h0m3 0h0m1 0h0m1 0h0m2 0h0m4 0h0m4 0h0m2 0h0m2 0h0m11 0h0m-31 1h0m1 0h0m2 0h0m1 0h0m1 0h0m3 0h0m5 0h0m2 0h0m8 0h0m-23 1h0m1 0h0m1 0h0m1 0h0m1 0h0m2 0h0m1 0h0m3 0h0m18 0h0m4 0h0m-33 1h0m1 0h0m1 0h0m1 0h0m1 0h0m2 0h0m1 0h0m2 0h0m9 0h0m1 0h0m2 0h0m1 0h0m9 0h0m12 0h0m-42 1h0m1 0h0m5 0h0m20 0h0m-26 1h0m1 0h0m1 0h0m3 0h0m25 0h0m33 0h0m-64 1h0m1 0h0m1 0h0m2 0h0m1 0h0m13 0h0m4 0h0m4 0h0m3 0h0m-29 1h0m1 0h0m1 0h0m2 0h0m2 0h0m3 0h0m2 0h0m-12 1h0m1 0h0m1 0h0m2 0h0m1 0h0m5 0h0m2 0h0m13 0h0m-23 1h0m1 0h0m1 0h0m1 0h0m1 0h0m1 0h0m2 0h0m1 0h0m3 0h0m2 0h0m6 0h0m6 0h0m38 0h0m-65 1h0m1 0h0m1 0h0m1 0h0m1 0h0m1 0h0m1 0h0m2 0h0m2 0h0m1 0h0m2 0h0m3 0h0m-16 1h0m1 0h0m1 0h0m1 0h0m2 0h0m1 0h0m1 0h0m4 0h0m7 0h0m5 0h0m11 0h0m-34 1h0m1 0h0m1 0h0m3 0h0m1 0h0m1 0h0m3 0h0m18 0h0m16 0h0m-43 1h0m1 0h0m1 0h0m2 0h0m1 0h0m2 0h0m1 0h0m-9 1h0m1 0h0m1 0h0m1 0h0m3 0h0m2 0h0m6 0h0m12 0h0m-25 1h0m1 0h0m1 0h0m2 0h0m2 0h0m3 0h0m1 0h0m1 0h0m-12 1h0m1 0h0m1 0h0m2 0h0m1 0h0m1 0h0m-6 1h0m1 0h0m1 0h0m1 0h0m2 0h0m1 0h0m1 0h0m1 0h0m14 0h0m5 0h0m-27 1h0m1 0h0m2 0h0m1 0h0m6 0h0m9 0h0m4 0h0m-23 1h0m1 0h0m1 0h0m1 0h0m5 0h0m2 0h0m2 0h0m12 0h0m11 0h0m6 0h0m-41 1h0m1 0h0m2 0h0m2 0h0m1 0h0m1 0h0m1 0h0m17 0h0m-25 1h0m1 0h0m1 0h0m1 0h0m1 0h0m1 0h0m1 0h0m1 0h0m13 0h0m-20 1h0m2 0h0m3 0h0m1 0h0m1 0h0m-8 1h0m1 0h0m2 0h0m1 0h0m1 0h0m1 0h0m2 0h0m2 0h0m3 0h0m5 0h0m4 0h0m-23 1h0m1 0h0m1 0h0m2 0h0m1 0h0m1 0h0m1 0h0m1 0h0m1 0h0m-9 1h0m1 0h0m1 0h0m3 0h0m3 0h0m1 0h0m1 0h0m1 0h0m8 0h0m7 0h0m-25 1h0m1 0h0m1 0h0m1 0h0m2 0h0m1 0h0m2 0h0m-9 1h0m1 0h0m1 0h0m1 0h0m5 0h0m8 0h0m3 0h0m-17 1h0m1 0h0m1 0h0m3 0h0m1 0h0m6 0h0m3 0h0m7 0h0m-25 1h0m1 0h0m1 0h0m1 0h0m2 0h0m3 0h0m1 0h0m-8 1h0m1 0h0m1 0h0m5 0h0m1 0h0m-9 1h0m1 0h0m1 0h0m4 0h0m2 0h0m1 0h0m4 0h0m2 0h0m1 0h0m74 0h0m-90 1h0m1 0h0m1 0h0m2 0h0m2 0h0m3 0h0m3 0h0m-12 1h0m1 0h0m1 0h0m1 0h0m1 0h0m3 0h0m-7 1h0m1 0h0m1 0h0m1 0h0m1 0h0m1 0h0m1 0h0m1 0h0m4 0h0m4 0h0m-15 1h0m1 0h0m1 0h0m1 0h0m1 0h0m1 0h0m1 0h0m2 0h0m-8 1h0m1 0h0m1 0h0m1 0h0m1 0h0m1 0h0m2 0h0m1 0h0m-9 1h0m1 0h0m1 0h0m1 0h0m1 0h0m1 0h0m1 0h0m1 0h0m1 0h0m-7 1h0m1 0h0m1 0h0m2 0h0m1 0h0m1 0h0m1 0h0m1 0h0m11 0h0m-20 1h0m1 0h0m1 0h0m2 0h0m1 0h0m1 0h0m1 0h0m1 0h0m1 0h0m7 0h0m-16 1h0m3 0h0m1 0h0m2 0h0m2 0h0m8 0h0m4 0h0m-18 1h0m1 0h0m1 0h0m1 0h0m1 0h0m1 0h0m-7 1h0m1 0h0m1 0h0m1 0h0m1 0h0m1 0h0m1 0h0m1 0h0m9 0h0m-15 1h0m1 0h0m1 0h0m1 0h0m1 0h0m1 0h0m1 0h0m13 0h0m-20 1h0m1 0h0m1 0h0m1 0h0m1 0h0m1 0h0m1 0h0m1 0h0m1 0h0m1 0h0m2 0h0m8 0h0m5 0h0m-24 1h0m1 0h0m2 0h0m1 0h0m4 0h0m2 0h0m9 0h0m-18 1h0m1 0h0m2 0h0m1 0h0m3 0h0m6 0h0m-15 1h0m2 0h0m1 0h0m1 0h0m1 0h0m1 0h0m1 0h0m1 0h0m1 0h0m-8 1h0m1 0h0m1 0h0m1 0h0m1 0h0m2 0h0m1 0h0m1 0h0m3 0h0m-11 1h0m1 0h0m2 0h0m1 0h0m1 0h0m1 0h0m10 0h0m-16 1h0m1 0h0m1 0h0m1 0h0m1 0h0m2 0h0m1 0h0m1 0h0m1 0h0m7 0h0m-16 1h0m1 0h0m1 0h0m2 0h0m1 0h0m2 0h0m-7 1h0m1 0h0m1 0h0m1 0h0m2 0h0m1 0h0m-6 1h0m1 0h0m1 0h0m3 0h0m1 0h0m6 0h0m1 0h0m3 0h0m-16 1h0m1 0h0m1 0h0m1 0h0m1 0h0m1 0h0m1 0h0m-6 1h0m1 0h0m1 0h0m2 0h0m-4 1h0m1 0h0m1 0h0m1 0h0m2 0h0m1 0h0m1 0h0m1 0h0m-8 1h0m2 0h0m1 0h0m1 0h0m1 0h0m9 0h0m-14 1h0m1 0h0m2 0h0m1 0h0" stroke="#0000ff" stroke-width="2" stroke-linecap="square" fill="none"/><rect x="239.3" y="982.7" width="22.5" height="17.3" fill="#fff" stroke="#333" stroke-width="1"/><text x="250.6" y="996.4" class="lg" text-anchor="middle">EC</text><text x="151.2" y="1019.1" class="tk" text-anchor="middle">0</text><text x="171.6" y="1019.1" class="tk" text-anchor="middle">3</text><text x="192.3" y="1019.1" class="tk" text-anchor="middle">6</text><text x="212.9" y="1019.1" class="tk" text-anchor="middle">9</text><text x="233.3" y="1019.1" class="tk" text-anchor="middle">12</text><text x="254" y="1019.1" class="tk" text-anchor="middle">15</text><path d="M151.2 1009.2v-2" class="tm"/><path d="M171.6 1009.2v-2" class="tm"/><path d="M192.3 1009.2v-2" class="tm"/><path d="M212.9 1009.2v-2" class="tm"/><path d="M233.3 1009.2v-2" class="tm"/><path d="M254 1009.2v-2" class="tm"/><path d="M161.4 1009.2v-2" class="tm"/><path d="M182 1009.2v-2" class="tm"/><path d="M202.6 1009.2v-2" class="tm"/><path d="M223.1 1009.2v-2" class="tm"/><path d="M243.6 1009.2v-2" class="tm"/><path d="M340 916h0m6 0h0m4 0h0m32 0h0m-41 1h0m1 0h0m2 0h0m1 0h0m4 0h0m2 0h0m2 0h0m5 0h0m8 0h0m2 0h0m-42 1h0m5 0h0m1 0h0m3 0h0m1 0h0m2 0h0m4 0h0m1 0h0m7 0h0m14 0h0m-42 1h0m3 0h0m1 0h0m1 0h0m1 0h0m1 0h0m1 0h0m1 0h0m4 0h0m1 0h0m3 0h0m1 0h0m5 0h0m4 0h0m-31 1h0m4 0h0m2 0h0m1 0h0m1 0h0m3 0h0m2 0h0m3 0h0m1 0h0m2 0h0m3 0h0m-21 1h0m1 0h0m2 0h0m1 0h0m2 0h0m2 0h0m2 0h0m3 0h0m1 0h0m-22 1h0m3 0h0m1 0h0m1 0h0m1 0h0m2 0h0m1 0h0m1 0h0m1 0h0m2 0h0m1 0h0m5 0h0m-21 1h0m2 0h0m1 0h0m1 0h0m3 0h0m1 0h0m1 0h0m1 0h0m2 0h0m1 0h0m1 0h0m2 0h0m2 0h0m-18 1h0m1 0h0m1 0h0m1 0h0m1 0h0m2 0h0m1 0h0m1 0h0m1 0h0m2 0h0m1 0h0m3 0h0m3 0h0m-20 1h0m1 0h0m1 0h0m3 0h0m3 0h0m4 0h0m1 0h0m2 0h0m1 0h0m1 0h0m10 0h0m-29 1h0m1 0h0m1 0h0m1 0h0m2 0h0m1 0h0m1 0h0m2 0h0m1 0h0m2 0h0m-14 1h0m4 0h0m1 0h0m1 0h0m2 0h0m2 0h0m1 0h0m1 0h0m1 0h0m2 0h0m-15 1h0m2 0h0m3 0h0m1 0h0m1 0h0m5 0h0m2 0h0m-13 1h0m1 0h0m1 0h0m1 0h0m1 0h0m2 0h0m1 0h0m1 0h0m1 0h0m1 0h0m1 0h0m-13 1h0m1 0h0m1 0h0m1 0h0m4 0h0m1 0h0m2 0h0m1 0h0m-11 1h0m2 0h0m1 0h0m2 0h0m1 0h0m1 0h0m4 0h0m-14 1h0m1 0h0m1 0h0m3 0h0m2 0h0m1 0h0m1 0h0m1 0h0m2 0h0m-13 1h0m2 0h0m1 0h0m1 0h0m1 0h0m2 0h0m2 0h0m2 0h0m1 0h0m-13 1h0m2 0h0m1 0h0m5 0h0m1 0h0m1 0h0m-6 1h0m1 0h0m1 0h0m1 0h0m1 0h0m2 0h0m1 0h0m-13 1h0m1 0h0m1 0h0m1 0h0m1 0h0m1 0h0m1 0h0m1 0h0m3 0h0m-10 1h0m1 0h0m3 0h0m1 0h0m1 0h0m1 0h0m2 0h0m2 0h0m-11 1h0m1 0h0m3 0h0m1 0h0m1 0h0m1 0h0m2 0h0m-10 1h0m1 0h0m2 0h0m1 0h0m1 0h0m1 0h0m2 0h0m1 0h0m-10 1h0m1 0h0m1 0h0m1 0h0m1 0h0m2 0h0m1 0h0m1 0h0m-7 1h0m3 0h0m1 0h0m1 0h0m1 0h0m2 0h0m1 0h0m-11 1h0m1 0h0m1 0h0m2 0h0m1 0h0m1 0h0m1 0h0m2 0h0m1 0h0m-9 1h0m1 0h0m2 0h0m1 0h0m1 0h0m1 0h0m1 0h0m1 0h0m-11 1h0m3 0h0m3 0h0m1 0h0m3 0h0m1 0h0m-10 1h0m1 0h0m1 0h0m2 0h0m1 0h0m1 0h0m1 0h0m1 0h0m-9 1h0m1 0h0m1 0h0m3 0h0m1 0h0m1 0h0m1 0h0m1 0h0m-7 1h0m3 0h0m1 0h0m1 0h0m-7 1h0m2 0h0m1 0h0m1 0h0m1 0h0m1 0h0m1 0h0m-8 1h0m3 0h0m4 0h0m-7 1h0m1 0h0m1 0h0m1 0h0m2 0h0m1 0h0m1 0h0m1 0h0m-10 1h0m1 0h0m2 0h0m2 0h0m2 0h0m1 0h0m1 0h0m-9 1h0m1 0h0m1 0h0m1 0h0m2 0h0m1 0h0m2 0h0m-8 1h0m2 0h0m2 0h0m1 0h0m1 0h0m3 0h0m-10 1h0m1 0h0m1 0h0m2 0h0m1 0h0m1 0h0m1 0h0m2 0h0m-9 1h0m1 0h0m2 0h0m1 0h0m1 0h0m-6 1h0m1 0h0m1 0h0m4 0h0m1 0h0m1 0h0m-7 1h0m1 0h0m1 0h0m1 0h0m1 0h0m1 0h0m1 0h0m1 0h0m1 0h0m-10 1h0m1 0h0m2 0h0m1 0h0m1 0h0m1 0h0m1 0h0m-8 1h0m2 0h0m1 0h0m1 0h0m1 0h0m1 0h0m1 0h0m1 0h0m-6 1h0m1 0h0m1 0h0m1 0h0m1 0h0m-5 1h0m2 0h0m2 0h0m1 0h0m1 0h0m1 0h0m-8 1h0m1 0h0m2 0h0m1 0h0m1 0h0m1 0h0m1 0h0m1 0h0m-8 1h0m3 0h0m1 0h0m1 0h0m-6 1h0m1 0h0m1 0h0m1 0h0m1 0h0m1 0h0m1 0h0m1 0h0m1 0h0m-9 1h0m1 0h0m1 0h0m1 0h0m1 0h0m1 0h0m1 0h0m1 0h0m1 0h0m-9 1h0m3 0h0m1 0h0m1 0h0m1 0h0m1 0h0m1 0h0m1 0h0m-8 1h0m1 0h0m1 0h0m1 0h0m1 0h0m1 0h0m1 0h0m1 0h0m1 0h0m-9 1h0m2 0h0m1 0h0m2 0h0m1 0h0m1 0h0m1 0h0m-9 1h0m2 0h0m1 0h0m1 0h0m1 0h0m1 0h0m1 0h0m1 0h0m-8 1h0m1 0h0m1 0h0m1 0h0m1 0h0m4 0h0m-8 1h0m1 0h0m3 0h0m1 0h0m1 0h0m-6 1h0m1 0h0m1 0h0m1 0h0m2 0h0m1 0h0m1 0h0m-6 1h0m1 0h0m-4 1h0m2 0h0m1 0h0m1 0h0m1 0h0m1 0h0m1 0h0m1 0h0m1 0h0m-8 1h0m1 0h0m2 0h0m1 0h0m2 0h0m1 0h0m-8 1h0m1 0h0m1 0h0m1 0h0m1 0h0m1 0h0m2 0h0m1 0h0m-7 1h0m1 0h0m1 0h0m1 0h0m2 0h0m-6 1h0m1 0h0m1 0h0m1 0h0m1 0h0m1 0h0m1 0h0m1 0h0m-7 1h0m2 0h0m1 0h0m1 0h0m1 0h0m1 0h0m1 0h0m-8 1h0m1 0h0m1 0h0m1 0h0m1 0h0m1 0h0m1 0h0m1 0h0m-6 1h0m2 0h0m2 0h0m2 0h0m1 0h0m-9 1h0m1 0h0m1 0h0m2 0h0m1 0h0m1 0h0m2 0h0m1 0h0m-7 1h0m3 0h0m1 0h0m2 0h0m-7 1h0m1 0h0m1 0h0m1 0h0m1 0h0m1 0h0m1 0h0m-6 1h0m1 0h0m1 0h0m1 0h0m1 0h0m1 0h0m1 0h0m-8 1h0m2 0h0m1 0h0m1 0h0m1 0h0m1 0h0m1 0h0m-6 1h0m1 0h0m1 0h0m1 0h0m1 0h0m1 0h0m-5 1h0m1 0h0m2 0h0m2 0h0m-6 1h0m1 0h0m1 0h0m1 0h0m1 0h0m1 0h0m-5 1h0m1 0h0m1 0h0m1 0h0m1 0h0m2 0h0m-6 1h0m1 0h0m1 0h0m1 0h0m1 0h0m1 0h0m1 0h0m-6 1h0m1 0h0m1 0h0m1 0h0m1 0h0m1 0h0m2 0h0m-8 1h0m1 0h0m1 0h0m2 0h0m1 0h0m1 0h0m-6 1h0m1 0h0m2 0h0m1 0h0m2 0h0m-6 1h0m1 0h0m2 0h0m1 0h0m3 0h0m-8 1h0m1 0h0m1 0h0m1 0h0m2 0h0m1 0h0m-6 1h0m1 0h0m1 0h0m1 0h0m1 0h0m1 0h0m1 0h0m-5 1h0m1 0h0m1 0h0m1 0h0m1 0h0m1 0h0m1 0h0m-6 1h0m1 0h0m1 0h0m1 0h0m1 0h0m-4 1h0m1 0h0m1 0h0m1 0h0m1 0h0m-4 1h0m1 0h0m1 0h0m1 0h0m1 0h0m1 0h0m-4 1h0m2 0h0m1 0h0m1 0h0m-6 1h0m1 0h0m1 0h0m1 0h0m1 0h0m1 0h0m-4 1h0m1 0h0m-1 1h0" stroke="#808000" stroke-width="2" stroke-linecap="square" fill="none"/><rect x="338.1" y="984.1" width="48.9" height="17.6" fill="#fff" stroke="#333" stroke-width="1"/><text x="362.6" y="998.1" class="lg" text-anchor="middle">Hindex</text><text x="273" y="1019.1" class="tk" text-anchor="middle">0</text><text x="294.4" y="1019.1" class="tk" text-anchor="middle">2</text><text x="315.7" y="1019.1" class="tk" text-anchor="middle">4</text><text x="337.3" y="1019.1" class="tk" text-anchor="middle">6</text><text x="358.9" y="1019.1" class="tk" text-anchor="middle">8</text><text x="380.8" y="1019.1" class="tk" text-anchor="middle">10</text><path d="M273 1009.2v-2" class="tm"/><path d="M294.4 1009.2v-2" class="tm"/><path d="M315.7 1009.2v-2" class="tm"/><path d="M337.3 1009.2v-2" class="tm"/><path d="M358.9 1009.2v-2" class="tm"/><path d="M380.8 1009.2v-2" class="tm"/><path d="M283.7 1009.2v-2" class="tm"/><path d="M305.1 1009.2v-2" class="tm"/><path d="M326.5 1009.2v-2" class="tm"/><path d="M348.1 1009.2v-2" class="tm"/><path d="M369.8 1009.2v-2" class="tm"/><polygon points="396,916.2 396,1004.3 399.5,1004.3 399.5,916.2" fill="#800080"/><path d="M398 916h0m1 0h0m1 0h0m1 0h0m1 0h0m2 0h0m10 0h0m6 0h0m10 0h0m-34 1h0m1 0h0m2 0h0m5 0h0m1 0h0m1 0h0m3 0h0m2 0h0m3 0h0m16 0h0m2 0h0m2 0h0m37 0h0m-73 1h0m1 0h0m2 0h0m3 0h0m1 0h0m2 0h0m44 0h0m-54 1h0m2 0h0m1 0h0m1 0h0m6 0h0m6 0h0m10 0h0m5 0h0m6 0h0m18 0h0m-55 1h0m1 0h0m1 0h0m1 0h0m1 0h0m1 0h0m1 0h0m1 0h0m2 0h0m1 0h0m1 0h0m3 0h0m1 0h0m16 0h0m1 0h0m2 0h0m-32 1h0m1 0h0m1 0h0m2 0h0m1 0h0m4 0h0m1 0h0m7 0h0m28 0h0m-48 1h0m1 0h0m1 0h0m1 0h0m1 0h0m1 0h0m5 0h0m7 0h0m1 0h0m4 0h0m5 0h0m-26 1h0m2 0h0m1 0h0m1 0h0m4 0h0m1 0h0m1 0h0m1 0h0m4 0h0m6 0h0m10 0h0m4 0h0m12 0h0m-48 1h0m2 0h0m1 0h0m1 0h0m2 0h0m1 0h0m2 0h0m1 0h0m10 0h0m9 0h0m-29 1h0m1 0h0m1 0h0m1 0h0m3 0h0m1 0h0m5 0h0m22 0h0m2 0h0m4 0h0m-38 1h0m1 0h0m1 0h0m1 0h0m3 0h0m1 0h0m2 0h0m7 0h0m7 0h0m4 0h0m-28 1h0m2 0h0m3 0h0m3 0h0m1 0h0m4 0h0m5 0h0m-18 1h0m1 0h0m2 0h0m3 0h0m2 0h0m1 0h0m8 0h0m12 0h0m-29 1h0m1 0h0m3 0h0m2 0h0m1 0h0m2 0h0m3 0h0m2 0h0m4 0h0m10 0h0m6 0h0m61 0h0m-94 1h0m1 0h0m1 0h0m1 0h0m3 0h0m3 0h0m1 0h0m2 0h0m1 0h0m2 0h0m11 0h0m6 0h0m4 0h0m5 0h0m-42 1h0m1 0h0m1 0h0m1 0h0m1 0h0m3 0h0m1 0h0m2 0h0m1 0h0m1 0h0m5 0h0m4 0h0m4 0h0m1 0h0m58 0h0m7 0h0m-90 1h0m1 0h0m1 0h0m2 0h0m4 0h0m1 0h0m-11 1h0m1 0h0m8 0h0m1 0h0m1 0h0m6 0h0m15 0h0m-31 1h0m2 0h0m1 0h0m2 0h0m1 0h0m1 0h0m1 0h0m3 0h0m1 0h0m1 0h0m1 0h0m9 0h0m11 0h0m6 0h0m-40 1h0m1 0h0m1 0h0m2 0h0m1 0h0m2 0h0m4 0h0m5 0h0m2 0h0m12 0h0m7 0h0m34 0h0m-72 1h0m1 0h0m1 0h0m1 0h0m2 0h0m3 0h0m1 0h0m1 0h0m13 0h0m2 0h0m11 0h0m40 0h0m27 0h0m-103 1h0m1 0h0m2 0h0m1 0h0m7 0h0m15 0h0m3 0h0m5 0h0m7 0h0m-40 1h0m1 0h0m2 0h0m4 0h0m23 0h0m1 0h0m-31 1h0m1 0h0m1 0h0m1 0h0m1 0h0m1 0h0m1 0h0m2 0h0m1 0h0m1 0h0m1 0h0m2 0h0m1 0h0m3 0h0m5 0h0m2 0h0m9 0h0m-34 1h0m1 0h0m2 0h0m1 0h0m1 0h0m1 0h0m1 0h0m2 0h0m1 0h0m1 0h0m13 0h0m3 0h0m4 0h0m1 0h0m-32 1h0m1 0h0m1 0h0m1 0h0m1 0h0m2 0h0m1 0h0m1 0h0m1 0h0m1 0h0m1 0h0m7 0h0m1 0h0m22 0h0m-40 1h0m2 0h0m1 0h0m2 0h0m1 0h0m2 0h0m3 0h0m4 0h0m3 0h0m40 0h0m-59 1h0m1 0h0m1 0h0m2 0h0m2 0h0m2 0h0m15 0h0m2 0h0m5 0h0m4 0h0m-33 1h0m1 0h0m8 0h0m4 0h0m4 0h0m7 0h0m22 0h0m-46 1h0m1 0h0m1 0h0m1 0h0m1 0h0m1 0h0m2 0h0m3 0h0m1 0h0m1 0h0m5 0h0m10 0h0m41 0h0m28 0h0m-96 1h0m1 0h0m2 0h0m5 0h0m3 0h0m1 0h0m18 0h0m-29 1h0m1 0h0m1 0h0m1 0h0m1 0h0m2 0h0m1 0h0m1 0h0m1 0h0m1 0h0m5 0h0m25 0h0m10 0h0m26 0h0m-78 1h0m1 0h0m1 0h0m2 0h0m1 0h0m1 0h0m4 0h0m2 0h0m1 0h0m6 0h0m25 0h0m-43 1h0m1 0h0m2 0h0m1 0h0m3 0h0m3 0h0m3 0h0m13 0h0m-26 1h0m1 0h0m2 0h0m4 0h0m1 0h0m2 0h0m1 0h0m2 0h0m4 0h0m-18 1h0m1 0h0m3 0h0m1 0h0m6 0h0m3 0h0m7 0h0m4 0h0m9 0h0m13 0h0m7 0h0m-53 1h0m1 0h0m1 0h0m1 0h0m1 0h0m1 0h0m1 0h0m1 0h0m2 0h0m1 0h0m1 0h0m7 0h0m5 0h0m5 0h0m1 0h0m39 0h0m-68 1h0m1 0h0m1 0h0m1 0h0m1 0h0m1 0h0m1 0h0m1 0h0m3 0h0m6 0h0m6 0h0m12 0h0m2 0h0m-35 1h0m1 0h0m1 0h0m1 0h0m2 0h0m1 0h0m2 0h0m2 0h0m12 0h0m6 0h0m4 0h0m23 0h0m26 0h0m-83 1h0m3 0h0m2 0h0m1 0h0m4 0h0m1 0h0m19 0h0m-26 1h0m1 0h0m1 0h0m1 0h0m3 0h0m2 0h0m18 0h0m6 0h0m-35 1h0m1 0h0m2 0h0m2 0h0m3 0h0m1 0h0m3 0h0m25 0h0m10 0h0m-48 1h0m1 0h0m1 0h0m2 0h0m1 0h0m2 0h0m1 0h0m4 0h0m7 0h0m10 0h0m8 0h0m17 0h0m5 0h0m-58 1h0m1 0h0m1 0h0m2 0h0m3 0h0m1 0h0m1 0h0m4 0h0m12 0h0m23 0h0m9 0h0m-58 1h0m1 0h0m1 0h0m1 0h0m1 0h0m3 0h0m2 0h0m6 0h0m3 0h0m2 0h0m9 0h0m3 0h0m2 0h0m16 0h0m-50 1h0m1 0h0m1 0h0m3 0h0m1 0h0m1 0h0m1 0h0m1 0h0m2 0h0m2 0h0m17 0h0m1 0h0m3 0h0m2 0h0m-36 1h0m1 0h0m1 0h0m1 0h0m1 0h0m1 0h0m1 0h0m1 0h0m3 0h0m1 0h0m2 0h0m1 0h0m4 0h0m7 0h0m6 0h0m-28 1h0m2 0h0m2 0h0m5 0h0m11 0h0m4 0h0m-27 1h0m2 0h0m1 0h0m1 0h0m2 0h0m2 0h0m2 0h0m1 0h0m1 0h0m7 0h0m4 0h0m10 0h0m-31 1h0m2 0h0m2 0h0m1 0h0m1 0h0m1 0h0m2 0h0m2 0h0m3 0h0m2 0h0m35 0h0m-51 1h0m1 0h0m4 0h0m1 0h0m1 0h0m1 0h0m4 0h0m3 0h0m7 0h0m6 0h0m4 0h0m17 0h0m-51 1h0m1 0h0m2 0h0m4 0h0m1 0h0m1 0h0m1 0h0m3 0h0m1 0h0m1 0h0m5 0h0m8 0h0m3 0h0m2 0h0m1 0h0m6 0h0m-40 1h0m2 0h0m1 0h0m1 0h0m3 0h0m1 0h0m1 0h0m2 0h0m2 0h0m6 0h0m2 0h0m1 0h0m11 0h0m-32 1h0m2 0h0m1 0h0m1 0h0m2 0h0m1 0h0m2 0h0m1 0h0m1 0h0m2 0h0m1 0h0m7 0h0m9 0h0m10 0h0m4 0h0m-44 1h0m2 0h0m1 0h0m3 0h0m1 0h0m4 0h0m1 0h0m2 0h0m3 0h0m5 0h0m5 0h0m21 0h0m-47 1h0m1 0h0m2 0h0m1 0h0m1 0h0m2 0h0m5 0h0m1 0h0m10 0h0m10 0h0m1 0h0m-35 1h0m1 0h0m1 0h0m1 0h0m1 0h0m2 0h0m1 0h0m1 0h0m1 0h0m1 0h0m1 0h0m1 0h0m4 0h0m11 0h0m7 0h0m2 0h0m35 0h0m13 0h0m-84 1h0m1 0h0m1 0h0m1 0h0m1 0h0m1 0h0m1 0h0m1 0h0m1 0h0m1 0h0m2 0h0m1 0h0m4 0h0m2 0h0m-18 1h0m2 0h0m1 0h0m1 0h0m1 0h0m2 0h0m1 0h0m1 0h0m5 0h0m2 0h0m2 0h0m2 0h0m5 0h0m11 0h0m-36 1h0m2 0h0m2 0h0m4 0h0m1 0h0m2 0h0m10 0h0m9 0h0m5 0h0m1 0h0m27 0h0m-63 1h0m2 0h0m4 0h0m1 0h0m1 0h0m2 0h0m1 0h0m1 0h0m5 0h0m6 0h0m1 0h0m9 0h0m5 0h0m8 0h0m46 0h0m9 0h0m-101 1h0m1 0h0m1 0h0m1 0h0m1 0h0m5 0h0m1 0h0m1 0h0m24 0h0m3 0h0m14 0h0m2 0h0m-55 1h0m2 0h0m1 0h0m1 0h0m4 0h0m1 0h0m2 0h0m38 0h0m9 0h0m-55 1h0m1 0h0m4 0h0m4 0h0m1 0h0m5 0h0m1 0h0m1 0h0m8 0h0m-28 1h0m1 0h0m2 0h0m4 0h0m1 0h0m1 0h0m1 0h0m1 0h0m2 0h0m2 0h0m1 0h0m5 0h0m16 0h0m72 0h0m-106 1h0m1 0h0m1 0h0m1 0h0m1 0h0m1 0h0m4 0h0m3 0h0m4 0h0m2 0h0m10 0h0m1 0h0m2 0h0m4 0h0m10 0h0m-48 1h0m1 0h0m1 0h0m2 0h0m1 0h0m3 0h0m7 0h0m3 0h0m1 0h0m16 0h0m-35 1h0m1 0h0m1 0h0m1 0h0m1 0h0m1 0h0m1 0h0m1 0h0m1 0h0m1 0h0m2 0h0m1 0h0m2 0h0m3 0h0m35 0h0m-51 1h0m1 0h0m3 0h0m2 0h0m1 0h0m1 0h0m4 0h0m6 0h0m1 0h0m5 0h0m1 0h0m11 0h0m15 0h0m-51 1h0m1 0h0m1 0h0m1 0h0m2 0h0m2 0h0m1 0h0m1 0h0m1 0h0m4 0h0m1 0h0m2 0h0m1 0h0m2 0h0m2 0h0m4 0h0m5 0h0m5 0h0m-35 1h0m1 0h0m3 0h0m3 0h0m4 0h0m2 0h0m-14 1h0m3 0h0m1 0h0m1 0h0m4 0h0m1 0h0m1 0h0m1 0h0m1 0h0m1 0h0m1 0h0m8 0h0m7 0h0m14 0h0m-43 1h0m5 0h0m1 0h0m2 0h0m3 0h0m1 0h0m2 0h0m1 0h0m1 0h0m3 0h0m1 0h0m1 0h0m6 0h0m1 0h0m3 0h0m2 0h0m1 0h0m-36 1h0m1 0h0m2 0h0m1 0h0m1 0h0m2 0h0m2 0h0m7 0h0m7 0h0m12 0h0m8 0h0m12 0h0m-55 1h0m1 0h0m1 0h0m1 0h0m1 0h0m1 0h0m3 0h0m1 0h0m3 0h0m1 0h0m27 0h0m8 0h0m-47 1h0m1 0h0m1 0h0m4 0h0m3 0h0m1 0h0m5 0h0m2 0h0m1 0h0m3 0h0m12 0h0m10 0h0m-43 1h0m1 0h0m1 0h0m1 0h0m2 0h0m1 0h0m1 0h0m1 0h0m1 0h0m2 0h0m3 0h0m1 0h0m1 0h0m18 0h0m-35 1h0m1 0h0m2 0h0m1 0h0m1 0h0m1 0h0m1 0h0m1 0h0m2 0h0m2 0h0m4 0h0m1 0h0m1 0h0m2 0h0m13 0h0m9 0h0m3 0h0m-43 1h0m1 0h0m1 0h0m3 0h0m2 0h0m1 0h0m50 0h0m-58 1h0m1 0h0m1 0h0m1 0h0m2 0h0m3 0h0m1 0h0m1 0h0m1 0h0m6 0h0m2 0h0m6 0h0m6 0h0m-33 1h0m1 0h0m2 0h0m1 0h0m1 0h0m2 0h0m1 0h0m1 0h0m2 0h0m1 0h0m1 0h0m1 0h0m4 0h0m-18 1h0m2 0h0m3 0h0m1 0h0m1 0h0m2 0h0m1 0h0m10 0h0m14 0h0m1 0h0m3 0h0m-38 1h0m1 0h0m1 0h0m1 0h0m1 0h0m6 0h0m2 0h0m1 0h0m2 0h0m4 0h0m2 0h0m1 0h0m1 0h0m10 0h0m-33 1h0m1 0h0m2 0h0m8 0h0m2 0h0m3 0h0m3 0h0m1 0h0m11 0h0m-30 1h0m2 0h0m1 0h0m1 0h0m1 0h0m1 0h0m4 0h0m5 0h0m3 0h0m6 0h0m2 0h0m10 0h0m-36 1h0m3 0h0m1 0h0m1 0h0m3 0h0m2 0h0m3 0h0m1 0h0m2 0h0m1 0h0m14 0h0m25 0h0m7 0h0m-63 1h0m2 0h0m1 0h0m1 0h0m1 0h0m2 0h0m2 0h0m3 0h0m4 0h0m4 0h0m-20 1h0m1 0h0m1 0h0m9 0h0m1 0h0m5 0h0m1 0h0m3 0h0m10 0h0m3 0h0m-35 1h0m1 0h0m1 0h0m1 0h0m1 0h0m1 0h0m1 0h0m4 0h0m1 0h0m5 0h0m1 0h0m7 0h0" stroke="#800080" stroke-width="2" stroke-linecap="square" fill="none"/><rect x="472.7" y="983.6" width="35.9" height="16.7" fill="#fff" stroke="#333" stroke-width="1"/><text x="490.6" y="996.7" class="lg" text-anchor="middle">HITS</text><text x="397.2" y="1019.1" class="tk" text-anchor="middle">0</text><text x="415.4" y="1019.1" class="tk" text-anchor="middle">5</text><text x="433.5" y="1019.1" class="tk" text-anchor="middle">10</text><text x="451.3" y="1019.1" class="tk" text-anchor="middle">15</text><text x="469.2" y="1019.1" class="tk" text-anchor="middle">20</text><text x="487" y="1019.1" class="tk" text-anchor="middle">25</text><text x="504.8" y="1019.1" class="tk" text-anchor="middle">30</text><path d="M397.2 1009.2v-2" class="tm"/><path d="M415.4 1009.2v-2" class="tm"/><path d="M433.5 1009.2v-2" class="tm"/><path d="M451.3 1009.2v-2" class="tm"/><path d="M469.2 1009.2v-2" class="tm"/><path d="M487 1009.2v-2" class="tm"/><path d="M504.8 1009.2v-2" class="tm"/><path d="M406.3 1009.2v-2" class="tm"/><path d="M424.4 1009.2v-2" class="tm"/><path d="M442.4 1009.2v-2" class="tm"/><path d="M460.3 1009.2v-2" class="tm"/><path d="M478.1 1009.2v-2" class="tm"/><path d="M495.9 1009.2v-2" class="tm"/><path d="M552 916h0m4 0h0m26 0h0m4 0h0m-60 1h0m7 0h0m1 0h0m3 0h0m2 0h0m3 0h0m3 0h0m21 0h0m5 0h0m23 0h0m27 0h0m-96 1h0m1 0h0m1 0h0m2 0h0m1 0h0m3 0h0m2 0h0m2 0h0m2 0h0m1 0h0m1 0h0m-16 1h0m1 0h0m1 0h0m1 0h0m1 0h0m1 0h0m3 0h0m2 0h0m1 0h0m1 0h0m1 0h0m1 0h0m1 0h0m9 0h0m-25 1h0m1 0h0m1 0h0m1 0h0m1 0h0m1 0h0m1 0h0m1 0h0m1 0h0m2 0h0m1 0h0m2 0h0m2 0h0m1 0h0m-16 1h0m1 0h0m1 0h0m1 0h0m1 0h0m1 0h0m2 0h0m2 0h0m1 0h0m3 0h0m1 0h0m6 0h0m-21 1h0m1 0h0m1 0h0m1 0h0m1 0h0m1 0h0m2 0h0m1 0h0m1 0h0m1 0h0m2 0h0m1 0h0m1 0h0m1 0h0m-14 1h0m1 0h0m2 0h0m1 0h0m1 0h0m1 0h0m1 0h0m1 0h0m1 0h0m2 0h0m2 0h0m-14 1h0m1 0h0m1 0h0m1 0h0m1 0h0m1 0h0m1 0h0m1 0h0m1 0h0m1 0h0m2 0h0m1 0h0m1 0h0m-13 1h0m1 0h0m1 0h0m1 0h0m1 0h0m1 0h0m1 0h0m1 0h0m2 0h0m1 0h0m1 0h0m2 0h0m-14 1h0m1 0h0m1 0h0m1 0h0m1 0h0m1 0h0m1 0h0m1 0h0m3 0h0m1 0h0m1 0h0m1 0h0m11 0h0m-23 1h0m1 0h0m1 0h0m1 0h0m3 0h0m3 0h0m1 0h0m1 0h0m7 0h0m-18 1h0m1 0h0m1 0h0m1 0h0m1 0h0m1 0h0m2 0h0m1 0h0m1 0h0m3 0h0m24 0h0m-37 1h0m1 0h0m1 0h0m1 0h0m1 0h0m1 0h0m1 0h0m1 0h0m1 0h0m1 0h0m2 0h0m-11 1h0m1 0h0m1 0h0m1 0h0m1 0h0m1 0h0m1 0h0m1 0h0m1 0h0m1 0h0m-9 1h0m1 0h0m1 0h0m1 0h0m2 0h0m2 0h0m1 0h0m1 0h0m2 0h0m-12 1h0m1 0h0m1 0h0m1 0h0m1 0h0m2 0h0m1 0h0m1 0h0m1 0h0m2 0h0m20 0h0m-31 1h0m1 0h0m1 0h0m1 0h0m1 0h0m1 0h0m1 0h0m1 0h0m1 0h0m1 0h0m1 0h0m1 0h0m-11 1h0m2 0h0m1 0h0m1 0h0m1 0h0m1 0h0m3 0h0m1 0h0m-8 1h0m4 0h0m2 0h0m1 0h0m-9 1h0m1 0h0m1 0h0m1 0h0m2 0h0m4 0h0m4 0h0m-12 1h0m1 0h0m1 0h0m1 0h0m1 0h0m2 0h0m2 0h0m-8 1h0m3 0h0m3 0h0m-7 1h0m1 0h0m1 0h0m1 0h0m1 0h0m1 0h0m1 0h0m3 0h0m1 0h0m-9 1h0m1 0h0m2 0h0m2 0h0m2 0h0m1 0h0m6 0h0m-14 1h0m1 0h0m2 0h0m1 0h0m1 0h0m1 0h0m1 0h0m-8 1h0m1 0h0m1 0h0m1 0h0m1 0h0m1 0h0m1 0h0m2 0h0m1 0h0m-9 1h0m1 0h0m1 0h0m1 0h0m1 0h0m1 0h0m1 0h0m1 0h0m-7 1h0m1 0h0m1 0h0m1 0h0m1 0h0m1 0h0m1 0h0m2 0h0m-8 1h0m1 0h0m1 0h0m2 0h0m2 0h0m1 0h0m1 0h0m-8 1h0m1 0h0m1 0h0m1 0h0m1 0h0m1 0h0m2 0h0m2 0h0m-9 1h0m1 0h0m1 0h0m1 0h0m1 0h0m2 0h0m1 0h0m1 0h0m-9 1h0m2 0h0m3 0h0m2 0h0m1 0h0m-7 1h0m1 0h0m1 0h0m1 0h0m1 0h0m-4 1h0m2 0h0m1 0h0m1 0h0m1 0h0m1 0h0m1 0h0m-7 1h0m1 0h0m2 0h0m1 0h0m2 0h0m-7 1h0m1 0h0m2 0h0m1 0h0m1 0h0m2 0h0m7 0h0m-13 1h0m1 0h0m1 0h0m1 0h0m1 0h0m2 0h0m1 0h0m-7 1h0m2 0h0m1 0h0m1 0h0m1 0h0m1 0h0m-6 1h0m1 0h0m2 0h0m1 0h0m1 0h0m1 0h0m1 0h0m-6 1h0m1 0h0m1 0h0m1 0h0m1 0h0m-4 1h0m1 0h0m2 0h0m2 0h0m2 0h0m-8 1h0m1 0h0m1 0h0m2 0h0m1 0h0m-6 1h0m1 0h0m1 0h0m2 0h0m1 0h0m1 0h0m-5 1h0m1 0h0m2 0h0m1 0h0m-4 1h0m2 0h0m1 0h0m1 0h0m2 0h0m-6 1h0m1 0h0m2 0h0m1 0h0m-4 1h0m1 0h0m1 0h0m1 0h0m1 0h0m1 0h0m-6 1h0m1 0h0m1 0h0m1 0h0m1 0h0m1 0h0m-4 1h0m1 0h0m1 0h0m1 0h0m1 0h0m-3 1h0m1 0h0m1 0h0m-3 1h0m2 0h0m1 0h0m-3 1h0m1 0h0m1 0h0m1 0h0m1 0h0m1 0h0m-5 1h0m1 0h0m-1 1h0m2 0h0m1 0h0m-3 1h0m2 0h0m1 0h0m-3 1h0m1 0h0m1 0h0m-2 1h0m1 0h0m2 0h0m-3 1h0m3 0h0m-2 1h0m1 0h0m1 0h0m-3 1h0m1 0h0m1 0h0m-2 1h0m1 0h0m9 0h0m-11 1h0m1 0h0m1 0h0m1 0h0m1 0h0m-3 1h0m1 0h0m1 0h0m-3 1h0m1 0h0m1 0h0m1 0h0m1 0h0m-3 1h0m1 0h0m1 0h0m-1 2h0m1 0h0m-2 1h0m1 0h0m1 0h0m-1 1h0m0 1h0m1 0h0m-1 1h0m-2 1h0m2 1h0m-1 1h0m1 0h0m1 0h0m-2 1h0m2 0h0m-2 2h0m1 0h0m0 1h0m1 0h0m-1 1h0m1 0h0m-2 1h0m-1 1h0m1 0h0m1 0h0m-1 1h0m0 1h0m1 1h0m-1 1h0m1 0h0m-1 1h0m1 0h0m-1 1h0m1 0h0m0 1h0" stroke="#ff00ff" stroke-width="2" stroke-linecap="square" fill="none"/><rect x="602.3" y="984.4" width="25.5" height="17.3" fill="#fff" stroke="#333" stroke-width="1"/><text x="615" y="998.1" class="lg" text-anchor="middle">DIL</text><text x="521.4" y="1019.1" class="tk" text-anchor="middle">0</text><text x="538" y="1019.1" class="tk" text-anchor="middle">2</text><text x="554.3" y="1019.1" class="tk" text-anchor="middle">4</text><text x="570.8" y="1019.1" class="tk" text-anchor="middle">6</text><text x="587.6" y="1019.1" class="tk" text-anchor="middle">8</text><text x="604.9" y="1019.1" class="tk" text-anchor="middle">10</text><text x="621.3" y="1019.1" class="tk" text-anchor="middle">12</text><path d="M521.4 1009.2v-2" class="tm"/><path d="M538 1009.2v-2" class="tm"/><path d="M554.3 1009.2v-2" class="tm"/><path d="M570.8 1009.2v-2" class="tm"/><path d="M587.6 1009.2v-2" class="tm"/><path d="M604.9 1009.2v-2" class="tm"/><path d="M621.3 1009.2v-2" class="tm"/><path d="M529.7 1009.2v-2" class="tm"/><path d="M546.1 1009.2v-2" class="tm"/><path d="M562.5 1009.2v-2" class="tm"/><path d="M579.2 1009.2v-2" class="tm"/><path d="M596.2 1009.2v-2" class="tm"/><path d="M613.1 1009.2v-2" class="tm"/><polygon points="642,1003.4 643.2,991.4 645.8,977.5 649.3,963.7 653.6,953.4 657.9,943 663.1,934.4 668.3,928.3 676.9,923.1 687.3,919.7 697.6,918 708,916.7 714.9,917.4 706.3,918.5 694.2,920.5 683.8,924 675.2,929.2 667.4,935.2 661.4,943 657,953.4 652.7,963.7 648.8,977.5 645.8,991.4 643.7,1003.4" fill="#008080"/><path d="M718 916h0m14 0h0m4 0h0m3 0h0m12 0h0m-47 1h0m1 0h0m3 0h0m2 0h0m3 0h0m1 0h0m8 0h0m3 0h0m-29 1h0m2 0h0m2 0h0m1 0h0m2 0h0m1 0h0m1 0h0m1 0h0m1 0h0m2 0h0m4 0h0m-25 1h0m2 0h0m1 0h0m1 0h0m1 0h0m2 0h0m2 0h0m2 0h0m2 0h0m2 0h0m3 0h0m1 0h0m-22 1h0m3 0h0m1 0h0m1 0h0m1 0h0m2 0h0m1 0h0m1 0h0m1 0h0m3 0h0m-17 1h0m3 0h0m1 0h0m1 0h0m1 0h0m2 0h0m1 0h0m1 0h0m2 0h0m-14 1h0m3 0h0m1 0h0m1 0h0m1 0h0m2 0h0m1 0h0m1 0h0m-13 1h0m1 0h0m1 0h0m1 0h0m1 0h0m1 0h0m1 0h0m3 0h0m2 0h0m-13 1h0m2 0h0m1 0h0m1 0h0m1 0h0m1 0h0m1 0h0m1 0h0m-10 1h0m1 0h0m1 0h0m1 0h0m1 0h0m1 0h0m1 0h0m1 0h0m1 0h0m2 0h0m-9 1h0m1 0h0m1 0h0m1 0h0m1 0h0m1 0h0m1 0h0m1 0h0m1 0h0m-11 1h0m2 0h0m1 0h0m1 0h0m1 0h0m1 0h0m1 0h0m1 0h0m-10 1h0m1 0h0m1 0h0m1 0h0m1 0h0m1 0h0m1 0h0m2 0h0m-10 1h0m1 0h0m2 0h0m3 0h0m1 0h0m1 0h0m1 0h0m-9 1h0m1 0h0m1 0h0m2 0h0m1 0h0m1 0h0m1 0h0m-8 1h0m1 0h0m2 0h0m1 0h0m1 0h0m2 0h0m-8 1h0m1 0h0m1 0h0m1 0h0m1 0h0m1 0h0m1 0h0m1 0h0m-8 1h0m1 0h0m1 0h0m1 0h0m2 0h0m-5 1h0m1 0h0m1 0h0m1 0h0m1 0h0m1 0h0m-7 1h0m1 0h0m1 0h0m2 0h0m-4 1h0m1 0h0m1 0h0m1 0h0m1 0h0m-4 1h0m1 0h0m1 0h0m1 0h0m-4 1h0m1 0h0m2 0h0m-4 1h0m1 0h0m1 0h0m1 0h0m1 0h0m-4 1h0m1 0h0m1 0h0m1 0h0m1 0h0m-5 1h0m1 0h0m1 0h0m1 0h0m1 0h0m-4 1h0m1 0h0m1 0h0m1 0h0m-4 1h0m1 0h0m1 0h0m-3 1h0m2 0h0m1 0h0m1 0h0m-4 1h0m1 0h0m1 0h0m1 0h0m-3 1h0m2 0h0m-3 1h0m1 0h0m1 0h0m1 0h0m-3 1h0m1 0h0m1 0h0m1 0h0m-3 1h0m1 0h0m1 0h0m1 0h0m-5 1h0m1 0h0m1 0h0m2 0h0m-3 1h0m1 0h0m1 0h0m1 0h0m-4 1h0m1 0h0m1 0h0m2 0h0m-4 1h0m1 0h0m1 0h0m-3 1h0m1 0h0m1 0h0m2 0h0m-4 1h0m2 0h0m1 0h0m-2 1h0m2 0h0m-4 1h0m1 0h0m1 0h0m1 0h0m1 0h0m-3 1h0m1 0h0m-2 1h0m1 0h0m1 0h0m-1 1h0m1 0h0m1 0h0m-4 1h0m1 0h0m1 0h0m-2 1h0m1 0h0m1 0h0m-3 1h0m2 0h0m1 0h0m-4 1h0m2 0h0m-2 1h0m2 0h0m1 0h0m-3 1h0m1 0h0m1 0h0m-3 1h0m2 0h0m1 0h0m1 0h0m-4 1h0m2 0h0m1 0h0m1 0h0m-3 1h0m1 0h0m-3 1h0m1 0h0m1 0h0m1 0h0m-2 1h0m1 0h0m1 0h0m1 0h0m-4 1h0m3 0h0m-2 1h0m1 0h0m1 0h0m-3 1h0m2 0h0m1 0h0m-3 1h0m1 0h0m1 0h0m-2 1h0m1 0h0m2 0h0m-4 1h0m1 0h0m2 0h0m-3 1h0m1 0h0m1 0h0m1 0h0m-3 2h0m1 0h0m1 0h0m-2 1h0m1 0h0m-2 1h0m1 0h0m1 0h0m1 0h0m-3 1h0m2 0h0m1 0h0m-1 1h0m-1 1h0m-2 1h0m2 0h0m-2 1h0m1 0h0m1 0h0m1 0h0m-3 1h0m1 0h0m1 0h0m-1 1h0m2 0h0m-3 1h0m1 0h0m-1 1h0m1 0h0m0 1h0m-2 1h0m3 0h0m-3 1h0m1 0h0m1 0h0m-2 1h0m1 0h0m0 1h0m1 0h0m-3 1h0m2 0h0m1 0h0m-1 1h0m1 0h0m-2 1h0m1 0h0m-1 1h0m1 0h0m-1 1h0m1 0h0m1 0h0m-3 1h0m1 0h0m1 0h0m-1 1h0m1 0h0" stroke="#008080" stroke-width="2" stroke-linecap="square" fill="none"/><rect x="711.4" y="983.6" width="41.5" height="17.8" fill="#fff" stroke="#333" stroke-width="1"/><text x="732.1" y="997.8" class="lg" text-anchor="middle">LENC</text><text x="642.7" y="1019.1" class="tk" text-anchor="middle">0</text><text x="666.2" y="1019.1" class="tk" text-anchor="middle">4</text><text x="689.5" y="1019.1" class="tk" text-anchor="middle">8</text><text x="713.2" y="1019.1" class="tk" text-anchor="middle">12</text><text x="736.5" y="1019.1" class="tk" text-anchor="middle">16</text><text x="760.2" y="1019.1" class="tk" text-anchor="middle">20</text><path d="M642.7 1009.2v-2" class="tm"/><path d="M666.2 1009.2v-2" class="tm"/><path d="M689.5 1009.2v-2" class="tm"/><path d="M713.2 1009.2v-2" class="tm"/><path d="M736.5 1009.2v-2" class="tm"/><path d="M654.5 1009.2v-2" class="tm"/><path d="M677.9 1009.2v-2" class="tm"/><path d="M701.3 1009.2v-2" class="tm"/><path d="M724.8 1009.2v-2" class="tm"/><path d="M748.3 1009.2v-2" class="tm"/><rect x="21.4" y="906.4" width="739.1" height="102.8" class="fr"/><path d="M144.6 906.4V1009.2" class="fr"/><path d="M267.8 906.4V1009.2" class="fr"/><path d="M390.9 906.4V1009.2" class="fr"/><path d="M514.1 906.4V1009.2" class="fr"/><path d="M637.3 906.4V1009.2" class="fr"/><text x="19.6" y="918.3" class="tk" text-anchor="end">200</text><path d="M21.4 914.5h2" class="tm"/><text x="19.6" y="936.2" class="tk" text-anchor="end">160</text><path d="M21.4 932.4h2" class="tm"/><text x="19.6" y="954" class="tk" text-anchor="end">120</text><path d="M21.4 950.2h2" class="tm"/><text x="19.6" y="971.9" class="tk" text-anchor="end">80</text><path d="M21.4 968.1h2" class="tm"/><text x="19.6" y="989.7" class="tk" text-anchor="end">40</text><path d="M21.4 985.9h2" class="tm"/><text x="19.6" y="1007.6" class="tk" text-anchor="end">0</text><path d="M21.4 1003.8h2" class="tm"/><text x="390.3" y="1061.9" class="cap" text-anchor="middle">(f) Email-EU</text></g>
<g><polygon points="32.9,1184.6 54.3,1181.7 60,1177.4 64.3,1171.7 67.1,1166 71.4,1160.3 74.3,1154.6 77.1,1148.9 81.4,1143.1 85.7,1136 90,1128.9 94.3,1121.7 98.6,1114.6 102.9,1107.4 107.1,1101.7 115.7,1097.4 120,1096.3 140,1096.3 127.1,1097.4 120,1101.7 115.7,1107.4 112.1,1114.6 108.6,1121.7 105.7,1128.9 104.3,1136 102.9,1143.1 101.4,1148.9 100,1154.6 98.6,1160.3 95.7,1166 92.9,1171.7 90,1177.4 87.1,1181.7 84.3,1184.6" fill="#00ff00"/><path d="M125.5 1096.5h0m3 0h0m-13 1h0m4 0h0m1 0h0m2 0h0m1 0h0m1 0h0m4 0h0m1 0h0m-11 1h0m1 0h0m1 0h0m1 0h0m2 0h0m1 0h0m-9 1h0m1 0h0m1 0h0m1 0h0m1 0h0m1 0h0m2 0h0m-9 1h0m2 0h0m1 0h0m4 0h0m-11 1h0m2 0h0m2 0h0m1 0h0m2 0h0m1 0h0m1 0h0m2 0h0m-11 1h0m2 0h0m1 0h0m1 0h0m1 0h0m2 0h0m2 0h0m1 0h0m-11 1h0m3 0h0m1 0h0m1 0h0m1 0h0m1 0h0m2 0h0m1 0h0m-9 1h0m1 0h0m3 0h0m2 0h0m1 0h0m-8 1h0m1 0h0m2 0h0m1 0h0m1 0h0m1 0h0m1 0h0m-10 1h0m1 0h0m1 0h0m2 0h0m1 0h0m1 0h0m-7 1h0m1 0h0m1 0h0m4 0h0m2 0h0m1 0h0m-9 1h0m1 0h0m4 0h0m1 0h0m2 0h0m1 0h0m-12 1h0m2 0h0m3 0h0m2 0h0m1 0h0m1 0h0m3 0h0m1 0h0m-11 1h0m1 0h0m2 0h0m1 0h0m1 0h0m2 0h0m1 0h0m2 0h0m-8 1h0m2 0h0m1 0h0m2 0h0m1 0h0m-12 1h0m1 0h0m2 0h0m2 0h0m1 0h0m1 0h0m1 0h0m2 0h0m1 0h0m1 0h0m-12 1h0m1 0h0m1 0h0m1 0h0m3 0h0m2 0h0m1 0h0m1 0h0m2 0h0m-11 1h0m2 0h0m1 0h0m1 0h0m1 0h0m1 0h0m-5 1h0m3 0h0m2 0h0m1 0h0m1 0h0m-10 1h0m1 0h0m1 0h0m1 0h0m3 0h0m1 0h0m4 0h0m1 0h0m-16 1h0m4 0h0m1 0h0m2 0h0m1 0h0m1 0h0m2 0h0m2 0h0m-8 1h0m2 0h0m1 0h0m1 0h0m1 0h0m1 0h0m1 0h0m-11 1h0m3 0h0m1 0h0m3 0h0m1 0h0m1 0h0m2 0h0m-13 1h0m3 0h0m5 0h0m1 0h0m1 0h0m1 0h0m1 0h0m1 0h0m1 0h0m-14 1h0m1 0h0m1 0h0m2 0h0m3 0h0m1 0h0m2 0h0m1 0h0m1 0h0m2 0h0m1 0h0m-12 1h0m3 0h0m1 0h0m2 0h0m1 0h0m1 0h0m-11 1h0m1 0h0m1 0h0m1 0h0m1 0h0m1 0h0m1 0h0m1 0h0m2 0h0m1 0h0m1 0h0m-10 1h0m2 0h0m2 0h0m1 0h0m1 0h0m1 0h0m2 0h0m-10 1h0m5 0h0m1 0h0m1 0h0m1 0h0m1 0h0m1 0h0m2 0h0m-12 1h0m1 0h0m1 0h0m4 0h0m2 0h0m1 0h0m-11 1h0m3 0h0m2 0h0m1 0h0m1 0h0m1 0h0m1 0h0m2 0h0m-7 1h0m1 0h0m1 0h0m1 0h0m1 0h0m1 0h0m3 0h0m-13 1h0m2 0h0m2 0h0m3 0h0m1 0h0m1 0h0m1 0h0m1 0h0m3 0h0m-12 1h0m1 0h0m1 0h0m1 0h0m1 0h0m2 0h0m2 0h0m1 0h0m3 0h0m-18 1h0m7 0h0m1 0h0m2 0h0m2 0h0m1 0h0m1 0h0m1 0h0m-13 1h0m1 0h0m2 0h0m6 0h0m1 0h0m2 0h0m1 0h0m2 0h0m-14 1h0m2 0h0m2 0h0m2 0h0m1 0h0m2 0h0m1 0h0m1 0h0m1 0h0m-9 1h0m1 0h0m1 0h0m1 0h0m1 0h0m1 0h0m3 0h0m1 0h0m1 0h0m-17 1h0m2 0h0m5 0h0m2 0h0m1 0h0m4 0h0m2 0h0m-17 1h0m2 0h0m1 0h0m1 0h0m1 0h0m1 0h0m2 0h0m2 0h0m1 0h0m1 0h0m1 0h0m4 0h0m-13 1h0m3 0h0m2 0h0m1 0h0m1 0h0m3 0h0m3 0h0m-19 1h0m6 0h0m2 0h0m1 0h0m1 0h0m3 0h0m1 0h0m1 0h0m2 0h0m1 0h0m-14 1h0m1 0h0m1 0h0m2 0h0m2 0h0m1 0h0m1 0h0m1 0h0m1 0h0m2 0h0m1 0h0m3 0h0m-20 1h0m4 0h0m1 0h0m3 0h0m3 0h0m2 0h0m1 0h0m1 0h0m1 0h0m-17 1h0m2 0h0m1 0h0m3 0h0m1 0h0m1 0h0m1 0h0m1 0h0m7 0h0m-19 1h0m2 0h0m5 0h0m2 0h0m1 0h0m3 0h0m2 0h0m2 0h0m-18 1h0m5 0h0m4 0h0m1 0h0m1 0h0m2 0h0m1 0h0m1 0h0m1 0h0m2 0h0m1 0h0m3 0h0m-20 1h0m2 0h0m3 0h0m2 0h0m1 0h0m2 0h0m1 0h0m2 0h0m1 0h0m1 0h0m1 0h0m4 0h0m-22 1h0m7 0h0m1 0h0m4 0h0m1 0h0m3 0h0m-14 1h0m3 0h0m1 0h0m1 0h0m1 0h0m2 0h0m1 0h0m1 0h0m1 0h0m1 0h0m3 0h0m1 0h0m4 0h0m-18 1h0m1 0h0m3 0h0m2 0h0m2 0h0m2 0h0m1 0h0m2 0h0m2 0h0m-21 1h0m2 0h0m1 0h0m2 0h0m4 0h0m3 0h0m1 0h0m1 0h0m1 0h0m2 0h0m1 0h0m3 0h0m-20 1h0m2 0h0m2 0h0m1 0h0m2 0h0m3 0h0m1 0h0m1 0h0m1 0h0m1 0h0m2 0h0m4 0h0m4 0h0m-24 1h0m3 0h0m6 0h0m1 0h0m1 0h0m1 0h0m1 0h0m1 0h0m2 0h0m2 0h0m1 0h0m1 0h0m3 0h0m-26 1h0m3 0h0m2 0h0m1 0h0m3 0h0m1 0h0m1 0h0m1 0h0m2 0h0m1 0h0m1 0h0m1 0h0m3 0h0m1 0h0m2 0h0m-22 1h0m3 0h0m2 0h0m1 0h0m3 0h0m1 0h0m1 0h0m1 0h0m1 0h0m1 0h0m3 0h0m1 0h0m2 0h0m1 0h0m1 0h0m-22 1h0m1 0h0m2 0h0m4 0h0m1 0h0m2 0h0m1 0h0m2 0h0m1 0h0m1 0h0m1 0h0m1 0h0m2 0h0m4 0h0m-22 1h0m1 0h0m4 0h0m2 0h0m1 0h0m1 0h0m1 0h0m1 0h0m1 0h0m2 0h0m2 0h0m1 0h0m2 0h0m2 0h0m-24 1h0m1 0h0m3 0h0m5 0h0m1 0h0m2 0h0m3 0h0m1 0h0m1 0h0m1 0h0m2 0h0m2 0h0m2 0h0m-23 1h0m6 0h0m1 0h0m2 0h0m1 0h0m1 0h0m1 0h0m1 0h0m2 0h0m1 0h0m1 0h0m-19 1h0m3 0h0m1 0h0m2 0h0m1 0h0m2 0h0m2 0h0m2 0h0m1 0h0m1 0h0m1 0h0m1 0h0m1 0h0m1 0h0m1 0h0m1 0h0m1 0h0m1 0h0m-22 1h0m7 0h0m1 0h0m1 0h0m1 0h0m3 0h0m1 0h0m2 0h0m1 0h0m1 0h0m1 0h0m2 0h0m1 0h0m1 0h0m-23 1h0m4 0h0m3 0h0m2 0h0m1 0h0m1 0h0m2 0h0m1 0h0m1 0h0m2 0h0m1 0h0m3 0h0m2 0h0m1 0h0m-25 1h0m4 0h0m1 0h0m1 0h0m2 0h0m1 0h0m1 0h0m1 0h0m2 0h0m1 0h0m1 0h0m2 0h0m1 0h0m1 0h0m-22 1h0m2 0h0m1 0h0m1 0h0m2 0h0m3 0h0m1 0h0m1 0h0m1 0h0m2 0h0m1 0h0m2 0h0m2 0h0m2 0h0m4 0h0m1 0h0m-23 1h0m1 0h0m1 0h0m2 0h0m1 0h0m1 0h0m3 0h0m1 0h0m4 0h0m1 0h0m2 0h0m2 0h0m3 0h0m-22 1h0m3 0h0m3 0h0m5 0h0m2 0h0m1 0h0m1 0h0m2 0h0m1 0h0m1 0h0m2 0h0m2 0h0m-25 1h0m1 0h0m1 0h0m1 0h0m1 0h0m2 0h0m1 0h0m2 0h0m2 0h0m1 0h0m1 0h0m1 0h0m1 0h0m3 0h0m1 0h0m1 0h0m1 0h0m-23 1h0m4 0h0m2 0h0m3 0h0m1 0h0m1 0h0m1 0h0m1 0h0m2 0h0m1 0h0m1 0h0m1 0h0m2 0h0m3 0h0m-23 1h0m4 0h0m2 0h0m1 0h0m2 0h0m1 0h0m1 0h0m3 0h0m1 0h0m1 0h0m2 0h0m1 0h0m4 0h0m-24 1h0m4 0h0m1 0h0m3 0h0m4 0h0m2 0h0m1 0h0m1 0h0m1 0h0m2 0h0m3 0h0m1 0h0m2 0h0m-26 1h0m3 0h0m2 0h0m2 0h0m1 0h0m4 0h0m1 0h0m1 0h0m1 0h0m2 0h0m1 0h0m2 0h0m1 0h0m4 0h0m1 0h0m-28 1h0m1 0h0m3 0h0m3 0h0m1 0h0m2 0h0m1 0h0m1 0h0m1 0h0m1 0h0m1 0h0m1 0h0m1 0h0m1 0h0m2 0h0m1 0h0m1 0h0m2 0h0m1 0h0m2 0h0m-26 1h0m3 0h0m2 0h0m2 0h0m1 0h0m2 0h0m2 0h0m2 0h0m1 0h0m2 0h0m1 0h0m1 0h0m4 0h0m-22 1h0m2 0h0m2 0h0m1 0h0m1 0h0m2 0h0m1 0h0m2 0h0m2 0h0m2 0h0m2 0h0m1 0h0m1 0h0m2 0h0m1 0h0m-22 1h0m1 0h0m2 0h0m1 0h0m5 0h0m1 0h0m1 0h0m1 0h0m1 0h0m1 0h0m1 0h0m1 0h0m1 0h0m1 0h0m7 0h0m-28 1h0m2 0h0m4 0h0m3 0h0m2 0h0m1 0h0m1 0h0m1 0h0m1 0h0m1 0h0m1 0h0m1 0h0m2 0h0m1 0h0m1 0h0m1 0h0m3 0h0m-26 1h0m1 0h0m2 0h0m1 0h0m2 0h0m2 0h0m2 0h0m1 0h0m1 0h0m1 0h0m1 0h0m1 0h0m1 0h0m1 0h0m1 0h0m1 0h0m2 0h0m1 0h0m2 0h0m-26 1h0m3 0h0m1 0h0m3 0h0m1 0h0m3 0h0m1 0h0m1 0h0m2 0h0m1 0h0m1 0h0m1 0h0m1 0h0m2 0h0m1 0h0m1 0h0m3 0h0m-27 1h0m3 0h0m2 0h0m4 0h0m2 0h0m1 0h0m1 0h0m2 0h0m1 0h0m1 0h0m1 0h0m1 0h0m6 0h0m2 0h0m-26 1h0m2 0h0m4 0h0m3 0h0m1 0h0m1 0h0m4 0h0m1 0h0m2 0h0m1 0h0m1 0h0m1 0h0m1 0h0m2 0h0m3 0h0m-27 1h0m4 0h0m3 0h0m3 0h0m1 0h0m1 0h0m1 0h0m1 0h0m2 0h0m1 0h0m1 0h0m1 0h0m3 0h0m1 0h0m1 0h0m-21 1h0m4 0h0m2 0h0m1 0h0m1 0h0m1 0h0m3 0h0m4 0h0m-16 1h0m2 0h0m1 0h0m2 0h0m1 0h0m1 0h0m1 0h0m1 0h0m1 0h0m1 0h0m2 0h0m1 0h0m2 0h0m1 0h0m3 0h0m4 0h0m-27 1h0m3 0h0m1 0h0m1 0h0m1 0h0m1 0h0m1 0h0m1 0h0m1 0h0m2 0h0m1 0h0m1 0h0m2 0h0m3 0h0m1 0h0m2 0h0m-24 1h0m1 0h0m1 0h0m1 0h0m5 0h0m1 0h0m1 0h0m1 0h0m2 0h0m2 0h0m2 0h0m1 0h0m2 0h0m1 0h0m1 0h0m3 0h0m1 0h0m-37 1h0m2 0h0m1 0h0m1 0h0m1 0h0m1 0h0m2 0h0m2 0h0m1 0h0m1 0h0m2 0h0m1 0h0m1 0h0m2 0h0m1 0h0m1 0h0m1 0h0m1 0h0m4 0h0m1 0h0m2 0h0m1 0h0m1 0h0m2 0h0m2 0h0m-40 1h0m2 0h0m2 0h0m2 0h0m1 0h0m1 0h0m1 0h0m3 0h0m1 0h0m1 0h0m1 0h0m1 0h0m1 0h0m1 0h0m1 0h0m1 0h0m2 0h0m3 0h0m2 0h0m2 0h0m1 0h0m2 0h0m-48 1h0m7 0h0m2 0h0m6 0h0m1 0h0m6 0h0m10 0h0m1 0h0m2 0h0m12 0h0" stroke="#00ff00" stroke-width="1.5" stroke-linecap="square" fill="none"/><rect x="116.7" y="1164.6" width="22.9" height="16.7" fill="#fff" stroke="#333" stroke-width="1"/><text x="128.2" y="1177.7" class="lg" text-anchor="middle">CC</text><text x="35.1" y="1200" class="tk" text-anchor="middle">10</text><text x="53.6" y="1200" class="tk" text-anchor="middle">12</text><text x="71.9" y="1200" class="tk" text-anchor="middle">14</text><text x="89.9" y="1200" class="tk" text-anchor="middle">16</text><text x="108.2" y="1200" class="tk" text-anchor="middle">18</text><text x="126.2" y="1200" class="tk" text-anchor="middle">20</text><path d="M35.1 1190.1v-2" class="tm"/><path d="M53.6 1190.1v-2" class="tm"/><path d="M71.9 1190.1v-2" class="tm"/><path d="M89.9 1190.1v-2" class="tm"/><path d="M108.2 1190.1v-2" class="tm"/><path d="M126.2 1190.1v-2" class="tm"/><path d="M44.4 1190.1v-2" class="tm"/><path d="M62.8 1190.1v-2" class="tm"/><path d="M80.9 1190.1v-2" class="tm"/><path d="M99 1190.1v-2" class="tm"/><path d="M117.2 1190.1v-2" class="tm"/><path d="M209.5 1096.5h0m0 1h0m-5 1h0m3 0h0m1 0h0m-11 1h0m1 0h0m2 0h0m4 0h0m-11 1h0m1 0h0m1 0h0m1 0h0m5 0h0m1 0h0m5 0h0m10 0h0m3 0h0m-31 1h0m4 0h0m5 0h0m1 0h0m3 0h0m2 0h0m5 0h0m4 0h0m5 0h0m12 0h0m-44 1h0m2 0h0m3 0h0m2 0h0m8 0h0m2 0h0m1 0h0m7 0h0m5 0h0m22 0h0m-56 1h0m1 0h0m1 0h0m1 0h0m4 0h0m2 0h0m1 0h0m4 0h0m6 0h0m6 0h0m1 0h0m-34 1h0m3 0h0m1 0h0m2 0h0m1 0h0m1 0h0m6 0h0m2 0h0m5 0h0m-21 1h0m1 0h0m1 0h0m2 0h0m4 0h0m2 0h0m1 0h0m2 0h0m4 0h0m7 0h0m3 0h0m-29 1h0m1 0h0m1 0h0m4 0h0m4 0h0m2 0h0m1 0h0m1 0h0m1 0h0m2 0h0m1 0h0m2 0h0m-19 1h0m4 0h0m4 0h0m1 0h0m1 0h0m2 0h0m3 0h0m4 0h0m4 0h0m-27 1h0m1 0h0m1 0h0m4 0h0m4 0h0m1 0h0m1 0h0m2 0h0m1 0h0m6 0h0m-22 1h0m1 0h0m3 0h0m4 0h0m1 0h0m3 0h0m3 0h0m5 0h0m1 0h0m2 0h0m2 0h0m-25 1h0m1 0h0m1 0h0m3 0h0m1 0h0m2 0h0m2 0h0m1 0h0m1 0h0m1 0h0m1 0h0m1 0h0m1 0h0m2 0h0m-22 1h0m1 0h0m7 0h0m4 0h0m6 0h0m1 0h0m3 0h0m-24 1h0m2 0h0m2 0h0m1 0h0m2 0h0m3 0h0m1 0h0m3 0h0m3 0h0m4 0h0m1 0h0m1 0h0m1 0h0m1 0h0m1 0h0m1 0h0m-27 1h0m1 0h0m6 0h0m4 0h0m7 0h0m1 0h0m9 0h0m-27 1h0m1 0h0m1 0h0m3 0h0m2 0h0m1 0h0m1 0h0m6 0h0m2 0h0m3 0h0m1 0h0m-23 1h0m1 0h0m1 0h0m2 0h0m1 0h0m1 0h0m1 0h0m2 0h0m4 0h0m1 0h0m4 0h0m4 0h0m-21 1h0m1 0h0m1 0h0m1 0h0m1 0h0m1 0h0m2 0h0m1 0h0m1 0h0m6 0h0m1 0h0m3 0h0m-20 1h0m1 0h0m1 0h0m3 0h0m3 0h0m1 0h0m1 0h0m1 0h0m3 0h0m4 0h0m1 0h0m1 0h0m-22 1h0m1 0h0m2 0h0m1 0h0m1 0h0m2 0h0m1 0h0m1 0h0m3 0h0m3 0h0m1 0h0m1 0h0m4 0h0m-21 1h0m1 0h0m1 0h0m1 0h0m2 0h0m2 0h0m2 0h0m4 0h0m1 0h0m1 0h0m3 0h0m-19 1h0m1 0h0m1 0h0m2 0h0m2 0h0m2 0h0m1 0h0m4 0h0m1 0h0m5 0h0m-18 1h0m1 0h0m1 0h0m1 0h0m2 0h0m1 0h0m1 0h0m1 0h0m1 0h0m1 0h0m1 0h0m4 0h0m2 0h0m-18 1h0m1 0h0m2 0h0m1 0h0m1 0h0m1 0h0m1 0h0m3 0h0m1 0h0m1 0h0m1 0h0m1 0h0m2 0h0m-17 1h0m1 0h0m3 0h0m1 0h0m3 0h0m1 0h0m1 0h0m2 0h0m7 0h0m-19 1h0m1 0h0m1 0h0m2 0h0m1 0h0m2 0h0m1 0h0m1 0h0m1 0h0m1 0h0m1 0h0m1 0h0m-12 1h0m1 0h0m1 0h0m1 0h0m2 0h0m2 0h0m1 0h0m1 0h0m6 0h0m1 0h0m1 0h0m-18 1h0m1 0h0m2 0h0m2 0h0m2 0h0m4 0h0m1 0h0m1 0h0m1 0h0m2 0h0m-16 1h0m1 0h0m1 0h0m1 0h0m2 0h0m8 0h0m2 0h0m-16 1h0m1 0h0m1 0h0m2 0h0m1 0h0m1 0h0m2 0h0m5 0h0m1 0h0m2 0h0m1 0h0m1 0h0m1 0h0m-19 1h0m1 0h0m1 0h0m2 0h0m1 0h0m1 0h0m2 0h0m1 0h0m2 0h0m1 0h0m5 0h0m-17 1h0m1 0h0m1 0h0m1 0h0m1 0h0m1 0h0m1 0h0m1 0h0m1 0h0m1 0h0m2 0h0m-11 1h0m1 0h0m1 0h0m1 0h0m2 0h0m4 0h0m1 0h0m1 0h0m1 0h0m3 0h0m1 0h0m-16 1h0m2 0h0m1 0h0m1 0h0m3 0h0m1 0h0m3 0h0m2 0h0m1 0h0m-14 1h0m1 0h0m1 0h0m1 0h0m3 0h0m2 0h0m2 0h0m2 0h0m1 0h0m1 0h0m1 0h0m-16 1h0m1 0h0m1 0h0m1 0h0m1 0h0m1 0h0m1 0h0m1 0h0m2 0h0m1 0h0m5 0h0m-15 1h0m1 0h0m1 0h0m1 0h0m1 0h0m1 0h0m1 0h0m1 0h0m1 0h0m3 0h0m2 0h0m1 0h0m1 0h0m-16 1h0m2 0h0m1 0h0m1 0h0m1 0h0m2 0h0m1 0h0m2 0h0m3 0h0m1 0h0m-13 1h0m1 0h0m1 0h0m1 0h0m1 0h0m1 0h0m1 0h0m1 0h0m1 0h0m1 0h0m1 0h0m1 0h0m2 0h0m-13 1h0m1 0h0m1 0h0m3 0h0m1 0h0m1 0h0m1 0h0m2 0h0m2 0h0m-12 1h0m1 0h0m1 0h0m2 0h0m1 0h0m1 0h0m2 0h0m2 0h0m1 0h0m1 0h0m-13 1h0m1 0h0m1 0h0m2 0h0m1 0h0m1 0h0m3 0h0m1 0h0m1 0h0m1 0h0m2 0h0m-14 1h0m1 0h0m1 0h0m1 0h0m1 0h0m1 0h0m1 0h0m2 0h0m2 0h0m1 0h0m2 0h0m-12 1h0m1 0h0m1 0h0m1 0h0m1 0h0m4 0h0m3 0h0m-11 1h0m1 0h0m1 0h0m1 0h0m1 0h0m1 0h0m1 0h0m2 0h0m3 0h0m-13 1h0m1 0h0m1 0h0m1 0h0m1 0h0m1 0h0m2 0h0m1 0h0m1 0h0m1 0h0m1 0h0m1 0h0m1 0h0m-12 1h0m1 0h0m1 0h0m2 0h0m3 0h0m1 0h0m1 0h0m2 0h0m-11 1h0m1 0h0m1 0h0m1 0h0m3 0h0m2 0h0m1 0h0m1 0h0m-10 1h0m1 0h0m1 0h0m1 0h0m1 0h0m1 0h0m3 0h0m3 0h0m-11 1h0m1 0h0m2 0h0m1 0h0m2 0h0m1 0h0m2 0h0m-9 1h0m1 0h0m3 0h0m1 0h0m1 0h0m1 0h0m1 0h0m1 0h0m2 0h0m-12 1h0m1 0h0m1 0h0m1 0h0m1 0h0m4 0h0m1 0h0m7 0h0m-16 1h0m1 0h0m2 0h0m2 0h0m1 0h0m4 0h0m1 0h0m-11 1h0m1 0h0m1 0h0m1 0h0m1 0h0m1 0h0m1 0h0m3 0h0m1 0h0m-10 1h0m1 0h0m1 0h0m1 0h0m1 0h0m1 0h0m2 0h0m1 0h0m-8 1h0m1 0h0m1 0h0m1 0h0m1 0h0m1 0h0m1 0h0m1 0h0m1 0h0m2 0h0m-10 1h0m1 0h0m2 0h0m1 0h0m1 0h0m2 0h0m-8 1h0m1 0h0m1 0h0m1 0h0m1 0h0m1 0h0m1 0h0m2 0h0m1 0h0m-9 1h0m1 0h0m1 0h0m1 0h0m1 0h0m1 0h0m1 0h0m1 0h0m1 0h0m10 0h0m-18 1h0m1 0h0m1 0h0m1 0h0m1 0h0m1 0h0m1 0h0m1 0h0m1 0h0m-9 1h0m1 0h0m1 0h0m1 0h0m2 0h0m2 0h0m1 0h0m-8 1h0m1 0h0m1 0h0m2 0h0m1 0h0m1 0h0m2 0h0m9 0h0m-16 1h0m1 0h0m3 0h0m1 0h0m-6 1h0m1 0h0m1 0h0m1 0h0m1 0h0m-4 1h0m1 0h0m1 0h0m3 0h0m1 0h0m-5 1h0m1 0h0m1 0h0m1 0h0m1 0h0m1 0h0m-7 1h0m1 0h0m1 0h0m1 0h0m1 0h0m1 0h0m2 0h0m1 0h0m-8 1h0m1 0h0m1 0h0m1 0h0m1 0h0m1 0h0m1 0h0m1 0h0m10 0h0m-17 1h0m1 0h0m1 0h0m1 0h0m2 0h0m1 0h0m-6 1h0m1 0h0m1 0h0m1 0h0m1 0h0m1 0h0m2 0h0m-7 1h0m1 0h0m1 0h0m1 0h0m1 0h0m1 0h0m-5 1h0m1 0h0m1 0h0m1 0h0m1 0h0m1 0h0m1 0h0m-6 1h0m1 0h0m1 0h0m3 0h0m-6 1h0m1 0h0m1 0h0m1 0h0m1 0h0m1 0h0m-3 1h0m1 0h0m2 0h0m-4 1h0m1 0h0m1 0h0m2 0h0m1 0h0m-6 1h0m1 0h0m1 0h0m1 0h0m1 0h0m1 0h0m-5 1h0m2 0h0m1 0h0m1 0h0m1 0h0m-2 1h0m1 0h0m1 0h0m-5 1h0m2 0h0m3 0h0m-4 1h0m1 0h0m2 0h0m-4 1h0m1 0h0m1 0h0m1 0h0m1 0h0m-4 1h0m1 0h0m1 0h0m1 0h0m1 0h0m-4 1h0m1 0h0m1 0h0m1 0h0m-3 1h0m1 0h0m1 0h0m2 0h0m-3 1h0m1 0h0m2 0h0m-4 1h0m1 0h0m1 0h0m1 0h0m-3 1h0" stroke="#0000ff" stroke-width="1.5" stroke-linecap="square" fill="none"/><rect x="239.7" y="1164.1" width="22.4" height="16.5" fill="#fff" stroke="#333" stroke-width="1"/><text x="250.9" y="1177" class="lg" text-anchor="middle">EC</text><text x="151.2" y="1200" class="tk" text-anchor="middle">0</text><text x="171.6" y="1200" class="tk" text-anchor="middle">5</text><text x="192.2" y="1200" class="tk" text-anchor="middle">10</text><text x="212.9" y="1200" class="tk" text-anchor="middle">15</text><text x="233.3" y="1200" class="tk" text-anchor="middle">20</text><text x="254" y="1200" class="tk" text-anchor="middle">25</text><path d="M151.2 1190.1v-2" class="tm"/><path d="M171.6 1190.1v-2" class="tm"/><path d="M192.2 1190.1v-2" class="tm"/><path d="M212.9 1190.1v-2" class="tm"/><path d="M233.3 1190.1v-2" class="tm"/><path d="M254 1190.1v-2" class="tm"/><path d="M161.4 1190.1v-2" class="tm"/><path d="M181.9 1190.1v-2" class="tm"/><path d="M202.5 1190.1v-2" class="tm"/><path d="M223.1 1190.1v-2" class="tm"/><path d="M243.6 1190.1v-2" class="tm"/><path d="M334.5 1097.5h0m10 0h0m6 0h0m2 0h0m1 0h0m4 0h0m25 0h0m-50 1h0m1 0h0m2 0h0m1 0h0m3 0h0m5 0h0m1 0h0m2 0h0m12 0h0m1 0h0m-32 1h0m2 0h0m3 0h0m4 0h0m2 0h0m5 0h0m2 0h0m3 0h0m3 0h0m1 0h0m-32 1h0m2 0h0m3 0h0m2 0h0m1 0h0m2 0h0m1 0h0m3 0h0m1 0h0m3 0h0m-21 1h0m2 0h0m1 0h0m1 0h0m1 0h0m1 0h0m2 0h0m1 0h0m1 0h0m5 0h0m1 0h0m3 0h0m1 0h0m1 0h0m1 0h0m4 0h0m-30 1h0m2 0h0m2 0h0m1 0h0m1 0h0m1 0h0m2 0h0m2 0h0m1 0h0m1 0h0m1 0h0m6 0h0m1 0h0m-20 1h0m1 0h0m1 0h0m1 0h0m1 0h0m1 0h0m1 0h0m1 0h0m2 0h0m1 0h0m1 0h0m1 0h0m1 0h0m1 0h0m2 0h0m2 0h0m-21 1h0m1 0h0m2 0h0m1 0h0m1 0h0m2 0h0m2 0h0m3 0h0m1 0h0m2 0h0m2 0h0m1 0h0m2 0h0m4 0h0m-25 1h0m1 0h0m1 0h0m1 0h0m1 0h0m2 0h0m1 0h0m2 0h0m1 0h0m1 0h0m2 0h0m2 0h0m2 0h0m3 0h0m-24 1h0m2 0h0m1 0h0m2 0h0m3 0h0m1 0h0m1 0h0m1 0h0m2 0h0m1 0h0m1 0h0m1 0h0m2 0h0m2 0h0m1 0h0m1 0h0m-21 1h0m3 0h0m2 0h0m2 0h0m3 0h0m1 0h0m1 0h0m5 0h0m1 0h0m1 0h0m-21 1h0m2 0h0m3 0h0m4 0h0m1 0h0m2 0h0m4 0h0m2 0h0m1 0h0m-17 1h0m2 0h0m1 0h0m2 0h0m1 0h0m1 0h0m1 0h0m1 0h0m2 0h0m1 0h0m1 0h0m1 0h0m-17 1h0m1 0h0m2 0h0m2 0h0m1 0h0m3 0h0m1 0h0m2 0h0m2 0h0m2 0h0m2 0h0m-19 1h0m1 0h0m1 0h0m1 0h0m2 0h0m2 0h0m1 0h0m2 0h0m1 0h0m1 0h0m2 0h0m1 0h0m2 0h0m-18 1h0m4 0h0m2 0h0m2 0h0m1 0h0m1 0h0m1 0h0m1 0h0m2 0h0m1 0h0m-18 1h0m6 0h0m3 0h0m4 0h0m1 0h0m1 0h0m1 0h0m-16 1h0m1 0h0m1 0h0m1 0h0m2 0h0m4 0h0m1 0h0m1 0h0m2 0h0m1 0h0m1 0h0m1 0h0m1 0h0m-19 1h0m2 0h0m1 0h0m2 0h0m3 0h0m1 0h0m1 0h0m1 0h0m2 0h0m1 0h0m2 0h0m-16 1h0m4 0h0m1 0h0m1 0h0m4 0h0m1 0h0m2 0h0m2 0h0m1 0h0m1 0h0m-17 1h0m1 0h0m1 0h0m2 0h0m1 0h0m1 0h0m1 0h0m1 0h0m2 0h0m3 0h0m1 0h0m-14 1h0m2 0h0m1 0h0m1 0h0m2 0h0m2 0h0m1 0h0m1 0h0m2 0h0m-15 1h0m1 0h0m1 0h0m1 0h0m1 0h0m1 0h0m1 0h0m1 0h0m3 0h0m1 0h0m4 0h0m1 0h0m-16 1h0m1 0h0m2 0h0m2 0h0m1 0h0m1 0h0m2 0h0m2 0h0m2 0h0m1 0h0m-15 1h0m1 0h0m3 0h0m1 0h0m1 0h0m1 0h0m2 0h0m1 0h0m2 0h0m1 0h0m1 0h0m-15 1h0m1 0h0m1 0h0m2 0h0m1 0h0m1 0h0m1 0h0m1 0h0m1 0h0m1 0h0m1 0h0m1 0h0m1 0h0m1 0h0m1 0h0m-15 1h0m1 0h0m2 0h0m1 0h0m1 0h0m2 0h0m1 0h0m1 0h0m1 0h0m1 0h0m1 0h0m2 0h0m-15 1h0m1 0h0m1 0h0m1 0h0m1 0h0m1 0h0m1 0h0m1 0h0m1 0h0m1 0h0m1 0h0m1 0h0m1 0h0m1 0h0m-9 1h0m1 0h0m1 0h0m2 0h0m4 0h0m1 0h0m1 0h0m1 0h0m-15 1h0m1 0h0m1 0h0m1 0h0m1 0h0m1 0h0m1 0h0m1 0h0m1 0h0m2 0h0m2 0h0m-12 1h0m1 0h0m1 0h0m1 0h0m2 0h0m1 0h0m1 0h0m1 0h0m1 0h0m1 0h0m1 0h0m-12 1h0m1 0h0m1 0h0m1 0h0m1 0h0m2 0h0m3 0h0m1 0h0m1 0h0m-13 1h0m3 0h0m1 0h0m1 0h0m1 0h0m1 0h0m4 0h0m1 0h0m2 0h0m-15 1h0m1 0h0m1 0h0m2 0h0m1 0h0m1 0h0m1 0h0m1 0h0m1 0h0m1 0h0m1 0h0m1 0h0m2 0h0m-12 1h0m1 0h0m1 0h0m1 0h0m1 0h0m1 0h0m1 0h0m3 0h0m2 0h0m1 0h0m-11 1h0m1 0h0m1 0h0m1 0h0m1 0h0m1 0h0m1 0h0m1 0h0m2 0h0m1 0h0m-14 1h0m1 0h0m1 0h0m1 0h0m1 0h0m1 0h0m2 0h0m1 0h0m1 0h0m2 0h0m2 0h0m1 0h0m-14 1h0m2 0h0m1 0h0m1 0h0m1 0h0m1 0h0m2 0h0m2 0h0m1 0h0m1 0h0m1 0h0m-13 1h0m1 0h0m1 0h0m2 0h0m1 0h0m2 0h0m1 0h0m2 0h0m1 0h0m-11 1h0m1 0h0m1 0h0m3 0h0m1 0h0m1 0h0m1 0h0m1 0h0m1 0h0m1 0h0m1 0h0m-13 1h0m1 0h0m1 0h0m1 0h0m2 0h0m1 0h0m1 0h0m1 0h0m1 0h0m1 0h0m1 0h0m1 0h0m-12 1h0m1 0h0m1 0h0m1 0h0m4 0h0m1 0h0m1 0h0m2 0h0m1 0h0m-13 1h0m1 0h0m2 0h0m2 0h0m1 0h0m1 0h0m1 0h0m1 0h0m1 0h0m1 0h0m1 0h0m-12 1h0m4 0h0m2 0h0m1 0h0m1 0h0m2 0h0m1 0h0m-12 1h0m2 0h0m2 0h0m1 0h0m2 0h0m1 0h0m1 0h0m1 0h0m1 0h0m1 0h0m-12 1h0m4 0h0m1 0h0m3 0h0m1 0h0m2 0h0m-13 1h0m1 0h0m1 0h0m2 0h0m1 0h0m1 0h0m1 0h0m1 0h0m1 0h0m1 0h0m1 0h0m2 0h0m-13 1h0m2 0h0m1 0h0m1 0h0m1 0h0m1 0h0m1 0h0m1 0h0m1 0h0m1 0h0m1 0h0m1 0h0m-12 1h0m2 0h0m2 0h0m2 0h0m1 0h0m-7 1h0m2 0h0m1 0h0m3 0h0m1 0h0m2 0h0m2 0h0m-12 1h0m1 0h0m1 0h0m1 0h0m1 0h0m1 0h0m1 0h0m1 0h0m1 0h0m1 0h0m1 0h0m1 0h0m1 0h0m-12 1h0m3 0h0m3 0h0m2 0h0m1 0h0m-9 1h0m1 0h0m2 0h0m2 0h0m2 0h0m1 0h0m2 0h0m1 0h0m1 0h0m-13 1h0m1 0h0m1 0h0m2 0h0m4 0h0m1 0h0m1 0h0m1 0h0m-10 1h0m1 0h0m1 0h0m1 0h0m1 0h0m1 0h0m1 0h0m1 0h0m1 0h0m1 0h0m1 0h0m-12 1h0m1 0h0m1 0h0m1 0h0m2 0h0m2 0h0m1 0h0m2 0h0m1 0h0m-11 1h0m2 0h0m1 0h0m1 0h0m2 0h0m1 0h0m1 0h0m1 0h0m-7 1h0m1 0h0m1 0h0m2 0h0m1 0h0m1 0h0m3 0h0m-10 1h0m1 0h0m2 0h0m1 0h0m1 0h0m2 0h0m1 0h0m1 0h0m-12 1h0m1 0h0m2 0h0m1 0h0m1 0h0m2 0h0m1 0h0m2 0h0m-10 1h0m3 0h0m1 0h0m1 0h0m2 0h0m2 0h0m4 0h0m-13 1h0m2 0h0m1 0h0m1 0h0m1 0h0m2 0h0m1 0h0m1 0h0m1 0h0m1 0h0m-11 1h0m1 0h0m1 0h0m1 0h0m1 0h0m1 0h0m1 0h0m2 0h0m1 0h0m1 0h0m1 0h0m-12 1h0m3 0h0m1 0h0m1 0h0m1 0h0m1 0h0m1 0h0m1 0h0m1 0h0m1 0h0m1 0h0m-13 1h0m3 0h0m1 0h0m3 0h0m1 0h0m1 0h0m2 0h0m2 0h0m-11 1h0m2 0h0m1 0h0m1 0h0m2 0h0m1 0h0m1 0h0m1 0h0m2 0h0m-12 1h0m1 0h0m1 0h0m1 0h0m1 0h0m1 0h0m1 0h0m1 0h0m1 0h0m1 0h0m1 0h0m1 0h0m-12 1h0m1 0h0m1 0h0m5 0h0m1 0h0m2 0h0m-9 1h0m1 0h0m3 0h0m1 0h0m1 0h0m2 0h0m1 0h0m1 0h0m-10 1h0m1 0h0m2 0h0m2 0h0m2 0h0m2 0h0m-11 1h0m2 0h0m1 0h0m1 0h0m2 0h0m1 0h0m2 0h0m2 0h0m-11 1h0m1 0h0m1 0h0m2 0h0m1 0h0m1 0h0m1 0h0m2 0h0m1 0h0m1 0h0m-11 1h0m1 0h0m1 0h0m2 0h0m1 0h0m3 0h0m-8 1h0m1 0h0m1 0h0m2 0h0m1 0h0m1 0h0m2 0h0m1 0h0m1 0h0m1 0h0m-12 1h0m1 0h0m1 0h0m1 0h0m1 0h0m1 0h0m1 0h0m1 0h0m3 0h0m-8 1h0m1 0h0m1 0h0m1 0h0m1 0h0m1 0h0m1 0h0m1 0h0m1 0h0m1 0h0m-8 1h0m3 0h0m1 0h0m1 0h0m1 0h0m-8 1h0m1 0h0m1 0h0m1 0h0m1 0h0m2 0h0m1 0h0m1 0h0m1 0h0m-9 1h0m2 0h0m1 0h0m1 0h0m2 0h0m1 0h0m1 0h0m1 0h0m-10 1h0m2 0h0m2 0h0m1 0h0m2 0h0m2 0h0m1 0h0m-9 1h0m1 0h0m1 0h0m1 0h0m1 0h0m1 0h0m1 0h0m1 0h0m1 0h0m-8 1h0m1 0h0m1 0h0m1 0h0m1 0h0m1 0h0m1 0h0m1 0h0m1 0h0m-7 1h0m2 0h0m2 0h0m2 0h0m1 0h0m-8 1h0m2 0h0m2 0h0m1 0h0m2 0h0m1 0h0m1 0h0m-9 1h0m1 0h0m1 0h0m1 0h0m1 0h0m2 0h0m2 0h0m-9 1h0m1 0h0m1 0h0m1 0h0m1 0h0m1 0h0m2 0h0m1 0h0m1 0h0m-9 1h0m1 0h0m1 0h0m1 0h0m1 0h0m1 0h0m2 0h0m1 0h0m-6 1h0m1 0h0m1 0h0m1 0h0m1 0h0m2 0h0m1 0h0m-7 1h0m1 0h0m1 0h0m1 0h0m1 0h0m1 0h0m-2 1h0" stroke="#808000" stroke-width="1.5" stroke-linecap="square" fill="none"/><rect x="338.1" y="1164.6" width="48.9" height="17.6" fill="#fff" stroke="#333" stroke-width="1"/><text x="362.6" y="1178.6" class="lg" text-anchor="middle">Hindex</text><text x="273" y="1200" class="tk" text-anchor="middle">0</text><text x="294.6" y="1200" class="tk" text-anchor="middle">2</text><text x="315.7" y="1200" class="tk" text-anchor="middle">4</text><text x="337.3" y="1200" class="tk" text-anchor="middle">6</text><text x="358.9" y="1200" class="tk" text-anchor="middle">8</text><text x="381.3" y="1200" class="tk" text-anchor="middle">10</text><path d="M273 1190.1v-2" class="tm"/><path d="M294.6 1190.1v-2" class="tm"/><path d="M315.7 1190.1v-2" class="tm"/><path d="M337.3 1190.1v-2" class="tm"/><path d="M358.9 1190.1v-2" class="tm"/><path d="M381.3 1190.1v-2" class="tm"/><path d="M283.8 1190.1v-2" class="tm"/><path d="M305.1 1190.1v-2" class="tm"/><path d="M326.5 1190.1v-2" class="tm"/><path d="M348.1 1190.1v-2" class="tm"/><path d="M370.1 1190.1v-2" class="tm"/><polygon points="396.4,1130.9 396.4,1185.3 400.7,1185.3 400.7,1130.9" fill="#800080"/><path d="M396.5 1096.5h0m1 0h0m4 0h0m11 0h0m6 0h0m5 0h0m1 0h0m7 0h0m-34 1h0m2 0h0m2 0h0m1 0h0m3 0h0m2 0h0m-11 1h0m1 0h0m1 0h0m1 0h0m2 0h0m2 0h0m1 0h0m4 0h0m10 0h0m15 0h0m3 0h0m-40 1h0m1 0h0m1 0h0m1 0h0m1 0h0m1 0h0m1 0h0m2 0h0m3 0h0m1 0h0m1 0h0m4 0h0m49 0h0m-67 1h0m1 0h0m1 0h0m1 0h0m2 0h0m1 0h0m1 0h0m2 0h0m3 0h0m4 0h0m8 0h0m6 0h0m-29 1h0m1 0h0m2 0h0m1 0h0m2 0h0m1 0h0m4 0h0m2 0h0m10 0h0m-23 1h0m1 0h0m1 0h0m1 0h0m1 0h0m1 0h0m1 0h0m1 0h0m1 0h0m5 0h0m4 0h0m17 0h0m1 0h0m1 0h0m-35 1h0m2 0h0m1 0h0m2 0h0m2 0h0m1 0h0m3 0h0m8 0h0m12 0h0m1 0h0m1 0h0m59 0h0m-93 1h0m1 0h0m1 0h0m1 0h0m2 0h0m1 0h0m1 0h0m1 0h0m1 0h0m2 0h0m1 0h0m1 0h0m1 0h0m38 0h0m-52 1h0m1 0h0m2 0h0m1 0h0m3 0h0m8 0h0m30 0h0m-45 1h0m1 0h0m1 0h0m1 0h0m1 0h0m2 0h0m1 0h0m1 0h0m3 0h0m1 0h0m2 0h0m3 0h0m5 0h0m9 0h0m2 0h0m11 0h0m-44 1h0m1 0h0m1 0h0m1 0h0m1 0h0m1 0h0m3 0h0m2 0h0m16 0h0m4 0h0m2 0h0m4 0h0m47 0h0m-82 1h0m1 0h0m2 0h0m1 0h0m1 0h0m1 0h0m1 0h0m1 0h0m2 0h0m4 0h0m8 0h0m4 0h0m10 0h0m-36 1h0m2 0h0m4 0h0m3 0h0m1 0h0m1 0h0m1 0h0m5 0h0m4 0h0m10 0h0m13 0h0m-44 1h0m1 0h0m1 0h0m3 0h0m1 0h0m1 0h0m2 0h0m3 0h0m25 0h0m-38 1h0m1 0h0m2 0h0m3 0h0m2 0h0m2 0h0m1 0h0m1 0h0m1 0h0m2 0h0m1 0h0m27 0h0m-42 1h0m2 0h0m1 0h0m2 0h0m2 0h0m-7 1h0m1 0h0m4 0h0m1 0h0m2 0h0m1 0h0m3 0h0m11 0h0m9 0h0m-33 1h0m2 0h0m4 0h0m3 0h0m2 0h0m9 0h0m3 0h0m12 0h0m5 0h0m2 0h0m2 0h0m-43 1h0m1 0h0m3 0h0m2 0h0m1 0h0m1 0h0m3 0h0m1 0h0m5 0h0m3 0h0m-19 1h0m1 0h0m1 0h0m1 0h0m1 0h0m3 0h0m3 0h0m1 0h0m2 0h0m4 0h0m16 0h0m7 0h0m9 0h0m56 0h0m-108 1h0m2 0h0m1 0h0m1 0h0m1 0h0m1 0h0m5 0h0m2 0h0m1 0h0m2 0h0m4 0h0m6 0h0m-25 1h0m1 0h0m1 0h0m4 0h0m1 0h0m1 0h0m1 0h0m1 0h0m1 0h0m1 0h0m31 0h0m4 0h0m-46 1h0m4 0h0m2 0h0m3 0h0m2 0h0m36 0h0m36 0h0m-83 1h0m1 0h0m1 0h0m1 0h0m2 0h0m2 0h0m2 0h0m1 0h0m5 0h0m8 0h0m1 0h0m4 0h0m20 0h0m-49 1h0m1 0h0m1 0h0m1 0h0m2 0h0m1 0h0m1 0h0m2 0h0m2 0h0m2 0h0m4 0h0m30 0h0m-46 1h0m1 0h0m3 0h0m1 0h0m1 0h0m1 0h0m1 0h0m1 0h0m1 0h0m10 0h0m9 0h0m14 0h0m3 0h0m10 0h0m-57 1h0m1 0h0m1 0h0m1 0h0m1 0h0m1 0h0m1 0h0m2 0h0m1 0h0m1 0h0m13 0h0m3 0h0m3 0h0m13 0h0m12 0h0m6 0h0m-60 1h0m1 0h0m1 0h0m1 0h0m8 0h0m6 0h0m15 0h0m5 0h0m16 0h0m5 0h0m2 0h0m-60 1h0m1 0h0m1 0h0m1 0h0m2 0h0m2 0h0m2 0h0m1 0h0m1 0h0m1 0h0m1 0h0m1 0h0m1 0h0m11 0h0m23 0h0m8 0h0m44 0h0m-101 1h0m1 0h0m1 0h0m1 0h0m1 0h0m1 0h0m1 0h0m2 0h0m1 0h0m1 0h0m1 0h0m1 0h0m1 0h0m29 0h0m-41 1h0m1 0h0m1 0h0m1 0h0m2 0h0m1 0h0m2 0h0m1 0h0m18 0h0m9 0h0m17 0h0m21 0h0m-74 1h0m1 0h0m2 0h0m2 0h0m1 0h0m1 0h0m5 0h0m2 0h0m2 0h0m1 0h0m2 0h0m11 0h0m11 0h0m16 0h0m28 0h0m-86 1h0m2 0h0m1 0h0m3 0h0m2 0h0m1 0h0m2 0h0m1 0h0m11 0h0m4 0h0m1 0h0m1 0h0m8 0h0m2 0h0m5 0h0m-43 1h0m1 0h0m1 0h0m1 0h0m2 0h0m2 0h0m1 0h0m39 0h0m4 0h0m-52 1h0m1 0h0m1 0h0m1 0h0m1 0h0m6 0h0m3 0h0m3 0h0m4 0h0m2 0h0m1 0h0m5 0h0m13 0h0m15 0h0m-56 1h0m1 0h0m1 0h0m2 0h0m17 0h0m3 0h0m16 0h0m22 0h0m1 0h0m-62 1h0m1 0h0m2 0h0m5 0h0m1 0h0m1 0h0m30 0h0m-39 1h0m1 0h0m1 0h0m1 0h0m6 0h0m10 0h0m5 0h0m-25 1h0m1 0h0m6 0h0m1 0h0m2 0h0m7 0h0m11 0h0m4 0h0m1 0h0m4 0h0m3 0h0m18 0h0m-58 1h0m1 0h0m1 0h0m1 0h0m4 0h0m9 0h0m5 0h0m3 0h0m20 0h0m-45 1h0m1 0h0m1 0h0m1 0h0m14 0h0m2 0h0m14 0h0m48 0h0m-78 1h0m2 0h0m4 0h0m2 0h0m1 0h0m16 0h0m4 0h0m-31 1h0m2 0h0m1 0h0m1 0h0m4 0h0m13 0h0m24 0h0m1 0h0m6 0h0m2 0h0m11 0h0m-64 1h0m1 0h0m7 0h0m1 0h0m8 0h0m4 0h0m5 0h0m7 0h0m3 0h0m2 0h0m6 0h0m2 0h0m-47 1h0m6 0h0m1 0h0m3 0h0m3 0h0m1 0h0m14 0h0m5 0h0m9 0h0m13 0h0m-55 1h0m2 0h0m1 0h0m16 0h0m13 0h0m8 0h0m15 0h0m7 0h0m-62 1h0m2 0h0m1 0h0m6 0h0m26 0h0m6 0h0m10 0h0m26 0h0m-78 1h0m1 0h0m3 0h0m1 0h0m2 0h0m1 0h0m1 0h0m37 0h0m4 0h0m5 0h0m-54 1h0m2 0h0m1 0h0m6 0h0m2 0h0m2 0h0m14 0h0m1 0h0m1 0h0m10 0h0m1 0h0m13 0h0m-53 1h0m1 0h0m2 0h0m3 0h0m3 0h0m1 0h0m11 0h0m18 0h0m17 0h0m-56 1h0m1 0h0m1 0h0m1 0h0m1 0h0m3 0h0m3 0h0m14 0h0m35 0h0m-57 1h0m1 0h0m3 0h0m1 0h0m4 0h0m7 0h0m6 0h0m8 0h0m7 0h0m6 0h0m21 0h0m-66 1h0m2 0h0m1 0h0m4 0h0m1 0h0m2 0h0m9 0h0m12 0h0m3 0h0m-35 1h0m2 0h0m2 0h0m10 0h0m6 0h0m3 0h0m8 0h0m5 0h0m1 0h0m1 0h0m-37 1h0m1 0h0m1 0h0m1 0h0m12 0h0m13 0h0m12 0h0m1 0h0m2 0h0m15 0h0m-57 1h0m1 0h0m7 0h0m6 0h0m3 0h0m21 0h0m23 0h0m5 0h0m-67 1h0m1 0h0m2 0h0m3 0h0m54 0h0m1 0h0m-61 1h0m2 0h0m1 0h0m1 0h0m63 0h0m-67 1h0m2 0h0m2 0h0m2 0h0m2 0h0m1 0h0m1 0h0m3 0h0m1 0h0m2 0h0m11 0h0m1 0h0m1 0h0m3 0h0m24 0h0m7 0h0m-63 1h0m2 0h0m1 0h0m1 0h0m1 0h0m1 0h0m1 0h0m2 0h0m1 0h0m1 0h0m1 0h0m1 0h0m1 0h0m1 0h0m4 0h0m3 0h0m3 0h0m9 0h0m51 0h0m-85 1h0m1 0h0m1 0h0m1 0h0m1 0h0m1 0h0m1 0h0m2 0h0m1 0h0m1 0h0m1 0h0m1 0h0m1 0h0m2 0h0m4 0h0m1 0h0m3 0h0m2 0h0m10 0h0m4 0h0m8 0h0m8 0h0m12 0h0m-67 1h0m1 0h0m1 0h0m2 0h0m1 0h0m1 0h0m4 0h0m1 0h0m1 0h0m2 0h0m2 0h0m3 0h0m1 0h0m1 0h0m2 0h0m17 0h0m1 0h0m-40 1h0m2 0h0m1 0h0m2 0h0m1 0h0m1 0h0m1 0h0m1 0h0m2 0h0m2 0h0m1 0h0m1 0h0m1 0h0m2 0h0m2 0h0m2 0h0m2 0h0m13 0h0m19 0h0m-58 1h0m1 0h0m1 0h0m1 0h0m1 0h0m1 0h0m1 0h0m1 0h0m2 0h0m1 0h0m2 0h0m3 0h0m2 0h0m1 0h0m1 0h0m2 0h0m1 0h0m3 0h0m1 0h0m2 0h0m11 0h0m24 0h0m-62 1h0m1 0h0m1 0h0m1 0h0m1 0h0m1 0h0m1 0h0m1 0h0m1 0h0m1 0h0m5 0h0m1 0h0m2 0h0m2 0h0m2 0h0m1 0h0m2 0h0m1 0h0m1 0h0m1 0h0m1 0h0m6 0h0m14 0h0m6 0h0m12 0h0m-66 1h0m1 0h0m1 0h0m1 0h0m1 0h0m1 0h0m1 0h0m1 0h0m1 0h0m1 0h0m3 0h0m2 0h0m1 0h0m1 0h0m4 0h0m4 0h0m4 0h0m1 0h0m7 0h0m9 0h0m14 0h0m-59 1h0m3 0h0m1 0h0m1 0h0m1 0h0m1 0h0m1 0h0m1 0h0m1 0h0m1 0h0m1 0h0m1 0h0m1 0h0m2 0h0m2 0h0m2 0h0m5 0h0m14 0h0m11 0h0m10 0h0m-60 1h0m1 0h0m1 0h0m1 0h0m1 0h0m1 0h0m1 0h0m1 0h0m2 0h0m1 0h0m1 0h0m1 0h0m2 0h0m1 0h0m1 0h0m3 0h0m2 0h0m2 0h0m2 0h0m41 0h0m-66 1h0m1 0h0m2 0h0m1 0h0m2 0h0m1 0h0m1 0h0m1 0h0m2 0h0m2 0h0m2 0h0m1 0h0m1 0h0m1 0h0m3 0h0m1 0h0m3 0h0m2 0h0m1 0h0m1 0h0m1 0h0m10 0h0m3 0h0m3 0h0m4 0h0m3 0h0m-52 1h0m2 0h0m1 0h0m2 0h0m1 0h0m1 0h0m1 0h0m1 0h0m2 0h0m1 0h0m4 0h0m3 0h0m1 0h0m3 0h0m5 0h0m21 0h0m2 0h0m16 0h0m-69 1h0m1 0h0m1 0h0m2 0h0m1 0h0m1 0h0m1 0h0m1 0h0m1 0h0m2 0h0m2 0h0m3 0h0m3 0h0m3 0h0m1 0h0m1 0h0m3 0h0m1 0h0m1 0h0m2 0h0m1 0h0m10 0h0m-41 1h0m3 0h0m1 0h0m1 0h0m2 0h0m1 0h0m1 0h0m1 0h0m1 0h0m1 0h0m1 0h0m2 0h0m1 0h0m5 0h0m7 0h0m4 0h0m24 0h0m1 0h0m5 0h0m-63 1h0m1 0h0m1 0h0m1 0h0m1 0h0m1 0h0m1 0h0m1 0h0m1 0h0m1 0h0m1 0h0m1 0h0m2 0h0m2 0h0m6 0h0m1 0h0m2 0h0m1 0h0m1 0h0m1 0h0m1 0h0m1 0h0m2 0h0m1 0h0m-31 1h0m1 0h0m1 0h0m1 0h0m1 0h0m2 0h0m1 0h0m1 0h0m1 0h0m1 0h0m3 0h0m5 0h0m3 0h0m3 0h0m2 0h0m1 0h0m5 0h0m-30 1h0m2 0h0m1 0h0m1 0h0m1 0h0m1 0h0m1 0h0m2 0h0m3 0h0m1 0h0m6 0h0m1 0h0m1 0h0m1 0h0m4 0h0m2 0h0m1 0h0m4 0h0m1 0h0m-35 1h0m1 0h0m1 0h0m1 0h0m1 0h0m1 0h0m3 0h0m1 0h0m1 0h0m1 0h0m5 0h0m2 0h0m4 0h0m1 0h0m3 0h0m2 0h0m3 0h0m4 0h0m5 0h0m21 0h0m1 0h0m-63 1h0m1 0h0m1 0h0m1 0h0m1 0h0m1 0h0m3 0h0m1 0h0m1 0h0m1 0h0m1 0h0m2 0h0m1 0h0m1 0h0m6 0h0m6 0h0m2 0h0m1 0h0m16 0h0m-47 1h0m1 0h0m1 0h0m1 0h0m1 0h0m1 0h0m1 0h0m1 0h0m1 0h0m2 0h0m1 0h0m1 0h0m1 0h0m1 0h0m1 0h0m1 0h0m1 0h0m4 0h0m1 0h0m7 0h0m1 0h0m1 0h0m9 0h0m12 0h0m-52 1h0m1 0h0m1 0h0m1 0h0m2 0h0m1 0h0m1 0h0m1 0h0m2 0h0m2 0h0m1 0h0m1 0h0m2 0h0m5 0h0m1 0h0m1 0h0m3 0h0m1 0h0m4 0h0m21 0h0m3 0h0m-56 1h0m1 0h0m1 0h0m2 0h0m1 0h0m1 0h0m2 0h0m1 0h0m1 0h0m2 0h0m2 0h0m3 0h0m3 0h0m1 0h0m1 0h0m1 0h0m1 0h0m3 0h0m2 0h0m2 0h0m2 0h0m25 0h0m1 0h0m-58 1h0m2 0h0m1 0h0m1 0h0m1 0h0m1 0h0m1 0h0m1 0h0m1 0h0m2 0h0m1 0h0m1 0h0m1 0h0m1 0h0m3 0h0m2 0h0m2 0h0m5 0h0m1 0h0m4 0h0m22 0h0m-53 1h0m2 0h0m1 0h0m1 0h0m1 0h0m1 0h0m1 0h0m1 0h0m1 0h0m3 0h0m2 0h0m1 0h0m1 0h0m3 0h0m2 0h0m1 0h0m1 0h0m1 0h0m3 0h0m1 0h0m1 0h0m1 0h0m18 0h0m-50 1h0m2 0h0m1 0h0m1 0h0m1 0h0m1 0h0m1 0h0m1 0h0m1 0h0m1 0h0m2 0h0m2 0h0m1 0h0m1 0h0m1 0h0m2 0h0m1 0h0m1 0h0m5 0h0m2 0h0m1 0h0m4 0h0m2 0h0m1 0h0m20 0h0m-56 1h0m1 0h0m3 0h0m1 0h0m1 0h0m1 0h0m1 0h0m1 0h0m1 0h0m1 0h0m1 0h0m1 0h0m1 0h0m2 0h0m2 0h0m1 0h0m1 0h0m6 0h0m1 0h0m1 0h0m2 0h0m1 0h0m1 0h0m1 0h0m11 0h0m-43 1h0m1 0h0m2 0h0m1 0h0m1 0h0m1 0h0m3 0h0m1 0h0m1 0h0m1 0h0m1 0h0m2 0h0m1 0h0m3 0h0m2 0h0m2 0h0m2 0h0m1 0h0m1 0h0m2 0h0m1 0h0m1 0h0m-32 1h0m2 0h0m2 0h0m1 0h0m1 0h0m2 0h0m2 0h0m3 0h0m5 0h0m1 0h0m1 0h0m1 0h0m1 0h0m2 0h0m2 0h0m4 0h0m-29 1h0m1 0h0m2 0h0m1 0h0m1 0h0m1 0h0m2 0h0m2 0h0m3 0h0m6 0h0m1 0h0m2 0h0m1 0h0m2 0h0m2 0h0m5 0h0m-32 1h0m1 0h0m1 0h0m1 0h0m1 0h0m1 0h0m1 0h0m1 0h0m3 0h0m1 0h0m2 0h0m1 0h0m2 0h0m4 0h0m2 0h0m3 0h0m1 0h0m1 0h0m2 0h0m1 0h0m1 0h0m2 0h0m-33 1h0m1 0h0m1 0h0m2 0h0m1 0h0m1 0h0m2 0h0m4 0h0m1 0h0m2 0h0m4 0h0m5 0h0m4 0h0m4 0h0m1 0h0m-34 1h0m5 0h0m5 0h0m12 0h0" stroke="#800080" stroke-width="1.5" stroke-linecap="square" fill="none"/><rect x="472.4" y="1163.7" width="36.2" height="17.3" fill="#fff" stroke="#333" stroke-width="1"/><text x="490.5" y="1177.4" class="lg" text-anchor="middle">HITS</text><text x="398.1" y="1200" class="tk" text-anchor="middle">0</text><text x="415.7" y="1200" class="tk" text-anchor="middle">10</text><text x="433" y="1200" class="tk" text-anchor="middle">20</text><text x="450.8" y="1200" class="tk" text-anchor="middle">30</text><text x="468.6" y="1200" class="tk" text-anchor="middle">40</text><text x="486.2" y="1200" class="tk" text-anchor="middle">50</text><text x="504.3" y="1200" class="tk" text-anchor="middle">60</text><path d="M398.1 1190.1v-2" class="tm"/><path d="M415.7 1190.1v-2" class="tm"/><path d="M433 1190.1v-2" class="tm"/><path d="M450.8 1190.1v-2" class="tm"/><path d="M468.6 1190.1v-2" class="tm"/><path d="M486.2 1190.1v-2" class="tm"/><path d="M504.3 1190.1v-2" class="tm"/><path d="M406.9 1190.1v-2" class="tm"/><path d="M424.3 1190.1v-2" class="tm"/><path d="M441.9 1190.1v-2" class="tm"/><path d="M459.7 1190.1v-2" class="tm"/><path d="M477.4 1190.1v-2" class="tm"/><path d="M495.2 1190.1v-2" class="tm"/><path d="M537.5 1096.5h0m38 0h0m-48 1h0m1 0h0m1 0h0m1 0h0m1 0h0m1 0h0m1 0h0m1 0h0m1 0h0m1 0h0m1 0h0m1 0h0m1 0h0m2 0h0m1 0h0m1 0h0m1 0h0m4 0h0m-23 1h0m1 0h0m1 0h0m1 0h0m1 0h0m1 0h0m1 0h0m1 0h0m1 0h0m1 0h0m1 0h0m1 0h0m1 0h0m2 0h0m1 0h0m1 0h0m1 0h0m1 0h0m1 0h0m1 0h0m2 0h0m1 0h0m1 0h0m1 0h0m2 0h0m1 0h0m4 0h0m7 0h0m21 0h0m-60 1h0m1 0h0m1 0h0m1 0h0m1 0h0m1 0h0m1 0h0m1 0h0m1 0h0m2 0h0m1 0h0m1 0h0m1 0h0m1 0h0m1 0h0m1 0h0m1 0h0m1 0h0m2 0h0m1 0h0m1 0h0m2 0h0m1 0h0m1 0h0m2 0h0m2 0h0m3 0h0m3 0h0m2 0h0m2 0h0m14 0h0m-55 1h0m1 0h0m1 0h0m1 0h0m1 0h0m1 0h0m1 0h0m2 0h0m1 0h0m1 0h0m3 0h0m1 0h0m1 0h0m1 0h0m2 0h0m1 0h0m1 0h0m1 0h0m1 0h0m3 0h0m2 0h0m3 0h0m3 0h0m1 0h0m1 0h0m1 0h0m12 0h0m-48 1h0m1 0h0m1 0h0m1 0h0m1 0h0m2 0h0m1 0h0m1 0h0m2 0h0m1 0h0m1 0h0m1 0h0m3 0h0m1 0h0m1 0h0m1 0h0m2 0h0m1 0h0m1 0h0m4 0h0m1 0h0m-29 1h0m1 0h0m1 0h0m1 0h0m1 0h0m1 0h0m1 0h0m2 0h0m1 0h0m1 0h0m1 0h0m1 0h0m2 0h0m1 0h0m2 0h0m5 0h0m3 0h0m-25 1h0m1 0h0m1 0h0m1 0h0m1 0h0m1 0h0m1 0h0m1 0h0m2 0h0m1 0h0m1 0h0m1 0h0m1 0h0m2 0h0m1 0h0m2 0h0m2 0h0m2 0h0m2 0h0m-24 1h0m1 0h0m1 0h0m1 0h0m1 0h0m1 0h0m1 0h0m1 0h0m2 0h0m1 0h0m3 0h0m1 0h0m1 0h0m1 0h0m3 0h0m3 0h0m1 0h0m-23 1h0m1 0h0m1 0h0m2 0h0m1 0h0m1 0h0m1 0h0m2 0h0m1 0h0m1 0h0m1 0h0m1 0h0m1 0h0m1 0h0m1 0h0m1 0h0m1 0h0m1 0h0m1 0h0m-21 1h0m1 0h0m1 0h0m1 0h0m1 0h0m2 0h0m2 0h0m1 0h0m1 0h0m1 0h0m1 0h0m1 0h0m1 0h0m10 0h0m-25 1h0m1 0h0m1 0h0m1 0h0m1 0h0m2 0h0m1 0h0m1 0h0m2 0h0m1 0h0m1 0h0m3 0h0m-14 1h0m1 0h0m1 0h0m1 0h0m1 0h0m1 0h0m1 0h0m1 0h0m1 0h0m3 0h0m1 0h0m2 0h0m-14 1h0m1 0h0m1 0h0m1 0h0m1 0h0m1 0h0m1 0h0m1 0h0m1 0h0m1 0h0m1 0h0m1 0h0m1 0h0m1 0h0m-13 1h0m1 0h0m1 0h0m1 0h0m1 0h0m1 0h0m1 0h0m1 0h0m1 0h0m1 0h0m1 0h0m-10 1h0m1 0h0m2 0h0m1 0h0m1 0h0m1 0h0m1 0h0m2 0h0m1 0h0m1 0h0m1 0h0m-12 1h0m2 0h0m1 0h0m1 0h0m2 0h0m1 0h0m1 0h0m1 0h0m-9 1h0m1 0h0m1 0h0m1 0h0m1 0h0m1 0h0m1 0h0m1 0h0m1 0h0m1 0h0m-10 1h0m1 0h0m1 0h0m1 0h0m1 0h0m3 0h0m1 0h0m2 0h0m-10 1h0m1 0h0m1 0h0m1 0h0m1 0h0m1 0h0m2 0h0m2 0h0m1 0h0m1 0h0m-10 1h0m4 0h0m1 0h0m1 0h0m1 0h0m-8 1h0m1 0h0m1 0h0m1 0h0m2 0h0m2 0h0m1 0h0m1 0h0m-9 1h0m1 0h0m1 0h0m1 0h0m1 0h0m1 0h0m1 0h0m1 0h0m1 0h0m1 0h0m1 0h0m-10 1h0m1 0h0m1 0h0m1 0h0m1 0h0m3 0h0m2 0h0m-9 1h0m1 0h0m1 0h0m1 0h0m1 0h0m1 0h0m1 0h0m1 0h0m1 0h0m2 0h0m-10 1h0m1 0h0m1 0h0m1 0h0m2 0h0m3 0h0m1 0h0m-9 1h0m1 0h0m1 0h0m1 0h0m2 0h0m1 0h0m1 0h0m1 0h0m1 0h0m1 0h0m-10 1h0m1 0h0m1 0h0m2 0h0m2 0h0m1 0h0m1 0h0m1 0h0m1 0h0m-10 1h0m1 0h0m1 0h0m1 0h0m1 0h0m3 0h0m1 0h0m1 0h0m-9 1h0m3 0h0m1 0h0m2 0h0m2 0h0m1 0h0m2 0h0m-11 1h0m1 0h0m2 0h0m1 0h0m1 0h0m1 0h0m1 0h0m1 0h0m1 0h0m-9 1h0m1 0h0m1 0h0m1 0h0m1 0h0m1 0h0m1 0h0m1 0h0m1 0h0m1 0h0m-8 1h0m1 0h0m1 0h0m1 0h0m1 0h0m1 0h0m1 0h0m1 0h0m-8 1h0m1 0h0m1 0h0m1 0h0m2 0h0m2 0h0m-7 1h0m1 0h0m1 0h0m1 0h0m1 0h0m1 0h0m1 0h0m2 0h0m3 0h0m-10 1h0m1 0h0m1 0h0m1 0h0m2 0h0m1 0h0m-7 1h0m1 0h0m2 0h0m1 0h0m3 0h0m-7 1h0m1 0h0m1 0h0m1 0h0m5 0h0m-8 1h0m1 0h0m1 0h0m1 0h0m1 0h0m4 0h0m1 0h0m-9 1h0m1 0h0m1 0h0m1 0h0m1 0h0m3 0h0m-7 1h0m1 0h0m1 0h0m2 0h0m1 0h0m1 0h0m1 0h0m1 0h0m-8 1h0m1 0h0m1 0h0m1 0h0m1 0h0m1 0h0m-5 1h0m2 0h0m1 0h0m1 0h0m-4 1h0m1 0h0m1 0h0m2 0h0m1 0h0m2 0h0m-7 1h0m1 0h0m1 0h0m1 0h0m1 0h0m1 0h0m-5 1h0m1 0h0m1 0h0m1 0h0m1 0h0m3 0h0m-8 1h0m1 0h0m1 0h0m3 0h0m-4 1h0m1 0h0m1 0h0m1 0h0m1 0h0m1 0h0m1 0h0m2 0h0m-8 1h0m1 0h0m1 0h0m1 0h0m3 0h0m-7 1h0m1 0h0m1 0h0m1 0h0m1 0h0m1 0h0m-4 1h0m1 0h0m1 0h0m1 0h0m2 0h0m1 0h0m-6 1h0m1 0h0m-1 1h0m1 0h0m-2 1h0m2 0h0m2 0h0m3 0h0m-6 1h0m3 0h0m1 0h0m-4 1h0m1 0h0m1 0h0m1 0h0m1 0h0m-4 1h0m1 0h0m3 0h0m-4 1h0m1 0h0m1 0h0m2 0h0m-4 1h0m1 0h0m2 0h0m1 0h0m-4 1h0m1 0h0m1 0h0m2 0h0m-3 1h0m1 0h0m1 0h0m2 0h0m-4 1h0m2 0h0m2 0h0m-6 1h0m2 0h0m2 0h0m-2 1h0m1 0h0m1 0h0m1 0h0m-4 1h0m1 0h0m1 0h0m-3 1h0m1 0h0m1 0h0m1 0h0m1 0h0m1 0h0m-4 1h0m1 0h0m1 0h0m2 0h0m-4 1h0m3 0h0m-2 1h0m-1 1h0m1 0h0m1 0h0m-2 1h0m1 0h0m1 0h0m1 0h0m-3 1h0m0 1h0m0 1h0m1 0h0m1 0h0m-2 1h0m1 0h0m1 0h0m-2 1h0m1 0h0m1 0h0m-2 1h0m1 0h0m1 0h0m-2 1h0m1 0h0m-2 1h0m1 0h0m1 1h0m2 0h0m-3 1h0m2 0h0m-2 1h0m1 1h0m1 0h0m-2 1h0m1 0h0m1 0h0m-2 1h0m-1 1h0m1 0h0m1 0h0m-1 1h0m-1 1h0m1 0h0m2 0h0m-1 1h0m1 0h0m0 1h0" stroke="#ff00ff" stroke-width="1.5" stroke-linecap="square" fill="none"/><rect x="602.3" y="1165.1" width="25.5" height="17.3" fill="#fff" stroke="#333" stroke-width="1"/><text x="615" y="1178.8" class="lg" text-anchor="middle">DIL</text><text x="521.4" y="1200" class="tk" text-anchor="middle">0</text><text x="538.7" y="1200" class="tk" text-anchor="middle">2</text><text x="554.8" y="1200" class="tk" text-anchor="middle">4</text><text x="571.5" y="1200" class="tk" text-anchor="middle">6</text><text x="587.6" y="1200" class="tk" text-anchor="middle">8</text><text x="604.9" y="1200" class="tk" text-anchor="middle">10</text><text x="621.3" y="1200" class="tk" text-anchor="middle">12</text><path d="M521.4 1190.1v-2" class="tm"/><path d="M538.7 1190.1v-2" class="tm"/><path d="M554.8 1190.1v-2" class="tm"/><path d="M571.5 1190.1v-2" class="tm"/><path d="M587.6 1190.1v-2" class="tm"/><path d="M604.9 1190.1v-2" class="tm"/><path d="M621.3 1190.1v-2" class="tm"/><path d="M530.1 1190.1v-2" class="tm"/><path d="M546.7 1190.1v-2" class="tm"/><path d="M563.1 1190.1v-2" class="tm"/><path d="M579.6 1190.1v-2" class="tm"/><path d="M596.2 1190.1v-2" class="tm"/><path d="M613.1 1190.1v-2" class="tm"/><path d="M702.5 1095.5h0m-9 1h0m-23 1h0m5 0h0m21 0h0m-21 1h0m1 0h0m2 0h0m2 0h0m1 0h0m2 0h0m26 0h0m-47 1h0m4 0h0m1 0h0m2 0h0m3 0h0m4 0h0m10 0h0m3 0h0m-26 1h0m4 0h0m1 0h0m5 0h0m4 0h0m6 0h0m-25 1h0m1 0h0m1 0h0m1 0h0m2 0h0m3 0h0m1 0h0m1 0h0m1 0h0m7 0h0m1 0h0m2 0h0m1 0h0m1 0h0m-26 1h0m2 0h0m1 0h0m3 0h0m1 0h0m4 0h0m1 0h0m1 0h0m1 0h0m1 0h0m1 0h0m2 0h0m5 0h0m1 0h0m-24 1h0m1 0h0m1 0h0m1 0h0m1 0h0m1 0h0m2 0h0m2 0h0m2 0h0m3 0h0m7 0h0m2 0h0m-25 1h0m1 0h0m1 0h0m6 0h0m1 0h0m1 0h0m2 0h0m1 0h0m2 0h0m2 0h0m1 0h0m3 0h0m-23 1h0m1 0h0m1 0h0m1 0h0m1 0h0m1 0h0m3 0h0m1 0h0m1 0h0m6 0h0m3 0h0m1 0h0m3 0h0m-24 1h0m2 0h0m1 0h0m1 0h0m1 0h0m1 0h0m2 0h0m3 0h0m3 0h0m3 0h0m4 0h0m1 0h0m1 0h0m-25 1h0m1 0h0m2 0h0m1 0h0m2 0h0m3 0h0m1 0h0m2 0h0m2 0h0m3 0h0m3 0h0m-20 1h0m1 0h0m1 0h0m1 0h0m1 0h0m1 0h0m1 0h0m1 0h0m1 0h0m3 0h0m1 0h0m2 0h0m1 0h0m1 0h0m5 0h0m3 0h0m-25 1h0m1 0h0m1 0h0m1 0h0m1 0h0m1 0h0m3 0h0m2 0h0m1 0h0m3 0h0m4 0h0m2 0h0m1 0h0m1 0h0m-23 1h0m1 0h0m1 0h0m1 0h0m1 0h0m1 0h0m1 0h0m1 0h0m1 0h0m2 0h0m1 0h0m1 0h0m5 0h0m2 0h0m1 0h0m1 0h0m-22 1h0m1 0h0m1 0h0m1 0h0m1 0h0m2 0h0m2 0h0m1 0h0m3 0h0m1 0h0m1 0h0m2 0h0m1 0h0m3 0h0m-21 1h0m1 0h0m1 0h0m2 0h0m1 0h0m1 0h0m1 0h0m2 0h0m1 0h0m2 0h0m1 0h0m4 0h0m3 0h0m2 0h0m-21 1h0m1 0h0m1 0h0m1 0h0m1 0h0m2 0h0m1 0h0m1 0h0m3 0h0m3 0h0m1 0h0m1 0h0m1 0h0m1 0h0m1 0h0m-20 1h0m1 0h0m2 0h0m1 0h0m1 0h0m2 0h0m1 0h0m1 0h0m1 0h0m2 0h0m2 0h0m2 0h0m1 0h0m2 0h0m1 0h0m-19 1h0m2 0h0m1 0h0m1 0h0m1 0h0m1 0h0m1 0h0m1 0h0m3 0h0m1 0h0m4 0h0m2 0h0m-19 1h0m1 0h0m4 0h0m1 0h0m1 0h0m1 0h0m1 0h0m1 0h0m1 0h0m4 0h0m-16 1h0m1 0h0m1 0h0m1 0h0m1 0h0m1 0h0m5 0h0m1 0h0m2 0h0m5 0h0m-18 1h0m1 0h0m1 0h0m1 0h0m1 0h0m1 0h0m1 0h0m1 0h0m1 0h0m1 0h0m2 0h0m1 0h0m1 0h0m1 0h0m2 0h0m1 0h0m-17 1h0m1 0h0m1 0h0m1 0h0m1 0h0m1 0h0m1 0h0m2 0h0m1 0h0m1 0h0m1 0h0m1 0h0m-12 1h0m1 0h0m1 0h0m1 0h0m1 0h0m2 0h0m1 0h0m1 0h0m1 0h0m3 0h0m1 0h0m1 0h0m1 0h0m1 0h0m-16 1h0m1 0h0m1 0h0m1 0h0m1 0h0m1 0h0m1 0h0m1 0h0m2 0h0m1 0h0m1 0h0m1 0h0m1 0h0m2 0h0m-15 1h0m1 0h0m1 0h0m1 0h0m2 0h0m3 0h0m1 0h0m1 0h0m1 0h0m3 0h0m-14 1h0m1 0h0m1 0h0m2 0h0m1 0h0m1 0h0m1 0h0m1 0h0m1 0h0m-9 1h0m1 0h0m1 0h0m1 0h0m1 0h0m2 0h0m1 0h0m1 0h0m1 0h0m2 0h0m-12 1h0m1 0h0m2 0h0m1 0h0m1 0h0m1 0h0m2 0h0m1 0h0m1 0h0m2 0h0m-12 1h0m1 0h0m1 0h0m1 0h0m1 0h0m1 0h0m1 0h0m1 0h0m1 0h0m3 0h0m1 0h0m1 0h0m-13 1h0m1 0h0m1 0h0m1 0h0m1 0h0m1 0h0m1 0h0m2 0h0m2 0h0m1 0h0m-11 1h0m1 0h0m1 0h0m1 0h0m1 0h0m1 0h0m1 0h0m2 0h0m1 0h0m2 0h0m-11 1h0m1 0h0m1 0h0m1 0h0m1 0h0m1 0h0m1 0h0m2 0h0m2 0h0m-10 1h0m1 0h0m1 0h0m2 0h0m1 0h0m1 0h0m1 0h0m1 0h0m-7 1h0m1 0h0m1 0h0m2 0h0m1 0h0m1 0h0m2 0h0m-9 1h0m1 0h0m1 0h0m2 0h0m1 0h0m2 0h0m1 0h0m2 0h0m-10 1h0m1 0h0m1 0h0m1 0h0m2 0h0m1 0h0m3 0h0m-9 1h0m1 0h0m1 0h0m1 0h0m1 0h0m1 0h0m1 0h0m1 0h0m1 0h0m-8 1h0m1 0h0m1 0h0m1 0h0m1 0h0m1 0h0m1 0h0m1 0h0m-7 1h0m1 0h0m1 0h0m1 0h0m1 0h0m1 0h0m1 0h0m1 0h0m1 0h0m-8 1h0m1 0h0m1 0h0m1 0h0m1 0h0m-4 1h0m1 0h0m1 0h0m1 0h0m1 0h0m1 0h0m1 0h0m2 0h0m-8 1h0m1 0h0m3 0h0m1 0h0m1 0h0m1 0h0m-7 1h0m1 0h0m1 0h0m1 0h0m2 0h0m1 0h0m1 0h0m-7 1h0m1 0h0m1 0h0m1 0h0m1 0h0m1 0h0m1 0h0m1 0h0m-7 1h0m1 0h0m1 0h0m1 0h0m1 0h0m3 0h0m-6 1h0m1 0h0m1 0h0m1 0h0m1 0h0m2 0h0m-7 1h0m1 0h0m1 0h0m1 0h0m1 0h0m1 0h0m-5 1h0m1 0h0m1 0h0m3 0h0m2 0h0m-7 1h0m3 0h0m1 0h0m1 0h0m1 0h0m1 0h0m-7 1h0m1 0h0m3 0h0m1 0h0m1 0h0m-6 1h0m1 0h0m1 0h0m1 0h0m1 0h0m2 0h0m1 0h0m-8 1h0m1 0h0m1 0h0m3 0h0m2 0h0m-5 1h0m1 0h0m1 0h0m1 0h0m-4 1h0m1 0h0m2 0h0m1 0h0m1 0h0m1 0h0m-6 1h0m1 0h0m1 0h0m2 0h0m1 0h0m1 0h0m-6 1h0m1 0h0m1 0h0m1 0h0m3 0h0m-6 1h0m3 0h0m2 0h0m-5 1h0m2 0h0m1 0h0m1 0h0m1 0h0m-5 1h0m1 0h0m1 0h0m3 0h0m-6 1h0m1 0h0m1 0h0m1 0h0m1 0h0m2 0h0m-5 1h0m1 0h0m1 0h0m1 0h0m1 0h0m1 0h0m-5 1h0m1 0h0m1 0h0m3 0h0m-5 1h0m1 0h0m1 0h0m2 0h0m1 0h0m-5 1h0m1 0h0m1 0h0m1 0h0m-2 1h0m1 0h0m1 0h0m1 0h0m1 0h0m-5 1h0m1 0h0m1 0h0m1 0h0m1 0h0m1 0h0m-5 1h0m2 0h0m2 0h0m-3 1h0m1 0h0m1 0h0m-3 1h0m1 0h0m1 0h0m1 0h0m1 0h0m-4 1h0m1 0h0m2 0h0m-3 1h0m2 0h0m1 0h0m1 0h0m-4 1h0m1 0h0m1 0h0m1 0h0m-3 1h0m1 0h0m2 0h0m-2 1h0m1 0h0m-3 1h0m1 0h0m1 0h0m1 0h0m1 0h0m1 0h0m-4 1h0m1 0h0m1 0h0m1 0h0m-3 1h0m1 0h0m1 0h0m1 0h0m1 0h0m-4 1h0m1 0h0m-1 1h0m1 0h0m1 0h0m1 0h0m-3 1h0m1 0h0m1 0h0m1 0h0m-3 1h0m1 0h0m1 0h0m-2 1h0m1 0h0m1 0h0m1 0h0m-3 1h0m1 0h0m1 0h0m-3 1h0m1 0h0m1 0h0m1 0h0m-2 1h0m1 0h0m1 0h0m-1 1h0m1 0h0m-2 1h0m1 0h0m1 0h0m-2 1h0" stroke="#008080" stroke-width="1.5" stroke-linecap="square" fill="none"/><rect x="711.4" y="1164.1" width="41.5" height="17.2" fill="#fff" stroke="#333" stroke-width="1"/><text x="732.1" y="1177.7" class="lg" text-anchor="middle">LENC</text><text x="642.7" y="1200" class="tk" text-anchor="middle">0</text><text x="666.5" y="1200" class="tk" text-anchor="middle">5</text><text x="689.9" y="1200" class="tk" text-anchor="middle">10</text><text x="713.2" y="1200" class="tk" text-anchor="middle">15</text><text x="737" y="1200" class="tk" text-anchor="middle">20</text><text x="760.7" y="1200" class="tk" text-anchor="middle">25</text><path d="M642.7 1190.1v-2" class="tm"/><path d="M666.5 1190.1v-2" class="tm"/><path d="M689.9 1190.1v-2" class="tm"/><path d="M713.2 1190.1v-2" class="tm"/><path d="M737 1190.1v-2" class="tm"/><path d="M654.6 1190.1v-2" class="tm"/><path d="M678.2 1190.1v-2" class="tm"/><path d="M701.5 1190.1v-2" class="tm"/><path d="M725.1 1190.1v-2" class="tm"/><path d="M748.8 1190.1v-2" class="tm"/><rect x="21.4" y="1087.3" width="739.1" height="102.8" class="fr"/><path d="M144.6 1087.3V1190.1" class="fr"/><path d="M267.8 1087.3V1190.1" class="fr"/><path d="M390.9 1087.3V1190.1" class="fr"/><path d="M514.1 1087.3V1190.1" class="fr"/><path d="M637.3 1087.3V1190.1" class="fr"/><text x="19.6" y="1098.9" class="tk" text-anchor="end">100</text><path d="M21.4 1095.1h2" class="tm"/><text x="19.6" y="1116.7" class="tk" text-anchor="end">80</text><path d="M21.4 1112.9h2" class="tm"/><text x="19.6" y="1134.6" class="tk" text-anchor="end">60</text><path d="M21.4 1130.8h2" class="tm"/><text x="19.6" y="1152.5" class="tk" text-anchor="end">40</text><path d="M21.4 1148.7h2" class="tm"/><text x="19.6" y="1170.3" class="tk" text-anchor="end">20</text><path d="M21.4 1166.5h2" class="tm"/><text x="19.6" y="1188.2" class="tk" text-anchor="end">0</text><path d="M21.4 1184.4h2" class="tm"/><text x="390.3" y="1242.6" class="cap" text-anchor="middle">(g) Opsahl-powergrid</text></g>
</svg>
</body></html>
